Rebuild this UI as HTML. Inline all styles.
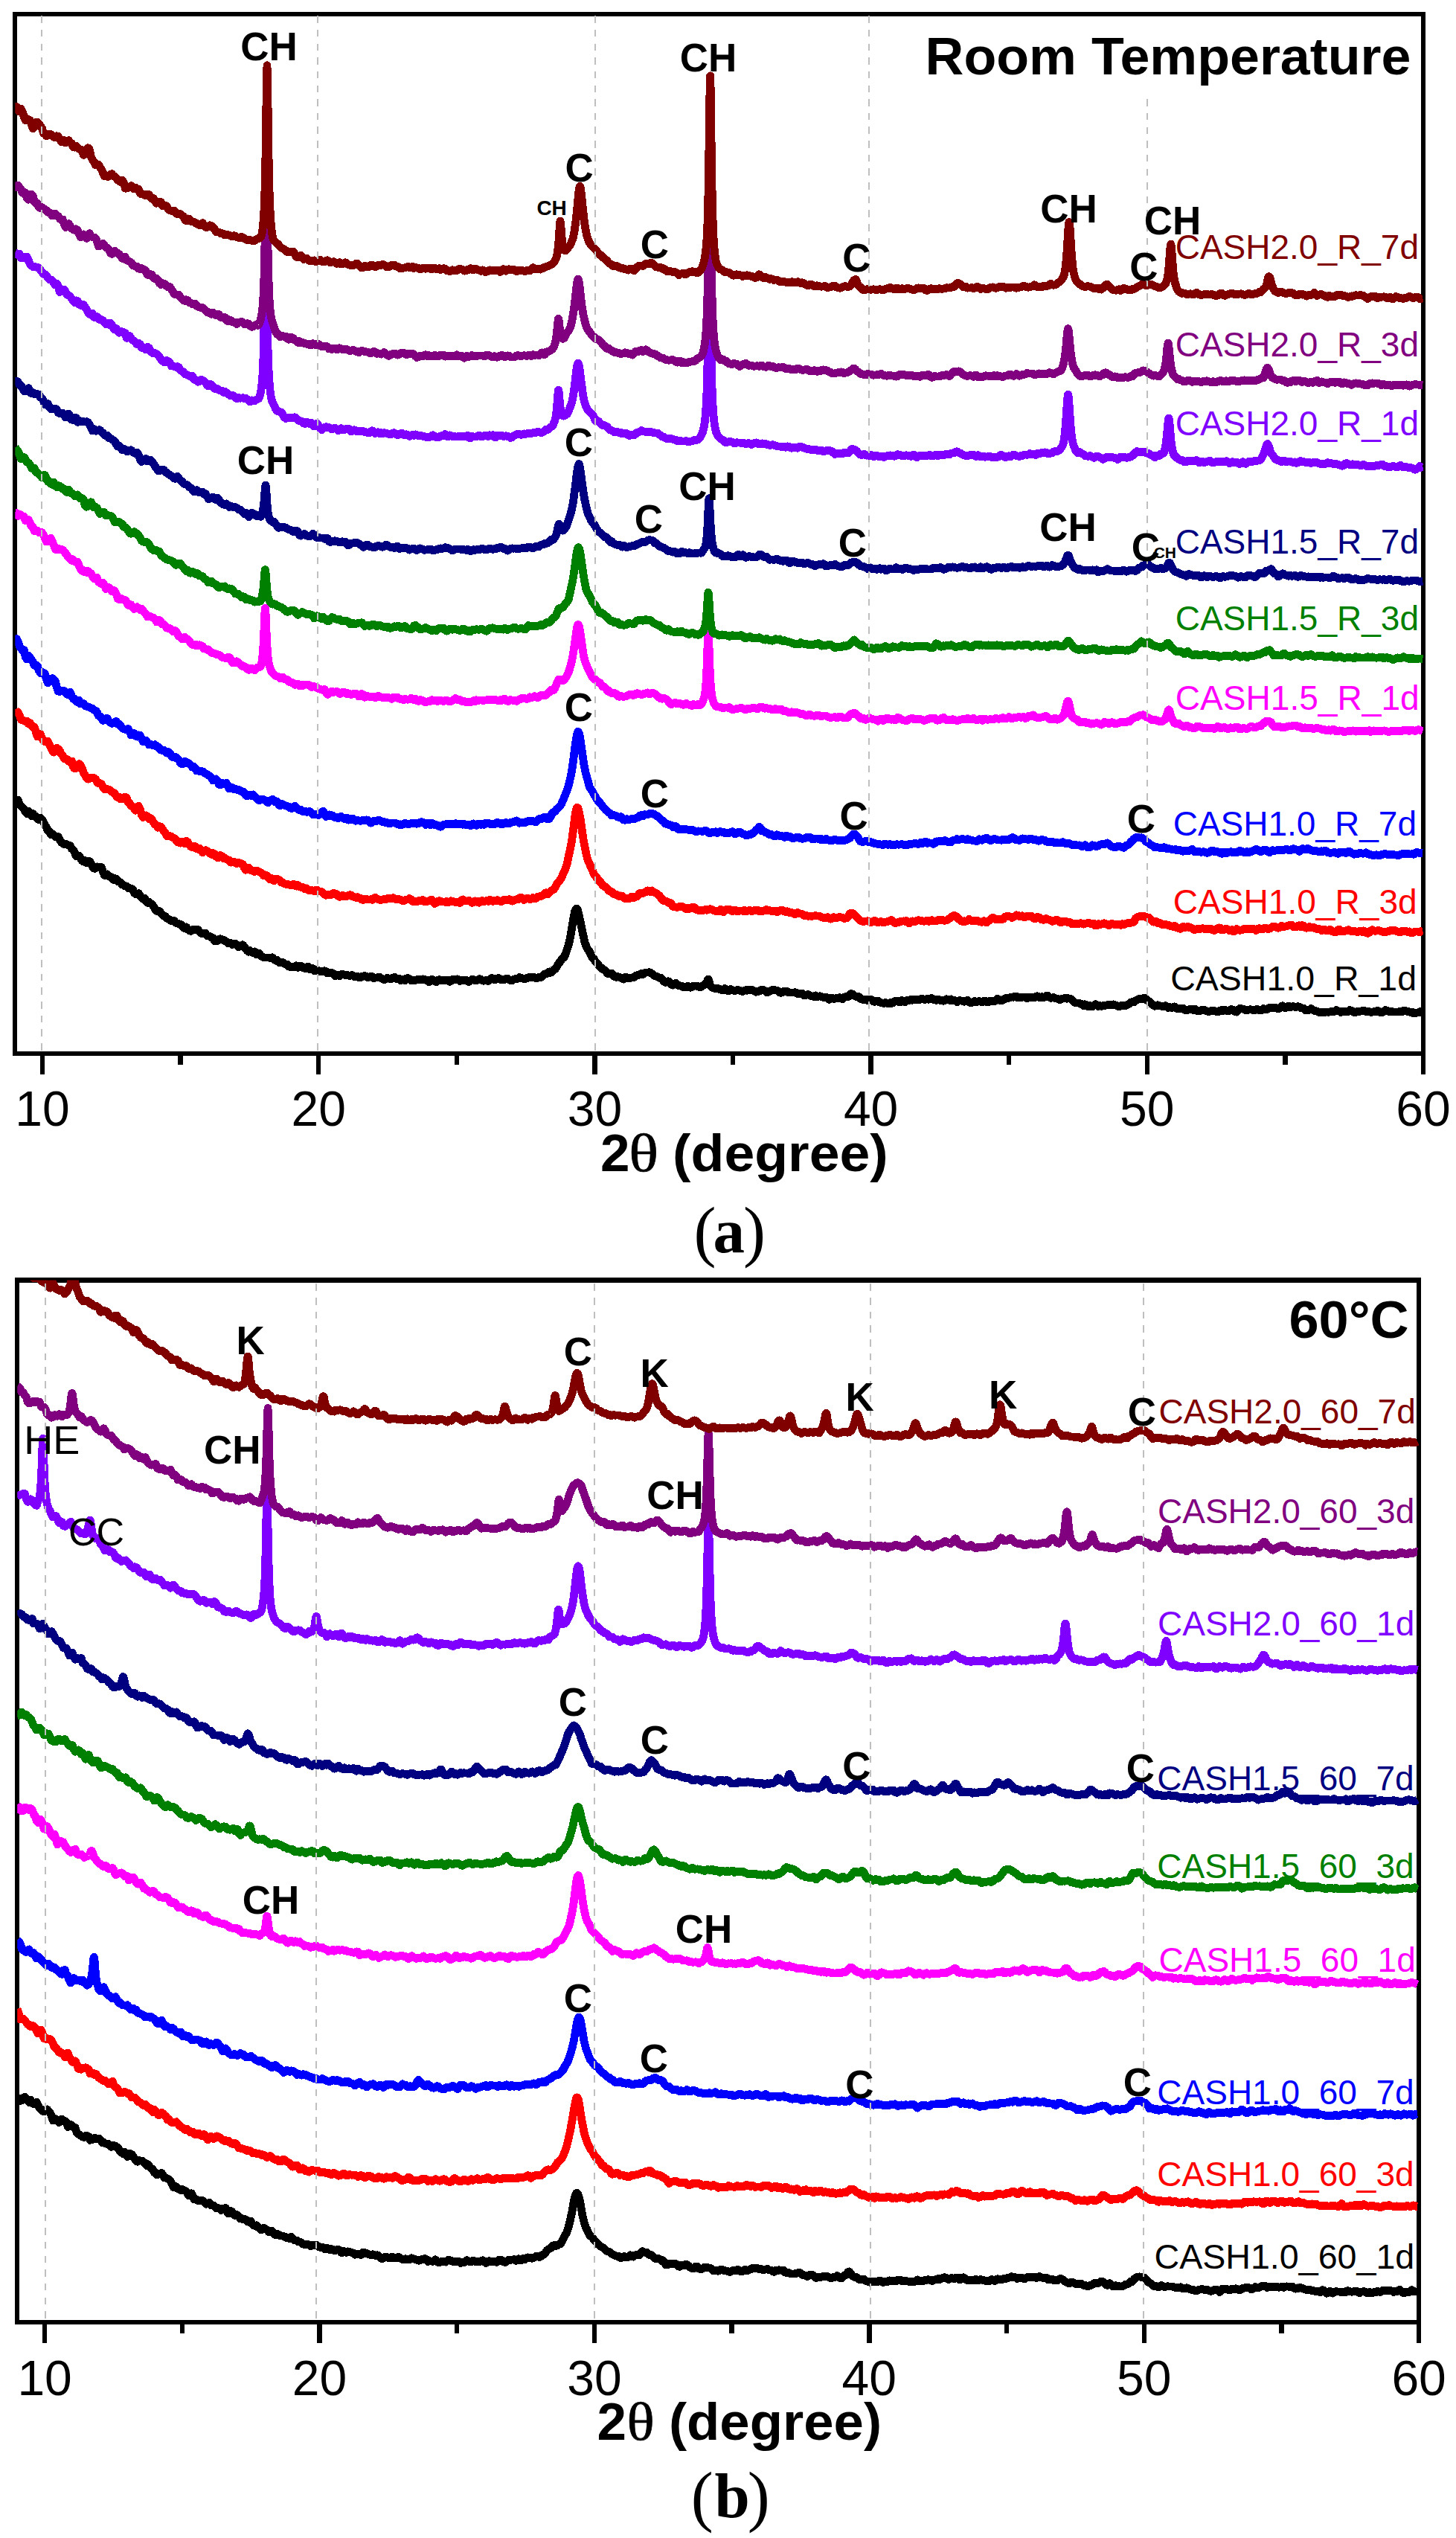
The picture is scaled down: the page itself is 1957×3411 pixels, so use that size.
<!DOCTYPE html>
<html lang="en"><head><meta charset="utf-8"><title>XRD patterns</title>
<style>
html,body{margin:0;padding:0;background:#fff;}
body{width:1957px;height:3411px;overflow:hidden;}
svg{display:block;}
text{font-family:"Liberation Sans",sans-serif;}
.b{font-weight:bold;}
.sf{font-family:"Liberation Serif",serif;}
.cv{fill:none;stroke-width:10.8;stroke-linejoin:round;stroke-linecap:butt;}
.gr{stroke:#bfbfbf;stroke-width:2;stroke-dasharray:9.5 9.16;fill:none;}
.ax{stroke:#000;stroke-width:6.4;fill:none;}
</style></head><body>
<svg width="1957" height="3411" viewBox="0 0 1957 3411" shape-rendering="crispEdges">
<rect width="1957" height="3411" fill="#fff"/>

<clipPath id="clipa"><rect x="20.3" y="19.3" width="1892.7" height="1396.7"/></clipPath>
<rect class="ax" x="20.3" y="19.3" width="1892.7" height="1396.7"/>
<g>
<text x="1579.7" y="348.0" fill="#800000" font-size="46">CASH2.0_R_7d</text>
<text x="1579.7" y="479.4" fill="#800080" font-size="46">CASH2.0_R_3d</text>
<text x="1579.7" y="584.6" fill="#8000FF" font-size="46">CASH2.0_R_1d</text>
<text x="1579.7" y="744.3" fill="#000080" font-size="46">CASH1.5_R_7d</text>
<text x="1579.7" y="847.3" fill="#008000" font-size="46">CASH1.5_R_3d</text>
<text x="1579.7" y="954.4" fill="#FF00FF" font-size="46.1">CASH1.5_R_1d</text>
<text x="1576.7" y="1122.5" fill="#0000FF" font-size="46">CASH1.0_R_7d</text>
<text x="1576.7" y="1227.5" fill="#FF0000" font-size="46.1">CASH1.0_R_3d</text>
<text x="1573.2" y="1330.5" fill="#000000" font-size="46.5">CASH1.0_R_1d</text>
</g>
<g clip-path="url(#clipa)">
<polyline class="cv" stroke="#000000" points="20.3,1075.0 22.3,1075.4 24.3,1075.3 26.3,1080.7 28.3,1083.5 30.3,1085.1 32.3,1087.7 34.3,1091.2 36.3,1093.7 38.3,1090.0 40.3,1092.2 42.3,1096.6 44.3,1093.7 46.3,1096.3 48.3,1097.4 50.3,1100.5 52.3,1101.9 54.3,1099.2 56.3,1101.3 58.3,1104.5 60.3,1108.4 62.3,1111.5 64.3,1116.5 66.3,1117.3 68.3,1121.4 70.3,1120.7 72.3,1122.3 74.3,1124.5 76.3,1125.0 78.3,1124.7 80.3,1129.0 82.3,1131.9 84.3,1133.3 86.3,1134.8 88.3,1134.0 90.3,1135.4 92.3,1136.0 94.3,1136.3 96.3,1140.9 98.3,1141.9 100.3,1145.4 102.3,1150.6 104.3,1149.7 106.3,1150.1 108.3,1153.8 110.3,1156.9 112.3,1158.0 114.3,1156.5 116.3,1159.9 118.3,1158.8 120.3,1157.5 122.3,1160.1 124.3,1165.0 126.3,1167.1 128.3,1167.2 130.3,1164.9 132.3,1165.3 134.3,1165.1 136.3,1165.7 138.3,1171.1 140.3,1176.3 142.3,1176.3 144.3,1174.9 146.3,1177.7 148.3,1177.9 150.3,1179.9 152.3,1182.2 154.3,1180.8 156.3,1181.0 158.3,1184.5 160.3,1185.0 162.3,1186.0 164.3,1189.0 166.3,1189.8 168.3,1190.9 170.3,1191.2 172.3,1193.5 174.3,1193.6 176.3,1194.3 178.3,1194.9 180.3,1200.1 182.3,1201.5 184.3,1201.6 186.3,1200.7 188.3,1203.7 190.3,1206.1 192.3,1208.5 194.3,1207.0 196.3,1210.7 198.3,1213.5 200.3,1212.2 202.3,1213.9 204.3,1215.3 206.3,1218.2 208.3,1221.5 210.3,1224.4 212.3,1224.2 214.3,1224.4 216.3,1227.2 218.3,1229.0 220.3,1231.1 222.3,1231.8 224.3,1234.4 226.3,1234.9 228.3,1236.2 230.3,1237.6 232.3,1236.9 234.3,1237.8 236.3,1240.0 238.3,1241.0 240.3,1241.8 242.3,1242.0 244.3,1243.4 246.3,1246.6 248.3,1247.9 250.3,1245.8 252.3,1249.0 254.3,1250.4 256.3,1251.4 258.3,1250.2 260.3,1249.1 262.3,1249.8 264.3,1249.4 266.3,1249.5 268.3,1252.5 270.3,1254.3 272.3,1254.5 274.3,1255.0 276.3,1254.4 278.3,1257.6 280.3,1257.8 282.3,1258.6 284.3,1259.9 286.3,1260.6 288.3,1264.7 290.3,1265.0 292.3,1264.2 294.3,1262.4 296.3,1261.8 298.3,1263.2 300.3,1263.1 302.3,1264.3 304.3,1265.7 306.3,1267.5 308.3,1267.3 310.3,1267.7 312.3,1269.5 314.3,1268.7 316.3,1268.3 318.3,1269.8 320.3,1272.6 322.3,1272.2 324.3,1271.0 326.3,1269.9 328.3,1272.0 330.3,1275.3 332.3,1277.8 334.3,1279.2 336.3,1277.8 338.3,1279.6 340.3,1280.5 342.3,1278.9 344.3,1282.7 346.3,1280.8 348.3,1281.2 350.3,1284.5 352.3,1285.6 354.3,1286.8 356.3,1287.0 358.3,1286.9 360.3,1286.9 362.3,1287.0 364.3,1288.0 366.3,1286.9 368.3,1289.0 370.3,1290.8 372.3,1290.2 374.3,1292.8 376.3,1294.1 378.3,1293.5 380.3,1293.5 382.3,1295.2 384.3,1295.8 386.3,1296.3 388.3,1299.1 390.3,1299.7 392.3,1299.4 394.3,1299.9 396.3,1299.2 398.3,1297.9 400.3,1300.4 402.3,1298.2 404.3,1298.5 406.3,1298.9 408.3,1301.0 410.3,1301.8 412.3,1300.9 414.3,1298.9 416.3,1302.6 418.3,1302.8 420.3,1301.6 422.3,1304.7 424.3,1304.6 426.3,1303.8 428.3,1305.1 430.3,1305.2 432.3,1306.0 434.3,1305.7 436.3,1304.8 438.3,1305.4 440.3,1308.0 442.3,1308.1 444.3,1307.1 446.3,1307.5 448.3,1308.7 450.3,1311.7 452.3,1311.0 454.3,1310.8 456.3,1311.8 458.3,1310.0 460.3,1309.1 462.3,1310.0 464.3,1310.8 466.3,1310.8 468.3,1310.9 470.3,1311.5 472.3,1310.8 474.3,1310.9 476.3,1312.5 478.3,1312.2 480.3,1312.3 482.3,1313.7 484.3,1313.8 486.3,1312.3 488.3,1312.1 490.3,1311.6 492.3,1312.2 494.3,1313.6 496.3,1313.2 498.3,1312.3 500.3,1312.7 502.3,1314.9 504.3,1314.0 506.3,1313.9 508.3,1313.5 510.3,1313.3 512.3,1314.5 514.3,1315.6 516.3,1316.9 518.3,1316.1 520.3,1314.4 522.3,1315.0 524.3,1315.7 526.3,1315.5 528.3,1313.9 530.3,1313.4 532.3,1315.2 534.3,1315.9 536.3,1315.3 538.3,1317.7 540.3,1317.0 542.3,1316.4 544.3,1317.5 546.3,1315.0 548.3,1314.6 550.3,1315.7 552.3,1317.6 554.3,1316.9 556.3,1317.7 558.3,1317.4 560.3,1316.6 562.3,1316.6 564.3,1316.2 566.3,1316.9 568.3,1315.9 570.3,1316.0 572.3,1317.3 574.3,1317.3 576.3,1319.5 578.3,1319.0 580.3,1316.2 582.3,1317.1 584.3,1318.1 586.3,1319.7 588.3,1317.5 590.3,1316.7 592.3,1317.2 594.3,1317.3 596.3,1316.9 598.3,1317.6 600.3,1317.1 602.3,1317.3 604.3,1319.3 606.3,1318.2 608.3,1316.4 610.3,1316.0 612.3,1316.6 614.3,1315.9 616.3,1316.4 618.3,1318.5 620.3,1317.9 622.3,1317.3 624.3,1317.7 626.3,1317.4 628.3,1318.3 630.3,1319.5 632.3,1317.9 634.3,1316.6 636.3,1316.5 638.3,1317.8 640.3,1317.7 642.3,1317.2 644.3,1315.7 646.3,1316.4 648.3,1317.6 650.3,1318.2 652.3,1317.8 654.3,1317.6 656.3,1318.5 658.3,1316.8 660.3,1314.6 662.3,1314.9 664.3,1316.5 666.3,1316.5 668.3,1314.8 670.3,1314.7 672.3,1316.2 674.3,1316.5 676.3,1316.6 678.3,1316.6 680.3,1315.6 682.3,1315.2 684.3,1316.9 686.3,1317.5 688.3,1317.7 690.3,1316.5 692.3,1315.8 694.3,1315.8 696.3,1315.0 698.3,1313.5 700.3,1314.5 702.3,1315.0 704.3,1315.5 706.3,1315.4 708.3,1314.6 710.3,1313.8 712.3,1313.2 714.3,1314.0 716.3,1313.7 718.3,1313.7 720.3,1314.8 722.3,1314.4 724.3,1313.4 726.3,1314.0 728.3,1312.8 730.3,1311.0 732.3,1309.0 734.3,1308.4 736.3,1308.2 738.3,1306.0 740.3,1307.2 742.3,1305.7 744.3,1303.3 746.3,1302.6 748.3,1299.5 750.3,1295.5 751,1294.7 752,1293.5 752.3,1293.2 753,1292.2 754,1290.6 754.3,1290.1 755,1289.4 756,1288.2 756.3,1287.8 757,1287.4 758,1286.9 758.3,1286.6 759,1284.9 760,1282.2 760.3,1281.3 761,1279.3 762,1276.3 762.3,1275.3 763,1273.4 764,1270.4 764.3,1269.5 765,1266.7 766,1262.3 766.3,1260.9 767,1257.2 768,1251.4 768.3,1249.6 769,1245.3 770,1239.0 770.3,1237.1 771,1233.1 772,1227.6 772.3,1226.1 773,1223.8 774,1221.8 774.3,1221.6 775,1221.0 776,1221.8 776.3,1222.5 777,1224.6 778,1228.9 778.3,1230.4 779,1233.6 780,1238.5 780.3,1239.9 781,1243.2 782,1247.7 782.3,1249.0 783,1252.6 784,1257.4 784.3,1258.7 785,1262.0 786,1266.3 786.3,1267.5 787,1269.3 788,1271.6 788.3,1272.2 789,1273.9 790,1276.0 790.3,1276.6 791,1277.4 792,1278.4 792.3,1278.7 793,1280.4 794,1282.6 794.3,1283.3 795,1284.8 796,1286.8 796.3,1287.4 797,1287.9 798,1288.5 798.3,1288.7 799,1290.1 800.3,1292.6 802.3,1294.2 804.3,1296.4 806.3,1299.6 808.3,1300.8 810.3,1302.8 812.3,1303.6 814.3,1305.5 816.3,1308.0 818.3,1309.0 820.3,1308.2 822.3,1308.2 824.3,1311.7 826.3,1312.4 828.3,1313.3 830.3,1312.7 832.3,1313.2 834.3,1314.3 836.3,1315.1 838.3,1316.0 840.3,1313.5 842.3,1313.7 844.3,1314.6 846.3,1314.6 848.3,1314.0 850.3,1313.7 852.3,1313.5 854.3,1311.6 856.3,1310.6 858.3,1310.3 860.3,1309.8 862.3,1308.4 864.3,1309.6 866.3,1308.0 868.3,1307.0 870.3,1307.1 872.3,1306.7 874.3,1307.1 876.3,1308.7 878.3,1310.6 880.3,1311.9 882.3,1312.1 884.3,1313.3 886.3,1314.4 888.3,1314.1 890.3,1316.2 892.3,1319.0 894.3,1320.4 896.3,1319.4 898.3,1318.8 900.3,1320.3 902.3,1323.1 904.3,1324.1 906.3,1322.4 908.3,1321.3 910.3,1323.3 912.3,1324.7 914.3,1324.9 916.3,1325.4 918.3,1326.6 920.3,1326.1 922.3,1326.8 924.3,1325.4 926.3,1326.6 928.3,1327.2 930.3,1326.4 932.3,1325.1 934.3,1325.1 936.3,1324.9 937,1325.3 937.5,1325.5 938,1325.7 938.3,1325.9 938.5,1326.0 939,1326.2 939.5,1326.4 940,1326.6 940.3,1326.7 940.5,1326.7 941,1326.6 941.5,1326.6 942,1326.6 942.3,1326.5 942.5,1326.4 943,1326.0 943.5,1325.5 944,1325.1 944.3,1324.8 944.5,1324.8 945,1324.6 945.5,1324.4 946,1324.2 946.3,1324.0 946.5,1323.9 947,1323.6 947.5,1323.2 948,1322.7 948.3,1322.3 948.5,1322.2 949,1321.8 949.5,1321.3 950,1320.4 950.3,1319.7 950.5,1319.2 951,1317.7 951.5,1316.5 952,1316.1 952.3,1316.4 952.5,1316.9 953,1318.7 953.5,1320.7 954,1322.5 954.3,1323.5 954.5,1323.9 955,1324.8 955.5,1325.5 956,1326.0 956.3,1326.2 956.5,1326.5 957,1326.9 957.5,1327.3 958,1327.6 958.3,1327.8 958.5,1327.9 959,1328.0 959.5,1328.0 960,1328.1 960.3,1328.1 960.5,1328.2 961,1328.4 961.5,1328.5 962,1328.7 962.3,1328.7 962.5,1328.8 963,1328.8 963.5,1328.8 964,1328.9 964.3,1328.9 964.5,1328.9 965,1328.9 965.5,1328.9 966,1328.8 966.3,1328.8 966.5,1329.0 967,1329.3 968.3,1330.2 970.3,1330.1 972.3,1330.8 974.3,1328.6 976.3,1329.9 978.3,1331.7 980.3,1331.4 982.3,1329.6 984.3,1330.8 986.3,1331.4 988.3,1331.4 990.3,1330.7 992.3,1330.5 994.3,1331.4 996.3,1332.1 998.3,1332.4 1000.3,1331.3 1002.3,1330.8 1004.3,1331.2 1006.3,1330.1 1008.3,1330.1 1010.3,1330.4 1012.3,1331.1 1014.3,1332.1 1016.3,1333.2 1018.3,1332.7 1020.3,1332.2 1022.3,1330.9 1024.3,1330.2 1026.3,1330.7 1028.3,1331.5 1030.3,1333.7 1032.3,1333.5 1034.3,1332.5 1036.3,1331.3 1038.3,1330.3 1040.3,1330.8 1042.3,1330.9 1044.3,1331.1 1046.3,1332.5 1048.3,1334.2 1050.3,1334.2 1052.3,1332.7 1054.3,1332.6 1056.3,1332.7 1058.3,1332.7 1060.3,1334.0 1062.3,1334.1 1064.3,1333.9 1066.3,1334.1 1068.3,1333.7 1070.3,1334.4 1072.3,1335.8 1074.3,1336.0 1076.3,1335.2 1078.3,1335.1 1080.3,1337.8 1082.3,1337.6 1084.3,1337.2 1086.3,1336.5 1088.3,1337.7 1090.3,1338.6 1092.3,1339.1 1094.3,1339.3 1096.3,1337.9 1098.3,1339.5 1100.3,1339.0 1102.3,1338.8 1104.3,1339.6 1106.3,1340.4 1108.3,1340.3 1110.3,1340.0 1112.3,1341.4 1114.3,1343.3 1116.3,1342.0 1118.3,1341.1 1120.3,1342.3 1122.3,1342.2 1124.3,1341.2 1126.3,1341.8 1128.3,1340.7 1130.3,1342.0 1132.3,1342.7 1134.3,1340.4 1136.3,1339.7 1138.3,1339.3 1140.3,1339.4 1142.3,1336.6 1144.3,1335.5 1146.3,1336.2 1148.3,1338.2 1150.3,1339.3 1152.3,1339.0 1154.3,1339.5 1156.3,1342.2 1158.3,1343.0 1160.3,1343.4 1162.3,1343.1 1164.3,1343.8 1166.3,1344.7 1168.3,1343.2 1170.3,1343.5 1172.3,1344.0 1174.3,1346.2 1176.3,1346.2 1178.3,1345.1 1180.3,1345.1 1182.3,1347.0 1184.3,1347.8 1186.3,1348.1 1188.3,1348.5 1190.3,1347.5 1192.3,1348.4 1194.3,1349.0 1196.3,1347.6 1198.3,1348.2 1200.3,1348.1 1202.3,1345.7 1204.3,1345.2 1206.3,1345.0 1208.3,1346.5 1210.3,1346.9 1212.3,1344.6 1214.3,1345.3 1216.3,1346.8 1218.3,1344.8 1220.3,1344.6 1222.3,1344.4 1224.3,1343.4 1226.3,1344.2 1228.3,1343.9 1230.3,1343.1 1232.3,1343.1 1234.3,1344.1 1236.3,1343.3 1238.3,1342.2 1240.3,1342.5 1242.3,1343.3 1244.3,1343.2 1246.3,1342.3 1248.3,1343.2 1250.3,1342.0 1252.3,1341.6 1254.3,1342.7 1256.3,1344.0 1258.3,1344.3 1260.3,1343.0 1262.3,1343.6 1264.3,1344.8 1266.3,1344.6 1268.3,1345.2 1270.3,1344.5 1272.3,1342.8 1274.3,1343.5 1276.3,1344.4 1278.3,1343.0 1280.3,1344.7 1282.3,1344.7 1284.3,1344.8 1286.3,1346.6 1288.3,1345.0 1290.3,1344.6 1292.3,1345.0 1294.3,1345.6 1296.3,1346.2 1298.3,1345.8 1300.3,1344.3 1302.3,1346.7 1304.3,1347.6 1306.3,1347.5 1308.3,1346.6 1310.3,1345.5 1312.3,1346.7 1314.3,1345.9 1316.3,1345.5 1318.3,1346.4 1320.3,1346.7 1322.3,1345.4 1324.3,1345.2 1326.3,1346.7 1328.3,1346.7 1330.3,1345.5 1332.3,1345.3 1334.3,1345.6 1336.3,1346.1 1338.3,1344.6 1340.3,1342.4 1342.3,1342.8 1344.3,1344.7 1346.3,1344.9 1348.3,1344.1 1350.3,1342.2 1352.3,1341.3 1354.3,1341.7 1356.3,1341.0 1358.3,1340.3 1360.3,1340.0 1362.3,1340.2 1364.3,1339.1 1366.3,1339.4 1368.3,1341.0 1370.3,1340.2 1372.3,1340.5 1374.3,1340.2 1376.3,1340.0 1378.3,1340.4 1380.3,1341.7 1382.3,1340.7 1384.3,1340.3 1386.3,1340.3 1388.3,1340.2 1390.3,1341.0 1392.3,1339.5 1394.3,1338.8 1396.3,1340.3 1398.3,1340.6 1400.3,1339.7 1402.3,1340.2 1404.3,1340.2 1406.3,1338.5 1408.3,1338.4 1410.3,1340.4 1412.3,1341.2 1414.3,1341.1 1416.3,1340.4 1418.3,1341.9 1420.3,1342.0 1422.3,1342.7 1424.3,1343.7 1426.3,1342.7 1428.3,1342.1 1430.3,1341.8 1432.3,1341.4 1434.3,1342.2 1436.3,1341.8 1438.3,1342.1 1440.3,1343.0 1442.3,1345.6 1444.3,1346.9 1446.3,1348.1 1448.3,1348.0 1450.3,1348.3 1452.3,1348.8 1454.3,1350.0 1456.3,1351.5 1458.3,1349.7 1460.3,1352.0 1462.3,1352.7 1464.3,1351.4 1466.3,1351.9 1468.3,1352.9 1470.3,1351.4 1472.3,1349.7 1474.3,1350.9 1476.3,1352.4 1478.3,1351.6 1480.3,1352.3 1482.3,1351.8 1484.3,1351.9 1486.3,1351.2 1488.3,1350.7 1490.3,1350.5 1492.3,1349.9 1494.3,1350.8 1496.3,1349.9 1498.3,1350.7 1500.3,1351.0 1502.3,1352.1 1504.3,1352.9 1506.3,1351.7 1508.3,1351.1 1510.3,1351.4 1512.3,1351.5 1514.3,1351.1 1516.3,1349.7 1518.3,1349.1 1520.3,1346.9 1522.3,1346.4 1524.3,1346.9 1526.3,1345.0 1528.3,1343.7 1530.3,1342.7 1532.3,1342.4 1534.3,1343.0 1536.3,1341.7 1538.3,1341.0 1540.3,1342.8 1542.3,1344.8 1544.3,1345.7 1546.3,1347.3 1548.3,1349.8 1550.3,1351.0 1552.3,1352.2 1554.3,1351.7 1556.3,1350.8 1558.3,1351.7 1560.3,1352.0 1562.3,1352.5 1564.3,1352.9 1566.3,1351.7 1568.3,1353.0 1570.3,1354.5 1572.3,1353.5 1574.3,1354.4 1576.3,1354.2 1578.3,1352.9 1580.3,1353.9 1582.3,1355.8 1584.3,1355.2 1586.3,1355.5 1588.3,1355.5 1590.3,1355.4 1592.3,1357.3 1594.3,1358.0 1596.3,1357.5 1598.3,1356.7 1600.3,1356.2 1602.3,1356.6 1604.3,1357.5 1606.3,1356.4 1608.3,1358.2 1610.3,1358.7 1612.3,1358.5 1614.3,1358.0 1616.3,1357.1 1618.3,1357.1 1620.3,1358.0 1622.3,1358.9 1624.3,1359.5 1626.3,1359.0 1628.3,1358.6 1630.3,1358.0 1632.3,1358.7 1634.3,1359.1 1636.3,1359.8 1638.3,1359.3 1640.3,1357.9 1642.3,1357.4 1644.3,1358.6 1646.3,1357.5 1648.3,1357.9 1650.3,1358.9 1652.3,1358.5 1654.3,1356.7 1656.3,1356.8 1658.3,1358.5 1660.3,1359.5 1662.3,1360.1 1664.3,1357.1 1666.3,1355.4 1668.3,1355.7 1670.3,1356.0 1672.3,1356.7 1674.3,1357.7 1676.3,1357.7 1678.3,1357.0 1680.3,1356.7 1682.3,1357.1 1684.3,1357.1 1686.3,1357.6 1688.3,1356.8 1690.3,1356.5 1692.3,1357.8 1694.3,1358.0 1696.3,1357.4 1698.3,1355.6 1700.3,1356.5 1702.3,1357.1 1704.3,1355.6 1706.3,1354.3 1708.3,1354.4 1710.3,1355.0 1712.3,1354.4 1714.3,1354.4 1716.3,1355.2 1718.3,1356.0 1720.3,1355.0 1722.3,1352.3 1724.3,1351.8 1726.3,1354.4 1728.3,1354.6 1730.3,1352.9 1732.3,1352.1 1734.3,1353.8 1736.3,1353.0 1738.3,1352.5 1740.3,1353.4 1742.3,1353.6 1744.3,1352.6 1746.3,1353.1 1748.3,1354.5 1750.3,1354.9 1752.3,1354.9 1754.3,1357.7 1756.3,1358.0 1758.3,1357.6 1760.3,1356.8 1762.3,1355.5 1764.3,1357.1 1766.3,1358.3 1768.3,1358.5 1770.3,1359.1 1772.3,1360.0 1774.3,1361.1 1776.3,1360.8 1778.3,1359.9 1780.3,1360.6 1782.3,1360.0 1784.3,1360.1 1786.3,1360.2 1788.3,1359.8 1790.3,1359.5 1792.3,1359.9 1794.3,1359.2 1796.3,1357.5 1798.3,1358.5 1800.3,1359.1 1802.3,1360.5 1804.3,1359.8 1806.3,1359.1 1808.3,1359.7 1810.3,1360.0 1812.3,1359.3 1814.3,1357.5 1816.3,1358.3 1818.3,1359.0 1820.3,1360.7 1822.3,1360.4 1824.3,1359.5 1826.3,1359.3 1828.3,1359.2 1830.3,1358.7 1832.3,1358.3 1834.3,1358.5 1836.3,1359.9 1838.3,1359.0 1840.3,1359.7 1842.3,1360.4 1844.3,1360.1 1846.3,1359.7 1848.3,1359.7 1850.3,1358.8 1852.3,1358.7 1854.3,1360.3 1856.3,1360.5 1858.3,1360.6 1860.3,1359.2 1862.3,1357.6 1864.3,1358.2 1866.3,1359.1 1868.3,1360.0 1870.3,1359.3 1872.3,1360.0 1874.3,1360.0 1876.3,1360.0 1878.3,1360.1 1880.3,1359.9 1882.3,1359.2 1884.3,1359.8 1886.3,1358.2 1888.3,1358.4 1890.3,1358.9 1892.3,1359.8 1894.3,1359.8 1896.3,1360.7 1898.3,1360.2 1900.3,1362.0 1902.3,1361.6 1904.3,1361.0 1906.3,1360.7 1908.3,1360.3 1910.3,1358.9 1912.3,1358.5"/>
<polyline class="cv" stroke="#FF0000" points="20.3,953.4 22.3,957.1 24.3,957.2 26.3,961.6 28.3,967.0 30.3,968.0 32.3,968.7 34.3,969.7 36.3,969.3 38.3,972.8 40.3,971.7 42.3,974.7 44.3,977.2 46.3,977.3 48.3,983.9 50.3,990.1 52.3,987.8 54.3,986.7 56.3,991.5 58.3,995.4 60.3,996.5 62.3,996.4 64.3,996.1 66.3,1000.9 68.3,1005.0 70.3,1008.9 72.3,1011.0 74.3,1009.5 76.3,1005.4 78.3,1006.5 80.3,1009.1 82.3,1013.3 84.3,1015.1 86.3,1019.8 88.3,1020.1 90.3,1020.8 92.3,1023.3 94.3,1022.9 96.3,1022.9 98.3,1030.4 100.3,1032.9 102.3,1032.4 104.3,1028.4 106.3,1026.6 108.3,1028.6 110.3,1032.7 112.3,1038.4 114.3,1041.6 116.3,1045.2 118.3,1047.1 120.3,1046.1 122.3,1045.6 124.3,1045.5 126.3,1045.7 128.3,1046.8 130.3,1050.9 132.3,1052.9 134.3,1052.7 136.3,1053.6 138.3,1058.0 140.3,1060.7 142.3,1060.7 144.3,1060.8 146.3,1061.0 148.3,1062.3 150.3,1064.1 152.3,1065.0 154.3,1066.3 156.3,1069.8 158.3,1071.8 160.3,1071.2 162.3,1074.1 164.3,1074.0 166.3,1073.2 168.3,1071.0 170.3,1072.6 172.3,1078.6 174.3,1079.8 176.3,1083.0 178.3,1084.4 180.3,1086.6 182.3,1089.2 184.3,1087.0 186.3,1083.2 188.3,1087.2 190.3,1095.1 192.3,1098.6 194.3,1096.8 196.3,1095.9 198.3,1097.4 200.3,1100.5 202.3,1099.6 204.3,1101.5 206.3,1105.4 208.3,1107.9 210.3,1109.5 212.3,1112.2 214.3,1110.6 216.3,1111.3 218.3,1114.5 220.3,1117.0 222.3,1119.7 224.3,1123.5 226.3,1122.9 228.3,1123.7 230.3,1124.3 232.3,1125.6 234.3,1126.6 236.3,1128.5 238.3,1131.6 240.3,1131.6 242.3,1133.0 244.3,1131.3 246.3,1132.0 248.3,1133.9 250.3,1130.3 252.3,1131.5 254.3,1135.3 256.3,1137.8 258.3,1138.5 260.3,1137.4 262.3,1137.5 264.3,1140.8 266.3,1141.3 268.3,1140.2 270.3,1142.9 272.3,1145.8 274.3,1144.4 276.3,1142.7 278.3,1143.8 280.3,1145.3 282.3,1147.3 284.3,1148.3 286.3,1146.5 288.3,1147.5 290.3,1150.8 292.3,1152.5 294.3,1152.4 296.3,1149.6 298.3,1150.6 300.3,1153.6 302.3,1153.1 304.3,1154.7 306.3,1155.6 308.3,1156.3 310.3,1159.1 312.3,1158.5 314.3,1158.2 316.3,1159.6 318.3,1160.5 320.3,1159.3 322.3,1160.2 324.3,1160.5 326.3,1161.5 328.3,1166.4 330.3,1169.2 332.3,1168.6 334.3,1166.1 336.3,1168.6 338.3,1170.1 340.3,1170.1 342.3,1171.5 344.3,1170.4 346.3,1170.5 348.3,1171.9 350.3,1172.8 352.3,1174.3 354.3,1176.8 356.3,1175.8 358.3,1176.5 360.3,1178.4 362.3,1181.7 364.3,1180.2 366.3,1182.0 368.3,1183.7 370.3,1181.3 372.3,1181.2 374.3,1182.3 376.3,1183.2 378.3,1186.1 380.3,1186.3 382.3,1187.8 384.3,1188.2 386.3,1188.2 388.3,1189.2 390.3,1189.1 392.3,1189.8 394.3,1188.2 396.3,1189.4 398.3,1191.1 400.3,1189.7 402.3,1191.8 404.3,1192.2 406.3,1192.0 408.3,1193.1 410.3,1195.0 412.3,1194.0 414.3,1196.3 416.3,1196.9 418.3,1196.3 420.3,1196.9 422.3,1197.8 424.3,1196.5 426.3,1196.1 428.3,1198.1 430.3,1198.0 432.3,1198.7 434.3,1200.0 436.3,1201.9 438.3,1203.2 440.3,1202.1 442.3,1201.9 444.3,1202.7 446.3,1202.0 448.3,1200.2 450.3,1200.9 452.3,1201.6 454.3,1203.9 456.3,1205.3 458.3,1204.1 460.3,1203.2 462.3,1204.6 464.3,1204.0 466.3,1204.4 468.3,1203.5 470.3,1202.7 472.3,1203.3 474.3,1205.1 476.3,1205.6 478.3,1206.4 480.3,1205.7 482.3,1207.0 484.3,1207.4 486.3,1209.2 488.3,1209.3 490.3,1208.3 492.3,1208.4 494.3,1209.0 496.3,1209.0 498.3,1208.8 500.3,1209.4 502.3,1207.6 504.3,1206.3 506.3,1208.0 508.3,1208.7 510.3,1209.4 512.3,1209.4 514.3,1208.9 516.3,1208.8 518.3,1208.8 520.3,1207.9 522.3,1207.2 524.3,1207.8 526.3,1208.1 528.3,1206.8 530.3,1208.0 532.3,1208.5 534.3,1209.0 536.3,1208.7 538.3,1209.2 540.3,1209.8 542.3,1210.9 544.3,1209.6 546.3,1209.1 548.3,1208.8 550.3,1207.5 552.3,1208.6 554.3,1211.4 556.3,1211.5 558.3,1211.1 560.3,1211.7 562.3,1210.8 564.3,1210.5 566.3,1210.2 568.3,1209.6 570.3,1211.6 572.3,1211.5 574.3,1211.3 576.3,1210.8 578.3,1209.9 580.3,1209.1 582.3,1211.8 584.3,1214.4 586.3,1213.4 588.3,1211.4 590.3,1210.7 592.3,1211.4 594.3,1212.0 596.3,1212.0 598.3,1212.3 600.3,1211.5 602.3,1212.6 604.3,1211.8 606.3,1210.8 608.3,1211.2 610.3,1212.0 612.3,1212.6 614.3,1212.2 616.3,1212.9 618.3,1213.4 620.3,1209.8 622.3,1208.9 624.3,1211.0 626.3,1211.0 628.3,1211.0 630.3,1210.3 632.3,1211.7 634.3,1213.3 636.3,1213.0 638.3,1210.9 640.3,1211.4 642.3,1212.9 644.3,1213.2 646.3,1210.9 648.3,1210.6 650.3,1212.0 652.3,1211.1 654.3,1210.5 656.3,1211.3 658.3,1209.4 660.3,1209.8 662.3,1211.3 664.3,1210.6 666.3,1210.6 668.3,1209.6 670.3,1210.8 672.3,1211.2 674.3,1211.5 676.3,1209.9 678.3,1209.3 680.3,1209.8 682.3,1210.1 684.3,1208.7 686.3,1209.1 688.3,1211.1 690.3,1210.4 692.3,1209.5 694.3,1208.6 696.3,1208.7 698.3,1207.0 700.3,1206.2 702.3,1207.3 704.3,1209.4 706.3,1208.5 708.3,1207.1 710.3,1207.5 712.3,1208.5 714.3,1208.3 716.3,1206.5 718.3,1207.7 720.3,1207.5 722.3,1205.5 724.3,1204.9 726.3,1205.0 728.3,1203.9 730.3,1202.8 732.3,1200.6 734.3,1199.8 736.3,1201.9 738.3,1199.8 740.3,1197.6 742.3,1196.4 744.3,1195.2 746.3,1192.4 748.3,1188.3 750.3,1185.9 752,1183.9 752.3,1183.5 753,1182.5 754,1180.9 754.3,1180.4 755,1178.8 756,1176.4 756.3,1175.6 757,1174.3 758,1172.3 758.3,1171.7 759,1170.1 760,1167.7 760.3,1167.0 761,1164.8 762,1161.4 762.3,1160.3 763,1157.0 764,1151.8 764.3,1150.1 765,1147.4 766,1143.1 766.3,1141.7 767,1138.3 768,1132.8 768.3,1131.0 769,1126.3 770,1119.2 770.3,1116.9 771,1111.4 772,1103.5 772.3,1101.2 773,1096.2 774,1090.1 774.3,1088.6 775,1086.4 776,1085.3 776.3,1085.5 777,1086.4 778,1089.7 778.3,1091.1 779,1094.4 780,1100.2 780.3,1102.1 781,1106.9 782,1113.8 782.3,1115.8 783,1120.9 784,1127.7 784.3,1129.6 785,1133.4 786,1138.3 786.3,1139.6 787,1143.2 788,1147.8 788.3,1149.1 789,1151.9 790,1155.6 790.3,1156.7 791,1158.3 792,1160.4 792.3,1161.0 793,1162.5 794,1164.5 794.3,1165.1 795,1166.7 796,1169.0 796.3,1169.6 797,1171.3 798,1173.8 798.3,1174.5 799,1175.6 800,1177.2 800.3,1177.6 802.3,1179.8 804.3,1182.6 806.3,1184.8 808.3,1186.9 810.3,1190.0 812.3,1191.5 814.3,1192.4 816.3,1194.1 818.3,1197.3 820.3,1197.9 822.3,1198.6 824.3,1200.9 826.3,1202.2 828.3,1201.9 830.3,1203.9 832.3,1204.8 834.3,1203.9 836.3,1204.2 838.3,1206.1 840.3,1207.9 842.3,1207.2 844.3,1207.7 846.3,1207.4 848.3,1205.4 850.3,1206.2 852.3,1206.4 854.3,1205.1 856.3,1204.8 858.3,1202.2 860.3,1200.3 862.3,1200.5 864.3,1200.6 866.3,1199.5 868.3,1198.9 870.3,1196.9 872.3,1197.6 874.3,1198.8 876.3,1197.0 878.3,1198.8 880.3,1199.7 882.3,1200.8 884.3,1202.3 886.3,1203.5 888.3,1206.8 890.3,1208.9 892.3,1210.8 894.3,1211.1 896.3,1211.7 898.3,1213.3 900.3,1213.0 902.3,1214.7 904.3,1218.3 906.3,1218.9 908.3,1218.9 910.3,1219.4 912.3,1218.8 914.3,1218.9 916.3,1218.3 918.3,1218.9 920.3,1220.3 922.3,1221.5 924.3,1220.6 926.3,1221.5 928.3,1220.8 930.3,1219.1 932.3,1218.9 934.3,1220.9 936.3,1222.7 938.3,1223.2 940.3,1224.1 942.3,1223.6 944.3,1223.9 946.3,1223.0 948.3,1222.3 950.3,1223.2 952.3,1222.3 954.3,1221.6 956.3,1222.4 958.3,1223.1 960.3,1223.9 962.3,1224.6 964.3,1224.9 966.3,1224.8 968.3,1222.3 970.3,1223.7 972.3,1225.8 974.3,1223.6 976.3,1222.1 978.3,1222.3 980.3,1222.4 982.3,1223.5 984.3,1224.8 986.3,1223.0 988.3,1223.2 990.3,1224.9 992.3,1224.6 994.3,1223.9 996.3,1223.9 998.3,1224.3 1000.3,1223.4 1002.3,1224.5 1004.3,1224.3 1006.3,1223.6 1008.3,1223.7 1010.3,1224.6 1012.3,1224.2 1014.3,1223.5 1016.3,1223.3 1018.3,1222.9 1020.3,1224.6 1022.3,1225.1 1024.3,1224.8 1026.3,1224.1 1028.3,1223.6 1030.3,1222.5 1032.3,1223.1 1034.3,1223.8 1036.3,1224.1 1038.3,1224.8 1040.3,1224.1 1042.3,1224.3 1044.3,1225.6 1046.3,1225.0 1048.3,1223.9 1050.3,1223.0 1052.3,1223.5 1054.3,1225.1 1056.3,1225.6 1058.3,1224.8 1060.3,1226.1 1062.3,1227.0 1064.3,1226.7 1066.3,1227.7 1068.3,1228.8 1070.3,1227.2 1072.3,1226.6 1074.3,1227.6 1076.3,1228.0 1078.3,1228.7 1080.3,1230.2 1082.3,1230.5 1084.3,1230.6 1086.3,1231.3 1088.3,1231.0 1090.3,1231.3 1092.3,1231.2 1094.3,1230.9 1096.3,1230.6 1098.3,1231.1 1100.3,1230.9 1102.3,1231.7 1104.3,1232.6 1106.3,1233.4 1108.3,1233.2 1110.3,1233.5 1112.3,1232.6 1114.3,1233.6 1116.3,1235.1 1118.3,1234.2 1120.3,1232.7 1122.3,1233.7 1124.3,1233.9 1126.3,1233.1 1128.3,1232.4 1130.3,1232.8 1132.3,1233.1 1134.3,1234.3 1136.3,1234.2 1138.3,1233.7 1140.3,1231.7 1142.3,1227.6 1144.3,1227.0 1146.3,1227.8 1148.3,1229.2 1150.3,1231.3 1152.3,1233.4 1154.3,1235.4 1156.3,1236.9 1158.3,1238.2 1160.3,1238.3 1162.3,1238.2 1164.3,1238.0 1166.3,1237.8 1168.3,1238.6 1170.3,1239.5 1172.3,1239.0 1174.3,1237.6 1176.3,1237.5 1178.3,1239.3 1180.3,1239.7 1182.3,1239.2 1184.3,1238.6 1186.3,1239.6 1188.3,1239.8 1190.3,1239.0 1192.3,1238.9 1194.3,1237.9 1196.3,1237.6 1198.3,1236.5 1200.3,1238.0 1202.3,1240.4 1204.3,1240.1 1206.3,1240.1 1208.3,1239.1 1210.3,1238.5 1212.3,1238.1 1214.3,1237.9 1216.3,1238.2 1218.3,1237.5 1220.3,1238.8 1222.3,1241.0 1224.3,1239.2 1226.3,1237.9 1228.3,1238.8 1230.3,1238.5 1232.3,1237.4 1234.3,1236.7 1236.3,1237.1 1238.3,1237.3 1240.3,1237.9 1242.3,1238.2 1244.3,1237.9 1246.3,1237.2 1248.3,1238.3 1250.3,1237.8 1252.3,1236.7 1254.3,1237.7 1256.3,1238.0 1258.3,1237.8 1259.5,1237.1 1260.3,1236.6 1260.5,1236.6 1261.5,1236.7 1262.3,1236.8 1262.5,1236.8 1263.5,1236.7 1264.3,1236.7 1264.5,1236.6 1265.5,1236.5 1266.3,1236.4 1266.5,1236.5 1267.5,1236.8 1268.3,1237.1 1268.5,1237.1 1269.5,1237.2 1270.3,1237.2 1270.5,1237.2 1271.5,1237.0 1272.3,1236.9 1272.5,1236.8 1273.5,1236.1 1274.3,1235.5 1274.5,1235.4 1275.5,1234.7 1276.3,1234.2 1276.5,1234.1 1277.5,1233.5 1278.3,1233.0 1278.5,1232.8 1279.5,1231.9 1280.3,1231.1 1280.5,1231.1 1281.5,1230.7 1282.3,1230.5 1282.5,1230.5 1283.5,1230.6 1284.3,1231.0 1284.5,1231.1 1285.5,1231.9 1286.3,1232.9 1286.5,1233.1 1287.5,1234.1 1288.3,1234.9 1288.5,1235.1 1289.5,1236.0 1290.3,1236.6 1290.5,1236.8 1291.5,1237.5 1292.3,1238.0 1292.5,1238.1 1293.5,1238.4 1294.3,1238.6 1294.5,1238.6 1295.5,1238.2 1296.3,1237.8 1296.5,1237.9 1297.5,1238.0 1298.3,1238.2 1298.5,1238.1 1299.5,1237.7 1300.3,1237.4 1300.5,1237.2 1301.5,1236.2 1302.3,1235.4 1302.5,1235.5 1303.5,1236.3 1304.3,1236.8 1304.5,1236.9 1305.5,1237.4 1306.3,1237.8 1306.5,1237.8 1307.5,1237.9 1308.3,1237.9 1308.5,1237.8 1309.5,1237.5 1310.3,1237.2 1312.3,1237.0 1314.3,1237.7 1316.3,1238.8 1318.3,1239.1 1320.3,1239.2 1322.3,1237.8 1324.3,1239.3 1326.3,1239.7 1328.3,1237.6 1330.3,1236.9 1332.3,1234.9 1334.3,1233.4 1336.3,1234.4 1338.3,1235.9 1340.3,1235.9 1342.3,1235.3 1344.3,1235.4 1346.3,1235.5 1348.3,1235.3 1350.3,1232.5 1352.3,1231.7 1354.3,1231.7 1356.3,1231.5 1358.3,1232.1 1360.3,1233.5 1362.3,1232.1 1364.3,1231.3 1366.3,1229.8 1368.3,1230.2 1370.3,1231.8 1372.3,1231.8 1374.3,1230.8 1376.3,1232.8 1378.3,1232.3 1380.3,1231.4 1382.3,1232.1 1384.3,1231.6 1386.3,1231.4 1388.3,1233.3 1390.3,1234.7 1392.3,1234.4 1394.3,1232.4 1396.3,1232.8 1398.3,1234.3 1400.3,1236.0 1402.3,1236.3 1404.3,1234.9 1406.3,1234.4 1408.3,1235.7 1410.3,1236.1 1412.3,1237.3 1414.3,1238.4 1416.3,1237.9 1418.3,1236.7 1420.3,1236.4 1422.3,1236.9 1424.3,1239.1 1426.3,1239.8 1428.3,1238.4 1430.3,1238.3 1432.3,1238.4 1434.3,1239.2 1436.3,1239.1 1438.3,1239.5 1440.3,1241.5 1442.3,1241.8 1444.3,1241.6 1446.3,1241.9 1448.3,1241.1 1450.3,1241.3 1452.3,1240.7 1454.3,1241.0 1456.3,1242.1 1458.3,1241.1 1460.3,1240.9 1462.3,1240.4 1464.3,1240.4 1466.3,1241.7 1468.3,1241.7 1470.3,1241.4 1472.3,1244.0 1474.3,1243.9 1476.3,1241.7 1478.3,1242.1 1480.3,1242.2 1482.3,1241.2 1484.3,1240.8 1486.3,1241.8 1488.3,1242.8 1490.3,1243.6 1492.3,1242.8 1494.3,1241.4 1496.3,1241.8 1498.3,1242.7 1500.3,1243.1 1502.3,1242.0 1504.3,1242.9 1506.3,1243.3 1508.3,1241.7 1510.3,1242.7 1512.3,1241.7 1514.3,1241.1 1516.3,1240.4 1518.3,1240.5 1520.3,1240.0 1522.3,1239.7 1524.3,1239.0 1526.3,1234.2 1528.3,1233.0 1530.3,1232.0 1532.3,1231.6 1534.3,1231.0 1536.3,1231.3 1538.3,1231.7 1540.3,1232.3 1542.3,1233.7 1544.3,1233.3 1546.3,1235.0 1548.3,1237.3 1550.3,1239.1 1552.3,1238.0 1554.3,1238.7 1556.3,1240.8 1558.3,1241.1 1560.3,1240.8 1562.3,1242.7 1564.3,1243.0 1566.3,1242.5 1568.3,1242.9 1570.3,1243.5 1572.3,1244.0 1574.3,1245.0 1576.3,1245.3 1578.3,1244.3 1580.3,1244.9 1582.3,1247.1 1584.3,1247.1 1586.3,1248.3 1588.3,1247.0 1590.3,1245.2 1592.3,1246.7 1594.3,1246.2 1596.3,1245.2 1598.3,1246.5 1600.3,1246.5 1602.3,1247.7 1604.3,1249.4 1606.3,1249.4 1608.3,1248.7 1610.3,1248.7 1612.3,1248.6 1614.3,1248.0 1616.3,1247.7 1618.3,1248.2 1620.3,1248.7 1622.3,1248.3 1624.3,1248.5 1626.3,1248.6 1628.3,1248.5 1630.3,1250.1 1632.3,1250.6 1634.3,1249.4 1636.3,1248.1 1638.3,1246.9 1640.3,1247.3 1642.3,1250.0 1644.3,1249.9 1646.3,1248.6 1648.3,1248.1 1650.3,1249.2 1652.3,1250.5 1654.3,1249.9 1656.3,1249.5 1658.3,1252.0 1660.3,1250.5 1662.3,1248.6 1664.3,1249.5 1666.3,1250.2 1668.3,1250.1 1670.3,1249.3 1672.3,1248.3 1674.3,1248.6 1676.3,1248.1 1678.3,1248.4 1680.3,1248.5 1682.3,1248.8 1684.3,1248.5 1686.3,1248.8 1688.3,1250.5 1690.3,1248.5 1692.3,1247.7 1694.3,1248.4 1696.3,1248.8 1698.3,1248.6 1700.3,1247.0 1702.3,1247.5 1704.3,1248.7 1706.3,1248.2 1708.3,1247.1 1710.3,1245.5 1712.3,1245.1 1714.3,1245.8 1716.3,1246.8 1718.3,1247.2 1720.3,1246.4 1722.3,1244.4 1724.3,1245.2 1726.3,1245.5 1728.3,1244.9 1730.3,1244.4 1732.3,1243.8 1734.3,1243.6 1736.3,1243.2 1738.3,1245.5 1740.3,1246.0 1742.3,1246.0 1744.3,1244.1 1746.3,1243.8 1748.3,1245.7 1750.3,1243.6 1752.3,1244.1 1754.3,1246.5 1756.3,1247.2 1758.3,1245.8 1760.3,1245.7 1762.3,1246.5 1764.3,1246.9 1766.3,1246.6 1768.3,1247.9 1770.3,1248.7 1772.3,1248.2 1774.3,1248.8 1776.3,1250.6 1778.3,1249.8 1780.3,1249.3 1782.3,1250.7 1784.3,1251.0 1786.3,1249.6 1788.3,1249.6 1790.3,1251.8 1792.3,1252.4 1794.3,1252.8 1796.3,1252.3 1798.3,1249.9 1800.3,1249.3 1802.3,1251.5 1804.3,1251.9 1806.3,1251.3 1808.3,1251.2 1810.3,1250.2 1812.3,1249.7 1814.3,1250.6 1816.3,1251.5 1818.3,1251.7 1820.3,1251.5 1822.3,1252.0 1824.3,1252.6 1826.3,1251.8 1828.3,1251.5 1830.3,1252.3 1832.3,1250.9 1834.3,1251.7 1836.3,1253.8 1838.3,1254.4 1840.3,1253.3 1842.3,1251.0 1844.3,1249.7 1846.3,1250.6 1848.3,1251.2 1850.3,1251.1 1852.3,1250.5 1854.3,1250.9 1856.3,1251.6 1858.3,1252.2 1860.3,1253.0 1862.3,1252.7 1864.3,1252.1 1866.3,1251.4 1868.3,1251.2 1870.3,1250.1 1872.3,1250.3 1874.3,1250.1 1876.3,1251.4 1878.3,1252.1 1880.3,1252.2 1882.3,1252.7 1884.3,1251.6 1886.3,1251.3 1888.3,1251.1 1890.3,1251.8 1892.3,1252.7 1894.3,1251.9 1896.3,1253.6 1898.3,1254.0 1900.3,1253.0 1902.3,1252.1 1904.3,1252.0 1906.3,1252.1 1908.3,1252.9 1910.3,1251.1 1912.3,1250.7"/>
<polyline class="cv" stroke="#0000FF" points="20.3,862.1 22.3,858.7 24.3,862.6 26.3,868.4 28.3,871.6 30.3,874.0 32.3,873.7 34.3,883.5 36.3,886.1 38.3,881.3 40.3,883.7 42.3,886.5 44.3,889.9 46.3,894.4 48.3,893.7 50.3,894.9 52.3,901.2 54.3,904.7 56.3,903.1 58.3,904.4 60.3,905.0 62.3,912.4 64.3,917.8 66.3,916.4 68.3,913.7 70.3,911.6 72.3,914.0 74.3,915.5 76.3,923.8 78.3,929.1 80.3,929.3 82.3,928.0 84.3,928.8 86.3,928.6 88.3,931.0 90.3,933.3 92.3,932.5 94.3,930.1 96.3,935.7 98.3,938.9 100.3,938.8 102.3,942.5 104.3,943.5 106.3,941.3 108.3,946.0 110.3,945.9 112.3,945.5 114.3,948.5 116.3,949.1 118.3,950.0 120.3,950.6 122.3,951.7 124.3,952.4 126.3,954.2 128.3,954.9 130.3,956.9 132.3,961.8 134.3,962.5 136.3,964.8 138.3,968.3 140.3,967.1 142.3,965.7 144.3,965.5 146.3,969.2 148.3,971.1 150.3,972.4 152.3,971.8 154.3,970.4 156.3,969.4 158.3,973.3 160.3,973.3 162.3,975.5 164.3,978.5 166.3,979.5 168.3,980.4 170.3,980.9 172.3,979.4 174.3,983.4 176.3,988.1 178.3,988.0 180.3,985.4 182.3,989.0 184.3,990.1 186.3,987.8 188.3,988.2 190.3,992.5 192.3,996.7 194.3,996.4 196.3,995.2 198.3,997.9 200.3,1000.9 202.3,1000.7 204.3,1000.9 206.3,1002.0 208.3,1000.8 210.3,1003.4 212.3,1003.5 214.3,1005.8 216.3,1008.1 218.3,1008.2 220.3,1008.3 222.3,1010.1 224.3,1012.0 226.3,1010.6 228.3,1012.1 230.3,1015.8 232.3,1017.7 234.3,1017.2 236.3,1017.7 238.3,1019.7 240.3,1020.9 242.3,1025.1 244.3,1026.8 246.3,1026.6 248.3,1023.4 250.3,1024.0 252.3,1025.5 254.3,1026.0 256.3,1028.1 258.3,1030.9 260.3,1030.0 262.3,1032.1 264.3,1036.0 266.3,1036.1 268.3,1036.7 270.3,1036.9 272.3,1036.8 274.3,1038.1 276.3,1039.9 278.3,1040.8 280.3,1042.4 282.3,1043.2 284.3,1045.3 286.3,1049.0 288.3,1048.7 290.3,1046.9 292.3,1049.5 294.3,1054.3 296.3,1055.0 298.3,1052.1 300.3,1053.7 302.3,1053.5 304.3,1052.1 306.3,1056.5 308.3,1060.0 310.3,1057.8 312.3,1058.7 314.3,1060.8 316.3,1060.4 318.3,1060.8 320.3,1062.0 322.3,1061.8 324.3,1063.7 326.3,1063.7 328.3,1065.8 330.3,1068.7 332.3,1069.9 334.3,1068.1 336.3,1069.0 338.3,1069.4 340.3,1067.9 342.3,1070.3 344.3,1072.2 346.3,1074.0 348.3,1075.9 350.3,1074.5 352.3,1074.1 354.3,1074.6 356.3,1075.6 358.3,1077.6 360.3,1078.8 362.3,1076.5 364.3,1076.0 366.3,1074.2 368.3,1075.6 370.3,1078.1 372.3,1077.4 374.3,1080.7 376.3,1082.7 378.3,1080.7 380.3,1080.9 382.3,1082.4 384.3,1083.0 386.3,1083.6 388.3,1084.2 390.3,1086.1 392.3,1086.5 394.3,1085.3 396.3,1083.3 398.3,1085.3 400.3,1087.5 402.3,1088.7 404.3,1088.2 406.3,1090.1 408.3,1090.9 410.3,1090.3 412.3,1091.4 414.3,1091.0 416.3,1090.6 418.3,1092.5 420.3,1094.5 422.3,1094.1 424.3,1094.1 426.3,1095.1 428.3,1095.5 430.3,1094.2 432.3,1091.6 434.3,1090.5 436.3,1093.0 438.3,1097.3 440.3,1096.8 442.3,1095.0 444.3,1096.4 446.3,1095.8 448.3,1097.2 450.3,1098.7 452.3,1098.5 454.3,1099.6 456.3,1099.2 458.3,1097.2 460.3,1098.9 462.3,1100.3 464.3,1099.1 466.3,1099.1 468.3,1102.1 470.3,1101.6 472.3,1100.3 474.3,1100.2 476.3,1101.9 478.3,1103.2 480.3,1102.4 482.3,1102.8 484.3,1103.3 486.3,1102.6 488.3,1102.9 490.3,1103.1 492.3,1101.9 494.3,1102.1 496.3,1104.6 498.3,1106.1 500.3,1105.1 502.3,1103.5 504.3,1103.7 506.3,1103.3 508.3,1102.3 510.3,1102.7 512.3,1103.8 514.3,1104.7 516.3,1104.4 518.3,1105.7 520.3,1105.7 522.3,1106.8 524.3,1106.9 526.3,1106.0 528.3,1105.9 530.3,1106.1 532.3,1106.5 534.3,1107.4 536.3,1108.4 538.3,1107.9 540.3,1108.4 542.3,1107.7 544.3,1106.3 546.3,1106.9 548.3,1107.6 550.3,1107.5 552.3,1106.8 554.3,1107.1 556.3,1106.1 558.3,1106.4 560.3,1107.2 562.3,1106.6 564.3,1105.3 566.3,1104.7 568.3,1105.4 570.3,1106.6 572.3,1108.5 574.3,1106.3 576.3,1106.2 578.3,1108.7 580.3,1106.5 582.3,1107.0 584.3,1108.5 586.3,1108.6 588.3,1109.1 590.3,1110.8 592.3,1111.3 594.3,1109.3 596.3,1108.4 598.3,1107.9 600.3,1107.4 602.3,1107.5 604.3,1107.7 606.3,1107.7 608.3,1108.1 610.3,1107.5 612.3,1106.7 614.3,1107.5 616.3,1107.6 618.3,1107.5 620.3,1107.7 622.3,1108.2 624.3,1107.6 626.3,1108.7 628.3,1108.0 630.3,1108.4 632.3,1109.9 634.3,1109.1 636.3,1107.0 638.3,1108.4 640.3,1109.3 642.3,1107.3 644.3,1107.5 646.3,1108.4 648.3,1107.2 650.3,1108.4 652.3,1106.5 654.3,1106.0 656.3,1106.3 658.3,1106.9 660.3,1108.0 662.3,1108.0 664.3,1107.6 666.3,1106.8 668.3,1105.2 670.3,1106.1 672.3,1107.4 674.3,1106.5 676.3,1107.6 678.3,1106.5 680.3,1105.5 682.3,1106.7 684.3,1107.0 686.3,1105.4 688.3,1104.9 690.3,1104.5 692.3,1104.0 694.3,1102.9 696.3,1104.4 698.3,1106.2 700.3,1105.5 702.3,1105.8 704.3,1106.0 706.3,1105.2 708.3,1104.1 710.3,1103.6 712.3,1103.5 714.3,1103.8 716.3,1103.6 718.3,1104.3 720.3,1104.7 722.3,1102.8 724.3,1100.7 726.3,1101.0 728.3,1100.4 730.3,1099.0 732.3,1098.1 734.3,1098.6 736.3,1101.0 738.3,1100.6 740.3,1097.1 742.3,1092.8 744.3,1091.4 746.3,1090.3 748.3,1087.3 750.3,1085.7 752.3,1083.9 753,1083.0 754,1081.5 754.3,1081.1 755,1079.6 756,1077.3 756.3,1076.6 757,1075.1 758,1072.7 758.3,1072.0 759,1070.3 760,1067.6 760.3,1066.8 761,1065.0 762,1062.2 762.3,1061.3 763,1059.4 764,1056.3 764.3,1055.3 765,1052.6 766,1048.4 766.3,1047.0 767,1043.9 768,1039.0 768.3,1037.4 769,1033.0 770,1026.2 770.3,1024.1 771,1018.8 772,1010.8 772.3,1008.4 773,1003.2 774,996.1 774.3,994.2 775,989.7 776,985.0 776.3,984.1 777,983.3 778,984.5 778.3,985.4 779,988.3 780,994.0 780.3,996.0 781,1000.6 782,1007.5 782.3,1009.5 783,1014.6 784,1021.5 784.3,1023.4 785,1027.7 786,1033.3 786.3,1034.8 787,1037.8 788,1041.6 788.3,1042.6 789,1045.2 790,1048.6 790.3,1049.6 791,1052.5 792,1056.5 792.3,1057.6 793,1058.8 794,1060.2 794.3,1060.6 795,1061.8 796,1063.3 796.3,1063.8 797,1065.1 798,1066.9 798.3,1067.5 799,1068.7 800,1070.4 800.3,1070.9 801,1072.1 802.3,1074.4 804.3,1076.9 806.3,1078.5 808.3,1081.5 810.3,1084.2 812.3,1086.0 814.3,1088.7 816.3,1090.4 818.3,1092.0 820.3,1092.9 822.3,1096.0 824.3,1095.9 826.3,1095.8 828.3,1096.7 830.3,1097.9 832.3,1098.8 834.3,1097.7 836.3,1099.3 838.3,1101.9 840.3,1102.2 842.3,1100.7 844.3,1101.3 846.3,1101.4 848.3,1100.7 850.3,1100.4 852.3,1100.7 854.3,1099.7 856.3,1099.1 858.3,1098.5 860.3,1096.1 862.3,1095.6 864.3,1096.7 866.3,1094.7 868.3,1095.0 870.3,1095.0 872.3,1093.7 874.3,1093.1 876.3,1093.5 878.3,1093.8 880.3,1095.2 882.3,1096.4 884.3,1097.3 886.3,1099.2 888.3,1101.6 890.3,1102.8 892.3,1104.5 894.3,1107.1 896.3,1107.4 898.3,1108.4 900.3,1108.5 902.3,1109.3 904.3,1111.5 906.3,1112.0 908.3,1110.5 910.3,1113.2 912.3,1114.6 914.3,1114.7 916.3,1115.1 918.3,1114.3 920.3,1114.8 922.3,1114.5 924.3,1115.1 926.3,1115.6 928.3,1115.6 930.3,1115.2 932.3,1116.3 934.3,1117.3 936.3,1117.7 938.3,1116.9 940.3,1117.1 942.3,1117.0 944.3,1117.5 946.3,1116.7 948.3,1116.2 950.3,1117.1 952.3,1119.5 954.3,1119.8 956.3,1118.6 958.3,1118.6 960.3,1118.3 962.3,1117.8 964.3,1119.6 966.3,1118.2 968.3,1117.6 970.3,1118.3 972.3,1118.4 974.3,1119.5 976.3,1119.9 978.3,1119.3 980.3,1119.3 982.3,1118.5 984.3,1117.6 986.3,1118.7 988.3,1121.0 990.3,1119.9 992.3,1118.1 994.3,1118.2 996,1119.2 996.3,1119.3 997,1119.8 998,1120.6 998.3,1120.8 999,1120.9 1000,1121.1 1000.3,1121.2 1001,1121.6 1002,1122.3 1002.3,1122.5 1003,1122.6 1004,1122.7 1004.3,1122.7 1005,1122.4 1006,1121.9 1006.3,1121.7 1007,1121.6 1008,1121.5 1008.3,1121.4 1009,1121.3 1010,1121.2 1010.3,1121.1 1011,1120.5 1012,1119.5 1012.3,1119.2 1013,1118.7 1014,1117.9 1014.3,1117.6 1015,1116.9 1016,1115.7 1016.3,1115.3 1017,1114.9 1018,1114.1 1018.3,1113.9 1019,1112.8 1020,1111.6 1020.3,1111.4 1021,1111.6 1022,1112.6 1022.3,1113.1 1023,1114.3 1024,1116.4 1024.3,1117.0 1025,1117.1 1026,1117.1 1026.3,1117.0 1027,1117.6 1028,1118.2 1028.3,1118.4 1029,1118.7 1030,1119.1 1030.3,1119.2 1031,1119.6 1032,1120.1 1032.3,1120.2 1033,1120.7 1034,1121.4 1034.3,1121.6 1035,1121.5 1036,1121.3 1036.3,1121.2 1037,1121.7 1038,1122.4 1038.3,1122.6 1039,1122.9 1040,1123.4 1040.3,1123.5 1041,1123.6 1042,1123.7 1042.3,1123.8 1043,1123.1 1044,1122.1 1044.3,1121.8 1045,1122.1 1046,1122.4 1046.3,1122.4 1048.3,1123.9 1050.3,1123.0 1052.3,1124.3 1054.3,1125.3 1056.3,1123.5 1058.3,1123.7 1060.3,1125.0 1062.3,1124.7 1064.3,1126.3 1066.3,1126.9 1068.3,1126.0 1070.3,1125.6 1072.3,1125.6 1074.3,1125.6 1076.3,1126.9 1078.3,1127.3 1080.3,1127.0 1082.3,1126.4 1084.3,1125.3 1086.3,1125.1 1088.3,1124.9 1090.3,1126.6 1092.3,1128.1 1094.3,1127.7 1096.3,1127.0 1098.3,1127.0 1100.3,1127.4 1102.3,1128.3 1104.3,1127.7 1106.3,1129.0 1108.3,1128.7 1110.3,1127.3 1112.3,1128.8 1114.3,1129.4 1116.3,1129.1 1118.3,1130.0 1120.3,1128.7 1122.3,1128.4 1124,1128.9 1124.3,1129.0 1125,1129.1 1126,1129.3 1126.3,1129.4 1127,1129.3 1128,1129.2 1128.3,1129.1 1129,1129.3 1130,1129.5 1130.3,1129.5 1131,1129.4 1132,1129.1 1132.3,1129.0 1133,1129.2 1134,1129.3 1134.3,1129.3 1135,1129.3 1136,1129.1 1136.3,1129.0 1137,1128.8 1138,1128.5 1138.3,1128.4 1139,1128.0 1140,1127.4 1140.3,1127.2 1141,1126.9 1142,1126.4 1142.3,1126.3 1143,1125.5 1144,1124.2 1144.3,1123.8 1145,1123.0 1146,1121.8 1146.3,1121.4 1147,1121.1 1148,1121.0 1148.3,1121.1 1149,1121.2 1150,1122.1 1150.3,1122.4 1151,1122.9 1152,1123.8 1152.3,1124.0 1153,1125.4 1154,1127.3 1154.3,1127.8 1155,1129.0 1156,1130.5 1156.3,1130.9 1157,1131.1 1158,1131.2 1158.3,1131.3 1159,1131.4 1160,1131.4 1160.3,1131.4 1161,1131.3 1162,1131.0 1162.3,1130.9 1163,1130.6 1164,1130.1 1164.3,1130.0 1165,1130.5 1166,1131.1 1166.3,1131.3 1167,1131.6 1168,1131.9 1168.3,1132.0 1169,1131.9 1170,1131.8 1170.3,1131.7 1171,1132.0 1172,1132.4 1172.3,1132.5 1173,1132.6 1174,1132.8 1174.3,1132.8 1176.3,1134.0 1178.3,1134.1 1180.3,1134.4 1182.3,1134.6 1184.3,1135.0 1186.3,1135.8 1188.3,1134.3 1190.3,1134.1 1192.3,1135.1 1194.3,1135.2 1196.3,1134.6 1198.3,1135.7 1200.3,1135.6 1202.3,1135.8 1204.3,1134.9 1206.3,1134.8 1208.3,1135.2 1210.3,1134.9 1212.3,1134.6 1214.3,1135.4 1216.3,1135.8 1218.3,1135.5 1220.3,1135.3 1222.3,1134.5 1224.3,1134.6 1226.3,1134.0 1228.3,1134.0 1230.3,1133.2 1232.3,1134.0 1234.3,1134.5 1236.3,1133.2 1238.3,1132.1 1240.3,1133.5 1242.3,1131.9 1244.3,1131.2 1246.3,1133.4 1248.3,1132.8 1250.3,1133.0 1252.3,1133.3 1254.3,1134.3 1256.3,1133.4 1258.3,1130.9 1260.3,1131.2 1262.3,1130.6 1264.3,1130.7 1266.3,1130.8 1268.3,1130.2 1270.3,1129.6 1272.3,1130.9 1274.3,1131.4 1276.3,1131.7 1278.3,1131.9 1280.3,1130.1 1282.3,1129.0 1284.3,1128.8 1286.3,1127.5 1288.3,1128.4 1290.3,1128.2 1292.3,1127.8 1294.3,1127.7 1296.3,1128.1 1298.3,1128.7 1300.3,1127.6 1302.3,1128.0 1304.3,1128.9 1306.3,1129.3 1308.3,1130.1 1310.3,1130.0 1312.3,1130.8 1314.3,1129.6 1316.3,1127.8 1318.3,1128.5 1320.3,1129.2 1322.3,1127.3 1324.3,1126.6 1326.3,1126.3 1328.3,1127.9 1330.3,1129.3 1332.3,1129.5 1334.3,1128.1 1336.3,1127.2 1338.3,1128.1 1340.3,1128.6 1342.3,1129.0 1344.3,1129.0 1346.3,1129.2 1348.3,1128.1 1350.3,1128.1 1352.3,1128.2 1354.3,1128.2 1356.3,1128.4 1358.3,1126.8 1360.3,1125.8 1362.3,1125.9 1364.3,1127.9 1366.3,1129.0 1368.3,1129.1 1370.3,1129.4 1372.3,1128.0 1374.3,1126.9 1376.3,1127.5 1378.3,1127.7 1380.3,1128.1 1382.3,1128.4 1384.3,1127.0 1386.3,1126.9 1388.3,1128.1 1390.3,1128.9 1392.3,1128.4 1394.3,1129.9 1396.3,1130.2 1398.3,1128.9 1400.3,1128.6 1402.3,1128.9 1404.3,1129.0 1406.3,1131.0 1408.3,1131.4 1410.3,1131.8 1412.3,1131.0 1414.3,1131.4 1416.3,1132.1 1418.3,1133.0 1420.3,1132.0 1422.3,1133.0 1424.3,1133.0 1426.3,1132.5 1428.3,1131.7 1430.3,1132.7 1432.3,1133.5 1434.3,1134.1 1436.3,1133.6 1438.3,1133.9 1440.3,1135.3 1442.3,1135.3 1444.3,1134.9 1446.3,1135.6 1448.3,1136.1 1450.3,1135.9 1452.3,1136.5 1454.3,1137.9 1456.3,1136.8 1458.3,1135.6 1460.3,1137.7 1461,1138.2 1462,1138.8 1462.3,1139.0 1463,1139.0 1464,1139.0 1464.3,1139.0 1465,1138.6 1466,1138.1 1466.3,1137.9 1467,1137.2 1468,1136.1 1468.3,1135.8 1469,1136.0 1470,1136.2 1470.3,1136.2 1471,1136.6 1472,1137.2 1472.3,1137.3 1473,1137.4 1474,1137.5 1474.3,1137.5 1475,1137.2 1476,1136.8 1476.3,1136.7 1477,1136.2 1478,1135.5 1478.3,1135.3 1479,1135.1 1480,1134.8 1480.3,1134.7 1481,1134.6 1482,1134.4 1482.3,1134.3 1483,1134.3 1484,1134.4 1484.3,1134.4 1485,1134.1 1486,1134.0 1486.3,1134.1 1487,1133.5 1488,1133.0 1488.3,1132.9 1489,1133.5 1490,1134.3 1490.3,1134.5 1491,1135.1 1492,1135.8 1492.3,1136.0 1493,1136.6 1494,1137.5 1494.3,1137.7 1495,1138.0 1496,1138.2 1496.3,1138.3 1497,1138.4 1498,1138.5 1498.3,1138.5 1499,1138.4 1500,1138.4 1500.3,1138.4 1501,1138.1 1502,1137.7 1502.3,1137.5 1503,1137.5 1504,1137.4 1504.3,1137.3 1505,1137.5 1506,1137.8 1506.3,1137.8 1507,1138.2 1508,1138.7 1508.3,1138.8 1509,1139.0 1510,1139.3 1510.3,1139.3 1511,1138.8 1512.3,1137.6 1514.3,1135.9 1516.3,1135.4 1518.3,1133.4 1520.3,1131.2 1522.3,1129.5 1524.3,1127.2 1526.3,1125.7 1528.3,1125.5 1530.3,1125.8 1532.3,1126.0 1534.3,1125.8 1536.3,1126.9 1538.3,1128.1 1540.3,1131.3 1542.3,1132.1 1544.3,1133.0 1546.3,1135.4 1548.3,1136.2 1550.3,1136.9 1552.3,1139.1 1554.3,1138.5 1556.3,1139.0 1558.3,1138.9 1560.3,1140.0 1562.3,1139.9 1564.3,1138.8 1566.3,1139.0 1568.3,1140.5 1570.3,1140.4 1572.3,1140.8 1574.3,1141.1 1576.3,1141.9 1578.3,1141.9 1580.3,1141.6 1582.3,1143.0 1584.3,1142.5 1586.3,1142.7 1588.3,1143.5 1590.3,1144.2 1592.3,1143.3 1594.3,1143.5 1596.3,1143.6 1598.3,1143.3 1600.3,1142.3 1602.3,1141.2 1604.3,1143.1 1606.3,1145.1 1608.3,1144.5 1610.3,1144.1 1612.3,1144.6 1614.3,1145.3 1616.3,1144.9 1618.3,1144.8 1620.3,1145.7 1622.3,1146.3 1624.3,1145.9 1626.3,1144.9 1628.3,1143.3 1630.3,1143.2 1632.3,1144.5 1634.3,1144.5 1636.3,1144.6 1638.3,1145.3 1640.3,1146.5 1642.3,1147.4 1644.3,1145.0 1646.3,1145.6 1648.3,1146.9 1650.3,1145.4 1652.3,1145.1 1654.3,1144.7 1656.3,1145.6 1658.3,1145.0 1660.3,1145.7 1662.3,1145.8 1664.3,1144.7 1666.3,1143.5 1668.3,1143.9 1670.3,1145.0 1672.3,1145.6 1674.3,1145.3 1676.3,1144.5 1678.3,1145.6 1680.3,1145.0 1682.3,1144.2 1684.3,1143.2 1686.3,1142.2 1688.3,1141.4 1690.3,1142.3 1692.3,1143.5 1694.3,1144.6 1696.3,1143.8 1698.3,1142.4 1700.3,1142.7 1702.3,1142.6 1704.3,1144.9 1706.3,1145.6 1708.3,1143.7 1710.3,1142.7 1712.3,1143.6 1714.3,1143.2 1716.3,1142.9 1718.3,1142.3 1720.3,1142.0 1722.3,1142.7 1724.3,1143.0 1726.3,1142.1 1728.3,1141.4 1730.3,1141.6 1732.3,1142.6 1734.3,1142.8 1736.3,1141.4 1738.3,1140.7 1740.3,1141.6 1742.3,1141.8 1744.3,1142.8 1746.3,1144.3 1748.3,1143.2 1750.3,1140.6 1752.3,1140.9 1754.3,1141.7 1756.3,1140.6 1758.3,1140.5 1760.3,1142.0 1762.3,1142.6 1764.3,1143.1 1766.3,1143.8 1768.3,1143.4 1770.3,1144.0 1772.3,1144.8 1774.3,1145.1 1776.3,1143.8 1778.3,1144.4 1780.3,1143.3 1782.3,1143.6 1784.3,1145.5 1786.3,1146.1 1788.3,1146.3 1790.3,1146.0 1792.3,1145.8 1794.3,1145.7 1796.3,1146.7 1798.3,1147.3 1800.3,1145.3 1802.3,1145.8 1804.3,1145.8 1806.3,1145.3 1808.3,1146.3 1810.3,1146.1 1812.3,1144.3 1814.3,1144.5 1816.3,1146.4 1818.3,1147.2 1820.3,1148.2 1822.3,1147.6 1824.3,1148.0 1826.3,1146.9 1828.3,1146.1 1830.3,1147.0 1832.3,1147.2 1834.3,1146.8 1836.3,1145.8 1838.3,1147.8 1840.3,1148.3 1842.3,1148.7 1844.3,1149.3 1846.3,1150.0 1848.3,1149.1 1850.3,1148.8 1852.3,1149.7 1854.3,1149.8 1856.3,1149.1 1858.3,1148.1 1860.3,1147.8 1862.3,1147.7 1864.3,1148.0 1866.3,1149.0 1868.3,1148.5 1870.3,1148.7 1872.3,1148.3 1874.3,1149.1 1876.3,1148.9 1878.3,1149.8 1880.3,1149.4 1882.3,1148.5 1884.3,1147.6 1886.3,1147.4 1888.3,1147.5 1890.3,1147.4 1892.3,1147.1 1894.3,1148.0 1896.3,1148.1 1898.3,1147.5 1900.3,1148.2 1902.3,1146.9 1904.3,1145.4 1906.3,1146.1 1908.3,1146.5 1910.3,1146.5 1912.3,1146.6"/>
<polyline class="cv" stroke="#FF00FF" points="20.3,689.2 22.3,689.5 24.3,693.4 26.3,690.9 28.3,692.4 30.3,693.7 32.3,694.0 34.3,699.8 36.3,698.1 38.3,698.4 40.3,702.8 42.3,707.2 44.3,708.4 46.3,713.9 48.3,712.9 50.3,713.0 52.3,715.5 54.3,715.9 56.3,715.6 58.3,718.4 60.3,723.3 62.3,727.9 64.3,727.6 66.3,726.7 68.3,723.3 70.3,727.7 72.3,732.5 74.3,738.0 76.3,738.9 78.3,737.4 80.3,738.5 82.3,738.5 84.3,738.8 86.3,741.6 88.3,743.7 90.3,746.8 92.3,749.7 94.3,750.5 96.3,753.3 98.3,751.9 100.3,754.6 102.3,755.8 104.3,755.0 106.3,760.6 108.3,764.9 110.3,767.3 112.3,766.6 114.3,769.0 116.3,769.3 118.3,767.6 120.3,770.0 122.3,770.4 124.3,774.8 126.3,777.8 128.3,777.2 130.3,776.0 132.3,782.1 134.3,783.4 136.3,784.5 138.3,783.4 140.3,786.2 142.3,791.5 144.3,790.0 146.3,789.6 148.3,792.0 150.3,794.8 152.3,792.9 154.3,794.8 156.3,798.3 158.3,805.0 160.3,805.7 162.3,804.4 164.3,805.2 166.3,806.0 168.3,806.5 170.3,809.2 172.3,813.3 174.3,812.2 176.3,812.8 178.3,815.8 180.3,818.5 182.3,817.4 184.3,815.8 186.3,817.8 188.3,819.5 190.3,818.4 192.3,820.5 194.3,823.6 196.3,825.4 198.3,828.9 200.3,828.9 202.3,828.4 204.3,829.6 206.3,830.3 208.3,832.1 210.3,835.8 212.3,835.4 214.3,833.5 216.3,835.5 218.3,839.2 220.3,839.0 222.3,841.2 224.3,844.2 226.3,844.1 228.3,844.6 230.3,846.3 232.3,848.7 234.3,847.7 236.3,847.9 238.3,851.7 240.3,855.2 242.3,856.2 244.3,858.7 246.3,858.5 248.3,856.3 250.3,858.1 252.3,859.6 254.3,861.1 256.3,864.3 258.3,866.2 260.3,866.7 262.3,867.3 264.3,866.4 266.3,867.7 268.3,866.8 270.3,867.5 272.3,868.6 274.3,872.0 276.3,872.2 278.3,873.4 280.3,872.9 282.3,875.2 284.3,877.4 286.3,877.6 288.3,878.3 290.3,879.2 292.3,879.7 294.3,880.0 296.3,880.9 298.3,883.5 300.3,883.8 302.3,884.4 304.3,884.8 306.3,883.5 308.3,883.6 310.3,886.0 312.3,890.4 314.3,890.3 316.3,890.5 318.3,888.9 320.3,890.9 322.3,892.6 324.3,893.6 326.3,895.9 328.3,895.6 330.3,896.5 332.3,899.2 334.3,900.4 336.3,899.0 338.3,898.1 340.3,899.2 341.5,900.1 342,900.5 342.3,900.7 342.5,900.4 343,899.8 343.5,899.2 344,898.6 344.3,898.2 344.5,898.1 345,897.8 345.5,897.4 346,897.1 346.3,896.8 346.5,896.8 347,896.8 347.5,896.7 348,896.5 348.3,896.4 348.5,896.4 349,896.4 349.5,896.2 350,895.9 350.3,895.6 350.5,895.0 351,893.4 351.5,891.4 352,888.9 352.3,887.0 352.5,885.4 353,880.7 353.5,874.7 354,866.8 354.3,861.1 354.5,857.0 355,845.2 355.5,832.4 356,821.5 356.3,818.0 356.5,817.3 357,822.2 357.5,833.5 358,847.0 358.3,854.6 358.5,859.2 359,868.9 359.5,876.5 360,882.2 360.3,885.0 360.5,886.6 361,890.0 361.5,892.5 362,894.6 362.3,895.6 362.5,896.3 363,897.9 363.5,899.3 364,900.5 364.3,901.1 364.5,901.5 365,902.5 365.5,903.4 366,904.2 366.3,904.6 366.5,904.8 367,905.3 367.5,905.7 368,906.1 368.3,906.3 368.5,906.6 369,907.1 369.5,907.5 370,908.0 370.3,908.3 370.5,908.3 371,908.5 371.5,908.6 372.3,908.8 374.3,909.6 376.3,911.5 378.3,912.0 380.3,910.5 382.3,912.7 384.3,913.2 386.3,913.5 388.3,916.2 390.3,917.1 392.3,917.5 394.3,917.8 396.3,920.4 398.3,919.8 400.3,919.4 402.3,921.4 404.3,920.3 406.3,921.7 408.3,920.8 410.3,920.0 412.3,920.1 414.3,920.4 416.3,921.4 418.3,923.3 420.3,923.1 422.3,922.5 424.3,923.9 426.3,924.1 428.3,925.9 430.3,926.2 432.3,927.0 434.3,927.8 436.3,926.5 438.3,931.0 440.3,933.4 442.3,931.5 444.3,929.8 446.3,929.1 448.3,930.5 450.3,929.9 452.3,929.5 454.3,929.9 456.3,932.3 458.3,932.1 460.3,930.1 462.3,930.4 464.3,931.0 466.3,932.7 468.3,931.8 470.3,932.6 472.3,933.5 474.3,932.8 476.3,932.0 478.3,932.5 480.3,933.0 482.3,935.9 484.3,935.3 486.3,932.6 488.3,933.7 490.3,937.2 492.3,936.5 494.3,935.5 496.3,936.4 498.3,936.4 500.3,936.4 502.3,936.0 504.3,937.7 506.3,936.6 508.3,935.3 510.3,936.2 512.3,937.0 514.3,937.7 516.3,937.9 518.3,937.5 520.3,937.0 522.3,937.8 524.3,938.2 526.3,939.4 528.3,937.3 530.3,937.4 532.3,937.2 534.3,937.3 536.3,939.0 538.3,939.5 540.3,940.0 542.3,940.8 544.3,939.4 546.3,940.0 548.3,940.2 550.3,939.8 552.3,938.5 554.3,938.8 556.3,940.4 558.3,939.5 560.3,941.7 562.3,942.4 564.3,940.7 566.3,940.9 568.3,941.7 570.3,943.3 572.3,943.9 574.3,942.9 576.3,942.6 578.3,942.6 580.3,940.7 582.3,941.1 584.3,942.1 586.3,941.7 588.3,942.5 590.3,941.0 592.3,941.2 594.3,942.2 596.3,942.3 598.3,941.2 600.3,941.4 602.3,942.4 604.3,942.5 606.3,942.6 608.3,941.3 610.3,939.9 612.3,938.5 614.3,939.7 616.3,940.9 618.3,940.5 620.3,941.9 622.3,943.0 624.3,942.6 626.3,943.5 628.3,943.9 630.3,943.2 632.3,943.5 634.3,943.2 636.3,941.8 638.3,942.8 640.3,940.8 642.3,941.5 644.3,941.2 646.3,941.0 648.3,941.3 650.3,941.1 652.3,941.1 654.3,940.8 656.3,940.4 658.3,940.6 660.3,940.1 662.3,940.7 664.3,940.0 666.3,940.8 668.3,941.1 670.3,941.9 672.3,940.8 674.3,941.4 676.3,939.9 678.3,939.2 680.3,941.7 682.3,942.4 684.3,942.1 686.3,940.5 688.3,941.1 690.3,941.6 692.3,941.3 694.3,942.4 696.3,940.7 698.3,940.2 700.3,938.7 702.3,938.1 704.3,938.3 706.3,939.0 708.3,939.4 710.3,938.7 712.3,936.8 714.3,937.6 716.3,937.0 718.3,935.7 720.3,936.5 722.3,937.9 724.3,937.1 726.3,934.6 728.3,934.4 730.3,934.6 731,934.8 732,935.1 732.3,935.1 733,934.5 734,933.6 734.3,933.3 735,932.7 736,931.9 736.3,931.6 737,931.1 738,930.4 738.3,930.2 739,929.3 740,928.0 740.3,927.5 741,927.7 742,927.9 742.3,928.0 743,927.9 744,927.7 744.3,927.6 745,926.4 746,924.5 746.3,923.9 747,922.2 748,919.2 748.3,918.2 749,916.9 750,914.9 750.3,914.4 751,912.9 752,913.0 752.3,913.4 753,914.1 754,914.8 754.3,914.8 755,915.1 756,915.0 756.3,914.8 757,914.7 758,914.1 758.3,913.9 759,912.9 760,911.3 760.3,910.8 761,909.7 762,907.9 762.3,907.3 763,906.0 764,903.9 764.3,903.2 765,901.1 766,897.8 766.3,896.7 767,894.5 768,890.8 768.3,889.6 769,886.1 770,880.6 770.3,878.7 771,874.6 772,868.0 772.3,865.8 773,860.7 774,853.4 774.3,851.3 775,846.5 776,841.5 776.3,840.5 777,839.4 778,840.7 778.3,841.8 779,844.8 780,850.8 780.3,852.8 781,857.9 782,865.0 782.3,867.1 783,872.0 784,878.4 784.3,880.2 785,883.3 786,887.2 786.3,888.2 787,890.4 788,893.1 788.3,893.8 789,895.6 790,897.9 790.3,898.5 791,900.0 792,902.1 792.3,902.6 793,904.2 794,906.4 794.3,907.0 795,908.2 796,909.8 796.3,910.2 797,911.1 798,912.3 798.3,912.6 799,912.8 800,913.0 800.3,913.0 801,913.8 802.3,915.4 804.3,917.0 806.3,917.4 808.3,920.5 810.3,923.1 812.3,923.4 814.3,925.1 816.3,928.6 818.3,928.3 820.3,930.8 822.3,931.5 824.3,931.7 826.3,931.5 828.3,932.6 830.3,935.4 832.3,936.3 834.3,935.1 836.3,936.1 838.3,936.1 840.3,936.1 842.3,935.4 844.3,934.5 846.3,933.4 848.3,933.1 850.3,934.4 852.3,934.2 854.3,932.6 856.3,931.6 858.3,932.1 860.3,933.1 862.3,933.5 864.3,933.0 866.3,932.2 868.3,931.8 870.3,930.9 872.3,932.6 874.3,932.3 876.3,931.5 878.3,931.7 880.3,932.6 882.3,934.5 884.3,936.6 886.3,937.1 888.3,939.0 890.3,939.2 892.3,938.4 894.3,939.2 896.3,940.5 898.3,942.6 900.3,945.6 902.3,946.7 904.3,945.2 906.3,944.7 908.3,944.7 910.3,945.9 912.3,945.2 914.3,945.5 916.3,946.5 918.3,947.4 920.3,946.5 922.3,945.2 924.3,946.8 926.3,947.2 928.3,948.1 930.3,948.5 932.3,946.6 934.3,947.6 936.3,948.0 937,947.5 937.5,947.2 938,946.8 938.3,946.6 938.5,946.7 939,947.0 939.5,947.3 940,947.5 940.3,947.6 940.5,947.6 941,947.3 941.5,947.1 942,946.7 942.3,946.5 942.5,946.3 943,945.6 943.5,944.8 944,943.9 944.3,943.4 944.5,942.9 945,941.8 945.5,940.4 946,938.7 946.3,937.6 946.5,936.9 947,934.8 947.5,932.0 948,928.4 948.3,925.7 948.5,923.6 949,917.1 949.5,908.6 950,897.6 950.3,889.8 950.5,884.0 951,868.8 951.5,856.0 952,850.7 952.3,852.4 952.5,855.6 953,868.1 953.5,882.9 954,896.5 954.3,903.4 954.5,907.6 955,916.3 955.5,922.9 956,928.0 956.3,930.5 956.5,932.1 957,935.4 957.5,938.1 958,940.3 958.3,941.5 958.5,942.1 959,943.6 959.5,944.8 960,945.8 960.3,946.4 960.5,946.7 961,947.5 961.5,948.1 962,948.7 962.3,949.0 962.5,949.1 963,949.4 963.5,949.6 964,949.7 964.3,949.8 964.5,949.8 965,949.9 965.5,950.0 966,950.0 966.3,950.0 966.5,950.1 967,950.2 968.3,950.5 970.3,950.8 972.3,951.9 974.3,951.0 976.3,951.0 978.3,951.2 980.3,950.5 982.3,952.3 984.3,953.5 986.3,953.3 988.3,953.0 990.3,952.6 992.3,952.2 994.3,951.7 996.3,951.1 998.3,952.2 1000.3,953.3 1002.3,953.8 1004.3,952.4 1006.3,952.4 1008.3,952.5 1010.3,951.8 1012.3,951.5 1014.3,951.6 1016.3,952.3 1018.3,952.9 1020.3,950.6 1022.3,950.0 1024.3,950.3 1026.3,951.8 1028.3,952.2 1030.3,951.6 1032.3,952.3 1034.3,952.1 1036.3,953.4 1038.3,953.4 1040.3,953.4 1042.3,952.5 1044.3,953.8 1046.3,953.9 1048.3,953.0 1050.3,953.1 1052.3,955.2 1054.3,955.6 1056.3,955.5 1058.3,956.7 1060.3,957.5 1062.3,957.5 1064.3,956.8 1066.3,957.8 1068.3,957.9 1070.3,957.4 1072.3,958.0 1074.3,958.5 1076.3,959.8 1078.3,959.5 1080.3,960.0 1082.3,961.1 1084.3,962.0 1086.3,961.0 1088.3,960.0 1090.3,961.8 1092.3,961.9 1094.3,962.3 1096.3,961.6 1098.3,961.1 1100.3,960.9 1102.3,962.2 1104.3,962.8 1106.3,962.1 1108.3,962.0 1110.3,962.3 1112.3,963.2 1114.3,964.0 1116.3,964.6 1118.3,964.0 1120.3,963.9 1122,963.7 1122.3,963.7 1123,964.1 1124,964.7 1124.3,964.9 1125,964.7 1126,964.4 1126.3,964.3 1127,963.9 1128,963.2 1128.3,963.0 1129,963.1 1130,963.1 1130.3,963.1 1131,963.5 1132,964.0 1132.3,964.2 1133,964.5 1134,964.9 1134.3,965.1 1135,965.0 1136,964.9 1136.3,964.9 1137,965.0 1138,965.1 1138.3,965.1 1139,964.5 1140,963.6 1140.3,963.3 1141,962.5 1142,961.1 1142.3,960.6 1143,960.2 1144,959.6 1144.3,959.4 1145,959.2 1146,959.2 1146.3,959.3 1147,958.7 1148,958.4 1148.3,958.4 1149,958.7 1150,959.3 1150.3,959.5 1151,960.2 1152,961.0 1152.3,961.2 1153,961.7 1154,962.4 1154.3,962.6 1155,963.5 1156,964.8 1156.3,965.1 1157,965.4 1158,965.7 1158.3,965.7 1159,965.6 1160,965.3 1160.3,965.2 1161,965.9 1162,966.9 1162.3,967.2 1163,967.2 1164,967.2 1164.3,967.2 1165,966.7 1166,966.0 1166.3,965.7 1167,965.4 1168,964.9 1168.3,964.7 1169,965.0 1170,965.4 1170.3,965.6 1171,965.8 1172,966.1 1172.3,966.2 1174.3,967.0 1176.3,966.9 1178.3,968.3 1180.3,969.2 1182.3,966.8 1184.3,966.4 1186.3,968.4 1188.3,968.3 1190.3,965.6 1192.3,965.5 1194.3,965.7 1196.3,967.0 1198.3,967.2 1200.3,966.6 1202.3,967.5 1204.3,967.5 1206.3,964.5 1208.3,964.8 1210.3,966.3 1212.3,967.3 1214.3,967.8 1216.3,968.3 1218.3,969.0 1220.3,967.7 1222.3,966.4 1224.3,965.9 1226.3,965.2 1228.3,966.6 1230.3,967.1 1232.3,966.4 1234.3,967.0 1236.3,966.2 1238.3,967.1 1240.3,967.5 1242.3,968.5 1244.3,967.7 1246.3,967.0 1248.3,966.2 1250.3,965.6 1252.3,965.6 1254.3,965.3 1256.3,965.4 1258.3,967.6 1260.3,968.2 1262.3,967.7 1264.3,967.1 1266.3,965.1 1268.3,964.2 1270.3,966.6 1272.3,967.6 1274.3,967.7 1276.3,967.9 1278.3,967.5 1280.3,966.7 1282.3,967.5 1284.3,968.0 1286.3,968.6 1288.3,968.1 1290.3,967.4 1292.3,967.0 1294.3,966.4 1296.3,966.8 1298.3,967.1 1300.3,965.3 1302.3,965.8 1304.3,967.0 1306.3,965.9 1308.3,965.4 1310.3,967.0 1312.3,967.7 1314.3,967.3 1316.3,966.6 1318.3,966.4 1320.3,968.4 1322.3,966.6 1324.3,966.0 1326.3,967.2 1328.3,967.2 1330.3,966.8 1332.3,966.8 1334.3,967.1 1336.3,966.5 1338.3,965.4 1340.3,965.8 1342.3,966.2 1344.3,966.1 1346.3,965.1 1348.3,964.6 1350.3,965.5 1352.3,965.8 1354.3,965.0 1356.3,963.6 1358.3,964.8 1360.3,965.9 1362.3,965.0 1364.3,964.0 1366.3,964.3 1368.3,963.8 1370.3,963.7 1372.3,964.3 1374.3,963.8 1376.3,963.6 1378.3,965.4 1380.3,964.7 1382.3,962.4 1384.3,963.0 1386.3,962.8 1388.3,960.9 1390.3,961.9 1392.3,964.1 1394.3,964.2 1396.3,964.3 1398.3,964.3 1400.3,964.0 1402.3,963.5 1404.3,962.7 1406.3,962.6 1408.3,964.0 1410.3,966.0 1412.3,966.9 1414.3,966.9 1415.6,966.1 1416.3,965.7 1416.6,965.7 1417.6,965.5 1418.3,965.4 1418.6,965.7 1419.6,966.5 1420.3,967.1 1420.6,967.1 1421.6,967.1 1422.3,967.1 1422.6,966.9 1423.6,966.4 1424.3,966.0 1424.6,965.9 1425.6,965.3 1426.3,964.8 1426.6,964.6 1427.6,963.7 1428.3,962.9 1428.6,962.6 1429.6,961.3 1430.3,960.0 1430.6,959.1 1431.6,955.4 1432.3,952.2 1432.6,951.1 1433.6,946.9 1434.3,944.1 1434.6,943.2 1435.6,942.0 1436.3,943.4 1436.6,944.3 1437.6,948.9 1438.3,952.4 1438.6,953.9 1439.6,958.4 1440.3,961.0 1440.6,961.7 1441.6,963.6 1442.3,964.6 1442.6,964.8 1443.6,965.5 1444.3,965.8 1444.6,965.9 1445.6,966.3 1446.3,966.5 1446.6,966.7 1447.6,967.0 1448.3,967.2 1448.6,967.7 1449.6,969.3 1450.3,970.3 1450.6,970.4 1451.6,970.8 1452.3,971.0 1452.6,971.0 1453.6,971.0 1454.3,971.0 1454.6,970.9 1455.6,970.4 1456.3,970.0 1458.3,970.3 1460.3,971.5 1462.3,971.4 1464.3,971.9 1466.3,973.2 1468.3,972.7 1470.3,972.3 1472.3,971.9 1474.3,971.6 1476.3,972.2 1478.3,972.8 1480.3,974.1 1482.3,972.6 1484.3,970.5 1486.3,970.8 1488.3,971.4 1490.3,972.8 1492.3,971.9 1494.3,970.6 1496.3,971.4 1498.3,972.8 1500.3,972.7 1502.3,972.0 1504.3,971.5 1506.3,970.3 1508.3,970.7 1510.3,970.8 1512.3,970.2 1514.3,970.3 1516.3,969.5 1518.3,969.7 1520.3,968.0 1522.3,966.1 1524.3,964.6 1526.3,964.1 1528.3,963.7 1530.3,962.4 1532.3,961.2 1534.3,961.0 1536.3,960.7 1538.3,961.9 1540.3,963.6 1542.3,964.4 1544.3,964.9 1546.3,966.1 1548.3,967.8 1550.3,968.0 1552.3,967.2 1553.5,967.6 1554,967.8 1554.3,967.8 1554.5,968.0 1555,968.2 1555.5,968.5 1556,968.8 1556.3,968.9 1556.5,969.0 1557,969.1 1557.5,969.2 1558,969.4 1558.3,969.4 1558.5,969.4 1559,969.5 1559.5,969.5 1560,969.5 1560.3,969.5 1560.5,969.6 1561,969.6 1561.5,969.6 1562,969.6 1562.3,969.6 1562.5,969.5 1563,969.0 1563.5,968.5 1564,968.0 1564.3,967.6 1564.5,967.6 1565,967.3 1565.5,967.1 1566,966.6 1566.3,966.3 1566.5,965.9 1567,964.8 1567.5,963.6 1568,962.1 1568.3,961.1 1568.5,960.4 1569,958.7 1569.5,957.0 1570,955.5 1570.3,954.7 1570.5,954.4 1571,954.0 1571.5,954.5 1572,955.7 1572.3,956.6 1572.5,957.3 1573,959.2 1573.5,961.1 1574,962.8 1574.3,963.8 1574.5,964.3 1575,965.5 1575.5,966.6 1576,967.5 1576.3,967.9 1576.5,968.4 1577,969.4 1577.5,970.4 1578,971.3 1578.3,971.8 1578.5,972.0 1579,972.2 1579.5,972.4 1580,972.5 1580.3,972.6 1580.5,972.6 1581,972.6 1581.5,972.6 1582,972.6 1582.3,972.6 1582.5,972.6 1583,972.5 1583.5,972.5 1584,972.4 1584.3,972.3 1584.5,972.5 1585,972.9 1585.5,973.3 1586,973.8 1586.3,974.0 1586.5,974.1 1587,974.4 1587.5,974.6 1588,974.9 1588.3,975.0 1588.5,975.2 1590.3,976.4 1592.3,976.6 1594.3,975.5 1596.3,975.6 1598.3,977.4 1600.3,977.2 1602.3,978.1 1604.3,978.8 1606.3,978.5 1608.3,976.4 1610.3,976.0 1612.3,976.6 1614.3,977.2 1616.3,978.3 1618.3,978.6 1620.3,978.9 1622.3,978.7 1624.3,978.8 1626.3,978.9 1628.3,978.5 1630.3,978.5 1632.3,979.5 1634.3,978.3 1636.3,976.6 1638.3,976.8 1640.3,978.5 1642.3,978.4 1644.3,977.8 1646.3,977.6 1648.3,978.9 1650.3,979.7 1652.3,978.9 1654.3,977.8 1656.3,978.3 1658.3,978.4 1660.3,977.6 1662.3,977.1 1664.3,977.8 1666.3,980.0 1668.3,980.1 1670.3,978.7 1672.3,978.7 1674.3,979.4 1676.3,979.4 1677.5,978.8 1678.3,978.4 1678.5,978.2 1679.5,977.4 1680.3,976.8 1680.5,976.7 1681.5,976.5 1682.3,976.3 1682.5,976.4 1683.5,976.8 1684.3,977.1 1684.5,977.2 1685.5,977.6 1686.3,977.9 1686.5,977.9 1687.5,977.6 1688.3,977.5 1688.5,977.4 1689.5,976.8 1690.3,976.3 1690.5,976.3 1691.5,976.0 1692.3,975.7 1692.5,975.8 1693.5,976.0 1694.3,976.1 1694.5,975.9 1695.5,974.8 1696.3,973.8 1696.5,973.7 1697.5,973.0 1698.3,972.2 1698.5,972.1 1699.5,971.1 1700.3,970.3 1700.5,970.1 1701.5,969.5 1702.3,969.3 1702.5,969.2 1703.5,969.4 1704.3,970.0 1704.5,969.9 1705.5,969.7 1706.3,969.5 1706.5,969.6 1707.5,970.2 1708.3,970.5 1708.5,971.0 1709.5,973.0 1710.3,974.4 1710.5,974.7 1711.5,975.7 1712.3,976.5 1712.5,976.6 1713.5,976.8 1714.3,977.0 1714.5,977.0 1715.5,976.9 1716.3,976.9 1716.5,976.8 1717.5,976.5 1718.3,976.2 1718.5,976.2 1719.5,976.5 1720.3,976.7 1720.5,976.8 1721.5,977.4 1722.3,977.9 1722.5,977.8 1723.5,977.4 1724.3,977.1 1724.5,977.2 1725.5,977.4 1726.3,977.5 1726.5,977.5 1727.5,977.3 1728.3,977.1 1730.3,976.4 1732.3,975.9 1734.3,976.1 1736.3,975.7 1738.3,975.1 1740.3,975.0 1742.3,975.4 1744.3,976.8 1746.3,976.2 1748.3,976.9 1750.3,978.9 1752.3,978.3 1754.3,977.8 1756.3,978.5 1758.3,978.7 1760.3,978.6 1762.3,978.1 1764.3,979.3 1766.3,979.3 1768.3,978.7 1770.3,978.5 1772.3,979.0 1774.3,979.2 1776.3,980.2 1778.3,980.5 1780.3,980.4 1782.3,981.9 1784.3,981.7 1786.3,980.8 1788.3,982.1 1790.3,980.9 1792.3,980.2 1794.3,981.5 1796.3,983.0 1798.3,983.1 1800.3,981.9 1802.3,982.1 1804.3,982.7 1806.3,983.6 1808.3,983.4 1810.3,983.0 1812.3,982.6 1814.3,982.5 1816.3,982.4 1818.3,981.9 1820.3,982.0 1822.3,983.2 1824.3,982.8 1826.3,982.4 1828.3,982.3 1830.3,982.5 1832.3,982.4 1834.3,982.7 1836.3,982.9 1838.3,982.9 1840.3,981.7 1842.3,983.4 1844.3,982.9 1846.3,981.9 1848.3,982.6 1850.3,982.4 1852.3,982.3 1854.3,982.3 1856.3,982.4 1858.3,982.2 1860.3,981.9 1862.3,982.0 1864.3,983.0 1866.3,983.4 1868.3,983.2 1870.3,982.4 1872.3,982.6 1874.3,982.8 1876.3,982.6 1878.3,982.8 1880.3,982.8 1882.3,982.2 1884.3,982.3 1886.3,981.4 1888.3,981.5 1890.3,981.5 1892.3,981.9 1894.3,982.4 1896.3,981.1 1898.3,981.4 1900.3,982.1 1902.3,982.4 1904.3,981.3 1906.3,980.7 1908.3,981.2 1910.3,982.0 1912.3,982.8"/>
<polyline class="cv" stroke="#008000" points="20.3,601.5 22.3,604.1 24.3,606.8 26.3,611.3 28.3,616.9 30.3,614.4 32.3,614.4 34.3,617.3 36.3,621.5 38.3,621.8 40.3,624.4 42.3,629.0 44.3,629.9 46.3,629.0 48.3,634.6 50.3,635.6 52.3,637.1 54.3,639.0 56.3,641.8 58.3,638.7 60.3,638.7 62.3,643.2 64.3,646.9 66.3,647.0 68.3,650.2 70.3,651.3 72.3,648.1 74.3,653.0 76.3,654.6 78.3,652.6 80.3,653.1 82.3,654.8 84.3,657.1 86.3,656.8 88.3,660.2 90.3,661.6 92.3,658.3 94.3,661.7 96.3,662.9 98.3,663.9 100.3,666.7 102.3,666.3 104.3,665.0 106.3,667.4 108.3,670.1 110.3,669.6 112.3,671.7 114.3,679.7 116.3,681.2 118.3,680.6 120.3,677.9 122.3,674.8 124.3,678.5 126.3,682.0 128.3,681.3 130.3,682.8 132.3,686.6 134.3,690.5 136.3,689.5 138.3,688.2 140.3,688.7 142.3,692.9 144.3,693.1 146.3,692.9 148.3,693.1 150.3,694.0 152.3,697.9 154.3,701.9 156.3,701.0 158.3,701.4 160.3,701.6 162.3,703.4 164.3,704.0 166.3,708.2 168.3,708.8 170.3,710.5 172.3,713.0 174.3,716.6 176.3,717.2 178.3,716.8 180.3,714.7 182.3,715.9 184.3,717.9 186.3,719.8 188.3,722.6 190.3,726.9 192.3,727.9 194.3,728.4 196.3,728.4 198.3,729.1 200.3,731.3 202.3,736.0 204.3,737.8 206.3,739.5 208.3,739.8 210.3,739.7 212.3,741.2 214.3,741.1 216.3,745.8 218.3,747.7 220.3,748.9 222.3,750.7 224.3,752.1 226.3,752.3 228.3,753.1 230.3,753.5 232.3,754.8 234.3,757.5 236.3,759.3 238.3,758.3 240.3,757.0 242.3,757.3 244.3,760.4 246.3,762.1 248.3,765.5 250.3,767.5 252.3,766.6 254.3,769.5 256.3,770.2 258.3,768.0 260.3,768.9 262.3,771.2 264.3,770.1 266.3,771.1 268.3,774.1 270.3,773.9 272.3,774.7 274.3,777.5 276.3,778.5 278.3,780.1 280.3,783.0 282.3,782.9 284.3,781.0 286.3,784.0 288.3,784.8 290.3,785.8 292.3,787.8 294.3,789.8 296.3,789.1 298.3,788.3 300.3,788.5 302.3,787.9 304.3,790.8 306.3,791.8 308.3,790.9 310.3,791.2 312.3,792.2 314.3,795.0 316.3,797.9 318.3,798.2 320.3,798.3 322.3,800.2 324.3,802.4 326.3,801.5 328.3,802.1 330.3,805.5 332.3,804.5 334.3,805.4 336.3,806.8 338.3,806.7 340.3,807.2 341.5,808.3 342,808.8 342.3,809.1 342.5,809.0 343,809.0 343.5,808.9 344,808.9 344.3,808.8 344.5,808.8 345,808.8 345.5,808.7 346,808.7 346.3,808.6 346.5,808.6 347,808.6 347.5,808.5 348,808.4 348.3,808.3 348.5,808.3 349,808.2 349.5,808.1 350,807.8 350.3,807.6 350.5,807.1 351,805.7 351.5,804.0 352,802.1 352.3,800.7 352.5,799.9 353,797.5 353.5,794.4 354,790.3 354.3,787.4 354.5,785.3 355,779.5 355.5,773.1 356,767.7 356.3,765.9 356.5,765.7 357,768.4 357.5,774.5 358,781.6 358.3,785.6 358.5,788.0 359,793.2 359.5,797.3 360,800.4 360.3,802.0 360.5,802.9 361,804.7 361.5,806.1 362,807.3 362.3,807.9 362.5,808.2 363,808.9 363.5,809.6 364,810.1 364.3,810.4 364.5,810.6 365,811.1 365.5,811.6 366,812.0 366.3,812.2 366.5,812.2 367,812.1 367.5,811.9 368,811.7 368.3,811.6 368.5,811.7 369,811.9 369.5,812.0 370,812.2 370.3,812.3 370.5,812.5 371,813.0 371.5,813.5 372.3,814.3 374.3,814.7 376.3,815.5 378.3,816.3 380.3,817.5 382.3,819.7 384.3,821.5 386.3,822.4 388.3,821.7 390.3,820.7 392.3,820.2 394.3,820.5 396.3,821.0 398.3,824.4 400.3,826.2 402.3,824.9 404.3,823.9 406.3,822.5 408.3,824.1 410.3,824.7 412.3,825.5 414.3,825.4 416.3,825.6 418.3,826.0 420.3,827.7 422.3,830.9 424.3,830.0 426.3,827.8 428.3,828.6 430.3,830.2 432.3,831.7 434.3,829.1 436.3,830.9 438.3,833.0 440.3,834.8 442.3,834.3 444.3,831.6 446.3,829.5 448.3,830.2 450.3,831.6 452.3,832.4 454.3,832.2 456.3,832.3 458.3,834.4 460.3,834.7 462.3,834.3 464.3,834.3 466.3,834.5 468.3,835.8 470.3,838.8 472.3,837.3 474.3,837.0 476.3,839.0 478.3,838.2 480.3,837.8 482.3,837.0 484.3,837.0 486.3,836.7 488.3,839.5 490.3,841.5 492.3,840.3 494.3,840.2 496.3,841.4 498.3,841.0 500.3,839.1 502.3,839.2 504.3,840.5 506.3,841.9 508.3,840.1 510.3,840.4 512.3,841.4 514.3,842.1 516.3,842.2 518.3,842.4 520.3,843.2 522.3,842.6 524.3,844.3 526.3,843.6 528.3,843.1 530.3,841.8 532.3,842.3 534.3,841.4 536.3,841.5 538.3,843.7 540.3,843.5 542.3,841.9 544.3,841.5 546.3,844.2 548.3,844.6 550.3,845.2 552.3,846.0 554.3,844.8 556.3,841.0 558.3,840.4 560.3,843.5 562.3,843.3 564.3,845.5 566.3,845.7 568.3,845.1 570.3,844.6 572.3,843.5 574.3,844.7 576.3,845.6 578.3,846.7 580.3,847.7 582.3,846.2 584.3,847.1 586.3,847.7 588.3,845.4 590.3,844.4 592.3,844.5 594.3,844.1 596.3,844.3 598.3,846.8 600.3,848.1 602.3,847.1 604.3,845.6 606.3,845.5 608.3,846.2 610.3,845.6 612.3,845.7 614.3,846.1 616.3,847.2 618.3,847.3 620.3,846.4 622.3,845.0 624.3,845.7 626.3,847.7 628.3,848.4 630.3,847.5 632.3,849.1 634.3,846.9 636.3,846.1 638.3,846.3 640.3,845.6 642.3,846.1 644.3,846.2 646.3,845.5 648.3,845.6 650.3,846.6 652.3,847.8 654.3,848.2 656.3,846.0 658.3,844.1 660.3,844.2 662.3,843.8 664.3,844.8 666.3,845.0 668.3,845.8 670.3,845.6 672.3,845.3 674.3,845.6 676.3,846.1 678.3,844.3 680.3,845.7 682.3,846.5 684.3,845.5 686.3,844.9 688.3,844.4 690.3,843.5 692.3,843.2 694.3,844.7 696.3,845.4 698.3,845.0 700.3,844.5 702.3,845.0 704.3,845.5 706.3,845.6 708.3,843.3 710.3,840.5 712.3,841.2 714.3,842.1 716.3,841.1 718.3,841.8 720.3,841.2 722.3,841.3 724.3,840.8 726.3,839.7 728.3,840.2 730.3,840.3 731,839.5 732,838.5 732.3,838.2 733,837.8 734,837.2 734.3,837.0 735,836.7 736,836.3 736.3,836.1 737,836.2 738,836.4 738.3,836.4 739,836.0 740,835.3 740.3,835.1 741,834.0 742,832.4 742.3,831.9 743,831.3 744,830.4 744.3,830.1 745,829.7 746,828.9 746.3,828.7 747,827.6 748,825.7 748.3,825.0 749,823.3 750,820.8 750.3,820.1 751,818.3 752,817.5 752.3,817.5 753,817.6 753.4,817.6 754,817.5 754.3,817.4 754.4,817.4 755,817.1 755.4,816.9 756,816.4 756.3,816.1 756.4,816.0 757,815.5 757.4,815.0 758,814.3 758.3,813.9 758.4,813.7 759,812.9 759.4,812.2 760,811.3 760.3,810.7 760.4,810.7 761,810.3 761.4,809.9 762,809.4 762.3,809.1 762.4,808.9 763,807.8 763.4,807.1 764,805.8 764.3,805.1 764.4,804.7 765,802.2 765.4,800.4 766,797.6 766.3,796.1 766.4,795.7 767,793.2 767.4,791.4 768,788.6 768.3,787.0 768.4,786.6 769,783.8 769.4,781.8 770,778.6 770.3,776.9 770.4,776.3 771,772.6 771.4,770.0 772.3,763.8 772.4,763.0 773.4,755.2 774.3,748.3 774.4,747.6 775.4,741.6 776.3,737.8 776.4,737.5 777.4,735.7 778.3,736.9 778.4,737.1 779.4,740.6 780.3,745.5 780.4,746.2 781.4,753.3 782.3,759.8 782.4,760.6 783.4,767.5 784.3,773.2 784.4,773.8 785.4,780.0 786.3,785.0 786.4,785.5 787.4,789.9 788.3,793.4 788.4,793.6 789.4,795.6 790.3,797.0 790.4,797.2 791.4,799.3 792.3,800.9 792.4,801.1 793.4,803.1 794.3,804.8 794.4,805.0 795.4,807.2 796.3,809.1 796.4,809.3 797.4,810.7 798.3,811.9 798.4,812.0 799.4,813.0 800.3,813.8 800.4,814.0 801.4,815.6 802.3,817.1 804.3,821.8 806.3,823.8 808.3,823.0 810.3,824.8 812.3,826.6 814.3,828.4 816.3,829.4 818.3,832.1 820.3,834.4 822.3,835.0 824.3,834.7 826.3,837.0 828.3,836.2 830.3,836.3 832.3,839.0 834.3,840.0 836.3,839.5 838.3,840.2 840.3,840.1 842.3,839.2 844.3,837.7 846.3,837.6 848.3,838.1 850.3,838.7 852.3,838.4 854.3,835.7 856.3,834.0 858.3,833.5 860.3,833.8 862.3,833.0 864.3,834.2 866.3,833.2 868.3,832.6 870.3,833.5 872.3,833.3 874.3,833.7 876.3,835.5 878.3,837.1 880.3,837.9 882.3,839.3 884.3,840.4 886.3,840.4 888.3,842.3 890.3,843.9 892.3,844.5 894.3,846.6 896.3,847.2 898.3,845.8 900.3,847.2 902.3,848.9 904.3,849.0 906.3,849.8 908.3,849.9 910.3,848.7 912.3,849.6 914.3,848.7 916.3,848.1 918.3,850.0 920.3,850.1 922.3,850.8 924.3,852.1 926.3,852.3 928.3,851.2 930.3,850.4 932.3,851.2 934.3,852.5 936.3,852.3 937,852.7 937.5,853.0 938,853.3 938.3,853.4 938.5,853.4 939,853.2 939.5,853.0 940,852.9 940.3,852.7 940.5,852.5 941,852.0 941.5,851.4 942,850.9 942.3,850.5 942.5,850.5 943,850.4 943.5,850.3 944,850.2 944.3,850.0 944.5,849.7 945,848.8 945.5,847.8 946,846.7 946.3,845.9 946.5,845.4 947,844.0 947.5,842.3 948,840.1 948.3,838.5 948.5,837.3 949,833.6 949.5,828.8 950,822.5 950.3,818.1 950.5,814.8 951,806.3 951.5,799.2 952,796.2 952.3,797.1 952.5,799.0 953,806.3 953.5,814.8 954,822.7 954.3,826.7 954.5,829.2 955,834.4 955.5,838.4 956,841.6 956.3,843.2 956.5,844.1 957,846.2 957.5,847.9 958,849.4 958.3,850.2 958.5,850.4 959,851.0 959.5,851.4 960,851.7 960.3,851.8 960.5,851.8 961,851.8 961.5,851.7 962,851.6 962.3,851.5 962.5,851.6 963,852.0 963.5,852.3 964,852.6 964.3,852.8 964.5,853.0 965,853.3 965.5,853.6 966,853.9 966.3,854.1 966.5,854.1 967,853.9 968.3,853.3 970.3,852.9 972.3,853.4 974.3,853.3 976.3,854.0 978.3,854.5 980.3,855.4 982.3,854.5 984.3,853.7 986.3,855.0 988.3,854.9 990.3,854.4 992.3,855.0 994.3,854.3 996.3,853.5 998.3,854.5 1000.3,857.2 1002.3,857.8 1004.3,856.6 1006.3,856.3 1008.3,855.5 1010.3,857.2 1012.3,857.6 1014.3,857.9 1016.3,857.6 1018.3,857.3 1020.3,856.7 1022.3,858.1 1024.3,858.6 1026.3,859.5 1028.3,860.1 1030.3,858.2 1032.3,860.0 1034.3,860.8 1036.3,860.9 1038.3,861.2 1040.3,859.9 1042.3,858.7 1044.3,859.5 1046.3,859.7 1048.3,858.9 1050.3,861.1 1052.3,861.7 1054.3,860.7 1056.3,861.7 1058.3,862.2 1060.3,862.7 1062.3,863.2 1064.3,864.2 1066.3,864.6 1068.3,865.6 1070.3,864.9 1072.3,865.7 1074.3,865.6 1076.3,863.5 1078.3,864.6 1080.3,865.3 1082.3,865.4 1084.3,865.7 1086.3,866.7 1088.3,866.4 1090.3,866.0 1092.3,866.6 1094.3,865.9 1096.3,866.1 1098.3,865.1 1100.3,864.5 1102.3,865.5 1104.3,868.2 1106.3,867.9 1108.3,867.1 1110.3,867.5 1112.3,866.8 1114.3,866.4 1116.3,866.2 1118.3,867.7 1120.3,869.6 1122.3,870.9 1123,870.3 1124,869.4 1124.3,869.1 1125,869.1 1126,869.0 1126.3,869.0 1127,869.2 1128,869.5 1128.3,869.5 1129,869.6 1130,869.7 1130.3,869.7 1131,869.2 1132,868.5 1132.3,868.3 1133,868.1 1134,867.9 1134.3,867.8 1135,868.1 1136,868.6 1136.3,868.7 1137,868.2 1138,867.5 1138.3,867.3 1139,867.4 1140,867.4 1140.3,867.4 1141,866.9 1142,866.0 1142.3,865.8 1143,865.2 1144,864.2 1144.3,863.9 1145,863.1 1146,861.8 1146.3,861.5 1147,860.7 1148,860.0 1148.3,859.9 1149,860.9 1150,862.7 1150.3,863.4 1151,863.6 1152,864.0 1152.3,864.1 1153,864.7 1154,865.5 1154.3,865.6 1155,866.3 1156,867.1 1156.3,867.3 1157,866.9 1158,866.3 1158.3,866.1 1159,866.8 1160,867.7 1160.3,868.0 1161,868.7 1162,869.7 1162.3,869.9 1163,870.0 1164,870.1 1164.3,870.2 1165,870.3 1166,870.4 1166.3,870.5 1167,870.4 1168,870.4 1168.3,870.3 1169,870.4 1170,870.4 1170.3,870.4 1171,870.6 1172,870.8 1172.3,870.9 1173,871.5 1174.3,872.7 1176.3,871.8 1178.3,870.1 1180.3,870.6 1182.3,872.1 1184.3,871.9 1186.3,869.9 1188.3,869.4 1190.3,868.4 1192.3,869.8 1194.3,871.9 1196.3,871.2 1198.3,869.7 1200.3,868.8 1202.3,869.5 1204.3,870.0 1206.3,870.0 1208.3,870.4 1210.3,869.2 1212.3,867.6 1214.3,868.1 1216.3,868.4 1218.3,868.4 1220.3,869.7 1222.3,868.7 1224.3,869.2 1226.3,869.5 1228.3,869.1 1230.3,868.5 1232.3,867.9 1234.3,868.6 1236.3,869.0 1238.3,868.1 1240.3,869.0 1242.3,868.0 1244.3,868.6 1246.3,868.5 1248.3,869.9 1250.3,870.4 1252.3,870.8 1254.3,870.5 1256.3,867.7 1258.3,864.8 1260.3,865.6 1262.3,867.1 1264.3,869.1 1266.3,869.1 1268.3,867.8 1270.3,868.2 1272.3,867.5 1274.3,867.3 1276.3,867.3 1278.3,866.7 1280.3,868.0 1282.3,868.8 1284.3,869.5 1286.3,869.1 1288.3,868.7 1290.3,869.0 1292.3,868.2 1294.3,867.6 1296.3,866.5 1298.3,866.8 1300.3,867.9 1302.3,869.2 1304.3,870.1 1306.3,869.7 1308.3,867.8 1310.3,867.1 1312.3,866.0 1314.3,865.9 1316.3,867.3 1318.3,866.6 1320.3,867.4 1322.3,867.0 1324.3,867.2 1326.3,867.8 1328.3,866.9 1330.3,867.4 1332.3,867.0 1334.3,867.4 1336.3,867.7 1338.3,867.6 1340.3,866.8 1342.3,867.3 1344.3,867.9 1346.3,867.5 1348.3,868.5 1350.3,868.5 1352.3,867.8 1354.3,867.3 1356.3,867.3 1358.3,867.0 1360.3,867.7 1362.3,868.1 1364.3,868.5 1366.3,867.3 1368.3,866.3 1370.3,867.0 1372.3,867.3 1374.3,868.0 1376.3,866.5 1378.3,866.1 1380.3,866.5 1382.3,866.7 1384.3,867.6 1386.3,869.2 1388.3,867.9 1390.3,867.9 1392.3,866.7 1394.3,866.4 1396.3,867.5 1398.3,868.9 1400.3,868.4 1402.3,868.0 1404.3,867.5 1406.3,868.4 1408.3,870.0 1410.3,867.6 1412.3,866.4 1413.1,866.9 1414.1,867.5 1414.3,867.6 1415.1,867.5 1416.1,867.3 1416.3,867.3 1417.1,867.0 1418.1,866.6 1418.3,866.5 1419.1,866.5 1420.1,866.5 1420.3,866.4 1421.1,867.2 1422.1,868.1 1422.3,868.3 1423.1,868.5 1424.1,868.6 1424.3,868.7 1425.1,868.5 1426.1,868.3 1426.3,868.3 1427.1,868.5 1428.1,868.8 1428.3,868.8 1429.1,868.4 1430.1,867.8 1430.3,867.7 1431.1,866.8 1432.1,865.5 1432.3,865.2 1433.1,864.2 1434.1,862.8 1434.3,862.6 1435.1,861.5 1435.6,861.1 1436.1,861.0 1436.3,861.0 1437.1,862.0 1438.1,863.6 1438.3,864.0 1439.1,865.0 1440.1,866.1 1440.3,866.3 1441.1,867.5 1442.1,868.7 1442.3,869.0 1443.1,869.9 1444.1,871.0 1444.3,871.2 1445.1,871.5 1446.1,871.7 1446.3,871.7 1447.1,872.3 1448.1,873.0 1448.3,873.1 1449.1,873.2 1450.1,873.4 1450.3,873.4 1451.1,873.1 1452.1,872.7 1452.3,872.6 1453.1,872.2 1454.1,871.6 1454.3,871.4 1455.1,871.8 1456.1,872.3 1456.3,872.4 1457.1,872.8 1458.1,873.4 1458.3,873.5 1460.3,873.7 1462.3,872.6 1464.3,871.9 1466.3,872.8 1468.3,871.7 1470.3,871.5 1472.3,871.2 1474.3,872.9 1476.3,874.4 1478.3,874.2 1480.3,872.9 1482.3,873.6 1484.3,873.8 1486.3,874.3 1488.3,874.7 1490.3,875.0 1492.3,875.0 1494.3,873.4 1496.3,873.8 1498.3,873.7 1500.3,872.6 1502.3,873.6 1504.3,873.4 1506.3,872.9 1508.3,873.8 1510.3,873.9 1512.3,874.3 1514.3,873.6 1516.3,874.3 1518.3,873.5 1520.3,872.7 1522.3,872.5 1524.3,871.9 1526.3,869.1 1528.3,867.0 1530.3,865.3 1532.3,863.5 1534.3,861.9 1536.3,863.6 1538.3,864.5 1540.3,864.3 1542.3,863.4 1544.3,862.9 1546.3,864.6 1548.3,866.9 1550.3,867.7 1550.5,867.7 1551.5,867.8 1552.3,867.9 1552.5,868.0 1553.5,868.5 1554.3,868.9 1554.5,868.9 1555.5,868.9 1556.3,868.9 1556.5,869.0 1557.5,869.3 1558.3,869.5 1558.5,869.6 1559.5,870.1 1560.3,870.5 1560.5,870.4 1561.5,870.0 1562.3,869.6 1562.5,869.5 1563.5,869.0 1564.3,868.4 1564.5,868.3 1565.5,867.8 1566.3,867.2 1566.5,867.1 1567.5,866.2 1568.3,865.2 1568.5,865.0 1569.5,864.3 1570.3,864.3 1570.5,864.4 1571.5,865.5 1572.3,867.1 1572.5,867.4 1573.5,869.0 1574.3,870.2 1574.5,870.3 1575.5,871.0 1576.3,871.3 1576.5,871.5 1577.5,872.3 1578.3,872.9 1578.5,873.2 1579.5,874.5 1580.3,875.5 1580.5,875.5 1581.5,875.4 1582.3,875.3 1582.5,875.3 1583.5,875.1 1584.3,875.0 1584.5,875.1 1585.5,875.5 1586.3,875.9 1586.5,875.9 1587.5,875.8 1588.3,875.8 1588.5,876.0 1589.5,877.1 1590.3,877.9 1590.5,878.0 1592.3,879.0 1594.3,877.5 1596.3,875.3 1598.3,877.7 1600.3,879.3 1602.3,879.9 1604.3,881.0 1606.3,879.1 1608.3,879.1 1610.3,880.5 1612.3,880.5 1614.3,880.8 1616.3,880.1 1618.3,879.2 1620.3,878.9 1622.3,879.9 1624.3,880.6 1626.3,881.8 1628.3,881.3 1630.3,880.2 1632.3,881.8 1634.3,881.2 1636.3,881.2 1638.3,883.3 1640.3,882.5 1642.3,882.1 1644.3,882.0 1646.3,881.0 1648.3,881.7 1650.3,881.9 1652.3,881.2 1654.3,881.9 1656.3,882.5 1658.3,881.4 1660.3,879.7 1662.3,880.8 1664.3,882.3 1666.3,883.3 1668.3,882.8 1670.3,881.9 1672.3,881.0 1674.3,882.6 1676.3,883.9 1678.3,882.2 1680.3,881.2 1682.3,881.5 1684.3,881.7 1686.3,880.9 1688.3,880.4 1690.3,879.5 1692.3,879.5 1694.3,879.1 1696.3,877.7 1698.3,876.7 1700.3,876.8 1702.3,874.8 1704.3,874.1 1706.3,873.7 1708.3,875.9 1710.3,878.2 1712.3,881.0 1714.3,881.0 1716.3,880.4 1718.3,881.0 1720.3,881.1 1722.3,880.8 1724.3,878.8 1726.3,878.4 1728.3,880.3 1730.3,881.0 1732.3,881.5 1734.3,882.3 1736.3,881.4 1738.3,880.9 1740.3,880.1 1742.3,879.2 1744.3,879.5 1746.3,880.4 1748.3,881.5 1750.3,882.8 1752.3,882.0 1754.3,880.8 1756.3,880.0 1758.3,881.5 1760.3,880.8 1762.3,879.5 1764.3,881.2 1766.3,882.0 1768.3,882.4 1770.3,882.0 1772.3,881.2 1774.3,881.5 1776.3,881.2 1778.3,881.7 1780.3,882.5 1782.3,882.2 1784.3,881.9 1786.3,883.0 1788.3,881.7 1790.3,880.7 1792.3,883.1 1794.3,883.8 1796.3,883.8 1798.3,882.7 1800.3,882.2 1802.3,882.4 1804.3,883.6 1806.3,884.3 1808.3,884.1 1810.3,883.7 1812.3,882.9 1814.3,883.6 1816.3,884.0 1818.3,884.2 1820.3,884.6 1822.3,882.5 1824.3,883.4 1826.3,883.8 1828.3,883.9 1830.3,884.0 1832.3,883.9 1834.3,883.9 1836.3,883.5 1838.3,882.6 1840.3,883.8 1842.3,883.9 1844.3,882.9 1846.3,883.8 1848.3,884.0 1850.3,884.2 1852.3,883.9 1854.3,883.5 1856.3,883.7 1858.3,883.3 1860.3,885.0 1862.3,883.9 1864.3,883.7 1866.3,884.7 1868.3,884.7 1870.3,885.7 1872.3,886.6 1874.3,885.9 1876.3,884.6 1878.3,883.9 1880.3,884.3 1882.3,884.1 1884.3,884.2 1886.3,882.7 1888.3,883.7 1890.3,884.3 1892.3,884.4 1894.3,885.5 1896.3,885.3 1898.3,884.1 1900.3,885.6 1902.3,885.3 1904.3,885.3 1906.3,885.3 1908.3,885.0 1910.3,885.3 1912.3,885.6"/>
<polyline class="cv" stroke="#000080" points="20.3,514.9 22.3,512.0 24.3,513.2 26.3,517.6 28.3,518.1 30.3,521.5 32.3,525.5 34.3,525.5 36.3,525.2 38.3,521.7 40.3,527.7 42.3,528.6 44.3,527.7 46.3,529.5 48.3,529.2 50.3,529.5 52.3,530.1 54.3,534.1 56.3,535.1 58.3,538.4 60.3,543.7 62.3,543.4 64.3,542.5 66.3,547.1 68.3,549.8 70.3,549.4 72.3,549.7 74.3,549.4 76.3,550.2 78.3,554.9 80.3,555.8 82.3,555.0 84.3,555.3 86.3,557.5 88.3,561.0 90.3,558.2 92.3,556.0 94.3,560.4 96.3,564.1 98.3,564.2 100.3,561.4 102.3,561.6 104.3,567.4 106.3,565.1 108.3,565.9 110.3,566.4 112.3,566.7 114.3,567.0 116.3,566.7 118.3,567.8 120.3,570.6 122.3,574.5 124.3,579.0 126.3,576.6 128.3,579.1 130.3,579.1 132.3,577.9 134.3,577.8 136.3,580.5 138.3,581.5 140.3,584.4 142.3,585.6 144.3,585.1 146.3,588.9 148.3,589.1 150.3,590.1 152.3,591.8 154.3,592.9 156.3,597.2 158.3,599.9 160.3,599.3 162.3,601.9 164.3,604.8 166.3,603.9 168.3,603.8 170.3,606.6 172.3,606.4 174.3,605.7 176.3,604.8 178.3,607.4 180.3,608.6 182.3,609.7 184.3,608.0 186.3,611.1 188.3,617.8 190.3,620.4 192.3,619.4 194.3,617.9 196.3,616.4 198.3,620.1 200.3,619.8 202.3,618.4 204.3,620.6 206.3,623.0 208.3,626.7 210.3,628.9 212.3,632.7 214.3,632.9 216.3,631.3 218.3,631.7 220.3,631.6 222.3,634.7 224.3,635.2 226.3,636.9 228.3,638.6 230.3,639.6 232.3,640.6 234.3,643.1 236.3,643.3 238.3,640.1 240.3,642.8 242.3,645.5 244.3,646.6 246.3,649.0 248.3,650.9 250.3,651.0 252.3,652.0 254.3,654.9 256.3,655.7 258.3,657.4 260.3,660.7 262.3,660.0 264.3,658.7 266.3,661.4 268.3,661.1 270.3,661.5 272.3,661.3 274.3,664.2 276.3,663.5 278.3,667.1 280.3,670.9 282.3,669.8 284.3,668.8 286.3,668.4 288.3,670.2 290.3,671.8 292.3,669.2 294.3,671.5 296.3,675.7 298.3,676.0 300.3,678.1 302.3,678.4 304.3,677.0 306.3,678.9 308.3,681.5 310.3,680.5 312.3,680.9 314.3,682.1 316.3,681.7 318.3,682.7 320.3,684.5 322.3,684.8 324.3,686.0 326.3,688.4 328.3,690.5 330.3,689.1 332.3,690.0 334.3,694.6 336.3,693.0 338.3,689.3 340.3,690.3 342,691.0 342.3,691.2 342.5,691.4 343,691.9 343.5,692.5 344,693.0 344.3,693.3 344.5,693.3 345,693.0 345.5,692.8 346,692.5 346.3,692.4 346.5,692.5 347,692.8 347.5,693.0 348,693.3 348.3,693.4 348.5,693.5 349,693.9 349.5,694.1 350,694.3 350.3,694.4 350.5,694.0 351,693.0 351.5,691.8 352,690.3 352.3,689.3 352.5,688.8 353,687.1 353.5,684.9 354,681.9 354.3,679.6 354.5,677.9 355,672.9 355.5,666.6 356,659.7 356.3,656.0 356.5,654.0 357,651.9 357.5,655.0 358,661.8 358.3,666.6 358.5,669.6 359,676.7 359.5,682.5 360,687.1 360.3,689.3 360.5,690.6 361,693.2 361.5,695.3 362,697.0 362.3,697.8 362.5,698.1 363,698.8 363.5,699.3 364,699.6 364.3,699.8 364.5,700.0 365,700.5 365.5,700.9 366,701.3 366.3,701.5 366.5,701.5 367,701.5 367.5,701.5 368,701.4 368.3,701.3 368.5,701.6 369,702.3 369.5,703.0 370,703.7 370.3,704.0 370.5,704.3 371,705.0 371.5,705.6 372,706.2 372.3,706.6 374.3,709.4 376.3,708.9 378.3,708.1 380.3,708.5 382.3,708.5 384.3,709.4 386.3,710.5 388.3,711.7 390.3,712.0 392.3,713.5 394.3,714.7 396.3,713.0 398.3,713.0 400.3,714.5 402.3,718.9 404.3,720.1 406.3,718.7 408.3,717.8 410.3,717.9 412.3,720.1 414.3,720.4 416.3,721.0 418.3,720.0 420.3,717.3 422.3,718.6 424.3,721.3 426.3,722.7 428.3,722.1 430.3,723.1 432.3,723.0 434.3,722.9 436.3,724.3 438.3,723.1 440.3,723.7 442.3,727.8 444.3,728.5 446.3,727.8 448.3,728.1 450.3,726.8 452.3,727.2 454.3,728.4 456.3,729.1 458.3,728.9 460.3,727.8 462.3,729.1 464.3,728.1 466.3,729.9 468.3,733.1 470.3,731.9 472.3,730.0 474.3,730.1 476.3,729.5 478.3,729.4 480.3,729.7 482.3,730.7 484.3,731.9 486.3,733.5 488.3,735.3 490.3,733.9 492.3,732.6 494.3,732.3 496.3,734.2 498.3,734.7 500.3,735.4 502.3,735.0 504.3,735.5 506.3,734.0 508.3,733.4 510.3,734.0 512.3,734.6 514.3,735.2 516.3,734.6 518.3,732.5 520.3,732.7 522.3,734.0 524.3,735.3 526.3,735.1 528.3,736.1 530.3,736.3 532.3,735.1 534.3,734.1 536.3,737.4 538.3,737.1 540.3,736.1 542.3,736.6 544.3,736.6 546.3,736.7 548.3,737.0 550.3,739.1 552.3,737.9 554.3,737.4 556.3,737.1 558.3,738.7 560.3,739.5 562.3,737.9 564.3,736.9 566.3,737.8 568.3,738.3 570.3,739.2 572.3,739.1 574.3,738.8 576.3,738.4 578.3,738.1 580.3,738.8 582.3,740.0 584.3,739.2 586.3,739.1 588.3,738.1 590.3,737.5 592.3,736.9 594.3,737.5 596.3,736.9 598.3,735.7 600.3,736.5 602.3,736.7 604.3,737.8 606.3,738.6 608.3,740.0 610.3,739.1 612.3,737.9 614.3,737.9 616.3,737.9 618.3,737.9 620.3,738.5 622.3,738.1 624.3,739.0 626.3,739.3 628.3,738.3 630.3,739.0 632.3,740.7 634.3,739.8 636.3,738.6 638.3,739.3 640.3,738.6 642.3,738.1 644.3,738.8 646.3,737.6 648.3,737.4 650.3,738.3 652.3,739.1 654.3,738.7 656.3,737.6 658.3,737.5 660.3,737.6 662.3,738.4 664.3,737.7 666.3,736.9 668.3,737.2 670.3,735.8 672.3,735.7 674.3,735.5 676.3,737.3 678.3,737.3 680.3,738.4 682.3,740.0 684.3,738.4 686.3,737.4 688.3,736.9 690.3,737.2 692.3,737.0 694.3,737.6 696.3,737.8 698.3,737.4 700.3,736.9 702.3,736.5 704.3,736.4 706.3,736.3 708.3,736.3 710.3,735.1 712.3,735.3 714.3,736.3 716.3,737.0 718.3,735.5 720.3,734.2 722.3,734.2 724.3,734.8 726.3,733.0 728.3,732.0 730.3,731.7 732.3,730.5 733.5,730.4 734,730.3 734.3,730.3 734.5,730.3 735,730.2 735.5,730.2 736,730.1 736.3,730.0 736.5,729.8 737,729.4 737.5,728.9 738,728.4 738.3,728.1 738.5,727.8 739,727.2 739.5,726.6 740,726.0 740.3,725.6 740.5,725.7 741,725.8 741.5,725.9 742,726.0 742.3,726.1 742.5,725.9 743,725.6 743.5,725.3 744,724.9 744.3,724.6 744.5,724.3 745,723.5 745.5,722.7 746,721.7 746.3,721.1 746.5,720.8 747,719.9 747.5,718.9 748,717.6 748.3,716.6 748.5,715.8 749,713.4 749.5,710.7 750,708.0 750.3,706.6 750.5,705.8 751,704.5 751.5,704.4 752,705.2 752.3,706.0 752.5,706.5 753,707.8 753.5,708.9 754,709.6 754.3,709.9 754.5,710.3 755,711.4 755.5,712.2 756,712.8 756.3,713.1 756.5,713.1 757,712.9 757.5,712.7 758,712.3 758.3,712.1 758.5,711.8 759,711.0 759.5,710.2 760,709.4 760.3,708.8 760.5,708.5 761,707.5 761.5,706.5 762,705.4 762.3,704.7 762.5,704.1 763,702.6 763.5,701.0 764,699.3 764.3,698.3 764.5,697.7 765,696.3 765.5,694.8 766,693.2 766.3,692.2 766.5,691.6 767,690.2 767.5,688.6 768,686.8 768.3,685.7 768.5,684.8 769,682.4 770,677.0 770.3,675.2 771,670.5 772,663.1 772.3,660.7 773,655.4 774,647.4 774.3,644.9 775,639.0 776,631.5 776.3,629.6 777,625.9 778,623.5 778.3,623.5 779,625.5 780,631.3 780.3,633.5 781,638.5 782,646.4 782.3,648.7 783,654.0 784,660.9 784.3,662.8 785,667.1 786,672.5 786.3,673.9 787,677.3 788,681.5 788.3,682.6 789,685.4 790,689.1 790.3,690.2 791,691.7 792,693.7 792.3,694.2 793,696.0 794,698.4 794.3,699.1 795,700.3 796,701.9 796.3,702.4 797,703.0 798,703.9 798.3,704.2 799,705.5 800,707.3 800.3,707.8 801,709.0 802,710.6 802.3,711.1 804.3,714.4 806.3,715.7 808.3,717.1 810.3,719.6 812.3,721.6 814.3,721.6 816.3,723.2 818.3,726.6 820.3,728.4 822.3,727.7 824.3,730.2 826.3,731.2 828.3,732.1 830.3,732.6 832.3,732.1 834.3,733.1 836.3,735.0 838.3,733.4 840.3,734.2 842.3,735.6 844.3,734.9 846.3,735.0 848.3,734.1 850.3,733.2 852.3,733.7 854.3,732.6 856.3,731.5 858.3,731.1 860.3,729.9 862.3,728.8 864.3,728.1 866.3,728.6 868.3,727.8 870.3,726.5 872.3,725.6 874.3,725.9 876.3,726.3 878.3,727.4 880.3,729.9 882.3,730.3 884.3,732.5 886.3,734.2 888.3,734.6 890.3,735.6 892.3,736.3 894.3,737.8 896.3,739.1 898.3,740.8 900.3,740.5 902.3,741.2 904.3,742.1 906.3,741.0 908.3,742.2 910.3,744.0 912.3,743.7 914.3,743.3 916.3,741.2 918.3,742.4 920.3,743.1 922.3,742.8 924.3,743.8 926.3,742.7 928.3,743.1 930.3,744.0 932.3,744.0 934.3,743.5 936.3,743.0 938,743.2 938.3,743.2 938.5,743.2 939,743.1 939.5,743.0 940,742.9 940.3,742.9 940.5,742.9 941,743.1 941.5,743.2 942,743.3 942.3,743.3 942.5,743.1 943,742.6 943.5,742.0 944,741.4 944.3,740.9 944.5,740.7 945,740.0 945.5,739.3 946,738.4 946.3,737.8 946.5,737.6 947,736.9 947.5,735.9 948,734.6 948.3,733.6 948.5,732.7 949,730.0 949.5,726.4 950,721.6 950.3,718.0 950.5,715.1 951,706.3 951.5,695.6 952,684.0 952.3,677.6 952.5,674.1 953,669.8 953.5,673.3 954,682.5 954.3,689.1 954.5,693.5 955,703.7 955.5,712.0 956,718.4 956.3,721.4 956.5,723.4 957,727.5 957.5,730.8 958,733.4 958.3,734.7 958.5,735.6 959,737.5 959.5,739.1 960,740.5 960.3,741.3 960.5,741.5 961,742.1 961.5,742.5 962,742.9 962.3,743.1 962.5,743.1 963,743.0 963.5,742.9 964,742.8 964.3,742.7 964.5,742.9 965,743.3 965.5,743.6 966,744.0 966.3,744.2 966.5,744.2 967,744.3 967.5,744.3 968,744.3 968.3,744.4 970.3,746.8 972.3,748.0 974.3,747.2 976.3,747.6 978.3,746.8 980.3,747.0 982.3,748.2 984.3,748.6 986.3,747.9 988.3,748.7 990.3,747.0 992.3,745.3 994.3,747.6 996.3,747.9 997,747.2 998,746.1 998.3,745.7 999,746.3 1000,747.2 1000.3,747.5 1001,748.1 1002,749.0 1002.3,749.3 1003,749.1 1004,748.8 1004.3,748.7 1005,748.4 1006,747.9 1006.3,747.7 1007,747.8 1008,747.8 1008.3,747.8 1009,748.1 1010,748.5 1010.3,748.6 1011,748.6 1012,748.7 1012.3,748.7 1013,748.9 1014,749.1 1014.3,749.1 1015,749.0 1016,748.8 1016.3,748.7 1017,748.5 1018,748.1 1018.3,747.9 1019,747.1 1020,745.9 1020.3,745.6 1021,745.3 1022,745.2 1022.3,745.2 1023,745.5 1024,746.2 1024.3,746.5 1025,747.1 1026,747.9 1026.3,748.1 1027,748.5 1028,748.9 1028.3,749.0 1029,748.8 1030,748.4 1030.3,748.3 1031,748.9 1032,749.7 1032.3,749.9 1033,750.7 1034,751.9 1034.3,752.3 1035,752.2 1036,752.1 1036.3,752.1 1037,752.0 1038,751.9 1038.3,751.9 1039,752.1 1040,752.3 1040.3,752.4 1041,752.2 1042,751.8 1042.3,751.7 1043,751.5 1044,751.3 1044.3,751.2 1045,751.6 1046,752.2 1046.3,752.4 1047,752.7 1048.3,753.3 1050.3,753.3 1052.3,754.4 1054.3,754.0 1056.3,753.2 1058.3,753.6 1060.3,756.2 1062.3,756.5 1064.3,754.2 1066.3,754.2 1068.3,754.8 1070.3,756.1 1072.3,756.2 1074.3,756.7 1076.3,756.1 1078.3,756.0 1080.3,757.9 1082.3,757.5 1084.3,756.7 1086.3,756.4 1088.3,757.6 1090.3,758.6 1092.3,758.5 1094.3,760.3 1096.3,760.3 1098.3,759.1 1100.3,758.8 1102.3,758.4 1104.3,758.6 1106.3,757.6 1108.3,758.5 1110.3,761.0 1112.3,760.5 1114.3,760.1 1116.3,759.3 1118.3,759.9 1120.3,759.4 1122.3,758.2 1124.3,759.7 1126.3,760.8 1128.3,761.0 1130.3,762.1 1132.3,761.4 1134.3,759.6 1136.3,759.5 1138.3,759.8 1140.3,759.5 1142.3,758.1 1144.3,755.9 1146.3,755.8 1148.3,755.8 1150.3,755.5 1152.3,756.7 1154.3,758.8 1156.3,760.6 1158.3,761.1 1160.3,761.5 1162.3,762.0 1164.3,763.2 1166.3,764.5 1168.3,764.1 1170.3,762.9 1172.3,764.7 1174.3,765.1 1176.3,764.2 1178.3,765.3 1180.3,764.4 1182.3,763.6 1184.3,765.2 1186.3,764.4 1188.3,764.4 1190.3,766.5 1192.3,766.4 1194.3,764.8 1196.3,764.3 1198.3,764.8 1200.3,765.1 1202.3,764.8 1204.3,762.8 1206.3,764.4 1208.3,765.0 1210.3,764.7 1212.3,765.2 1214.3,765.2 1216.3,763.3 1218.3,763.2 1220.3,764.4 1222.3,764.7 1224.3,764.9 1226.3,765.7 1228.3,766.6 1230.3,765.1 1232.3,765.1 1234.3,765.5 1236.3,764.8 1238.3,764.3 1240.3,764.9 1242.3,764.9 1244.3,764.3 1246.3,765.0 1248.3,765.0 1250.3,764.9 1252.3,764.7 1254.3,763.4 1256.3,764.0 1258.3,763.8 1260.3,763.6 1262.3,763.0 1264.3,762.6 1266.3,764.0 1268.3,765.3 1270.3,764.5 1272.3,764.1 1274.3,762.5 1276.3,762.0 1278.3,762.4 1280.3,761.9 1282.3,762.0 1284.3,762.9 1286.3,763.2 1288.3,763.1 1290.3,762.3 1292.3,761.6 1294.3,761.6 1296.3,762.6 1298.3,762.2 1300.3,762.9 1302.3,763.4 1304.3,763.7 1306.3,762.4 1308.3,762.7 1310.3,761.9 1312.3,763.3 1314.3,763.9 1316.3,763.4 1318.3,761.9 1320.3,763.6 1322.3,763.3 1324.3,762.5 1326.3,761.6 1328.3,762.5 1330.3,764.5 1332.3,765.3 1334.3,764.1 1336.3,763.0 1338.3,763.3 1340.3,762.2 1342.3,762.5 1344.3,762.9 1346.3,763.6 1348.3,762.1 1350.3,762.7 1352.3,763.8 1354.3,763.5 1356.3,762.0 1358.3,761.8 1360.3,761.4 1362.3,763.0 1364.3,762.7 1366.3,762.1 1368.3,762.4 1370.3,763.4 1372.3,762.2 1374.3,761.7 1376.3,762.7 1378.3,762.3 1380.3,761.3 1382.3,760.4 1384.3,761.0 1386.3,761.6 1388.3,761.0 1390.3,761.1 1392.3,761.4 1394.3,760.6 1396.3,761.1 1398.3,760.4 1400.3,760.0 1402.3,761.5 1404.3,761.5 1406.3,760.2 1408.3,760.5 1410.3,762.1 1412.3,761.3 1413.1,760.6 1414.1,759.8 1414.3,759.6 1415.1,759.9 1416.1,760.2 1416.3,760.2 1417.1,760.6 1418.1,761.2 1418.3,761.3 1419.1,761.2 1420.1,761.2 1420.3,761.1 1421.1,761.4 1422.1,761.6 1422.3,761.6 1423.1,761.4 1424.1,761.1 1424.3,761.0 1425.1,760.9 1426.1,760.7 1426.3,760.7 1427.1,760.2 1428.1,759.5 1428.3,759.3 1429.1,758.6 1430.1,757.4 1430.3,757.1 1431.1,755.7 1432.1,753.5 1432.3,753.0 1433.1,750.8 1434.1,748.0 1434.3,747.6 1435.1,746.3 1435.6,746.1 1436.1,746.3 1436.3,746.6 1437.1,748.7 1438.1,752.1 1438.3,752.8 1439.1,754.7 1440.1,756.7 1440.3,757.0 1441.1,758.4 1442.1,759.8 1442.3,760.0 1443.1,761.4 1444.1,763.0 1444.3,763.3 1445.1,763.7 1446.1,764.2 1446.3,764.2 1447.1,764.7 1448.1,765.2 1448.3,765.3 1449.1,764.8 1450.1,764.2 1450.3,764.1 1451.1,764.7 1452.1,765.5 1452.3,765.7 1453.1,765.9 1454.1,766.2 1454.3,766.2 1455.1,766.2 1456.1,766.1 1456.3,766.1 1457.1,766.5 1458.1,766.9 1458.3,767.0 1460.3,766.0 1462.3,766.0 1464.3,766.3 1466.3,766.7 1468.3,765.9 1470.3,766.4 1472.3,766.1 1474.3,765.8 1476.3,768.8 1478.3,767.9 1480.3,767.5 1482.3,767.8 1484.3,766.8 1486.3,765.9 1488.3,764.7 1490.3,765.8 1492.3,766.6 1494.3,767.0 1496.3,767.1 1498.3,767.1 1500.3,767.1 1502.3,767.4 1504.3,767.5 1506.3,767.5 1508.3,767.5 1510.3,766.0 1512.3,766.9 1514.3,768.2 1516.3,767.5 1518.3,766.5 1520.3,766.6 1522.3,766.4 1524.3,766.6 1526.3,767.5 1528.3,766.2 1530.3,763.4 1532.3,762.6 1534.3,762.3 1536.3,760.0 1538.3,759.4 1540.3,758.4 1542.3,758.1 1544.3,759.4 1546.3,761.0 1548.3,762.7 1550.3,763.0 1552,764.5 1552.3,764.8 1553,764.8 1554,764.8 1554.3,764.8 1555,764.8 1556,764.7 1556.3,764.7 1557,764.5 1558,764.1 1558.3,764.0 1559,763.8 1560,763.5 1560.3,763.4 1561,763.8 1562,764.4 1562.3,764.6 1563,764.5 1564,764.3 1564.3,764.3 1565,764.2 1566,764.0 1566.3,763.9 1567,763.2 1568,761.9 1568.3,761.4 1569,760.0 1570,757.8 1570.3,757.1 1571,756.5 1572,756.4 1572.3,756.7 1573,757.7 1574,760.0 1574.3,760.7 1575,762.3 1576,764.3 1576.3,764.8 1577,765.8 1578,767.0 1578.3,767.3 1579,767.8 1580,768.4 1580.3,768.6 1581,768.8 1582,769.1 1582.3,769.2 1583,769.6 1584,770.2 1584.3,770.4 1585,770.6 1586,771.0 1586.3,771.1 1587,771.4 1588,771.8 1588.3,771.9 1589,772.1 1590,772.4 1590.3,772.5 1591,772.8 1592,773.2 1592.3,773.3 1594.3,774.3 1596.3,772.1 1598.3,771.5 1600.3,773.0 1602.3,772.9 1604.3,773.4 1606.3,773.4 1608.3,773.6 1610.3,773.3 1612.3,773.9 1614.3,776.0 1616.3,775.5 1618.3,773.7 1620.3,774.3 1622.3,775.7 1624.3,774.8 1626.3,774.0 1628.3,775.1 1630.3,775.6 1632.3,774.9 1634.3,774.8 1636.3,774.8 1638.3,776.3 1640.3,776.8 1642.3,775.3 1644.3,774.5 1646.3,775.2 1648.3,775.1 1650.3,774.4 1652.3,773.7 1654.3,773.6 1656.3,773.5 1658.3,773.8 1660.3,774.3 1662.3,774.9 1664.3,776.2 1666.3,775.1 1668.3,774.5 1670.3,775.2 1672.3,776.0 1674.3,775.6 1676.3,773.9 1678.3,773.3 1680.3,773.3 1682.3,773.8 1684.3,774.6 1686.3,775.8 1688.3,775.1 1690.3,772.5 1692.3,770.5 1694.3,770.5 1696.3,770.8 1698.3,770.9 1700.3,769.8 1702.3,767.1 1704.3,766.9 1706.3,766.0 1708.3,764.7 1710.3,767.0 1712.3,770.6 1714.3,770.9 1716.3,772.3 1718.3,775.1 1720.3,773.4 1722.3,772.0 1724.3,770.8 1726.3,772.2 1728.3,773.1 1730.3,773.1 1732.3,774.2 1734.3,773.4 1736.3,774.3 1738.3,774.0 1740.3,773.3 1742.3,774.4 1744.3,775.4 1746.3,774.6 1748.3,773.2 1750.3,774.1 1752.3,774.1 1754.3,774.9 1756.3,775.3 1758.3,774.9 1760.3,775.4 1762.3,774.9 1764.3,775.6 1766.3,775.0 1768.3,775.5 1770.3,775.4 1772.3,775.5 1774.3,776.4 1776.3,775.4 1778.3,776.3 1780.3,776.0 1782.3,776.0 1784.3,776.1 1786.3,776.1 1788.3,776.4 1790.3,775.2 1792.3,774.0 1794.3,775.5 1796.3,775.8 1798.3,777.4 1800.3,777.3 1802.3,776.9 1804.3,776.6 1806.3,777.6 1808.3,776.8 1810.3,776.0 1812.3,776.1 1814.3,777.0 1816.3,778.8 1818.3,778.7 1820.3,777.9 1822.3,777.6 1824.3,778.3 1826.3,779.6 1828.3,779.3 1830.3,779.3 1832.3,780.0 1834.3,779.1 1836.3,778.5 1838.3,777.4 1840.3,777.9 1842.3,778.3 1844.3,778.8 1846.3,779.0 1848.3,778.5 1850.3,779.3 1852.3,779.5 1854.3,778.8 1856.3,779.0 1858.3,779.2 1860.3,778.4 1862.3,779.8 1864.3,779.3 1866.3,778.8 1868.3,778.3 1870.3,779.7 1872.3,780.3 1874.3,779.6 1876.3,779.1 1878.3,779.5 1880.3,779.0 1882.3,780.5 1884.3,781.2 1886.3,781.4 1888.3,781.5 1890.3,780.6 1892.3,780.9 1894.3,781.2 1896.3,780.9 1898.3,780.0 1900.3,779.9 1902.3,779.9 1904.3,780.3 1906.3,780.8 1908.3,781.5 1910.3,781.6 1912.3,781.3"/>
<polyline class="cv" stroke="#8000FF" points="20.3,339.8 22.3,340.6 24.3,342.7 26.3,341.2 28.3,346.7 30.3,346.7 32.3,346.2 34.3,345.4 36.3,345.3 38.3,350.0 40.3,355.0 42.3,357.0 44.3,358.5 46.3,358.0 48.3,359.0 50.3,359.7 52.3,359.8 54.3,362.7 56.3,365.4 58.3,368.4 60.3,368.6 62.3,370.4 64.3,373.3 66.3,375.7 68.3,375.8 70.3,377.2 72.3,380.2 74.3,382.9 76.3,381.1 78.3,384.5 80.3,392.6 82.3,391.0 84.3,390.4 86.3,389.1 88.3,392.8 90.3,396.1 92.3,397.1 94.3,398.5 96.3,401.3 98.3,404.4 100.3,406.5 102.3,403.9 104.3,404.7 106.3,409.1 108.3,410.4 110.3,409.0 112.3,409.5 114.3,412.4 116.3,416.0 118.3,419.6 120.3,422.3 122.3,422.0 124.3,421.2 126.3,426.4 128.3,426.8 130.3,425.7 132.3,427.2 134.3,429.9 136.3,429.6 138.3,430.7 140.3,433.4 142.3,435.7 144.3,434.1 146.3,436.4 148.3,434.3 150.3,436.6 152.3,441.0 154.3,443.0 156.3,441.6 158.3,445.3 160.3,447.1 162.3,445.4 164.3,446.2 166.3,446.5 168.3,447.5 170.3,454.4 172.3,453.8 174.3,451.6 176.3,454.9 178.3,457.1 180.3,457.9 182.3,460.6 184.3,462.7 186.3,461.3 188.3,462.6 190.3,467.5 192.3,467.7 194.3,467.8 196.3,470.0 198.3,466.1 200.3,467.8 202.3,472.1 204.3,473.8 206.3,475.1 208.3,474.7 210.3,475.5 212.3,477.0 214.3,479.4 216.3,482.9 218.3,485.1 220.3,486.5 222.3,486.9 224.3,484.5 226.3,485.7 228.3,487.8 230.3,491.9 232.3,491.5 234.3,492.9 236.3,493.3 238.3,492.7 240.3,493.7 242.3,497.3 244.3,498.7 246.3,499.4 248.3,502.6 250.3,502.9 252.3,504.3 254.3,505.3 256.3,505.9 258.3,505.1 260.3,509.1 262.3,510.7 264.3,511.6 266.3,513.2 268.3,512.3 270.3,510.1 272.3,511.0 274.3,511.9 276.3,514.2 278.3,517.7 280.3,519.1 282.3,516.4 284.3,517.0 286.3,519.8 288.3,522.2 290.3,522.5 292.3,522.5 294.3,524.2 296.3,525.1 298.3,525.3 300.3,527.3 302.3,526.1 304.3,527.7 306.3,529.3 308.3,530.8 310.3,532.1 312.3,531.4 314.3,532.3 316.3,534.6 318.3,535.7 320.3,534.2 322.3,535.2 324.3,535.1 326.3,534.7 328.3,535.8 330.3,535.3 332.3,536.5 334.3,538.4 336.3,540.1 338.3,537.9 340.3,538.6 342.3,538.7 343.2,538.2 343.7,537.9 344.2,537.6 344.3,537.6 344.7,537.4 345.2,537.2 345.7,536.9 346.2,536.6 346.3,536.5 346.7,536.4 347.2,536.1 347.7,535.7 348.2,535.2 348.3,535.0 348.7,533.9 349.2,532.2 349.7,530.2 350.2,527.9 350.3,527.3 350.7,525.4 351.2,522.4 351.7,518.6 352.2,513.8 352.3,512.7 352.7,507.4 353.2,499.1 353.7,488.0 354.2,473.3 354.3,469.8 354.7,453.6 355.2,427.6 355.7,394.3 356.2,356.4 356.3,349.0 356.7,323.0 357.2,309.2 357.7,323.3 358.2,357.1 358.3,364.8 358.7,395.0 359.2,428.2 359.7,454.2 360.2,473.7 360.3,476.9 360.7,488.6 361.2,500.0 361.7,508.7 362.2,515.4 362.3,516.6 362.7,521.1 363.2,525.7 363.7,529.6 364.2,532.8 364.3,533.4 364.7,535.3 365.2,537.4 365.7,539.2 366.2,540.7 366.3,541.0 366.7,541.8 367.2,542.8 367.7,543.5 368.2,544.2 368.3,544.3 368.7,545.4 369.2,546.6 369.7,547.8 370.2,549.0 370.3,549.2 370.7,549.9 371.2,550.7 372.3,552.3 374.3,553.0 376.3,553.6 378.3,554.0 380.3,557.9 382.3,561.1 384.3,562.5 386.3,561.1 388.3,561.9 390.3,561.0 392.3,561.7 394.3,561.9 396.3,560.8 398.3,562.5 400.3,564.6 402.3,565.6 404.3,565.8 406.3,567.2 408.3,569.2 410.3,569.4 412.3,566.9 414.3,568.4 416.3,569.6 418.3,568.3 420.3,571.5 422.3,573.1 424.3,570.0 426.3,569.0 428.3,572.0 430.3,575.7 432.3,577.6 434.3,575.5 436.3,574.1 438.3,573.7 440.3,575.1 442.3,574.6 444.3,575.8 446.3,576.9 448.3,576.0 450.3,575.1 452.3,576.7 454.3,578.6 456.3,578.0 458.3,575.8 460.3,577.1 462.3,577.8 464.3,576.9 466.3,576.1 468.3,576.2 470.3,577.2 472.3,580.0 474.3,579.0 476.3,577.8 478.3,579.0 480.3,580.1 482.3,579.5 484.3,580.0 486.3,579.8 488.3,579.4 490.3,580.9 492.3,580.8 494.3,581.6 496.3,581.8 498.3,579.8 500.3,578.8 502.3,580.1 504.3,582.6 506.3,581.1 508.3,580.8 510.3,582.5 512.3,581.7 514.3,582.8 516.3,581.6 518.3,582.0 520.3,582.6 522.3,583.1 524.3,584.0 526.3,583.6 528.3,581.8 530.3,581.9 532.3,583.5 534.3,584.6 536.3,583.9 538.3,582.9 540.3,582.1 542.3,584.5 544.3,584.7 546.3,583.8 548.3,584.6 550.3,586.3 552.3,584.9 554.3,584.6 556.3,585.4 558.3,583.9 560.3,585.0 562.3,585.4 564.3,585.2 566.3,585.7 568.3,586.3 570.3,586.7 572.3,587.0 574.3,587.9 576.3,587.9 578.3,587.0 580.3,585.5 582.3,584.8 584.3,587.1 586.3,587.3 588.3,587.2 590.3,587.4 592.3,585.9 594.3,585.8 596.3,585.7 598.3,583.5 600.3,586.5 602.3,586.7 604.3,584.9 606.3,585.5 608.3,586.8 610.3,586.1 612.3,587.0 614.3,587.0 616.3,586.6 618.3,586.3 620.3,586.2 622.3,586.1 624.3,587.0 626.3,586.7 628.3,585.2 630.3,588.1 632.3,588.8 634.3,586.0 636.3,587.0 638.3,587.1 640.3,586.8 642.3,585.9 644.3,585.3 646.3,586.6 648.3,586.6 650.3,586.1 652.3,585.1 654.3,585.9 656.3,586.5 658.3,584.8 660.3,585.3 662.3,584.6 664.3,587.0 666.3,587.9 668.3,585.3 670.3,585.7 672.3,586.0 674.3,585.3 676.3,586.4 678.3,586.2 680.3,585.8 682.3,586.8 684.3,586.8 686.3,588.4 688.3,587.6 690.3,585.9 692.3,585.1 694.3,583.7 696.3,583.4 698.3,583.5 700.3,584.4 702.3,584.0 704.3,582.9 706.3,583.3 708.3,582.8 710.3,582.4 712.3,583.0 714.3,582.3 716.3,581.7 718.3,581.6 720.3,581.6 722.3,580.2 724.3,580.5 726.3,581.3 728.3,581.3 730.3,580.3 732.3,578.7 734.3,577.0 735.6,577.3 736.1,577.4 736.3,577.4 736.6,577.1 737.1,576.6 737.6,576.1 738.1,575.6 738.3,575.4 738.6,575.2 739.1,574.9 739.6,574.5 740.1,574.0 740.3,573.9 740.6,573.8 741.1,573.6 741.6,573.4 742.1,573.2 742.3,573.0 742.6,572.5 743.1,571.5 743.6,570.5 744.1,569.4 744.3,568.9 744.6,568.2 745.1,566.9 745.6,565.4 746.1,563.6 746.3,562.8 746.6,561.7 747.1,559.3 747.6,556.2 748.1,552.1 748.3,550.2 748.6,546.8 749.1,540.2 749.6,533.0 750.1,526.9 750.3,525.3 750.6,524.1 751.1,525.9 751.6,531.2 752.1,537.5 752.3,540.0 752.6,543.2 753,546.8 753.1,547.6 753.6,550.8 754,552.7 754.1,553.1 754.3,553.8 754.6,555.0 755,556.2 755.1,556.5 755.6,557.7 756,558.3 756.1,558.5 756.3,558.7 756.6,558.9 757,559.0 757.1,559.1 757.6,559.1 758,559.0 758.1,559.0 758.3,558.9 758.6,558.8 759,558.5 759.1,558.5 759.6,558.1 760,557.8 760.1,557.7 760.3,557.5 760.6,557.4 761,557.2 761.1,557.1 761.6,556.8 762,556.5 762.1,556.5 762.3,556.3 762.6,555.8 763,555.1 763.1,555.0 763.6,554.0 764,553.2 764.1,553.0 764.3,552.6 764.6,551.9 765,550.8 765.1,550.5 765.6,549.1 766,547.9 766.3,547.0 767,545.4 768,542.8 768.3,541.9 769,538.9 770,534.0 770.3,532.3 771,528.0 772,520.8 772.3,518.4 773,512.7 774,503.9 774.3,501.3 775,496.0 776,490.3 776.3,489.3 777,488.1 778,490.4 778.3,491.9 779,495.9 780,503.1 780.3,505.4 781,511.1 782,518.6 782.3,520.6 783,526.1 784,533.1 784.3,535.0 785,538.0 786,541.6 786.3,542.6 787,544.6 788,546.9 788.3,547.6 789,549.1 790,551.0 790.3,551.5 791,552.1 792,552.8 792.3,553.0 793,553.7 794,554.7 794.3,555.0 795,555.7 796,556.6 796.3,556.9 797,558.3 798,560.2 798.3,560.8 799,562.5 800,564.8 800.3,565.4 801,565.7 802.3,566.1 804.3,565.8 806.3,568.5 808.3,570.4 810.3,571.6 812.3,571.7 814.3,572.8 816.3,573.8 818.3,576.0 820.3,578.1 822.3,578.5 824.3,579.7 826.3,580.9 828.3,580.4 830.3,580.4 832.3,581.7 834.3,581.3 836.3,583.1 838.3,582.5 840.3,582.1 842.3,582.4 844.3,584.8 846.3,585.5 848.3,584.6 850.3,584.7 852.3,584.9 854.3,583.3 856.3,581.3 858.3,580.7 860.3,580.1 862.3,578.5 864.3,579.6 866.3,580.1 868.3,580.6 870.3,580.6 872.3,581.1 874.3,580.3 876.3,580.8 878.3,581.7 880.3,581.9 882.3,582.1 884.3,582.0 886.3,584.0 888.3,585.3 890.3,587.0 892.3,587.3 894.3,588.6 896.3,589.9 898.3,589.2 900.3,589.8 902.3,589.7 904.3,590.4 906.3,590.9 908.3,591.3 910.3,592.5 912.3,592.1 914.3,592.3 916.3,593.0 918.3,593.0 920.3,592.9 922.3,592.6 924.3,593.7 926.3,593.6 928.3,593.2 930.3,592.7 932.3,591.8 934.3,591.4 936.3,591.3 938.3,590.7 938.6,590.5 939.1,590.0 939.6,589.5 940.1,589.0 940.3,588.8 940.6,588.3 941.1,587.6 941.6,586.7 942.1,585.8 942.3,585.4 942.6,584.9 943.1,584.0 943.6,582.9 944.1,581.7 944.3,581.1 944.6,580.2 945.1,578.5 945.6,576.5 946.1,574.1 946.3,573.0 946.6,571.4 947.1,568.3 947.6,564.5 948.1,559.7 948.3,557.5 948.6,553.6 949.1,545.8 949.6,535.8 950.1,522.8 950.3,516.5 950.6,505.6 951.1,483.1 951.6,454.1 952.1,418.5 952.3,403.0 952.6,379.6 953.1,346.7 953.6,333.4 954.1,346.5 954.3,358.0 954.6,379.2 955.1,417.8 955.6,453.2 956.1,482.0 956.3,491.6 956.6,504.4 957.1,521.7 957.6,534.9 958.1,545.1 958.3,548.5 958.6,553.0 959.1,559.3 959.6,564.3 960.1,568.4 960.3,569.8 960.6,571.8 961.1,574.6 961.6,577.0 962.1,579.0 962.3,579.8 962.6,580.7 963.1,582.2 963.6,583.4 964.1,584.5 964.3,584.9 964.6,585.3 965.1,585.9 965.6,586.4 966.1,586.8 966.3,587.0 966.6,587.3 967.1,587.8 967.6,588.3 968.1,588.8 968.3,588.9 968.6,589.3 970.3,590.8 972.3,591.5 974.3,594.4 976.3,595.1 978.3,593.9 980.3,593.7 982.3,593.7 984.3,594.0 986.3,595.6 988.3,595.6 990.3,594.8 992.3,595.0 994.3,595.1 996.3,595.2 998.3,595.7 1000.3,595.5 1002.3,596.5 1004.3,596.1 1006.3,595.5 1008.3,596.5 1010.3,597.6 1012.3,596.5 1014.3,595.5 1016.3,594.9 1018.3,595.7 1020.3,597.0 1022.3,596.8 1024.3,595.9 1026.3,596.8 1028.3,596.4 1030.3,597.1 1032.3,597.8 1034.3,598.3 1036.3,598.1 1038.3,597.7 1040.3,598.0 1042.3,599.0 1044.3,599.5 1046.3,600.1 1048.3,600.0 1050.3,600.5 1052.3,600.1 1054.3,600.2 1056.3,601.2 1058.3,599.9 1060.3,600.0 1062.3,601.5 1064.3,602.2 1066.3,601.6 1068.3,601.2 1070.3,601.7 1072.3,602.2 1074.3,600.3 1076.3,600.2 1078.3,601.2 1080.3,601.6 1082.3,602.7 1084.3,603.2 1086.3,603.4 1088.3,604.1 1090.3,604.3 1092.3,604.3 1094.3,604.5 1096.3,604.6 1098.3,604.8 1100.3,606.1 1102.3,605.6 1104.3,605.0 1106.3,606.7 1108.3,606.5 1110.3,605.6 1112.3,605.7 1114.3,605.4 1116.3,605.9 1118.3,606.8 1120.3,608.8 1122.3,610.4 1123,610.1 1124,609.8 1124.3,609.7 1125,609.6 1126,609.3 1126.3,609.2 1127,609.3 1128,609.3 1128.3,609.3 1129,609.6 1130,610.0 1130.3,610.1 1131,610.0 1132,609.9 1132.3,609.9 1133,609.3 1134,608.6 1134.3,608.3 1135,608.2 1136,608.0 1136.3,607.9 1137,608.2 1138,608.4 1138.3,608.5 1139,608.7 1140,609.0 1140.3,609.0 1141,608.3 1142,607.2 1142.3,606.8 1143,605.8 1144,604.2 1144.3,603.7 1145,603.7 1146,603.7 1146.3,603.7 1147,603.7 1148,604.3 1148.3,604.6 1149,604.6 1150,605.0 1150.3,605.2 1151,605.8 1152,606.6 1152.3,606.9 1153,607.8 1154,609.1 1154.3,609.4 1155,610.1 1156,610.9 1156.3,611.1 1157,611.2 1158,611.3 1158.3,611.4 1159,611.1 1160,610.8 1160.3,610.7 1161,610.6 1162,610.5 1162.3,610.5 1163,611.1 1164,612.0 1164.3,612.2 1165,612.1 1166,612.0 1166.3,612.0 1167,612.2 1168,612.4 1168.3,612.4 1169,612.1 1170,611.7 1170.3,611.5 1171,611.6 1172,611.8 1172.3,611.9 1173,612.5 1174.3,613.8 1176.3,612.0 1178.3,612.4 1180.3,612.8 1182.3,613.9 1184.3,613.2 1186.3,613.5 1188.3,614.5 1190.3,613.0 1192.3,612.7 1194.3,612.8 1196.3,611.9 1198.3,612.3 1200.3,612.3 1202.3,613.2 1204.3,612.3 1206.3,610.7 1208.3,611.0 1210.3,611.6 1212.3,612.7 1214.3,612.1 1216.3,612.4 1218.3,611.8 1220.3,612.1 1222.3,612.8 1224.3,613.4 1226.3,611.7 1228.3,611.3 1230.3,612.0 1232.3,614.8 1234.3,613.1 1236.3,612.5 1238.3,612.1 1240.3,612.6 1242.3,612.5 1244.3,612.0 1246.3,612.4 1248.3,611.6 1250.3,611.4 1252.3,613.0 1254.3,613.0 1256.3,611.8 1258.3,611.0 1260.3,612.8 1262.3,611.9 1264.3,611.2 1266.3,611.5 1268.3,611.8 1270.3,610.6 1272.3,610.1 1274.3,611.0 1276.3,610.8 1278.3,609.4 1280.3,609.0 1282.3,608.8 1284.3,607.4 1286.3,606.8 1288.3,608.2 1290.3,608.8 1292.3,610.1 1294.3,611.3 1296.3,612.1 1298.3,612.5 1300.3,612.1 1302.3,612.2 1304.3,611.2 1306.3,611.9 1308.3,611.0 1310.3,612.5 1312.3,613.5 1314.3,611.7 1316.3,612.8 1318.3,614.0 1320.3,613.4 1322.3,613.3 1324.3,614.2 1326.3,613.9 1328.3,613.7 1330.3,613.4 1332.3,614.3 1334.3,614.5 1336.3,614.1 1338.3,614.5 1340.3,614.4 1342.3,614.0 1344.3,611.6 1346.3,611.4 1348.3,612.6 1350.3,614.3 1352.3,614.3 1354.3,613.1 1356.3,612.8 1358.3,613.7 1360.3,612.3 1362.3,611.0 1364.3,611.7 1366.3,612.7 1368.3,613.1 1370.3,613.4 1372.3,612.5 1374.3,612.6 1376.3,611.2 1378.3,611.0 1380.3,611.2 1382.3,611.1 1384.3,609.5 1386.3,610.3 1388.3,610.2 1390.3,610.9 1392.3,611.4 1394.3,609.3 1396.3,610.0 1398.3,609.2 1400.3,608.2 1402.3,608.6 1404.3,607.9 1406.3,608.3 1408.3,609.9 1410.3,609.7 1412.3,609.2 1414.3,608.8 1416.3,606.9 1418.1,606.7 1418.3,606.7 1418.6,606.6 1419.1,606.5 1419.6,606.4 1420.1,606.2 1420.3,606.2 1420.6,606.2 1421.1,606.2 1421.6,606.2 1422.1,606.1 1422.3,606.1 1422.6,605.9 1423.1,605.6 1423.6,605.2 1424.1,604.8 1424.3,604.6 1424.6,604.2 1425.1,603.5 1425.6,602.7 1426.1,601.8 1426.3,601.4 1426.6,601.1 1427.1,600.5 1427.6,599.8 1428.1,598.9 1428.3,598.5 1428.6,597.6 1429.1,595.9 1429.6,593.9 1430.1,591.4 1430.3,590.3 1430.6,588.1 1431.1,583.9 1431.6,579.0 1432.1,573.2 1432.3,570.6 1432.6,566.8 1433.1,559.7 1433.6,551.9 1434.1,544.1 1434.3,541.2 1434.6,537.1 1435.1,532.0 1435.6,530.1 1436.1,531.9 1436.3,533.6 1436.6,536.8 1437.1,543.7 1437.6,551.5 1438.1,559.2 1438.3,562.1 1438.6,566.4 1439.1,572.9 1439.6,578.4 1440.1,583.1 1440.3,584.8 1440.6,587.0 1441.1,590.2 1441.6,592.9 1442.1,595.2 1442.3,596.0 1442.6,597.0 1443.1,598.6 1443.6,599.9 1444.1,601.0 1444.3,601.4 1444.6,602.3 1445.1,603.5 1445.6,604.7 1446.1,605.7 1446.3,606.1 1446.6,606.5 1447.1,607.2 1447.6,607.7 1448.1,608.2 1448.3,608.4 1448.6,608.3 1449.1,608.1 1449.6,607.8 1450.1,607.6 1450.3,607.4 1450.6,607.6 1451.1,607.7 1451.6,607.9 1452.1,608.1 1452.3,608.1 1452.6,608.4 1453.1,608.8 1454.3,609.8 1456.3,610.6 1458.3,612.5 1460.3,612.8 1462.3,613.4 1464.3,612.7 1466.3,612.9 1468.3,614.1 1470.3,615.3 1472.3,614.6 1474.3,613.0 1476.3,613.7 1478.3,614.5 1480.3,615.5 1482.3,617.3 1484.3,616.4 1486.3,614.8 1488.3,614.6 1490.3,614.9 1492.3,614.4 1494.3,614.6 1496.3,614.9 1498.3,615.7 1500.3,615.7 1502.3,617.5 1504.3,615.7 1506.3,614.0 1508.3,614.9 1510.3,614.7 1512.3,614.5 1514.3,615.4 1516.3,614.8 1518.3,614.4 1520.3,613.6 1522.3,612.2 1524.3,610.2 1526.3,608.2 1528.3,606.5 1530.3,607.9 1532.3,608.0 1534.3,607.1 1536.3,607.1 1538.3,607.3 1540.3,608.8 1542.3,609.4 1544.3,609.7 1546.3,610.9 1548.3,612.1 1550.3,613.5 1552.3,614.5 1554.3,612.0 1556,612.7 1556.3,612.8 1556.5,612.8 1557,612.7 1557.5,612.6 1558,612.4 1558.3,612.3 1558.5,612.1 1559,611.5 1559.5,610.9 1560,610.2 1560.3,609.8 1560.5,609.8 1561,609.8 1561.5,609.8 1562,609.7 1562.3,609.6 1562.5,609.6 1563,609.5 1563.5,609.3 1564,608.9 1564.3,608.6 1564.5,608.0 1565,606.4 1565.5,604.5 1566,602.2 1566.3,600.7 1566.5,599.7 1567,596.8 1567.5,593.3 1568,589.1 1568.3,586.2 1568.5,584.2 1569,578.7 1569.5,572.8 1570,567.1 1570.3,564.4 1570.5,563.1 1571,561.9 1571.5,563.9 1572,568.6 1572.3,572.2 1572.5,574.7 1573,581.0 1573.5,586.9 1574,592.0 1574.3,594.7 1574.5,596.3 1575,600.0 1575.5,603.0 1576,605.5 1576.3,606.8 1576.5,607.5 1577,609.1 1577.5,610.5 1578,611.6 1578.3,612.2 1578.5,612.5 1579,613.0 1579.5,613.4 1580,613.7 1580.3,613.8 1580.5,614.1 1581,614.6 1581.5,615.1 1582,615.5 1582.3,615.8 1582.5,615.9 1583,616.3 1583.5,616.6 1584,616.9 1584.3,617.0 1584.5,617.2 1585,617.5 1585.5,617.8 1586,618.1 1586.3,618.2 1588.3,618.0 1590.3,619.6 1592.3,621.1 1594.3,620.7 1596.3,619.3 1598.3,619.2 1600.3,619.6 1602.3,619.5 1604.3,619.6 1606.3,619.1 1608.3,618.5 1610.3,620.8 1612.3,621.9 1614.3,620.6 1616.3,620.3 1618.3,621.5 1620.3,621.2 1622.3,620.3 1624.3,619.7 1626.3,619.2 1628.3,621.4 1630.3,622.1 1632.3,621.3 1634.3,620.9 1636.3,620.1 1638.3,620.7 1640.3,621.0 1642.3,620.5 1644.3,620.7 1646.3,620.7 1648.3,619.6 1650.3,620.5 1652.3,622.6 1654.3,621.9 1656.3,620.7 1658.3,622.1 1660.3,621.4 1662.3,621.3 1664.3,622.4 1666.3,623.5 1668.3,622.7 1670.3,620.8 1672.3,622.2 1674.3,623.3 1676.3,622.0 1678.3,620.4 1680.3,620.8 1681.1,620.9 1682.1,620.9 1682.3,620.9 1683.1,620.6 1684.1,620.2 1684.3,620.1 1685.1,619.9 1686.1,619.5 1686.3,619.5 1687.1,619.6 1688.1,619.7 1688.3,619.7 1689.1,619.5 1690.1,619.2 1690.3,619.1 1691.1,619.1 1692.1,619.0 1692.3,618.9 1693.1,618.6 1694.1,618.0 1694.3,617.9 1695.1,616.7 1696.1,615.0 1696.3,614.7 1697.1,613.3 1698.1,611.2 1698.3,610.8 1699.1,608.6 1700.1,605.3 1700.3,604.6 1701.1,602.0 1702.1,599.0 1702.3,598.4 1703.1,596.8 1703.6,596.5 1704.1,597.0 1704.3,597.3 1705.1,599.0 1706.1,602.2 1706.3,602.9 1707.1,605.5 1708.1,608.2 1708.3,608.7 1709.1,609.9 1710.1,611.0 1710.3,611.1 1711.1,612.6 1712.1,614.2 1712.3,614.4 1713.1,615.6 1714.1,616.8 1714.3,617.1 1715.1,617.6 1716.1,618.0 1716.3,618.1 1717.1,618.4 1718.1,618.6 1718.3,618.7 1719.1,618.9 1720.1,619.2 1720.3,619.2 1721.1,619.8 1722.1,620.6 1722.3,620.7 1723.1,620.3 1724.1,619.8 1724.3,619.7 1725.1,619.5 1726.1,619.2 1726.3,619.2 1728.3,620.6 1730.3,620.4 1732.3,620.0 1734.3,620.0 1736.3,620.9 1738.3,621.4 1740.3,620.9 1742.3,622.3 1744.3,621.9 1746.3,620.6 1748.3,619.5 1750.3,620.1 1752.3,620.8 1754.3,621.3 1756.3,621.4 1758.3,621.5 1760.3,621.6 1762.3,622.6 1764.3,621.6 1766.3,621.3 1768.3,621.2 1770.3,621.5 1772.3,622.8 1774.3,623.0 1776.3,624.0 1778.3,623.1 1780.3,623.3 1782.3,623.1 1784.3,621.7 1786.3,623.1 1788.3,622.7 1790.3,622.9 1792.3,623.7 1794.3,623.2 1796.3,623.7 1798.3,624.4 1800.3,624.9 1802.3,625.6 1804.3,626.2 1806.3,625.3 1808.3,623.0 1810.3,622.5 1812.3,623.6 1814.3,624.6 1816.3,624.4 1818.3,623.8 1820.3,624.9 1822.3,624.5 1824.3,624.2 1826.3,625.2 1828.3,625.3 1830.3,625.6 1832.3,624.4 1834.3,625.0 1836.3,626.4 1838.3,627.0 1840.3,626.5 1842.3,627.0 1844.3,626.7 1846.3,626.9 1848.3,626.1 1850.3,625.2 1852.3,625.5 1854.3,625.1 1856.3,624.4 1858.3,624.2 1860.3,626.2 1862.3,626.6 1864.3,626.9 1866.3,627.9 1868.3,627.4 1870.3,627.2 1872.3,626.4 1874.3,627.1 1876.3,627.4 1878.3,627.8 1880.3,626.4 1882.3,625.4 1884.3,627.2 1886.3,627.6 1888.3,627.8 1890.3,627.6 1892.3,628.4 1894.3,628.3 1896.3,628.7 1898.3,629.1 1900.3,630.5 1902.3,631.2 1904.3,630.1 1906.3,628.8 1908.3,626.7 1910.3,628.2 1912.3,627.5"/>
<polyline class="cv" stroke="#800080" points="20.3,246.1 22.3,251.7 24.3,248.9 26.3,252.4 28.3,254.7 30.3,259.4 32.3,258.0 34.3,259.7 36.3,266.7 38.3,268.3 40.3,264.4 42.3,261.0 44.3,263.7 46.3,271.2 48.3,273.6 50.3,273.0 52.3,278.6 54.3,279.7 56.3,278.5 58.3,280.1 60.3,281.6 62.3,282.5 64.3,285.5 66.3,285.6 68.3,286.7 70.3,290.0 72.3,289.6 74.3,287.1 76.3,289.4 78.3,290.6 80.3,293.9 82.3,295.3 84.3,295.0 86.3,301.2 88.3,305.5 90.3,302.7 92.3,300.6 94.3,303.7 96.3,307.0 98.3,308.5 100.3,309.4 102.3,307.9 104.3,309.5 106.3,314.5 108.3,318.8 110.3,316.0 112.3,315.0 114.3,318.1 116.3,320.5 118.3,317.5 120.3,313.6 122.3,317.1 124.3,318.7 126.3,319.0 128.3,319.8 130.3,324.0 132.3,331.1 134.3,330.4 136.3,328.6 138.3,327.3 140.3,329.7 142.3,332.7 144.3,333.2 146.3,335.5 148.3,340.0 150.3,341.4 152.3,339.6 154.3,337.2 156.3,339.9 158.3,340.2 160.3,341.6 162.3,344.3 164.3,347.4 166.3,348.1 168.3,345.3 170.3,349.5 172.3,350.6 174.3,351.8 176.3,352.8 178.3,356.6 180.3,357.2 182.3,358.3 184.3,358.1 186.3,361.2 188.3,361.3 190.3,360.7 192.3,362.2 194.3,362.7 196.3,364.7 198.3,369.5 200.3,369.9 202.3,368.5 204.3,369.2 206.3,373.5 208.3,374.6 210.3,374.3 212.3,375.9 214.3,380.8 216.3,382.4 218.3,380.8 220.3,381.0 222.3,382.7 224.3,384.7 226.3,385.9 228.3,385.6 230.3,388.4 232.3,392.0 234.3,395.3 236.3,396.1 238.3,396.0 240.3,396.2 242.3,399.1 244.3,401.6 246.3,403.4 248.3,404.3 250.3,402.8 252.3,403.6 254.3,406.7 256.3,406.9 258.3,408.5 260.3,408.7 262.3,408.2 264.3,411.0 266.3,412.3 268.3,412.9 270.3,413.4 272.3,413.6 274.3,415.2 276.3,417.2 278.3,419.6 280.3,419.6 282.3,421.1 284.3,422.2 286.3,419.9 288.3,422.9 290.3,423.4 292.3,422.1 294.3,422.7 296.3,426.4 298.3,427.1 300.3,426.3 302.3,426.6 304.3,430.4 306.3,431.8 308.3,429.8 310.3,430.8 312.3,432.6 314.3,433.3 316.3,433.3 318.3,435.6 320.3,433.9 322.3,432.9 324.3,432.4 326.3,433.0 328.3,435.7 330.3,435.7 332.3,434.7 334.3,435.2 336.3,438.3 338.3,439.4 340.3,438.8 342.3,437.5 344,436.8 344.3,436.6 344.5,436.7 345,437.0 345.5,437.2 346,437.3 346.3,437.4 346.5,437.3 347,436.9 347.5,436.5 348,436.0 348.3,435.6 348.5,435.1 349,433.8 349.5,432.3 350,430.5 350.3,429.4 350.5,428.6 351,426.5 351.5,423.9 352,420.7 352.3,418.4 352.5,416.8 353,412.2 353.5,406.1 354,398.1 354.3,392.0 354.5,387.0 355,371.8 355.5,351.6 356,324.8 356.3,305.2 356.5,291.2 357,253.5 357.5,220.5 358,207.1 358.3,212.7 358.5,221.7 359,256.0 359.5,295.0 360,329.3 360.3,346.5 360.5,356.1 361,375.8 361.5,390.4 362,401.3 362.3,406.5 362.5,409.4 363,415.6 363.5,420.4 364,424.1 364.3,425.9 364.5,427.0 365,429.2 365.5,431.0 366,432.4 366.3,433.1 366.5,433.8 367,435.6 367.5,437.2 368,438.6 368.3,439.4 368.5,440.0 369,441.5 369.5,442.9 370,444.3 370.3,445.0 370.5,445.5 371,446.5 371.5,447.4 372,448.4 372.3,448.9 374.3,449.0 376.3,452.7 378.3,452.1 380.3,451.7 382.3,452.5 384.3,452.1 386.3,455.1 388.3,456.2 390.3,453.2 392.3,453.6 394.3,454.8 396.3,457.0 398.3,458.6 400.3,460.3 402.3,458.8 404.3,460.5 406.3,460.4 408.3,461.2 410.3,461.6 412.3,462.2 414.3,461.9 416.3,463.9 418.3,463.9 420.3,461.7 422.3,462.9 424.3,463.7 426.3,462.5 428.3,462.7 430.3,464.0 432.3,465.8 434.3,466.1 436.3,465.3 438.3,466.1 440.3,465.8 442.3,468.9 444.3,468.7 446.3,469.6 448.3,468.1 450.3,468.3 452.3,469.7 454.3,469.4 456.3,467.8 458.3,468.7 460.3,469.7 462.3,469.8 464.3,469.8 466.3,469.7 468.3,470.7 470.3,471.5 472.3,471.0 474.3,470.5 476.3,471.0 478.3,472.4 480.3,472.4 482.3,473.7 484.3,472.5 486.3,471.5 488.3,471.9 490.3,472.4 492.3,472.8 494.3,473.3 496.3,473.9 498.3,475.0 500.3,473.3 502.3,472.4 504.3,473.2 506.3,475.4 508.3,474.8 510.3,475.2 512.3,476.1 514.3,474.8 516.3,473.5 518.3,475.1 520.3,477.0 522.3,478.3 524.3,477.5 526.3,475.9 528.3,475.5 530.3,475.4 532.3,475.7 534.3,477.1 536.3,476.1 538.3,475.1 540.3,474.1 542.3,473.9 544.3,475.8 546.3,476.7 548.3,475.7 550.3,475.5 552.3,475.1 554.3,475.2 556.3,476.1 558.3,478.7 560.3,480.6 562.3,479.6 564.3,478.2 566.3,477.9 568.3,478.9 570.3,477.1 572.3,476.8 574.3,478.5 576.3,477.6 578.3,479.0 580.3,478.9 582.3,478.8 584.3,477.2 586.3,478.4 588.3,479.1 590.3,478.6 592.3,476.9 594.3,476.9 596.3,477.0 598.3,479.2 600.3,478.7 602.3,478.5 604.3,479.1 606.3,478.4 608.3,478.3 610.3,478.5 612.3,478.4 614.3,476.9 616.3,479.0 618.3,478.7 620.3,478.0 622.3,480.3 624.3,481.2 626.3,478.7 628.3,478.7 630.3,479.2 632.3,479.1 634.3,477.5 636.3,478.3 638.3,478.6 640.3,478.9 642.3,478.0 644.3,477.9 646.3,477.9 648.3,478.0 650.3,478.7 652.3,478.4 654.3,477.1 656.3,477.3 658.3,478.2 660.3,479.4 662.3,480.0 664.3,478.7 666.3,479.2 668.3,480.2 670.3,479.5 672.3,478.0 674.3,477.6 676.3,477.8 678.3,479.8 680.3,479.1 682.3,477.9 684.3,478.3 686.3,479.8 688.3,480.0 690.3,479.9 692.3,479.4 694.3,477.9 696.3,477.7 698.3,478.3 700.3,478.1 702.3,478.2 704.3,477.8 706.3,478.0 708.3,478.5 710.3,477.1 712.3,477.3 714.3,478.5 716.3,476.7 718.3,477.2 720.3,477.2 722.3,477.0 724.3,477.8 726.3,475.4 728.3,473.9 730.3,476.2 732.3,476.5 734.3,473.0 735.6,472.7 736.1,472.6 736.3,472.6 736.6,472.5 737.1,472.3 737.6,472.2 738.1,472.0 738.3,472.0 738.6,471.8 739.1,471.4 739.6,471.1 740.1,470.7 740.3,470.6 740.6,470.4 741.1,470.1 741.6,469.8 742.1,469.4 742.3,469.3 742.6,468.9 743.1,468.2 743.6,467.5 744.1,466.7 744.3,466.3 744.6,465.7 745.1,464.5 745.6,463.1 746.1,461.5 746.3,460.8 746.6,459.5 747.1,456.9 747.6,453.8 748.1,449.9 748.3,448.1 748.6,445.5 749.1,440.4 749.6,434.9 750.1,430.2 750.3,428.9 750.6,428.3 751.1,430.1 751.6,434.5 752.1,439.7 752.3,441.7 752.6,444.2 753,447.0 753.1,447.6 753.6,450.2 754,451.7 754.1,452.1 754.3,452.6 754.6,453.4 755,454.1 755.1,454.3 755.6,454.9 756,455.2 756.1,455.2 756.3,455.3 756.6,455.2 757,455.1 757.1,455.1 757.6,454.8 758,454.4 758.1,454.4 758.3,454.2 758.6,453.6 759,452.8 759.1,452.6 759.6,451.6 760,450.7 760.1,450.5 760.3,450.0 760.6,449.5 761,448.9 761.1,448.8 761.6,447.9 762,447.2 762.1,447.0 762.3,446.6 762.6,446.3 763,445.9 763.1,445.8 763.6,445.2 764,444.7 764.1,444.6 764.3,444.3 764.6,443.8 765,443.2 765.1,443.0 765.6,442.2 766,441.4 766.3,440.7 767,438.5 768,434.7 768.3,433.5 769,430.0 770,424.3 770.3,422.4 771,418.1 772,410.9 772.3,408.5 773,402.6 774,393.5 774.3,390.7 775,384.5 776,377.6 776.3,376.2 777,375.1 778,377.7 778.3,379.4 779,384.6 780,393.6 780.3,396.5 781,402.3 782,410.1 782.3,412.1 783,416.8 784,422.5 784.3,424.0 785,427.3 786,431.4 786.3,432.4 787,435.2 788,438.8 788.3,439.8 789,441.2 790,443.0 790.3,443.5 791,444.3 792,445.5 792.3,445.8 793,446.8 794,448.2 794.3,448.6 795,449.6 796,450.9 796.3,451.2 797,451.8 798,452.5 798.3,452.7 799,453.6 800,454.9 800.3,455.2 801,455.4 802.3,455.6 804.3,456.6 806.3,458.6 808.3,460.1 810.3,463.1 812.3,464.8 814.3,466.9 816.3,468.7 818.3,468.4 820.3,470.1 822.3,470.9 824.3,472.7 826.3,473.7 828.3,473.5 830.3,474.2 832.3,474.6 834.3,475.8 836.3,475.0 838.3,474.9 840.3,473.8 842.3,474.2 844.3,475.3 846.3,475.6 848.3,475.9 850.3,477.0 852.3,474.9 854.3,472.2 856.3,472.3 858.3,472.4 860.3,470.9 862.3,470.6 864.3,472.4 866.3,471.5 868.3,469.9 870.3,471.6 872.3,473.2 874.3,474.2 876.3,474.9 878.3,475.6 880.3,475.8 882.3,477.0 884.3,478.7 886.3,479.7 888.3,481.1 890.3,480.9 892.3,482.0 894.3,483.2 896.3,483.7 898.3,484.1 900.3,484.1 902.3,483.8 904.3,483.6 906.3,484.7 908.3,486.4 910.3,487.1 912.3,485.1 914.3,485.2 916.3,487.7 918.3,486.5 920.3,487.7 922.3,488.1 924.3,487.5 926.3,486.2 928.3,486.2 930.3,485.7 932.3,485.1 934.3,485.3 936.3,482.6 938.3,481.8 939,481.4 939.5,481.0 940,480.6 940.3,480.3 940.5,480.2 941,479.9 941.5,479.5 942,479.1 942.3,478.8 942.5,478.5 943,477.9 943.5,477.1 944,476.1 944.3,475.5 944.5,474.9 945,473.3 945.5,471.5 946,469.4 946.3,467.9 946.5,466.9 947,464.2 947.5,460.9 948,456.8 948.3,453.9 948.5,451.6 949,445.1 949.5,436.8 950,426.2 950.3,418.4 950.5,412.7 951,395.3 951.5,372.4 952,342.7 952.3,321.5 952.5,306.0 953,265.5 953.5,231.4 954,217.5 954.3,222.6 954.5,231.3 955,265.4 955.5,305.8 956,342.8 956.3,361.8 956.5,372.9 957,396.1 957.5,413.8 958,427.2 958.3,433.7 958.5,437.6 959,445.7 959.5,452.1 960,457.3 960.3,459.9 960.5,461.4 961,464.9 961.5,467.8 962,470.2 962.3,471.5 962.5,472.2 963,473.9 963.5,475.3 964,476.6 964.3,477.2 964.5,477.7 965,478.9 965.5,479.9 966,480.8 966.3,481.3 966.5,481.6 967,482.2 967.5,482.8 968,483.3 968.3,483.6 968.5,483.5 969,483.3 970.3,482.5 972.3,483.1 974.3,485.3 976.3,485.4 978.3,487.9 980.3,488.9 982.3,489.3 984.3,489.5 986.3,488.5 988.3,488.8 990.3,489.1 992.3,490.9 994.3,492.4 996.3,490.7 998.3,489.6 1000.3,489.5 1002.3,488.2 1004.3,489.7 1006.3,491.3 1008.3,491.0 1010.3,491.2 1012.3,492.1 1014.3,492.2 1016.3,491.9 1018.3,491.8 1020.3,492.3 1022.3,491.2 1024.3,491.3 1026.3,492.5 1028.3,493.1 1030.3,493.2 1032.3,491.5 1034.3,491.7 1036.3,492.5 1038.3,492.1 1040.3,493.6 1042.3,494.4 1044.3,494.4 1046.3,493.6 1048.3,494.0 1050.3,493.7 1052.3,493.1 1054.3,494.2 1056.3,495.7 1058.3,495.4 1060.3,495.2 1062.3,496.0 1064.3,497.1 1066.3,496.4 1068.3,496.5 1070.3,496.4 1072.3,495.0 1074.3,495.5 1076.3,496.6 1078.3,497.4 1080.3,497.1 1082.3,496.8 1084.3,496.1 1086.3,496.9 1088.3,498.7 1090.3,499.0 1092.3,499.0 1094.3,497.7 1096.3,498.4 1098.3,499.3 1100.3,498.8 1102.3,498.7 1104.3,497.5 1106.3,496.9 1108.3,497.5 1110.3,497.5 1112.3,498.2 1114.3,499.7 1116.3,500.4 1118.3,501.6 1120.3,502.1 1122.3,501.7 1124.3,501.1 1126.3,500.8 1128.3,501.1 1130.3,499.9 1132.3,500.3 1134.3,501.6 1136.3,501.0 1138.3,500.8 1140.3,499.9 1142.3,498.7 1144.3,497.4 1146.3,495.5 1148.3,495.0 1150.3,496.9 1152.3,499.1 1154.3,499.9 1156.3,502.2 1158.3,502.6 1160.3,503.1 1162.3,503.8 1164.3,503.8 1166.3,502.5 1168.3,502.9 1170.3,502.9 1172.3,503.6 1174.3,504.2 1176.3,504.0 1178.3,503.7 1180.3,503.4 1182.3,503.1 1184.3,502.3 1186.3,503.7 1188.3,504.5 1190.3,505.0 1192.3,505.2 1194.3,504.6 1196.3,504.8 1198.3,504.9 1200.3,505.1 1202.3,505.2 1204.3,506.2 1206.3,505.7 1208.3,503.9 1210.3,503.3 1212.3,503.3 1214.3,503.7 1216.3,503.8 1218.3,504.5 1220.3,504.8 1222.3,504.4 1224.3,504.0 1226.3,504.5 1228.3,505.6 1230.3,505.2 1232.3,505.3 1234.3,505.5 1236.3,506.4 1238.3,504.9 1240.3,504.2 1242.3,504.4 1244.3,504.7 1246.3,503.8 1248.3,503.6 1250.3,506.1 1252.3,507.4 1254.3,506.8 1256.3,505.2 1258.3,505.9 1260.3,506.0 1262.3,506.1 1264.3,505.1 1266.3,504.5 1268.3,504.7 1270.3,504.0 1272.3,503.5 1274.3,504.8 1276.3,505.5 1278.3,503.0 1280.3,501.2 1282.3,499.3 1284.3,500.1 1286.3,499.6 1288.3,498.9 1290.3,499.9 1292.3,500.9 1294.3,503.2 1296.3,504.0 1298.3,505.1 1300.3,505.2 1302.3,505.1 1304.3,504.5 1306.3,505.2 1308.3,506.3 1310.3,504.4 1312.3,504.2 1314.3,506.5 1316.3,506.4 1318.3,506.5 1320.3,506.7 1322.3,506.2 1324.3,504.8 1326.3,505.0 1328.3,505.3 1330.3,505.5 1332.3,505.8 1334.3,505.3 1336.3,504.5 1338.3,505.7 1340.3,504.7 1342.3,505.7 1344.3,505.7 1346.3,506.3 1348.3,506.6 1350.3,505.1 1352.3,505.1 1354.3,504.8 1356.3,503.3 1358.3,503.3 1360.3,504.8 1362.3,505.3 1364.3,504.0 1366.3,502.5 1368.3,504.2 1370.3,505.2 1372.3,504.0 1374.3,503.4 1376.3,503.3 1378.3,502.8 1380.3,501.5 1382.3,501.9 1384.3,501.9 1386.3,501.9 1388.3,502.4 1390.3,503.7 1392.3,503.4 1394.3,502.8 1396.3,501.9 1398.3,502.7 1400.3,502.6 1402.3,502.3 1404.3,502.6 1406.3,502.5 1408.3,502.2 1410.3,500.7 1412.3,501.1 1414.3,502.4 1416.3,502.8 1418.1,501.5 1418.3,501.3 1418.6,501.2 1419.1,500.9 1419.6,500.6 1420.1,500.3 1420.3,500.2 1420.6,500.1 1421.1,499.9 1421.6,499.6 1422.1,499.4 1422.3,499.3 1422.6,499.2 1423.1,499.2 1423.6,499.0 1424.1,498.9 1424.3,498.8 1424.6,498.7 1425.1,498.5 1425.6,498.2 1426.1,497.8 1426.3,497.7 1426.6,497.1 1427.1,496.0 1427.6,494.8 1428.1,493.4 1428.3,492.8 1428.6,491.8 1429.1,490.0 1429.6,488.0 1430.1,485.6 1430.3,484.6 1430.6,483.1 1431.1,480.2 1431.6,476.8 1432.1,472.7 1432.3,470.9 1432.6,468.1 1433.1,462.9 1433.6,457.2 1434.1,451.4 1434.3,449.2 1434.6,446.3 1435.1,442.7 1435.6,441.6 1436.1,443.2 1436.3,444.6 1436.6,447.0 1437.1,452.1 1437.6,457.8 1438.1,463.5 1438.3,465.7 1438.6,468.8 1439.1,473.5 1439.6,477.5 1440.1,480.9 1440.3,482.0 1440.6,483.9 1441.1,486.7 1441.6,489.0 1442.1,491.1 1442.3,491.8 1442.6,492.6 1443.1,493.8 1443.6,494.8 1444.1,495.6 1444.3,495.9 1444.6,496.4 1445.1,497.2 1445.6,497.9 1446.1,498.5 1446.3,498.7 1446.6,499.3 1447.1,500.2 1447.6,501.0 1448.1,501.9 1448.3,502.2 1448.6,502.5 1449.1,502.9 1449.6,503.4 1450.1,503.8 1450.3,503.9 1450.6,504.2 1451.1,504.7 1451.6,505.1 1452.1,505.6 1452.3,505.8 1452.6,505.8 1453.1,505.8 1454.3,505.9 1456.3,505.0 1458.3,504.4 1460,504.7 1460.3,504.7 1461,504.6 1462,504.4 1462.3,504.3 1463,504.8 1464,505.4 1464.3,505.5 1465,505.6 1466,505.7 1466.3,505.7 1467,505.4 1468,505.0 1468.3,504.8 1469,504.6 1470,504.4 1470.3,504.3 1471,504.1 1472,503.9 1472.3,503.8 1473,504.0 1474,504.4 1474.3,504.5 1475,504.7 1476,504.9 1476.3,505.0 1477,505.3 1478,505.7 1478.3,505.8 1479,505.2 1480,504.4 1480.3,504.1 1481,504.1 1482,503.9 1482.3,503.8 1483,502.8 1484,501.5 1484.3,501.2 1485,500.9 1486,500.8 1486.3,500.8 1487,501.3 1488,502.2 1488.3,502.4 1489,502.9 1490,503.4 1490.3,503.6 1491,503.7 1492,503.9 1492.3,504.0 1493,504.8 1494,505.9 1494.3,506.2 1495,506.4 1496,506.8 1496.3,506.9 1497,506.6 1498,506.1 1498.3,505.9 1499,506.1 1500,506.3 1500.3,506.4 1501,506.7 1502,507.3 1502.3,507.5 1503,507.4 1504,507.3 1504.3,507.3 1505,507.4 1506,507.5 1506.3,507.6 1507,507.5 1508,507.3 1508.3,507.2 1509,507.3 1510,507.3 1510.3,507.3 1512.3,506.6 1514.3,507.0 1516.3,507.6 1518.3,506.6 1520.3,505.1 1522.3,505.6 1524.3,503.3 1526.3,501.1 1528.3,500.9 1530.3,500.5 1532.3,500.5 1534.3,499.2 1536.3,497.9 1538.3,498.0 1540.3,499.2 1542.3,500.5 1544.3,501.8 1546.3,503.1 1548.3,504.2 1550.3,505.2 1552.3,504.8 1554.3,504.9 1555,505.2 1555.5,505.4 1556,505.6 1556.3,505.7 1556.5,505.7 1557,505.7 1557.5,505.7 1558,505.7 1558.3,505.7 1558.5,505.5 1559,505.0 1559.5,504.6 1560,504.0 1560.3,503.7 1560.5,503.5 1561,503.1 1561.5,502.6 1562,502.0 1562.3,501.6 1562.5,501.3 1563,500.7 1563.5,499.9 1564,498.9 1564.3,498.3 1564.5,497.8 1565,496.5 1565.5,494.7 1566,492.6 1566.3,491.0 1566.5,489.8 1567,486.4 1567.5,482.2 1568,477.3 1568.3,474.2 1568.5,472.0 1569,466.7 1569.5,462.7 1570,461.2 1570.3,461.6 1570.5,462.4 1571,465.8 1571.5,470.6 1572,475.7 1572.3,478.5 1572.5,480.6 1573,485.3 1573.5,489.2 1574,492.5 1574.3,494.2 1574.5,495.3 1575,497.7 1575.5,499.7 1576,501.4 1576.3,502.3 1576.5,502.8 1577,503.7 1577.5,504.5 1578,505.2 1578.3,505.5 1578.5,505.8 1579,506.3 1579.5,506.8 1580,507.2 1580.3,507.4 1580.5,507.7 1581,508.2 1581.5,508.8 1582,509.3 1582.3,509.6 1582.5,509.5 1583,509.5 1583.5,509.5 1584,509.4 1584.3,509.4 1584.5,509.5 1585,509.9 1586.3,510.8 1588.3,511.2 1590.3,512.5 1592.3,512.6 1594.3,512.5 1596.3,511.2 1598.3,511.1 1600.3,512.3 1602.3,513.4 1604.3,512.6 1606.3,512.6 1608.3,512.4 1610.3,512.2 1612.3,513.1 1614.3,513.7 1616.3,512.6 1618.3,513.0 1620.3,512.3 1622.3,511.8 1624.3,512.7 1626.3,513.4 1628.3,513.5 1630.3,512.7 1632.3,513.7 1634.3,513.8 1636.3,513.0 1638.3,512.2 1640.3,511.2 1642.3,512.3 1644.3,512.8 1646.3,512.4 1648.3,511.8 1650.3,512.7 1652.3,512.4 1654.3,511.5 1656.3,511.1 1658.3,511.5 1660.3,511.9 1662.3,512.7 1664.3,512.8 1666.3,512.5 1668.3,511.7 1670.3,512.1 1672.3,510.9 1674.3,511.4 1676.3,511.9 1678.3,512.1 1680.3,511.1 1681.1,511.1 1682.1,510.9 1682.3,510.9 1683.1,511.1 1684.1,511.4 1684.3,511.5 1685.1,511.4 1686.1,511.3 1686.3,511.3 1687.1,511.4 1688.1,511.4 1688.3,511.4 1689.1,511.0 1690.1,510.6 1690.3,510.5 1691.1,510.4 1692.1,510.2 1692.3,510.1 1693.1,509.6 1694.1,508.9 1694.3,508.8 1695.1,508.6 1696.1,508.1 1696.3,508.0 1697.1,508.1 1698.1,507.8 1698.3,507.7 1699.1,505.7 1700.1,502.8 1700.3,502.1 1701.1,499.5 1702.1,496.3 1702.3,495.7 1703.1,494.5 1703.6,494.3 1704.1,494.6 1704.3,494.9 1705.1,496.2 1706.1,498.8 1706.3,499.3 1707.1,501.7 1708.1,504.3 1708.3,504.8 1709.1,506.2 1710.1,507.5 1710.3,507.7 1711.1,508.1 1712.1,508.2 1712.3,508.2 1713.1,508.8 1714.1,509.4 1714.3,509.5 1715.1,509.8 1716.1,510.2 1716.3,510.2 1717.1,510.2 1718.1,510.0 1718.3,510.0 1719.1,510.0 1720.1,510.0 1720.3,510.0 1721.1,510.2 1722.1,510.4 1722.3,510.5 1723.1,511.0 1724.1,511.7 1724.3,511.8 1725.1,511.7 1726.1,511.5 1726.3,511.5 1728.3,513.5 1730.3,514.4 1732.3,513.7 1734.3,513.7 1736.3,512.0 1738.3,511.3 1740.3,512.4 1742.3,512.6 1744.3,511.0 1746.3,511.4 1748.3,512.1 1750.3,513.6 1752.3,512.4 1754.3,512.7 1756.3,513.8 1758.3,514.6 1760.3,513.7 1762.3,513.4 1764.3,514.4 1766.3,513.5 1768.3,512.1 1770.3,511.4 1772.3,514.3 1774.3,514.1 1776.3,512.9 1778.3,513.7 1780.3,514.1 1782.3,514.3 1784.3,515.7 1786.3,514.3 1788.3,513.3 1790.3,513.3 1792.3,514.0 1794.3,514.3 1796.3,512.9 1798.3,512.9 1800.3,513.2 1802.3,515.4 1804.3,515.7 1806.3,513.9 1808.3,514.0 1810.3,515.3 1812.3,515.2 1814.3,516.1 1816.3,517.4 1818.3,516.2 1820.3,515.4 1822.3,514.9 1824.3,515.3 1826.3,515.3 1828.3,516.0 1830.3,515.9 1832.3,517.0 1834.3,517.4 1836.3,517.6 1838.3,517.8 1840.3,515.8 1842.3,515.6 1844.3,514.9 1846.3,515.3 1848.3,515.0 1850.3,515.1 1852.3,515.1 1854.3,515.9 1856.3,517.6 1858.3,516.8 1860.3,516.6 1862.3,517.6 1864.3,517.8 1866.3,517.2 1868.3,517.6 1870.3,518.6 1872.3,517.9 1874.3,517.2 1876.3,517.3 1878.3,517.3 1880.3,517.8 1882.3,517.2 1884.3,517.5 1886.3,518.2 1888.3,517.1 1890.3,516.9 1892.3,517.4 1894.3,519.1 1896.3,518.3 1898.3,517.3 1900.3,516.9 1902.3,516.5 1904.3,516.8 1906.3,517.1 1908.3,517.6 1910.3,517.3 1912.3,517.5"/>
<polyline class="cv" stroke="#800000" points="20.3,146.8 22.3,143.5 24.3,147.8 26.3,150.0 28.3,146.1 30.3,150.5 32.3,157.1 34.3,161.8 36.3,159.5 38.3,160.9 40.3,161.5 42.3,167.1 44.3,172.8 46.3,170.4 48.3,164.4 50.3,164.2 52.3,166.3 54.3,169.2 56.3,171.9 58.3,179.1 60.3,179.7 62.3,182.9 64.3,180.5 66.3,180.1 68.3,180.8 70.3,182.7 72.3,184.3 74.3,184.5 76.3,182.8 78.3,183.2 80.3,187.2 82.3,190.6 84.3,190.1 86.3,188.6 88.3,192.1 90.3,190.4 92.3,188.6 94.3,191.6 96.3,192.4 98.3,197.5 100,198.0 100.3,198.1 101,197.5 102,196.6 102.3,196.3 103,196.9 104,197.8 104.3,198.1 105,198.8 106,199.9 106.3,200.2 107,200.4 108,200.7 108.3,200.8 109,201.6 110,202.9 110.3,203.3 111,205.1 112,207.7 112.3,208.4 113,207.6 114,206.2 114.3,205.7 115,204.9 116,203.3 116.3,202.7 117,201.6 118,199.5 118.3,198.8 119,198.9 120,200.4 120.3,201.4 121,204.0 122,208.6 122.3,210.0 123,212.0 124,214.3 124.3,214.9 125,215.8 126,216.8 126.3,217.0 127,218.8 128,221.2 128.3,221.8 129,221.4 130,220.8 130.3,220.6 131,220.8 132,221.1 132.3,221.1 133,222.4 134,224.2 134.3,224.8 135,225.7 136,227.0 136.3,227.4 137,229.1 138,231.5 138.3,232.2 139,233.7 140,236.0 140.3,236.7 142.3,235.7 144.3,237.3 146.3,237.3 148.3,234.6 150.3,233.7 152.3,236.6 154.3,237.0 156.3,239.0 158.3,242.0 160.3,243.2 162.3,244.6 164.3,242.2 166.3,245.4 168.3,253.1 170.3,253.1 172.3,252.1 174.3,252.1 176.3,249.7 178.3,250.8 180.3,254.0 182.3,252.3 184.3,254.4 186.3,254.3 188.3,259.8 190.3,261.1 192.3,260.8 194.3,262.2 196.3,262.8 198.3,261.4 200.3,261.4 202.3,264.7 204.3,267.2 206.3,266.6 208.3,269.5 210.3,273.2 212.3,272.0 214.3,271.2 216.3,271.6 218.3,276.4 220.3,276.5 222.3,276.2 224.3,277.2 226.3,281.6 228.3,282.7 230.3,283.3 232.3,283.2 234.3,283.1 236.3,286.3 238.3,287.8 240.3,287.1 242.3,287.6 244.3,289.4 246.3,290.8 248.3,295.0 250.3,296.9 252.3,293.9 254.3,294.0 256.3,297.0 258.3,297.9 260.3,298.0 262.3,298.9 264.3,300.7 266.3,301.4 268.3,302.5 270.3,302.1 272.3,299.6 274.3,303.2 276.3,305.4 278.3,305.3 280.3,304.1 282.3,302.8 284.3,303.5 286.3,306.1 288.3,307.4 290.3,311.7 292.3,312.1 294.3,311.9 296.3,313.5 298.3,313.5 300.3,314.1 302.3,316.1 304.3,315.8 306.3,315.7 308.3,316.4 310.3,317.2 312.3,317.4 314.3,316.6 316.3,317.1 318.3,318.8 320.3,319.3 322.3,319.7 324.3,318.2 326.3,319.4 328.3,320.2 330.3,321.8 332.3,322.6 334.3,322.1 336.3,322.7 338.3,323.4 340.3,323.9 342.3,323.3 344.3,322.0 345,321.6 345.5,321.3 346,320.9 346.3,320.7 346.5,320.7 347,320.6 347.5,320.5 348,320.3 348.3,320.1 348.5,320.1 349,320.0 349.5,319.7 350,319.3 350.3,319.0 350.5,318.6 351,317.3 351.5,315.8 352,313.9 352.3,312.5 352.5,311.2 353,307.5 353.5,302.9 354,297.3 354.3,293.3 354.5,290.3 355,281.4 355.5,269.7 356,254.3 356.3,242.7 356.5,234.1 357,207.6 357.5,173.9 358,135.5 358.3,113.8 358.5,101.7 359,87.7 359.5,102.0 360,136.2 360.3,159.8 360.5,174.9 361,208.5 361.5,234.8 362,254.5 362.3,263.7 362.5,269.5 363,281.4 363.5,290.6 364,297.7 364.3,301.3 364.5,303.6 365,308.6 365.5,312.7 366,316.3 366.3,318.1 366.5,318.8 367,320.4 367.5,321.6 368,322.6 368.3,323.1 368.5,323.4 369,324.0 369.5,324.5 370,324.9 370.3,325.1 370.5,325.4 371,326.0 371.5,326.6 372,327.1 372.3,327.3 372.5,327.5 373,327.8 374.3,328.4 376.3,331.5 378.3,333.3 380.3,334.3 382.3,335.3 384.3,336.8 386.3,338.8 388.3,338.9 390.3,338.7 392.3,338.9 394.3,338.2 396.3,341.2 398.3,345.3 400.3,345.8 402.3,344.6 404.3,343.4 406.3,345.5 408.3,348.6 410.3,347.3 412.3,347.2 414.3,349.4 416.3,350.8 418.3,350.9 420.3,351.0 422.3,349.9 424.3,351.6 426.3,351.2 428.3,350.8 430.3,349.3 432.3,351.2 434.3,351.5 436.3,351.7 438.3,350.2 440.3,349.8 442.3,351.7 444.3,352.9 446.3,352.2 448.3,351.7 450.3,352.6 452.3,354.3 454.3,353.3 456.3,352.6 458.3,355.1 460.3,354.7 462.3,354.1 464.3,352.8 466.3,354.2 468.3,355.7 470.3,356.4 472.3,356.7 474.3,357.0 476.3,355.9 478.3,354.5 480.3,354.3 482.3,356.9 484.3,358.0 486.3,360.0 488.3,359.4 490.3,357.1 492.3,358.0 494.3,358.8 496.3,358.3 498.3,356.3 500.3,356.3 502.3,357.2 504.3,358.8 506.3,357.8 508.3,356.2 510.3,356.1 512.3,356.5 514.3,355.5 516.3,356.0 518.3,357.5 520.3,359.0 522.3,358.7 524.3,357.7 526.3,356.5 528.3,356.0 530.3,355.9 532.3,358.1 534.3,358.6 536.3,358.9 538.3,361.0 540.3,360.0 542.3,360.2 544.3,359.7 546.3,359.2 548.3,358.3 550.3,359.8 552.3,360.0 554.3,358.3 556.3,360.5 558.3,359.9 560.3,359.8 562.3,360.4 564.3,361.9 566.3,361.6 568.3,360.3 570.3,360.3 572.3,361.2 574.3,360.7 576.3,360.2 578.3,361.0 580.3,362.0 582.3,359.9 584.3,359.9 586.3,361.7 588.3,361.0 590.3,360.7 592.3,362.4 594.3,361.4 596.3,360.6 598.3,361.2 600.3,363.6 602.3,363.6 604.3,364.6 606.3,363.7 608.3,362.8 610.3,364.1 612.3,363.7 614.3,363.5 616.3,361.6 618.3,361.2 620.3,361.9 622.3,362.6 624.3,364.2 626.3,363.9 628.3,362.5 630.3,362.4 632.3,360.8 634.3,362.3 636.3,363.0 638.3,361.5 640.3,361.5 642.3,362.5 644.3,363.1 646.3,364.3 648.3,362.9 650.3,363.8 652.3,365.4 654.3,365.2 656.3,363.9 658.3,362.9 660.3,363.2 662.3,364.1 664.3,363.8 666.3,363.6 668.3,363.1 670.3,363.4 672.3,365.4 674.3,364.3 676.3,361.6 678.3,363.3 680.3,364.2 682.3,362.3 684.3,361.8 686.3,362.4 688.3,362.5 690.3,362.7 692.3,362.9 694.3,364.7 696.3,363.1 698.3,363.7 700.3,364.1 702.3,363.6 704.3,364.2 706.3,364.5 708.3,363.2 710.3,363.9 712.3,363.9 714.3,361.4 716.3,359.6 718.3,361.6 720.3,362.1 722.3,361.1 724.3,361.2 726.3,362.1 728.3,360.9 730.3,360.3 732.3,359.1 734.3,358.4 736.3,357.8 738,357.2 738.3,357.1 738.5,357.0 739,356.7 739.5,356.4 740,356.1 740.3,355.9 740.5,355.8 741,355.5 741.5,355.2 742,354.8 742.3,354.6 742.5,354.4 743,354.0 743.5,353.5 744,353.0 744.3,352.6 744.5,352.4 745,351.8 745.5,351.1 746,350.3 746.3,349.8 746.5,349.4 747,348.3 747.5,347.0 748,345.4 748.3,344.3 748.5,343.5 749,341.0 749.5,338.0 750,334.1 750.3,331.3 750.5,329.2 751,323.0 751.5,315.6 752,307.5 752.3,303.0 752.5,300.5 753,297.2 753.5,299.1 754,304.6 754.3,308.6 754.5,311.4 755,317.7 755.5,322.8 756,326.6 756.3,328.4 756.5,329.5 757,332.0 757.5,333.8 758,335.2 758.3,335.9 758.5,336.1 759,336.5 759.5,336.6 760,336.7 760.3,336.6 760.5,336.5 761,336.1 761.5,335.6 762,335.0 762.3,334.7 762.5,334.4 763,333.8 763.5,333.2 764,332.5 764.3,332.0 764.5,331.8 765,331.1 765.5,330.5 766,329.7 766.3,329.2 766.5,328.8 767,327.9 767.5,326.8 768,325.6 768.3,324.9 768.5,324.4 769.5,321.8 770.3,319.3 770.5,318.4 771.5,313.6 772.3,309.1 772.5,307.8 773.5,300.7 774.3,293.9 774.5,292.1 775.5,282.3 776.3,273.5 776.5,271.4 777.5,260.9 778.3,254.1 778.5,252.9 779.5,250.2 780.3,252.9 780.5,253.9 781.5,261.3 782.3,269.1 782.5,271.2 783.5,281.1 784.3,288.2 784.5,290.0 785.5,298.4 786.3,304.0 786.5,305.2 787.5,310.9 788.3,314.8 788.5,315.6 789.5,319.1 790.3,321.6 790.5,322.1 791.5,324.5 792.3,326.2 792.5,326.5 793.5,328.2 794.3,329.4 794.5,329.7 795.5,330.8 796.3,331.6 796.5,331.8 797.5,332.8 798.3,333.4 798.5,333.6 799.5,334.5 800.3,335.1 800.5,335.4 801.5,336.8 802.3,337.9 802.5,338.1 803.5,339.4 804.3,340.4 806.3,342.8 808.3,343.3 810.3,346.3 812.3,347.2 814.3,349.0 816.3,350.5 818.3,353.5 820.3,354.8 822.3,355.6 824.3,357.7 826.3,357.6 828.3,357.5 830.3,357.9 832.3,359.7 834.3,360.3 836.3,360.0 838.3,360.9 840.3,361.9 842.3,362.1 844.3,363.1 846.3,361.5 848.3,361.2 850.3,362.4 852.3,363.6 854.3,361.6 856.3,359.1 858.3,357.4 860.3,357.0 862.3,357.0 864.3,357.4 866.3,355.7 868.3,354.5 870.3,355.1 872.3,354.9 874.3,353.1 876.3,353.7 878.3,355.5 880.3,357.5 882.3,359.0 884.3,359.3 886.3,359.2 888.3,359.7 890.3,361.3 892.3,360.9 894.3,362.8 896.3,364.5 898.3,364.2 900.3,364.2 902.3,365.2 904.3,365.2 906.3,365.3 908.3,366.1 910.3,367.4 912.3,369.7 914.3,368.1 916.3,368.1 918.3,367.1 920.3,368.6 922.3,368.4 924.3,366.9 926.3,365.7 928.3,365.4 930.3,364.6 932.3,365.6 934.3,365.2 936.3,366.9 938.3,366.5 939.6,365.3 940.1,364.8 940.3,364.6 940.6,364.3 941.1,363.7 941.6,363.0 942.1,362.3 942.3,362.0 942.6,361.5 943.1,360.5 943.6,359.5 944.1,358.3 944.3,357.8 944.6,356.9 945.1,355.3 945.6,353.5 946.1,351.4 946.3,350.6 946.6,349.5 947.1,347.4 947.6,344.8 948.1,341.7 948.3,340.3 948.6,337.9 949.1,333.0 949.6,326.9 950.1,319.1 950.3,315.4 950.6,309.0 951.1,295.6 951.6,278.1 952.1,255.0 952.3,244.0 952.6,225.4 953.1,188.9 953.6,149.1 954.1,115.6 954.3,107.1 954.6,101.9 955.1,115.5 955.6,149.2 956.1,189.2 956.3,204.5 956.6,225.7 957.1,255.4 957.6,278.3 958.1,295.8 958.3,301.6 958.6,309.3 959.1,319.7 959.6,327.9 960.1,334.4 960.3,336.6 960.6,339.6 961.1,343.8 961.6,347.2 962.1,350.1 962.3,351.1 962.6,352.3 963.1,353.9 963.6,355.3 964.1,356.5 964.3,356.9 964.6,357.5 965.1,358.4 965.6,359.2 966.1,359.9 966.3,360.1 966.6,360.5 967.1,360.9 967.6,361.4 968.1,361.7 968.3,361.9 968.6,362.0 969.1,362.3 969.6,362.5 970.3,362.8 972.3,364.3 974.3,365.6 976.3,365.5 978.3,366.1 980.3,366.5 982.3,367.9 984.3,369.5 986.3,370.2 988.3,369.9 990.3,368.8 992.3,369.2 994.3,369.6 996.3,370.0 997,370.5 998,371.2 998.3,371.5 999,371.1 1000,370.6 1000.3,370.4 1001,370.5 1002,370.6 1002.3,370.6 1003,370.3 1004,369.9 1004.3,369.8 1005,369.9 1006,370.0 1006.3,370.0 1007,370.4 1008,370.9 1008.3,371.1 1009,371.2 1010,371.4 1010.3,371.5 1011,371.6 1012,371.7 1012.3,371.7 1013,372.4 1014,373.2 1014.3,373.4 1015,373.4 1016,373.2 1016.3,373.1 1017,372.8 1018,372.2 1018.3,372.0 1019,370.9 1020,369.2 1020.3,368.8 1021,369.1 1022,369.9 1022.3,370.2 1023,371.0 1024,372.5 1024.3,372.9 1025,373.2 1026,373.5 1026.3,373.6 1027,373.3 1028,372.8 1028.3,372.6 1029,372.7 1030,372.8 1030.3,372.9 1031,373.3 1032,373.8 1032.3,374.0 1033,374.5 1034,375.1 1034.3,375.3 1035,375.1 1036,374.7 1036.3,374.6 1037,374.8 1038,375.2 1038.3,375.3 1039,375.7 1040,376.3 1040.3,376.5 1041,376.3 1042,376.0 1042.3,376.0 1043,376.1 1044,376.2 1044.3,376.2 1045,376.5 1046,376.8 1046.3,376.9 1047,377.5 1048.3,378.7 1050.3,378.2 1052.3,378.5 1054.3,378.6 1056.3,379.3 1058.3,379.7 1060.3,379.5 1062.3,379.4 1064.3,378.7 1066.3,379.5 1068.3,380.0 1070.3,379.7 1072.3,378.7 1074.3,380.1 1076.3,380.4 1078.3,379.8 1080.3,380.6 1082.3,382.2 1084.3,383.3 1086.3,383.8 1088.3,382.2 1090.3,381.9 1092.3,383.1 1094.3,384.7 1096.3,384.5 1098.3,383.8 1100.3,384.6 1102.3,384.9 1104.3,385.2 1106.3,385.0 1108.3,384.4 1110.3,385.2 1112.3,386.7 1114.3,386.0 1116.3,385.8 1118.3,384.6 1120.3,384.0 1122.3,384.4 1124,385.8 1124.3,386.0 1125,386.3 1126,386.6 1126.3,386.7 1127,386.9 1128,387.1 1128.3,387.1 1129,387.1 1130,387.1 1130.3,387.1 1131,386.6 1132,385.9 1132.3,385.7 1133,385.4 1134,385.0 1134.3,384.9 1135,384.8 1136,384.7 1136.3,384.6 1137,384.8 1138,385.1 1138.3,385.2 1139,385.3 1140,385.3 1140.3,385.3 1141,385.2 1142,384.8 1142.3,384.7 1143,384.1 1144,383.0 1144.3,382.6 1145,381.4 1146,379.5 1146.3,379.0 1147,377.8 1148,376.5 1148.3,376.2 1149,375.7 1150,375.6 1150.3,375.7 1151,377.1 1152,379.5 1152.3,380.2 1153,381.7 1154,383.7 1154.3,384.3 1155,384.8 1156,385.5 1156.3,385.7 1157,386.5 1158,387.5 1158.3,387.8 1159,388.6 1160,389.6 1160.3,389.9 1161,390.0 1162,390.1 1162.3,390.1 1163,389.7 1164,389.1 1164.3,388.9 1165,388.7 1166,388.6 1166.3,388.5 1167,388.7 1168,389.0 1168.3,389.0 1169,389.1 1170,389.2 1170.3,389.3 1171,389.2 1172,389.0 1172.3,388.9 1173,388.9 1174,388.9 1174.3,388.8 1176.3,389.2 1178.3,389.5 1180.3,389.1 1182.3,388.7 1184.3,389.3 1186.3,389.7 1188.3,389.3 1190.3,388.3 1192.3,387.8 1194.3,387.7 1196.3,386.2 1198.3,387.1 1200.3,388.1 1202.3,388.9 1204.3,387.5 1206.3,387.3 1208.3,389.0 1210.3,388.8 1212.3,387.7 1214.3,388.3 1216.3,388.3 1218.3,387.6 1220.3,387.3 1222.3,387.8 1224.3,388.8 1226.3,389.3 1228.3,389.8 1230.3,389.0 1232.3,387.5 1234.3,386.9 1236.3,387.4 1238.3,388.1 1240.3,387.7 1242.3,387.6 1244.3,390.1 1246.3,390.4 1248.3,389.1 1250.3,387.8 1252.3,387.8 1254.3,388.9 1256.3,388.7 1258.3,389.0 1260.3,388.6 1262.3,387.6 1264.3,388.1 1266.3,388.3 1268.3,387.9 1270.3,387.6 1272.3,386.8 1274.3,387.0 1276.3,386.9 1278.3,386.3 1280.3,385.2 1282.3,385.4 1284.3,383.4 1286.3,380.6 1288.3,380.5 1290.3,381.5 1292.3,383.5 1294.3,385.6 1296.3,385.3 1298.3,385.4 1300.3,387.2 1302.3,386.9 1304.3,386.9 1306.3,386.6 1308.3,387.7 1310.3,386.7 1312.3,385.6 1314.3,385.4 1316.3,387.0 1318.3,388.5 1320.3,387.2 1322.3,387.5 1324.3,388.1 1326.3,389.1 1328.3,388.4 1330.3,386.8 1332.3,386.0 1334.3,385.9 1336.3,386.5 1338.3,387.4 1340.3,387.0 1342.3,385.6 1344.3,385.5 1346.3,385.7 1348.3,385.0 1350.3,386.4 1352.3,387.2 1354.3,386.1 1356.3,386.7 1358.3,386.4 1360.3,385.9 1362.3,385.9 1364.3,386.4 1366.3,387.2 1368.3,386.1 1370.3,386.2 1372.3,385.8 1374.3,384.9 1376.3,384.3 1378.3,385.3 1380.3,385.6 1382.3,386.2 1384.3,385.7 1386.3,385.2 1388.3,384.2 1390.3,382.7 1392.3,385.0 1394.3,385.7 1396.3,385.0 1398.3,385.5 1400.3,385.9 1402.3,384.2 1404.3,384.5 1406.3,384.3 1408.3,384.1 1410.3,383.2 1412.3,381.3 1414.3,382.6 1416.3,383.2 1418.3,382.7 1419.5,382.2 1420,382.0 1420.3,381.8 1420.5,381.7 1421,381.3 1421.5,380.8 1422,380.4 1422.3,380.1 1422.5,380.0 1423,379.6 1423.5,379.2 1424,378.8 1424.3,378.5 1424.5,378.3 1425,377.9 1425.5,377.4 1426,376.9 1426.3,376.5 1426.5,376.3 1427,375.7 1427.5,375.0 1428,374.2 1428.3,373.7 1428.5,373.4 1429,372.6 1429.5,371.6 1430,370.3 1430.3,369.4 1430.5,368.5 1431,366.0 1431.5,363.1 1432,359.5 1432.3,357.1 1432.5,355.4 1433,350.5 1433.5,344.6 1434,337.8 1434.3,333.3 1434.5,330.1 1435,321.9 1435.5,313.5 1436,306.1 1436.3,302.6 1436.5,300.6 1437,298.3 1437.5,299.8 1438,304.7 1438.3,308.8 1438.5,312.0 1439,320.4 1439.5,328.7 1440,336.4 1440.3,340.5 1440.5,343.2 1441,349.4 1441.5,354.7 1442,359.2 1442.3,361.6 1442.5,362.9 1443,365.7 1443.5,368.1 1444,370.1 1444.3,371.1 1444.5,371.8 1445,373.4 1445.5,374.8 1446,376.0 1446.3,376.6 1446.5,377.0 1447,377.8 1447.5,378.6 1448,379.2 1448.3,379.6 1448.5,379.7 1449,380.1 1449.5,380.4 1450,380.7 1450.3,380.9 1450.5,381.1 1451,381.6 1451.5,382.0 1452,382.4 1452.3,382.7 1452.5,382.8 1453,383.3 1453.5,383.7 1454,384.0 1454.3,384.3 1454.5,384.4 1456.3,385.1 1458.3,385.3 1460.3,385.1 1462.3,384.6 1463,384.8 1464,385.0 1464.3,385.1 1465,385.3 1466,385.6 1466.3,385.7 1467,386.0 1468,386.5 1468.3,386.6 1469,387.0 1470,387.7 1470.3,387.9 1471,387.8 1472,387.7 1472.3,387.6 1473,387.5 1474,387.4 1474.3,387.4 1475,387.7 1476,388.2 1476.3,388.4 1477,388.0 1478,387.5 1478.3,387.3 1479,388.0 1480,388.8 1480.3,389.0 1481,388.4 1482,387.6 1482.3,387.3 1483,386.5 1484,385.2 1484.3,384.8 1485,384.2 1486,383.3 1486.3,383.1 1487,382.6 1488,382.2 1488.3,382.2 1489,383.1 1490,384.7 1490.3,385.2 1491,385.7 1492,386.3 1492.3,386.5 1493,387.2 1494,388.0 1494.3,388.2 1495,388.8 1496,389.6 1496.3,389.8 1497,389.9 1498,390.0 1498.3,390.0 1499,390.1 1500,390.2 1500.3,390.2 1501,389.9 1502,389.6 1502.3,389.4 1503,389.2 1504,388.9 1504.3,388.8 1505,389.5 1506,390.4 1506.3,390.6 1507,390.1 1508,389.4 1508.3,389.1 1509,388.4 1510,387.5 1510.3,387.2 1511,387.6 1512,388.1 1512.3,388.3 1513,388.4 1514.3,388.6 1516.3,389.6 1518.3,389.0 1520.3,389.7 1522.3,388.5 1524.3,388.5 1526.3,387.5 1528.3,386.1 1530.3,384.9 1532.3,384.1 1534.3,382.5 1536.3,381.8 1538.3,383.1 1540.3,383.4 1542.3,383.5 1544.3,382.6 1546.3,382.4 1548.3,382.5 1550.3,383.7 1552.3,384.6 1554.3,385.1 1556.3,386.3 1558.3,386.4 1558.8,386.4 1559.3,386.4 1559.8,386.4 1560.3,386.3 1560.8,386.1 1561.3,386.0 1561.8,385.8 1562.3,385.5 1562.8,385.1 1563.3,384.6 1563.8,384.1 1564.3,383.6 1564.8,383.3 1565.3,382.9 1565.8,382.5 1566.3,381.9 1566.8,381.0 1567.3,380.0 1567.8,378.7 1568.3,377.1 1568.8,375.0 1569.3,372.4 1569.8,369.2 1570.3,365.3 1570.8,360.5 1571.3,354.7 1571.8,348.1 1572.3,340.9 1572.8,334.4 1573.3,329.6 1573.8,327.9 1574.3,330.0 1574.8,335.4 1575.3,342.5 1575.8,349.9 1576.3,356.8 1576.8,362.7 1577.3,367.6 1577.8,371.7 1578.3,375.0 1578.8,377.6 1579.3,379.7 1579.8,381.4 1580.3,382.9 1580.8,384.6 1581.3,386.2 1581.8,387.5 1582.3,388.8 1582.8,389.6 1583.3,390.4 1583.8,391.0 1584.3,391.7 1584.8,392.1 1585.3,392.5 1585.8,392.8 1586.3,393.1 1586.8,393.4 1587.3,393.7 1587.8,394.0 1588.3,394.3 1588.8,394.2 1590.3,393.8 1592.3,394.4 1594.3,395.2 1596.3,395.4 1598.3,395.1 1600.3,394.8 1602.3,395.7 1604.3,396.0 1606.3,394.6 1608.3,393.2 1610.3,394.8 1612.3,395.9 1614.3,396.7 1616.3,396.2 1618.3,395.7 1620.3,396.0 1622.3,395.2 1624.3,396.0 1626.3,396.1 1628.3,395.4 1630.3,396.4 1632.3,396.7 1634.3,397.5 1636.3,397.3 1638.3,395.6 1640.3,394.3 1642.3,394.0 1644.3,396.5 1646.3,397.3 1648.3,396.5 1650.3,395.6 1652.3,395.2 1654.3,394.6 1656.3,394.0 1658.3,395.1 1660.3,396.1 1662.3,396.0 1664.3,395.2 1666.3,395.0 1668.3,394.8 1670.3,395.6 1672.3,396.3 1674.3,396.2 1676.3,395.3 1678.3,394.3 1680.3,394.8 1682.3,396.0 1683.5,395.5 1684.3,395.2 1684.5,395.1 1685.5,394.9 1686.3,394.6 1686.5,394.6 1687.5,394.7 1688.3,394.7 1688.5,394.6 1689.5,394.2 1690.3,393.8 1690.5,393.7 1691.5,393.1 1692.3,392.5 1692.5,392.6 1693.5,392.9 1694.3,393.0 1694.5,392.8 1695.5,391.6 1696.3,390.6 1696.5,390.4 1697.5,389.3 1698.3,388.2 1698.5,388.1 1699.5,387.7 1700.3,387.0 1700.5,386.7 1701.5,384.9 1702.3,383.0 1702.5,382.1 1703.5,377.4 1704.3,373.6 1704.5,373.1 1705.5,371.6 1706,371.7 1706.3,372.0 1706.5,372.4 1707.5,375.5 1708.3,378.9 1708.5,379.5 1709.5,382.8 1710.3,385.0 1710.5,385.5 1711.5,387.8 1712.3,389.2 1712.5,389.5 1713.5,390.9 1714.3,391.7 1714.5,391.8 1715.5,392.4 1716.3,392.7 1716.5,392.8 1717.5,393.2 1718.3,393.5 1718.5,393.4 1719.5,392.7 1720.3,392.1 1720.5,392.1 1721.5,392.1 1722.3,392.1 1722.5,392.2 1723.5,392.7 1724.3,393.1 1724.5,393.2 1725.5,393.7 1726.3,394.1 1726.5,394.2 1727.5,394.4 1728.3,394.6 1728.5,394.5 1730.3,394.0 1732.3,393.3 1734.3,393.0 1736.3,393.8 1738.3,394.0 1740.3,396.2 1742.3,396.9 1744.3,397.1 1746.3,395.4 1748.3,395.1 1750.3,396.2 1752.3,395.8 1754.3,396.6 1756.3,398.1 1758.3,396.8 1760.3,396.3 1762.3,396.5 1764.3,395.5 1766.3,393.4 1768.3,395.4 1770.3,397.4 1772.3,396.4 1774.3,395.6 1776.3,395.6 1778.3,396.5 1780.3,397.2 1782.3,398.6 1784.3,399.3 1786.3,397.6 1788.3,397.9 1790.3,398.9 1792.3,398.1 1794.3,398.5 1796.3,397.0 1798.3,396.0 1800.3,396.7 1802.3,396.4 1804.3,397.3 1806.3,397.2 1808.3,397.9 1810.3,398.8 1812.3,399.5 1814.3,398.6 1816.3,397.9 1818.3,398.2 1820.3,397.5 1822.3,396.8 1824.3,397.0 1826.3,396.9 1828.3,396.8 1830.3,396.8 1832.3,397.1 1834.3,398.9 1836.3,399.9 1838.3,401.4 1840.3,400.1 1842.3,398.7 1844.3,398.6 1846.3,398.2 1848.3,398.0 1850.3,400.3 1852.3,400.6 1854.3,399.3 1856.3,399.4 1858.3,399.0 1860.3,398.8 1862.3,399.3 1864.3,400.9 1866.3,401.1 1868.3,399.4 1870.3,400.7 1872.3,401.9 1874.3,400.3 1876.3,398.6 1878.3,399.2 1880.3,400.3 1882.3,400.4 1884.3,401.0 1886.3,401.6 1888.3,400.4 1890.3,400.4 1892.3,399.3 1894.3,398.5 1896.3,399.0 1898.3,400.4 1900.3,400.4 1902.3,399.2 1904.3,399.5 1906.3,399.7 1908.3,401.5 1910.3,401.5 1912.3,400.9"/>
<line class="gr" x1="56.0" y1="21.2" x2="56.0" y2="1416"/>
<line class="gr" x1="426.9" y1="21.2" x2="426.9" y2="1416"/>
<line class="gr" x1="800.0" y1="21.2" x2="800.0" y2="1416"/>
<line class="gr" x1="1168.0" y1="21.2" x2="1168.0" y2="1416"/>
<line class="gr" x1="1541.8" y1="133.2" x2="1541.8" y2="1416"/>
</g>
<text x="323.2" y="80.5" font-size="53" class="b">CH</text>
<text x="913.8" y="95.5" font-size="53" class="b">CH</text>
<text x="759.4" y="244.0" font-size="53" class="b">C</text>
<text x="721.4" y="288.5" font-size="28" class="b">CH</text>
<text x="860.8" y="347.0" font-size="53" class="b">C</text>
<text x="1132.2" y="364.5" font-size="53" class="b">C</text>
<text x="1398.3" y="298.5" font-size="53" class="b">CH</text>
<text x="1537.8" y="315.0" font-size="53" class="b">CH</text>
<text x="1518.2" y="376.5" font-size="53" class="b">C</text>
<text x="318.8" y="637.0" font-size="53" class="b">CH</text>
<text x="758.8" y="612.5" font-size="53" class="b">C</text>
<text x="912.2" y="672.4" font-size="53" class="b">CH</text>
<text x="852.8" y="715.5" font-size="53" class="b">C</text>
<text x="1126.8" y="748.0" font-size="53" class="b">C</text>
<text x="1397.3" y="727.4" font-size="53" class="b">CH</text>
<text x="1520.8" y="754.0" font-size="53" class="b">C</text>
<text x="1550.7" y="749.5" font-size="21" class="b">CH</text>
<text x="758.8" y="968.5" font-size="53" class="b">C</text>
<text x="860.8" y="1084.5" font-size="53" class="b">C</text>
<text x="1128.5" y="1115.0" font-size="53" class="b">C</text>
<text x="1514.8" y="1118.5" font-size="53" class="b">C</text>
<text class="b" x="1243.6" y="99.6" font-size="70" textLength="652.8" lengthAdjust="spacingAndGlyphs">Room Temperature</text>
<line class="ax" x1="57.0" y1="1416" x2="57.0" y2="1443.5"/>
<line class="ax" x1="242.6" y1="1416" x2="242.6" y2="1430.8"/>
<line class="ax" x1="428.2" y1="1416" x2="428.2" y2="1443.5"/>
<line class="ax" x1="613.8" y1="1416" x2="613.8" y2="1430.8"/>
<line class="ax" x1="799.4" y1="1416" x2="799.4" y2="1443.5"/>
<line class="ax" x1="985.0" y1="1416" x2="985.0" y2="1430.8"/>
<line class="ax" x1="1170.6" y1="1416" x2="1170.6" y2="1443.5"/>
<line class="ax" x1="1356.2" y1="1416" x2="1356.2" y2="1430.8"/>
<line class="ax" x1="1541.8" y1="1416" x2="1541.8" y2="1443.5"/>
<line class="ax" x1="1727.4" y1="1416" x2="1727.4" y2="1430.8"/>
<line class="ax" x1="1913.0" y1="1416" x2="1913.0" y2="1443.5"/>
<g font-size="66" text-anchor="middle">
<text x="57.0" y="1513.2">10</text>
<text x="428.2" y="1513.2">20</text>
<text x="799.4" y="1513.2">30</text>
<text x="1170.6" y="1513.2">40</text>
<text x="1541.8" y="1513.2">50</text>
<text x="1913.0" y="1513.2">60</text>
</g>
<text class="b" y="1573.5" font-size="71"><tspan x="807.1">2</tspan><tspan class="sf" font-weight="normal" stroke="#000" stroke-width="0.7" x="845.2" font-size="72" textLength="39.8" lengthAdjust="spacingAndGlyphs">θ</tspan> <tspan x="904.1" textLength="289.7" lengthAdjust="spacingAndGlyphs">(degree)</tspan></text>
<text class="sf" font-size="90"><tspan x="932.5" y="1684.5">(</tspan><tspan font-weight="bold" font-size="85" x="958.4" y="1682.5">a</tspan><tspan x="999.0" y="1684.5">)</tspan></text>
<clipPath id="clipb"><rect x="23.2" y="1720.5" width="1883.8" height="1400.5"/></clipPath>
<rect class="ax" x="23.2" y="1720.5" width="1883.8" height="1400.5"/>
<g>
<text x="1557.5" y="1913.0" fill="#800000" font-size="46">CASH2.0_60_7d</text>
<text x="1556.0" y="2047.0" fill="#800080" font-size="46">CASH2.0_60_3d</text>
<text x="1556.0" y="2198.0" fill="#8000FF" font-size="46">CASH2.0_60_1d</text>
<text x="1555.3" y="2405.8" fill="#000080" font-size="46">CASH1.5_60_7d</text>
<text x="1555.3" y="2524.0" fill="#008000" font-size="46">CASH1.5_60_3d</text>
<text x="1557.5" y="2649.6" fill="#FF00FF" font-size="46">CASH1.5_60_1d</text>
<text x="1555.3" y="2827.7" fill="#0000FF" font-size="46">CASH1.0_60_7d</text>
<text x="1555.3" y="2938.0" fill="#FF0000" font-size="46">CASH1.0_60_3d</text>
<text x="1551.5" y="3049.0" fill="#000000" font-size="46.6">CASH1.0_60_1d</text>
</g>
<g clip-path="url(#clipb)">
<polyline class="cv" stroke="#000000" points="23.2,2817.0 25.2,2820.5 27.2,2823.4 29.2,2822.9 31.2,2820.6 33.2,2818.3 35.2,2819.9 37.2,2822.9 39.2,2825.6 41.2,2822.3 43.2,2826.4 45.2,2827.6 47.2,2828.0 49.2,2825.2 51.2,2829.4 53.2,2833.5 55.2,2834.7 57.2,2837.1 59.2,2837.7 61.2,2836.7 63.2,2834.8 65.2,2836.9 67.2,2839.1 69.2,2843.9 71.2,2850.0 73.2,2847.0 75.2,2848.3 77.2,2850.4 79.2,2852.4 81.2,2851.6 83.2,2848.0 85.2,2851.1 87.2,2850.4 89.2,2852.2 91.2,2858.3 93.2,2858.0 95.2,2855.7 97.2,2856.8 99.2,2859.6 101.2,2859.7 103.2,2866.2 105.2,2868.0 107.2,2869.1 109.2,2870.8 111.2,2872.0 113.2,2872.5 115.2,2870.3 117.2,2870.7 119.2,2871.6 121.2,2876.2 123.2,2875.6 125.2,2874.9 127.2,2873.2 129.2,2874.2 131.2,2874.9 133.2,2874.2 135.2,2875.8 137.2,2879.7 139.2,2879.2 141.2,2880.8 143.2,2881.3 145.2,2881.0 147.2,2882.7 149.2,2885.4 151.2,2884.8 153.2,2883.5 155.2,2884.3 157.2,2885.7 159.2,2887.5 161.2,2891.5 163.2,2892.7 165.2,2894.5 167.2,2892.3 169.2,2894.1 171.2,2898.5 173.2,2894.8 175.2,2894.6 177.2,2895.6 179.2,2898.5 181.2,2901.7 183.2,2904.5 185.2,2905.2 187.2,2903.7 189.2,2904.1 191.2,2903.9 193.2,2906.5 195.2,2907.2 197.2,2910.6 199.2,2908.9 201.2,2912.6 203.2,2914.0 205.2,2915.1 207.2,2919.7 209.2,2919.8 211.2,2923.1 213.2,2922.1 215.2,2921.8 217.2,2920.5 219.2,2923.6 221.2,2927.0 223.2,2927.2 225.2,2927.9 227.2,2929.1 229.2,2931.7 231.2,2934.8 233.2,2939.9 235.2,2938.0 237.2,2939.2 239.2,2941.7 241.2,2942.3 243.2,2943.6 245.2,2942.5 247.2,2943.6 249.2,2944.4 251.2,2946.1 253.2,2950.4 255.2,2950.0 257.2,2947.7 259.2,2951.9 261.2,2955.9 263.2,2955.5 265.2,2957.1 267.2,2958.0 269.2,2958.0 271.2,2957.1 273.2,2957.9 275.2,2959.9 277.2,2962.2 279.2,2961.2 281.2,2960.3 283.2,2963.7 285.2,2963.7 287.2,2964.3 289.2,2965.9 291.2,2968.1 293.2,2967.5 295.2,2968.2 297.2,2970.5 299.2,2969.8 301.2,2968.0 303.2,2967.6 305.2,2972.5 307.2,2975.1 309.2,2971.8 311.2,2971.7 313.2,2974.2 315.2,2977.2 317.2,2977.6 319.2,2976.8 321.2,2979.2 323.2,2981.9 325.2,2981.5 327.2,2983.1 329.2,2982.4 331.2,2983.6 333.2,2986.2 335.2,2986.0 337.2,2985.4 339.2,2989.1 341.2,2991.0 343.2,2991.7 345.2,2990.8 347.2,2993.6 349.2,2994.8 351.2,2997.0 353.2,2994.6 355.2,2994.7 357.2,2996.1 359.2,2996.9 361.2,2999.7 363.2,3000.1 365.2,2998.1 367.2,3000.3 369.2,3003.3 371.2,3003.2 373.2,3002.5 375.2,3004.1 377.2,3004.8 379.2,3005.0 381.2,3005.7 383.2,3006.1 385.2,3007.6 387.2,3007.9 389.2,3008.7 391.2,3006.3 393.2,3008.3 395.2,3010.4 397.2,3011.1 399.2,3011.0 401.2,3013.0 403.2,3013.1 405.2,3013.9 407.2,3016.0 409.2,3016.6 411.2,3016.3 413.2,3016.0 415.2,3016.9 417.2,3018.4 419.2,3018.1 421.2,3017.2 423.2,3017.9 425.2,3017.2 427.2,3018.7 429.2,3019.9 431.2,3020.4 433.2,3020.2 435.2,3020.9 437.2,3023.0 439.2,3021.2 441.2,3022.1 443.2,3023.5 445.2,3022.7 447.2,3023.2 449.2,3024.8 451.2,3024.5 453.2,3023.4 455.2,3023.4 457.2,3025.2 459.2,3027.8 461.2,3025.7 463.2,3025.9 465.2,3027.3 467.2,3025.9 469.2,3026.1 471.2,3026.9 473.2,3027.7 475.2,3028.0 477.2,3030.2 479.2,3029.6 481.2,3029.3 483.2,3029.6 485.2,3030.4 487.2,3027.6 489.2,3027.0 491.2,3028.4 493.2,3028.6 495.2,3029.6 497.2,3030.2 499.2,3030.4 501.2,3029.8 503.2,3030.6 505.2,3031.5 507.2,3030.8 509.2,3032.0 511.2,3033.9 513.2,3035.6 515.2,3034.9 517.2,3033.4 519.2,3032.9 521.2,3034.2 523.2,3035.1 525.2,3035.0 527.2,3033.1 529.2,3034.8 531.2,3035.1 533.2,3034.2 535.2,3033.4 537.2,3034.1 539.2,3035.5 541.2,3036.8 543.2,3036.8 545.2,3035.8 547.2,3037.0 549.2,3036.7 551.2,3036.5 553.2,3034.8 555.2,3035.8 557.2,3036.1 559.2,3036.9 561.2,3037.7 563.2,3038.2 565.2,3037.5 567.2,3036.3 569.2,3036.4 571.2,3035.4 573.2,3036.4 575.2,3039.6 577.2,3038.8 579.2,3039.0 581.2,3039.3 583.2,3038.7 585.2,3036.7 587.2,3039.0 589.2,3040.9 591.2,3040.6 593.2,3039.5 595.2,3039.5 597.2,3039.0 599.2,3040.1 601.2,3038.3 603.2,3037.0 605.2,3038.2 607.2,3038.4 609.2,3039.7 611.2,3039.6 613.2,3039.4 615.2,3039.6 617.2,3039.5 619.2,3041.4 621.2,3040.6 623.2,3040.9 625.2,3039.6 627.2,3037.8 629.2,3039.0 631.2,3039.7 633.2,3039.8 635.2,3038.5 637.2,3038.7 639.2,3039.5 641.2,3039.6 643.2,3039.2 645.2,3039.4 647.2,3038.6 649.2,3037.8 651.2,3039.9 653.2,3041.4 655.2,3040.1 657.2,3038.7 659.2,3039.1 661.2,3040.1 663.2,3039.8 665.2,3039.6 667.2,3040.3 669.2,3039.6 671.2,3037.1 673.2,3037.0 675.2,3038.2 677.2,3040.1 679.2,3040.4 681.2,3039.2 683.2,3037.5 685.2,3037.7 687.2,3037.1 689.2,3037.0 691.2,3036.6 693.2,3038.3 695.2,3037.0 697.2,3035.8 699.2,3037.7 701.2,3037.5 703.2,3035.6 705.2,3036.9 707.2,3035.2 709.2,3033.9 711.2,3034.7 713.2,3034.2 715.2,3035.2 717.2,3034.4 719.2,3033.5 721.2,3032.1 723.2,3032.1 725.2,3033.4 727.2,3032.6 729.2,3030.3 731.2,3029.9 733.2,3027.6 735.2,3024.4 737.2,3022.8 739.2,3022.1 741.2,3020.4 743.2,3018.0 745.2,3017.7 747.2,3018.4 749.2,3017.7 751.2,3016.5 751.3,3016.5 752.3,3016.2 753.2,3015.8 753.3,3015.6 754.3,3014.3 755.2,3012.9 755.3,3012.7 756.3,3010.5 757.2,3008.4 757.3,3008.2 758.3,3006.3 759.2,3004.3 759.3,3004.2 760.3,3002.9 761.2,3001.6 761.3,3001.3 762.3,2998.9 763.2,2996.4 763.3,2996.0 764.3,2992.2 765.2,2988.4 765.3,2988.1 766.3,2984.1 767.2,2980.1 767.3,2979.7 768.3,2975.3 769.2,2971.0 769.3,2970.5 770.3,2964.5 771.2,2959.2 771.3,2958.7 772.3,2954.2 773.2,2950.8 773.3,2950.5 774.3,2948.1 775.2,2947.3 775.3,2947.3 776.3,2947.9 777.2,2950.0 777.3,2950.2 778.3,2953.4 779.2,2957.0 779.3,2957.5 780.3,2963.0 781.2,2967.9 781.3,2968.4 782.3,2974.0 783.2,2978.8 783.3,2979.2 784.3,2983.4 785.2,2986.8 785.3,2987.2 786.3,2990.4 787.2,2993.0 787.3,2993.2 788.3,2995.2 789.2,2996.8 789.3,2997.1 790.3,2999.4 791.2,3001.3 791.3,3001.5 792.3,3003.4 793.2,3005.0 793.3,3005.1 794.3,3005.7 795.2,3006.2 795.3,3006.3 796.3,3007.5 797.2,3008.6 797.3,3008.8 798.3,3010.2 799.2,3011.4 799.3,3011.5 801.2,3013.3 803.2,3015.9 805.2,3017.4 807.2,3019.3 809.2,3020.1 811.2,3021.3 813.2,3023.2 815.2,3025.3 817.2,3026.1 819.2,3026.4 821.2,3028.6 823.2,3029.6 825.2,3030.6 827.2,3031.8 829.2,3032.2 831.2,3032.0 833.2,3034.4 835.2,3034.3 837.2,3033.1 839.2,3032.6 841.2,3033.9 843.2,3034.1 845.2,3032.5 847.2,3030.8 849.2,3031.1 851.2,3033.0 853.2,3031.3 855.2,3030.5 857.2,3030.5 859.2,3031.0 861.2,3028.5 863.2,3025.7 865.2,3026.5 867.2,3027.3 869.2,3026.9 871.2,3029.1 873.2,3030.9 875.2,3030.5 877.2,3032.3 879.2,3034.3 881.2,3035.6 883.2,3035.3 885.2,3035.5 887.2,3036.5 889.2,3038.5 891.2,3037.8 893.2,3040.2 895.2,3044.0 897.2,3043.7 899.2,3042.7 901.2,3043.1 903.2,3042.4 905.2,3042.8 907.2,3042.2 909.2,3043.3 911.2,3045.5 913.2,3046.4 915.2,3044.6 917.2,3044.8 919.2,3044.8 921.2,3043.6 923.2,3043.7 925.2,3044.8 927.2,3046.9 929.2,3048.1 931.2,3049.0 933.2,3048.3 935.2,3046.1 937.2,3046.3 939.2,3049.1 941.2,3049.6 943.2,3049.3 945.2,3048.6 947.2,3047.1 949.2,3047.7 951.2,3047.6 953.2,3048.0 955.2,3048.6 957.2,3050.3 959.2,3051.9 961.2,3051.1 963.2,3051.3 965.2,3052.2 967.2,3051.0 969.2,3050.2 971.2,3050.4 973.2,3051.5 975.2,3052.0 977.2,3052.2 979.2,3053.0 981.2,3053.4 983.2,3052.5 985.2,3051.4 987.2,3052.0 989.2,3051.5 991.2,3050.6 993.2,3050.8 995.2,3052.8 997.2,3053.0 999.2,3051.9 1001.2,3050.2 1003.2,3052.0 1005.2,3051.5 1007.2,3050.6 1009.2,3049.8 1011.2,3048.5 1013.2,3048.9 1015.2,3048.9 1017.2,3048.1 1019.2,3049.2 1021.2,3050.0 1023.2,3049.5 1025.2,3050.7 1027.2,3050.2 1029.2,3050.1 1031.2,3049.3 1033.2,3050.6 1035.2,3051.1 1037.2,3051.6 1039.2,3053.1 1041.2,3053.3 1043.2,3051.0 1045.2,3051.7 1047.2,3050.8 1049.2,3051.1 1051.2,3051.3 1053.2,3051.0 1055.2,3054.1 1057.2,3054.2 1059.2,3054.1 1061.2,3055.0 1063.2,3056.0 1065.2,3056.1 1067.2,3055.9 1069.2,3055.7 1071.2,3055.1 1073.2,3054.4 1075.2,3054.5 1077.2,3056.4 1079.2,3057.4 1081.2,3058.0 1083.2,3058.4 1085.2,3059.5 1087.2,3058.2 1089.2,3057.1 1091.2,3057.3 1093.2,3058.1 1095.2,3060.3 1097.2,3061.5 1099.2,3060.2 1101.2,3060.2 1103.2,3060.4 1105.2,3059.8 1107.2,3059.6 1109.2,3059.5 1111.2,3058.9 1113.2,3060.0 1115.2,3061.4 1117,3061.9 1117.2,3062.0 1118,3061.6 1119,3061.1 1119.2,3061.0 1120,3060.7 1121,3060.4 1121.2,3060.3 1122,3060.3 1123,3060.3 1123.2,3060.3 1124,3059.6 1125,3058.7 1125.2,3058.5 1126,3059.1 1127,3059.7 1127.2,3059.8 1128,3060.6 1129,3061.6 1129.2,3061.8 1130,3061.9 1131,3062.1 1131.2,3062.1 1132,3061.3 1133,3060.2 1133.2,3059.9 1134,3059.3 1135,3058.3 1135.2,3058.1 1136,3057.9 1137,3057.5 1137.2,3057.3 1138,3056.2 1139,3054.7 1139.2,3054.4 1140,3053.6 1141,3053.0 1141.2,3052.9 1142,3053.6 1143,3055.1 1143.2,3055.5 1144,3056.4 1145,3057.8 1145.2,3058.0 1146,3058.7 1147,3059.4 1147.2,3059.5 1148,3060.1 1149,3060.6 1149.2,3060.7 1150,3060.6 1151,3060.4 1151.2,3060.4 1152,3061.1 1153,3061.8 1153.2,3062.0 1154,3062.7 1155,3063.5 1155.2,3063.7 1156,3063.5 1157,3063.2 1157.2,3063.1 1158,3063.3 1159,3063.4 1159.2,3063.5 1160,3063.3 1161,3063.2 1161.2,3063.1 1162,3063.9 1163,3064.8 1163.2,3065.0 1164,3065.4 1165,3065.8 1165.2,3065.9 1166,3066.1 1167,3066.4 1167.2,3066.5 1169.2,3067.2 1171.2,3066.6 1173.2,3066.6 1175.2,3066.0 1177.2,3066.7 1179.2,3066.8 1181.2,3065.5 1183.2,3065.0 1185.2,3065.9 1187.2,3067.6 1189.2,3066.7 1191.2,3066.6 1193.2,3066.4 1195.2,3064.9 1197.2,3065.5 1199.2,3065.4 1201.2,3065.9 1203.2,3065.8 1205.2,3065.6 1207.2,3064.1 1209.2,3064.0 1211.2,3064.6 1213.2,3065.9 1215.2,3065.6 1217.2,3065.5 1219.2,3066.0 1221.2,3066.2 1223.2,3066.9 1225.2,3066.0 1227.2,3066.4 1229.2,3066.5 1231.2,3065.2 1233.2,3064.0 1235.2,3066.0 1237.2,3065.7 1239.2,3065.0 1241.2,3065.5 1243.2,3064.3 1245.2,3064.3 1247.2,3063.7 1249.2,3064.3 1251.2,3064.3 1253.2,3065.6 1255.2,3064.2 1257.2,3063.7 1259.2,3064.0 1261.2,3062.4 1263.2,3063.3 1265.2,3062.3 1267.2,3061.6 1269.2,3060.7 1271.2,3061.2 1273.2,3062.8 1275.2,3063.6 1277.2,3062.2 1279.2,3061.5 1281.2,3062.4 1283.2,3062.6 1285.2,3061.0 1287.2,3061.1 1289.2,3063.5 1291.2,3063.6 1293.2,3061.1 1295.2,3060.7 1297.2,3062.7 1299.2,3064.4 1301.2,3064.9 1303.2,3064.7 1305.2,3064.1 1307.2,3064.1 1309.2,3064.2 1311.2,3063.3 1313.2,3065.1 1315.2,3065.0 1317.2,3063.7 1319.2,3063.9 1321.2,3064.6 1323.2,3064.8 1325.2,3065.6 1327.2,3065.9 1329.2,3065.6 1331.2,3065.1 1333.2,3063.4 1335.2,3064.7 1337.2,3065.4 1339.2,3063.4 1341.2,3062.8 1343.2,3063.2 1345.2,3063.7 1347.2,3063.3 1349.2,3062.2 1351.2,3062.7 1353.2,3061.8 1355.2,3061.3 1357.2,3061.1 1359.2,3059.7 1361.2,3060.9 1363.2,3060.5 1365.2,3061.0 1367.2,3062.5 1369.2,3061.4 1371.2,3061.9 1373.2,3061.0 1375.2,3062.1 1377.2,3063.0 1379.2,3061.2 1381.2,3060.2 1383.2,3060.4 1385.2,3060.1 1387.2,3060.6 1389.2,3059.9 1391.2,3060.8 1393.2,3061.4 1395.2,3060.0 1397.2,3059.7 1399.2,3060.6 1401.2,3061.3 1403.2,3062.1 1405.2,3061.3 1407.2,3061.5 1409.2,3064.0 1411.2,3064.0 1413.2,3063.3 1415.2,3063.4 1417.2,3065.0 1419.2,3065.1 1421.2,3064.9 1423.2,3063.5 1425.2,3062.5 1427.2,3063.0 1429.2,3064.1 1431.2,3066.2 1433.2,3066.8 1435.2,3068.2 1437.2,3069.0 1439.2,3067.4 1441.2,3067.4 1443.2,3068.2 1445.2,3069.3 1447.2,3069.5 1449.2,3069.9 1451.2,3069.2 1453.2,3069.2 1455.2,3070.8 1457.2,3071.7 1459.2,3071.6 1461.2,3072.6 1463.2,3072.3 1465.2,3071.2 1467.2,3071.2 1469.2,3069.6 1471.2,3068.5 1473.2,3068.7 1475.2,3068.7 1477.2,3067.9 1479.2,3066.6 1481.2,3066.1 1483.2,3067.4 1485.2,3068.9 1487.2,3071.2 1489.2,3071.2 1491.2,3068.7 1493.2,3070.7 1495.2,3072.5 1497.2,3072.7 1499.2,3071.7 1501.2,3073.1 1503.2,3072.7 1505.2,3072.9 1507.2,3072.9 1509.2,3072.6 1511.2,3071.5 1513.2,3070.1 1515.2,3070.0 1517.2,3068.7 1519.2,3066.6 1521.2,3067.0 1523.2,3064.7 1525.2,3062.3 1527.2,3061.0 1529.2,3060.2 1531.2,3059.9 1533.2,3060.3 1535.2,3060.7 1537.2,3060.8 1539.2,3062.0 1541.2,3064.2 1543.2,3066.9 1545.2,3067.9 1547.2,3069.0 1549.2,3071.0 1551.2,3072.7 1553.2,3072.3 1555.2,3073.1 1557.2,3074.0 1559.2,3072.4 1561.2,3071.6 1563.2,3073.0 1565.2,3073.6 1567.2,3073.0 1569.2,3072.8 1571.2,3073.0 1573.2,3072.9 1575.2,3072.9 1577.2,3073.6 1579.2,3074.0 1581.2,3074.9 1583.2,3074.5 1585.2,3074.1 1587.2,3073.8 1589.2,3075.6 1591.2,3075.3 1593.2,3075.5 1595.2,3074.8 1597.2,3075.4 1599.2,3076.6 1601.2,3077.4 1603.2,3077.3 1605.2,3078.2 1607.2,3078.8 1609.2,3078.4 1611.2,3077.4 1613.2,3076.9 1615.2,3076.4 1617.2,3076.8 1619.2,3077.4 1621.2,3077.7 1623.2,3077.4 1625.2,3078.6 1627.2,3079.3 1629.2,3079.1 1631.2,3078.0 1633.2,3077.2 1635.2,3077.3 1637.2,3078.7 1639.2,3080.3 1641.2,3078.6 1643.2,3076.0 1645.2,3076.5 1647.2,3076.5 1649.2,3076.6 1651.2,3077.8 1653.2,3077.9 1655.2,3076.4 1657.2,3076.7 1659.2,3076.9 1661.2,3075.8 1663.2,3077.0 1665.2,3077.5 1667.2,3077.6 1669.2,3076.1 1671.2,3075.2 1673.2,3074.8 1675.2,3074.8 1677.2,3074.8 1679.2,3074.8 1681.2,3076.5 1683.2,3076.3 1685.2,3075.3 1687.2,3073.6 1689.2,3074.5 1691.2,3074.4 1693.2,3074.2 1695.2,3072.7 1697.2,3072.2 1699.2,3072.7 1701.2,3072.6 1703.2,3074.5 1705.2,3073.3 1707.2,3072.9 1709.2,3073.6 1711.2,3073.7 1713.2,3073.8 1715.2,3073.7 1717.2,3073.5 1719.2,3074.2 1721.2,3073.8 1723.2,3073.5 1725.2,3074.3 1727.2,3073.4 1729.2,3072.9 1731.2,3073.1 1733.2,3073.6 1735.2,3073.3 1737.2,3073.1 1739.2,3074.9 1741.2,3076.1 1743.2,3074.9 1745.2,3075.3 1747.2,3074.2 1749.2,3075.3 1751.2,3075.7 1753.2,3076.6 1755.2,3077.2 1757.2,3077.5 1759.2,3076.9 1761.2,3077.6 1763.2,3078.7 1765.2,3078.7 1767.2,3079.0 1769.2,3080.0 1771.2,3079.5 1773.2,3080.4 1775.2,3080.4 1777.2,3077.7 1779.2,3078.1 1781.2,3079.8 1783.2,3082.2 1785.2,3081.3 1787.2,3079.5 1789.2,3080.0 1791.2,3082.1 1793.2,3081.1 1795.2,3079.7 1797.2,3079.9 1799.2,3080.0 1801.2,3079.9 1803.2,3081.0 1805.2,3080.6 1807.2,3079.9 1809.2,3080.4 1811.2,3078.8 1813.2,3079.0 1815.2,3080.0 1817.2,3080.2 1819.2,3079.7 1821.2,3079.6 1823.2,3079.2 1825.2,3080.1 1827.2,3081.7 1829.2,3080.0 1831.2,3080.1 1833.2,3079.5 1835.2,3080.1 1837.2,3081.5 1839.2,3081.9 1841.2,3080.6 1843.2,3081.6 1845.2,3081.6 1847.2,3080.5 1849.2,3080.8 1851.2,3079.5 1853.2,3079.9 1855.2,3080.5 1857.2,3079.2 1859.2,3078.0 1861.2,3078.8 1863.2,3078.6 1865.2,3078.7 1867.2,3079.0 1869.2,3078.7 1871.2,3079.0 1873.2,3080.5 1875.2,3079.7 1877.2,3079.9 1879.2,3078.2 1881.2,3077.3 1883.2,3079.1 1885.2,3080.9 1887.2,3081.9 1889.2,3080.4 1891.2,3080.1 1893.2,3080.5 1895.2,3080.3 1897.2,3077.7 1899.2,3078.5 1901.2,3080.1 1903.2,3079.8 1905.2,3078.4"/>
<polyline class="cv" stroke="#FF0000" points="23.2,2699.8 25.2,2706.0 27.2,2713.9 29.2,2713.6 31.2,2713.1 33.2,2714.9 35.2,2717.8 37.2,2720.7 39.2,2721.1 41.2,2723.8 43.2,2722.1 45.2,2723.2 47.2,2724.8 49.2,2729.2 51.2,2733.1 53.2,2728.0 55.2,2727.9 57.2,2733.4 59.2,2739.6 61.2,2740.2 63.2,2739.4 65.2,2740.9 67.2,2740.5 69.2,2742.3 71.2,2746.6 73.2,2751.3 75.2,2752.4 77.2,2754.8 79.2,2758.3 81.2,2757.7 83.2,2760.4 85.2,2760.6 87.2,2764.8 89.2,2760.0 91.2,2759.2 93.2,2764.6 95.2,2767.4 97.2,2771.1 99.2,2771.7 101.2,2769.8 103.2,2774.3 105.2,2780.2 107.2,2778.6 109.2,2781.1 111.2,2780.0 113.2,2779.2 115.2,2778.8 117.2,2779.8 119.2,2781.3 121.2,2787.1 123.2,2786.6 125.2,2786.2 127.2,2788.7 129.2,2787.6 131.2,2790.3 133.2,2792.7 135.2,2794.2 137.2,2794.9 139.2,2796.8 141.2,2796.2 143.2,2798.4 145.2,2800.6 147.2,2800.7 149.2,2800.5 151.2,2797.3 153.2,2802.6 155.2,2805.1 157.2,2805.9 159.2,2809.6 161.2,2812.8 163.2,2812.0 165.2,2812.3 167.2,2811.4 169.2,2811.9 171.2,2813.5 173.2,2813.5 175.2,2816.5 177.2,2818.9 179.2,2818.9 181.2,2819.0 183.2,2820.8 185.2,2824.6 187.2,2825.1 189.2,2826.0 191.2,2828.4 193.2,2829.6 195.2,2828.1 197.2,2830.2 199.2,2833.2 201.2,2832.7 203.2,2835.5 205.2,2838.5 207.2,2835.2 209.2,2837.0 211.2,2840.3 213.2,2842.8 215.2,2841.1 217.2,2839.3 219.2,2840.7 221.2,2842.9 223.2,2844.0 225.2,2849.0 227.2,2848.3 229.2,2851.5 231.2,2852.6 233.2,2852.6 235.2,2852.9 237.2,2851.8 239.2,2854.3 241.2,2857.1 243.2,2858.3 245.2,2859.5 247.2,2861.3 249.2,2862.5 251.2,2861.4 253.2,2863.5 255.2,2865.6 257.2,2864.8 259.2,2865.3 261.2,2868.2 263.2,2868.8 265.2,2867.1 267.2,2867.1 269.2,2869.6 271.2,2870.8 273.2,2868.7 275.2,2868.9 277.2,2872.7 279.2,2875.8 281.2,2872.7 283.2,2871.4 285.2,2871.8 287.2,2874.5 289.2,2873.3 291.2,2870.9 293.2,2871.4 295.2,2872.6 297.2,2874.5 299.2,2876.1 301.2,2877.3 303.2,2876.7 305.2,2877.8 307.2,2877.3 309.2,2879.8 311.2,2881.1 313.2,2881.3 315.2,2880.0 317.2,2881.1 319.2,2884.1 321.2,2886.9 323.2,2886.9 325.2,2887.8 327.2,2888.2 329.2,2889.3 331.2,2889.3 333.2,2890.9 335.2,2890.6 337.2,2890.9 339.2,2893.5 341.2,2894.1 343.2,2893.7 345.2,2894.7 347.2,2894.2 349.2,2895.2 351.2,2895.0 353.2,2897.1 355.2,2896.7 357.2,2898.3 359.2,2899.5 361.2,2898.8 363.2,2897.6 365.2,2899.1 367.2,2900.9 369.2,2902.2 371.2,2901.9 373.2,2902.7 375.2,2905.0 377.2,2905.1 379.2,2904.6 381.2,2902.0 383.2,2903.1 385.2,2905.2 387.2,2906.1 389.2,2907.2 391.2,2910.2 393.2,2912.1 395.2,2911.2 397.2,2910.1 399.2,2909.9 401.2,2912.5 403.2,2916.0 405.2,2914.6 407.2,2913.8 409.2,2915.8 411.2,2918.0 413.2,2917.7 415.2,2919.1 417.2,2917.7 419.2,2916.6 421.2,2916.9 423.2,2917.2 425.2,2916.9 427.2,2916.9 429.2,2919.0 431.2,2920.1 433.2,2919.5 435.2,2918.9 437.2,2920.3 439.2,2920.3 441.2,2920.2 443.2,2922.0 445.2,2922.7 447.2,2920.6 449.2,2920.4 451.2,2922.4 453.2,2922.7 455.2,2924.2 457.2,2923.7 459.2,2922.5 461.2,2921.3 463.2,2921.4 465.2,2923.7 467.2,2923.8 469.2,2922.8 471.2,2922.8 473.2,2923.2 475.2,2922.9 477.2,2923.5 479.2,2924.0 481.2,2925.5 483.2,2924.9 485.2,2923.6 487.2,2924.1 489.2,2926.3 491.2,2926.6 493.2,2925.5 495.2,2924.1 497.2,2924.6 499.2,2925.2 501.2,2926.5 503.2,2927.6 505.2,2928.0 507.2,2927.5 509.2,2925.4 511.2,2926.7 513.2,2926.5 515.2,2928.2 517.2,2928.1 519.2,2925.7 521.2,2926.1 523.2,2926.5 525.2,2926.8 527.2,2927.3 529.2,2926.4 531.2,2924.4 533.2,2925.8 535.2,2927.0 537.2,2928.5 539.2,2930.2 541.2,2930.4 543.2,2929.4 545.2,2929.1 547.2,2928.4 549.2,2925.9 551.2,2927.3 553.2,2930.0 555.2,2930.6 557.2,2930.6 559.2,2930.4 561.2,2930.6 563.2,2930.3 565.2,2929.8 567.2,2928.2 569.2,2928.0 571.2,2928.5 573.2,2929.0 575.2,2931.4 577.2,2930.7 579.2,2930.1 581.2,2931.4 583.2,2930.5 585.2,2928.7 587.2,2929.8 589.2,2930.8 591.2,2931.2 593.2,2930.6 595.2,2928.8 597.2,2928.8 599.2,2929.9 601.2,2931.8 603.2,2932.3 605.2,2932.4 607.2,2931.9 609.2,2928.7 611.2,2927.6 613.2,2929.4 615.2,2930.2 617.2,2931.6 619.2,2932.1 621.2,2930.6 623.2,2929.4 625.2,2929.7 627.2,2931.1 629.2,2931.5 631.2,2930.3 633.2,2928.8 635.2,2930.3 637.2,2929.3 639.2,2928.8 641.2,2927.7 643.2,2929.5 645.2,2930.1 647.2,2929.0 649.2,2928.6 651.2,2928.8 653.2,2928.3 655.2,2926.2 657.2,2926.8 659.2,2929.0 661.2,2929.7 663.2,2929.6 665.2,2928.9 667.2,2927.7 669.2,2927.9 671.2,2928.3 673.2,2928.8 675.2,2927.7 677.2,2927.7 679.2,2927.9 681.2,2927.0 683.2,2927.2 685.2,2927.6 687.2,2927.6 689.2,2927.5 691.2,2928.1 693.2,2927.8 695.2,2927.9 697.2,2926.1 699.2,2926.2 701.2,2926.6 703.2,2926.6 705.2,2925.7 707.2,2924.9 709.2,2923.7 711.2,2924.3 713.2,2927.4 715.2,2926.2 717.2,2924.5 719.2,2923.7 721.2,2924.0 723.2,2923.1 725.2,2923.1 727.2,2923.9 729.2,2922.4 731.2,2919.8 733.2,2918.0 735.2,2916.4 737.2,2915.8 739.2,2916.9 741.2,2915.9 743.2,2914.9 745.2,2912.9 747.2,2910.2 749.2,2906.3 751.2,2904.8 751.3,2904.7 752.3,2903.9 753.2,2903.1 753.3,2903.0 754.3,2901.7 755.2,2900.5 755.3,2900.3 756.3,2898.3 757.2,2896.5 757.3,2896.2 758.3,2894.0 759.2,2891.8 759.3,2891.5 760.3,2888.8 761.2,2886.2 761.3,2885.8 762.3,2882.0 763.2,2878.2 763.3,2877.8 764.3,2873.6 765.2,2869.4 765.3,2869.0 766.3,2864.4 767.2,2859.8 767.3,2859.3 768.3,2853.9 769.2,2848.6 769.3,2848.0 770.3,2842.1 771.2,2836.8 771.3,2836.1 772.3,2830.2 773.2,2825.8 773.3,2825.2 774.3,2821.0 775.2,2819.0 775.3,2818.9 776.3,2819.2 777.2,2821.2 777.3,2821.7 778.3,2826.6 779.2,2831.9 779.3,2832.6 780.3,2839.2 781.2,2845.1 781.3,2845.7 782.3,2851.3 783.2,2856.0 783.3,2856.6 784.3,2862.0 785.2,2866.4 785.3,2866.8 786.3,2870.4 787.2,2873.3 787.3,2873.6 788.3,2876.7 789.2,2879.2 789.3,2879.5 790.3,2881.6 791.2,2883.3 791.3,2883.5 792.3,2885.8 793.2,2887.7 793.3,2887.8 794.3,2888.7 795.2,2889.4 795.3,2889.6 796.3,2891.8 797.2,2893.7 797.3,2893.9 798.3,2895.8 799.2,2897.5 799.3,2897.6 801.2,2899.7 803.2,2901.8 805.2,2903.9 807.2,2906.7 809.2,2909.9 811.2,2910.3 813.2,2913.4 815.2,2915.1 817.2,2914.7 819.2,2916.8 821.2,2920.8 823.2,2922.2 825.2,2921.8 827.2,2920.7 829.2,2920.2 831.2,2921.4 833.2,2923.5 835.2,2923.0 837.2,2923.1 839.2,2924.4 841.2,2924.1 843.2,2925.5 845.2,2925.6 847.2,2924.9 849.2,2923.2 851.2,2923.3 853.2,2923.2 855.2,2922.8 857.2,2922.5 859.2,2921.7 861.2,2920.8 863.2,2921.1 865.2,2920.2 867.2,2918.7 869.2,2918.5 871.2,2919.3 873.2,2917.0 875.2,2918.0 877.2,2920.9 879.2,2921.4 881.2,2922.3 883.2,2922.7 885.2,2923.9 887.2,2923.6 889.2,2924.6 891.2,2926.7 893.2,2927.3 895.2,2928.6 897.2,2931.3 899.2,2934.6 901.2,2932.9 903.2,2932.1 905.2,2931.8 907.2,2931.2 909.2,2931.5 911.2,2932.6 913.2,2933.5 915.2,2933.9 917.2,2934.1 919.2,2933.0 921.2,2933.3 923.2,2935.4 925.2,2936.8 927.2,2936.6 929.2,2935.7 931.2,2934.4 933.2,2934.5 935.2,2934.3 937.2,2934.2 939.2,2934.7 941.2,2935.1 943.2,2937.0 945.2,2937.6 947.2,2936.9 949.2,2935.9 951.2,2936.8 953.2,2937.5 955.2,2938.3 957.2,2937.0 959.2,2936.4 961.2,2938.0 963.2,2938.2 965.2,2940.3 967.2,2939.5 969.2,2939.5 971.2,2939.7 973.2,2940.1 975.2,2939.3 977.2,2939.6 979.2,2937.5 981.2,2938.3 983.2,2938.9 985.2,2939.0 987.2,2939.5 989.2,2938.4 991.2,2937.4 993.2,2938.5 995.2,2938.5 997.2,2938.3 999.2,2939.1 1001.2,2937.7 1003.2,2936.3 1005.2,2936.8 1007.2,2938.0 1009.2,2938.5 1011.2,2937.4 1013.2,2938.1 1015.2,2939.4 1017.2,2939.0 1019.2,2939.1 1021.2,2939.0 1023.2,2939.4 1025.2,2937.6 1027.2,2937.3 1029.2,2937.1 1031.2,2938.0 1033.2,2937.6 1035.2,2939.0 1037.2,2940.5 1039.2,2939.8 1041.2,2938.3 1043.2,2938.2 1045.2,2940.6 1047.2,2940.8 1049.2,2939.6 1051.2,2941.3 1053.2,2941.2 1055.2,2939.3 1057.2,2939.6 1059.2,2941.5 1061.2,2942.4 1063.2,2941.9 1065.2,2942.4 1067.2,2943.4 1069.2,2942.0 1071.2,2941.7 1073.2,2943.0 1075.2,2945.6 1077.2,2944.4 1079.2,2943.8 1081.2,2944.4 1083.2,2942.8 1085.2,2944.4 1087.2,2944.1 1089.2,2943.9 1091.2,2945.8 1093.2,2946.6 1095.2,2944.4 1097.2,2945.1 1099.2,2946.0 1101.2,2944.3 1103.2,2944.0 1105.2,2945.8 1107.2,2946.6 1109.2,2945.7 1111.2,2946.3 1113.2,2946.2 1115.2,2947.4 1117.2,2947.9 1119.2,2946.6 1121.2,2947.1 1123.2,2948.2 1125.2,2948.1 1127.2,2947.3 1129.2,2946.8 1131.2,2947.4 1133.2,2946.9 1135.2,2946.2 1137.2,2946.7 1139.2,2945.1 1141.2,2944.0 1143.2,2942.0 1145.2,2942.2 1147.2,2942.5 1149.2,2944.1 1151.2,2945.9 1153.2,2946.9 1155.2,2947.8 1157.2,2950.0 1159.2,2950.4 1161.2,2949.6 1163.2,2951.0 1165.2,2952.1 1167.2,2953.3 1169.2,2952.7 1171.2,2952.3 1173.2,2953.4 1175.2,2954.4 1177.2,2951.9 1179.2,2952.3 1181.2,2953.3 1183.2,2954.1 1185.2,2953.9 1187.2,2953.3 1189.2,2953.2 1191.2,2953.5 1193.2,2952.1 1195.2,2952.2 1197.2,2953.4 1199.2,2954.7 1201.2,2953.9 1203.2,2953.7 1205.2,2954.4 1207.2,2954.0 1209.2,2953.6 1211.2,2952.5 1213.2,2953.2 1215.2,2953.6 1217.2,2954.3 1219.2,2954.2 1221.2,2955.6 1223.2,2954.5 1225.2,2952.9 1227.2,2953.2 1229.2,2954.2 1231.2,2952.0 1233.2,2951.7 1235.2,2953.5 1237.2,2954.5 1239.2,2953.7 1241.2,2952.3 1243.2,2951.3 1245.2,2950.8 1247.2,2950.7 1249.2,2950.4 1251.2,2950.4 1253.2,2950.1 1255.2,2949.9 1257.2,2950.1 1259.2,2951.6 1261.2,2950.6 1263.2,2949.7 1265.2,2949.9 1267.2,2950.2 1269.2,2948.9 1271.2,2949.1 1273.2,2949.0 1275.2,2949.6 1277.2,2947.4 1279.2,2945.5 1281.2,2946.9 1283.2,2946.0 1285.2,2944.6 1287.2,2944.9 1289.2,2945.8 1291.2,2947.8 1293.2,2947.4 1295.2,2947.1 1297.2,2947.6 1299.2,2948.2 1301.2,2947.8 1303.2,2949.0 1305.2,2950.7 1307.2,2951.2 1309.2,2951.6 1311.2,2951.5 1313.2,2951.5 1315.2,2953.6 1317.2,2952.7 1319.2,2951.4 1321.2,2950.6 1323.2,2952.2 1325.2,2952.0 1327.2,2951.5 1329.2,2951.6 1331.2,2951.7 1333.2,2951.6 1335.2,2951.1 1337.2,2950.7 1339.2,2949.1 1341.2,2948.0 1343.2,2948.4 1345.2,2948.9 1347.2,2949.1 1349.2,2949.2 1351.2,2948.7 1353.2,2947.4 1355.2,2948.0 1357.2,2947.5 1359.2,2945.6 1361.2,2945.2 1363.2,2945.7 1365.2,2947.1 1367.2,2948.8 1369.2,2948.4 1371.2,2946.0 1373.2,2944.4 1375.2,2944.9 1377.2,2946.7 1379.2,2947.6 1381.2,2948.0 1383.2,2946.0 1385.2,2945.7 1387.2,2947.9 1389.2,2947.3 1391.2,2947.5 1393.2,2947.6 1395.2,2948.0 1397.2,2947.8 1399.2,2946.1 1401.2,2946.0 1403.2,2946.6 1405.2,2948.6 1407.2,2950.6 1409.2,2949.6 1411.2,2949.2 1413.2,2948.9 1415.2,2948.2 1417.2,2949.6 1419.2,2950.2 1421.2,2950.8 1423.2,2952.0 1425.2,2950.7 1427.2,2950.3 1429.2,2951.1 1431.2,2951.1 1433.2,2951.5 1435.2,2951.7 1437.2,2952.7 1439.2,2954.3 1441.2,2954.3 1443.2,2955.5 1445.2,2957.6 1447.2,2957.0 1449.2,2956.6 1451.2,2956.8 1453.2,2957.7 1455.2,2957.4 1457.2,2956.7 1459.2,2957.4 1461.2,2958.4 1463.2,2956.9 1465.2,2956.8 1467.2,2956.7 1469.2,2956.0 1471.2,2958.1 1473.2,2957.5 1475.2,2956.5 1477.2,2956.0 1479.2,2953.9 1481.2,2950.4 1483.2,2949.9 1485.2,2951.3 1487.2,2952.6 1489.2,2954.2 1491.2,2955.3 1493.2,2956.8 1495.2,2956.2 1497.2,2955.1 1499.2,2955.3 1501.2,2956.0 1503.2,2955.1 1505.2,2954.1 1507.2,2954.8 1509.2,2955.4 1511.2,2953.6 1513.2,2952.0 1515.2,2950.7 1517.2,2950.4 1519.2,2949.8 1521.2,2947.9 1523.2,2946.3 1525.2,2944.2 1527.2,2943.7 1529.2,2944.5 1531.2,2946.1 1533.2,2948.7 1535.2,2950.4 1537.2,2950.6 1539.2,2952.6 1541.2,2953.4 1543.2,2954.7 1545.2,2956.3 1547.2,2956.6 1549.2,2957.0 1551.2,2956.7 1553.2,2957.1 1555.2,2958.4 1557.2,2959.3 1559.2,2957.1 1561.2,2958.0 1563.2,2958.5 1565.2,2958.7 1567.2,2959.1 1569.2,2958.5 1571.2,2957.7 1573.2,2957.8 1575.2,2959.6 1577.2,2959.2 1579.2,2958.5 1581.2,2958.9 1583.2,2960.3 1585.2,2960.9 1587.2,2960.3 1589.2,2959.6 1591.2,2960.4 1593.2,2959.7 1595.2,2960.0 1597.2,2958.8 1599.2,2960.2 1601.2,2961.7 1603.2,2961.4 1605.2,2960.5 1607.2,2959.3 1609.2,2960.2 1611.2,2962.1 1613.2,2962.5 1615.2,2961.1 1617.2,2961.3 1619.2,2961.6 1621.2,2962.2 1623.2,2962.3 1625.2,2961.2 1627.2,2963.0 1629.2,2963.6 1631.2,2962.1 1633.2,2962.4 1635.2,2961.8 1637.2,2961.2 1639.2,2962.5 1641.2,2961.9 1643.2,2960.9 1645.2,2961.5 1647.2,2961.3 1649.2,2962.3 1651.2,2962.8 1653.2,2963.0 1655.2,2962.3 1657.2,2960.9 1659.2,2961.0 1661.2,2961.4 1663.2,2961.4 1665.2,2961.7 1667.2,2961.5 1669.2,2962.2 1671.2,2960.6 1673.2,2959.1 1675.2,2959.5 1677.2,2960.2 1679.2,2959.5 1681.2,2959.6 1683.2,2959.8 1685.2,2958.8 1687.2,2959.1 1689.2,2959.4 1691.2,2959.0 1693.2,2958.8 1695.2,2959.1 1697.2,2961.8 1699.2,2961.4 1701.2,2958.4 1703.2,2957.9 1705.2,2959.1 1707.2,2960.4 1709.2,2958.5 1711.2,2958.7 1713.2,2958.3 1715.2,2959.8 1717.2,2960.8 1719.2,2959.5 1721.2,2958.6 1723.2,2958.3 1725.2,2960.2 1727.2,2960.2 1729.2,2959.4 1731.2,2959.3 1733.2,2958.3 1735.2,2958.2 1737.2,2960.4 1739.2,2960.4 1741.2,2960.8 1743.2,2959.2 1745.2,2958.7 1747.2,2960.5 1749.2,2960.3 1751.2,2960.1 1753.2,2961.1 1755.2,2962.0 1757.2,2962.7 1759.2,2962.5 1761.2,2962.6 1763.2,2961.9 1765.2,2962.3 1767.2,2963.0 1769.2,2962.2 1771.2,2963.6 1773.2,2964.4 1775.2,2964.5 1777.2,2964.3 1779.2,2964.0 1781.2,2964.7 1783.2,2964.6 1785.2,2965.1 1787.2,2964.9 1789.2,2964.4 1791.2,2964.0 1793.2,2964.6 1795.2,2964.9 1797.2,2965.3 1799.2,2965.6 1801.2,2963.4 1803.2,2961.6 1805.2,2964.9 1807.2,2966.0 1809.2,2965.7 1811.2,2965.2 1813.2,2965.2 1815.2,2964.6 1817.2,2964.9 1819.2,2964.6 1821.2,2963.3 1823.2,2964.6 1825.2,2964.5 1827.2,2963.1 1829.2,2964.5 1831.2,2964.2 1833.2,2962.6 1835.2,2963.7 1837.2,2964.6 1839.2,2965.2 1841.2,2964.7 1843.2,2964.4 1845.2,2964.3 1847.2,2965.1 1849.2,2965.4 1851.2,2965.4 1853.2,2966.2 1855.2,2966.4 1857.2,2966.2 1859.2,2965.1 1861.2,2964.1 1863.2,2964.7 1865.2,2964.4 1867.2,2963.4 1869.2,2965.0 1871.2,2965.0 1873.2,2965.6 1875.2,2965.8 1877.2,2964.9 1879.2,2965.2 1881.2,2965.5 1883.2,2965.7 1885.2,2965.9 1887.2,2965.3 1889.2,2965.3 1891.2,2964.5 1893.2,2965.0 1895.2,2965.7 1897.2,2964.9 1899.2,2963.9 1901.2,2964.2 1903.2,2965.4 1905.2,2965.4"/>
<polyline class="cv" stroke="#0000FF" points="23.2,2606.8 25.2,2609.4 27.2,2612.1 29.2,2618.9 31.2,2621.1 33.2,2622.0 35.2,2623.6 37.2,2620.7 39.2,2620.0 41.2,2623.9 43.2,2625.6 45.2,2624.6 47.2,2628.8 49.2,2632.1 51.2,2629.7 53.2,2631.0 55.2,2633.6 57.2,2635.9 59.2,2638.5 61.2,2640.3 63.2,2641.8 65.2,2639.1 67.2,2640.8 69.2,2644.2 71.2,2643.6 73.2,2644.3 75.2,2646.9 77.2,2648.4 79.2,2649.0 81.2,2652.3 83.2,2653.4 85.2,2648.0 87.2,2647.6 89.2,2654.1 91.2,2655.6 93.2,2661.6 95.2,2665.1 97.2,2660.3 99.2,2658.7 101.2,2660.5 103.2,2661.9 105.2,2661.9 107.2,2661.6 109.2,2663.0 111.2,2661.0 111.4,2661.3 111.9,2662.2 112.4,2663.0 112.9,2663.8 113.2,2664.3 113.4,2664.6 113.9,2665.1 114.4,2665.7 114.9,2666.2 115.2,2666.5 115.4,2666.7 115.9,2667.1 116.4,2667.5 116.9,2667.9 117.2,2668.1 117.4,2667.9 117.9,2667.5 118.4,2667.1 118.9,2666.6 119.2,2666.2 119.4,2666.0 119.9,2665.4 120.4,2664.6 120.9,2663.7 121.2,2663.0 121.4,2662.5 121.9,2661.0 122.4,2659.1 122.9,2656.7 123.2,2655.0 123.4,2654.0 123.9,2651.0 124.4,2647.0 124.9,2641.8 125.2,2638.4 125.4,2636.2 125.9,2631.7 126.4,2630.3 126.9,2633.1 127.2,2636.5 127.4,2639.0 127.9,2645.5 128.4,2651.6 128.9,2656.5 129.2,2659.0 129.4,2660.4 129.9,2663.3 130.4,2665.5 130.9,2667.3 131.2,2668.2 131.4,2668.9 131.9,2670.7 132.4,2672.3 132.9,2673.7 133.2,2674.5 133.4,2674.7 133.9,2675.1 134.4,2675.5 134.9,2675.8 135.2,2675.9 135.4,2675.7 135.9,2675.0 136.4,2674.2 136.9,2673.5 137.2,2673.0 137.4,2672.8 137.9,2672.2 138.4,2671.6 138.9,2671.0 139.2,2670.6 139.4,2671.0 139.9,2671.9 140.4,2672.9 140.9,2673.8 141.2,2674.4 141.4,2674.9 143.2,2679.1 145.2,2681.5 147.2,2682.1 149.2,2683.5 151.2,2686.1 153.2,2684.7 155.2,2683.7 157.2,2687.9 159.2,2691.6 161.2,2691.1 163.2,2693.8 165.2,2695.0 167.2,2695.1 169.2,2695.6 171.2,2694.7 173.2,2697.6 175.2,2700.6 177.2,2699.0 179.2,2698.9 181.2,2702.2 183.2,2701.4 185.2,2705.2 187.2,2705.6 189.2,2706.7 191.2,2707.5 193.2,2708.7 195.2,2711.0 197.2,2710.5 199.2,2710.2 201.2,2711.4 203.2,2710.7 205.2,2712.4 207.2,2712.8 209.2,2716.2 211.2,2719.3 213.2,2719.9 215.2,2717.9 217.2,2715.2 219.2,2719.1 221.2,2723.3 223.2,2722.7 225.2,2724.3 227.2,2725.2 229.2,2727.7 231.2,2725.1 233.2,2726.7 235.2,2729.4 237.2,2731.3 239.2,2732.2 241.2,2731.7 243.2,2731.4 245.2,2736.4 247.2,2736.4 249.2,2735.6 251.2,2737.8 253.2,2736.6 255.2,2738.8 257.2,2741.6 259.2,2741.9 261.2,2741.4 263.2,2740.9 265.2,2740.9 267.2,2742.2 269.2,2742.4 271,2745.5 271.2,2745.9 272,2746.3 273,2746.8 273.2,2746.9 274,2746.3 275,2745.4 275.2,2745.3 276,2744.7 277,2744.0 277.2,2743.8 278,2745.4 279,2747.2 279.2,2747.6 280,2748.0 281,2748.5 281.2,2748.6 282,2747.8 283,2746.9 283.2,2746.7 284,2747.0 285,2747.4 285.2,2747.4 286,2747.9 287,2748.4 287.2,2748.4 288,2748.3 289,2747.8 289.2,2747.6 290,2746.2 291,2744.9 291.2,2744.9 292,2745.3 293,2746.5 293.2,2746.7 294,2747.9 295,2749.2 295.2,2749.4 296,2750.5 297,2751.6 297.2,2751.8 298,2753.8 299,2756.2 299.2,2756.7 300,2756.8 301,2757.0 301.2,2757.0 302,2755.4 303,2753.4 303.2,2752.9 304,2753.7 305,2754.7 305.2,2754.9 306,2756.7 307,2758.8 307.2,2759.3 308,2759.9 309,2760.7 309.2,2760.8 310,2761.3 311,2761.8 311.2,2761.9 313.2,2761.6 315.2,2760.6 317.2,2761.1 319.2,2762.6 321.2,2761.4 323.2,2759.6 325.2,2761.1 327.2,2761.0 329.2,2763.8 331.2,2765.0 333.2,2764.7 335.2,2764.8 337.2,2763.3 339.2,2764.8 341.2,2766.5 343.2,2768.1 345.2,2768.8 347.2,2770.2 349.2,2770.4 351.2,2769.0 353.2,2770.4 355.2,2773.4 357.2,2773.0 359.2,2774.1 361.2,2775.9 363.2,2776.5 365.2,2778.8 367.2,2776.6 369.2,2775.8 371.2,2775.8 373.2,2779.1 375.2,2779.7 377.2,2781.1 379.2,2783.0 381.2,2785.3 383.2,2783.9 385.2,2782.5 387.2,2783.0 389.2,2784.3 391.2,2782.9 393.2,2783.5 395.2,2784.0 397.2,2785.7 399.2,2788.3 401.2,2787.1 403.2,2787.9 405.2,2789.1 407.2,2787.7 409.2,2788.6 411.2,2788.6 413.2,2790.0 415.2,2790.4 417.2,2791.8 419.2,2791.8 421.2,2793.0 423.2,2794.1 425.2,2793.4 427.2,2794.9 429.2,2795.0 431.2,2794.8 433.2,2793.6 435.2,2794.6 437.2,2795.6 439.2,2796.6 441.2,2797.3 443.2,2797.5 445.2,2796.9 447.2,2795.5 449.2,2795.9 451.2,2796.7 453.2,2795.5 455.2,2796.1 457.2,2797.2 459.2,2798.5 461.2,2798.6 463.2,2797.7 465.2,2798.5 467.2,2797.0 469.2,2798.1 471.2,2800.1 473.2,2799.9 475.2,2801.4 477.2,2803.1 479.2,2800.8 481.2,2799.4 483.2,2798.3 485.2,2800.7 487.2,2802.5 489.2,2801.7 491.2,2802.4 493.2,2804.9 495.2,2802.7 497.2,2801.7 499.2,2801.3 501.2,2800.7 503.2,2802.5 505.2,2804.0 507.2,2804.4 509.2,2803.6 511.2,2802.0 513.2,2802.9 515.2,2805.5 517.2,2802.4 519.2,2801.3 521.2,2802.5 523.2,2801.6 525.2,2801.3 527.2,2801.2 529.2,2801.8 531.2,2803.5 533.2,2804.7 535.2,2804.6 537.2,2804.8 539.2,2803.0 541.2,2800.9 542.4,2801.5 543.2,2801.9 543.4,2801.9 544.4,2802.0 545.2,2802.1 545.4,2802.3 546.4,2803.3 547.2,2804.0 547.4,2804.1 548.4,2804.5 549.2,2804.9 549.4,2804.8 550.4,2804.2 551.2,2803.8 551.4,2803.8 552.4,2803.9 553.2,2804.0 553.4,2804.1 554.4,2804.6 555.2,2805.0 555.4,2804.9 556.4,2804.5 557.2,2804.0 557.4,2803.8 558.4,2802.2 559.2,2800.6 559.4,2800.3 560.4,2798.7 561.2,2797.1 561.4,2796.6 562.4,2795.3 563.2,2795.9 563.4,2796.2 564.4,2798.4 565.2,2800.0 565.4,2800.0 566.4,2800.1 567.2,2799.9 567.4,2800.2 568.4,2801.4 569.2,2802.2 569.4,2802.4 570.4,2803.2 571.2,2803.7 571.4,2803.6 572.4,2802.8 573.2,2802.2 573.4,2802.1 574.4,2801.5 575.2,2801.1 575.4,2801.2 576.4,2802.1 577.2,2802.7 577.4,2802.9 578.4,2804.0 579.2,2804.8 579.4,2804.9 580.4,2805.5 581.2,2806.0 581.4,2806.0 582.4,2806.1 583.2,2806.2 585.2,2805.2 587.2,2803.7 589.2,2804.3 591.2,2806.5 593.2,2807.3 595.2,2807.0 597.2,2807.8 599.2,2805.8 601.2,2805.5 603.2,2806.0 605.2,2805.0 607.2,2803.7 609.2,2803.7 611.2,2805.1 613.2,2806.3 615.2,2807.4 617.2,2805.0 619.2,2802.0 621.2,2802.4 623.2,2802.7 625.2,2804.1 627.2,2805.6 629.2,2805.9 631.2,2805.3 633.2,2803.7 635.2,2804.2 637.2,2805.5 639.2,2807.3 641.2,2806.5 643.2,2805.0 645.2,2805.2 647.2,2804.6 649.2,2803.8 651.2,2803.0 653.2,2802.6 655.2,2804.9 657.2,2804.0 659.2,2802.5 661.2,2802.8 663.2,2802.9 665.2,2803.0 667.2,2803.5 669.2,2804.5 671.2,2802.6 673.2,2803.8 675.2,2803.6 677.2,2803.8 679.2,2802.2 681.2,2801.8 683.2,2803.3 685.2,2804.4 687.2,2802.2 689.2,2803.1 691.2,2804.2 693.2,2803.3 695.2,2803.0 697.2,2804.3 699.2,2803.4 701.2,2803.0 703.2,2802.7 705.2,2802.2 707.2,2800.9 709.2,2800.9 711.2,2802.1 713.2,2801.6 715.2,2801.0 717.2,2799.9 719.2,2801.3 721.2,2801.6 723.2,2799.6 725.2,2798.1 727.2,2798.9 729.2,2797.6 731.2,2798.7 733.2,2798.5 735.2,2795.9 737.2,2794.8 739.2,2793.6 741.2,2792.8 743.2,2791.2 745.2,2789.2 747.2,2788.4 749.2,2789.0 751.2,2787.7 753.2,2785.9 754,2785.0 755,2783.7 755.2,2783.4 756,2782.6 757,2781.5 757.2,2781.3 758,2779.6 759,2777.4 759.2,2776.9 760,2775.8 761,2774.3 761.2,2774.0 762,2772.6 763,2770.7 763.2,2770.3 764,2768.3 765,2765.6 765.2,2765.0 766,2762.7 767,2759.6 767.2,2758.9 768,2756.2 769,2752.4 769.2,2751.6 770,2748.4 771,2743.9 771.2,2743.0 772,2738.6 773,2732.6 773.2,2731.4 774,2726.8 775,2721.2 775.2,2720.2 776,2716.2 777,2712.7 777.2,2712.3 778,2711.1 779,2711.7 779.2,2712.1 780,2714.6 781,2719.1 781.2,2720.1 782,2724.9 783,2731.0 783.2,2732.2 784,2737.0 785,2742.6 785.2,2743.6 786,2747.1 787,2751.0 787.2,2751.8 788,2754.2 789,2756.9 789.2,2757.3 790,2759.7 791,2762.4 791.2,2762.9 792,2765.1 793,2767.7 793.2,2768.2 794,2769.0 795,2770.0 795.2,2770.1 796,2771.2 797,2772.5 797.2,2772.7 798,2774.0 799,2775.5 799.2,2775.8 800,2776.3 801,2777.0 801.2,2777.1 802,2777.4 803.2,2777.9 805.2,2780.5 807.2,2783.1 809.2,2785.5 811.2,2786.6 813.2,2787.8 815.2,2790.2 817.2,2791.7 819.2,2792.3 821.2,2794.8 823.2,2794.7 825.2,2797.1 827.2,2798.5 829.2,2798.8 831.2,2798.7 833.2,2797.3 835.2,2798.1 837.2,2799.5 839.2,2799.5 841.2,2800.4 843.2,2799.7 845.2,2799.6 847.2,2801.0 849.2,2801.4 851.2,2801.8 853.2,2800.7 855.2,2800.0 857.2,2800.8 859.2,2799.7 861.2,2800.1 863.2,2801.0 865.2,2800.2 867.2,2797.3 869.2,2796.1 871.2,2795.7 873.2,2796.1 875.2,2795.5 877.2,2793.6 879.2,2792.8 881.2,2792.7 883.2,2794.0 885.2,2795.7 887.2,2795.2 889.2,2795.8 891.2,2797.5 893.2,2801.0 895.2,2803.6 897.2,2803.9 899.2,2804.2 901.2,2806.0 903.2,2807.8 905.2,2808.9 907.2,2808.7 909.2,2808.3 911.2,2809.7 913.2,2810.8 915.2,2809.7 917.2,2810.2 919.2,2810.7 921.2,2809.9 923.2,2808.6 925.2,2810.6 927.2,2810.5 929.2,2810.3 931.2,2809.4 933.2,2809.7 935.2,2810.0 937.2,2811.6 939.2,2812.7 941.2,2812.7 943.2,2812.9 945.2,2813.5 947.2,2813.9 949.2,2813.7 951.2,2813.4 953.2,2812.7 955.2,2813.6 957.2,2813.2 959.2,2812.9 961.2,2811.7 963.2,2813.2 965.2,2814.6 967.2,2814.2 969.2,2813.7 971.2,2814.9 973.2,2814.0 975.2,2814.5 977.2,2814.8 979.2,2815.3 981.2,2815.9 983.2,2815.3 985.2,2816.7 987.2,2816.8 989.2,2816.2 991.2,2815.5 993.2,2814.4 995.2,2814.3 997.2,2815.6 999.2,2815.9 1001.2,2816.2 1003.2,2815.5 1005.2,2815.4 1007.2,2814.7 1009.2,2815.8 1011.2,2816.5 1013.2,2816.3 1015.2,2814.8 1017.2,2814.2 1019.2,2815.1 1021.2,2816.1 1023.2,2817.0 1025.2,2817.0 1027.2,2815.5 1029.2,2814.4 1031.2,2817.7 1033.2,2818.4 1035.2,2817.6 1037.2,2817.4 1039.2,2817.1 1041.2,2817.0 1043.2,2816.9 1045.2,2817.5 1047.2,2818.9 1049.2,2817.5 1051.2,2817.5 1053.2,2816.7 1055.2,2818.5 1057.2,2819.1 1059.2,2818.5 1061.2,2820.3 1063.2,2820.6 1065.2,2821.2 1067.2,2820.7 1069.2,2819.2 1071.2,2819.7 1073.2,2821.1 1075.2,2820.2 1077.2,2822.5 1079.2,2822.8 1081.2,2821.4 1083.2,2821.3 1085.2,2822.0 1087.2,2820.5 1089.2,2821.1 1091.2,2820.4 1093.2,2822.3 1095.2,2822.8 1097.2,2821.8 1099.2,2821.5 1101.2,2822.1 1103.2,2823.2 1105.2,2823.2 1107.2,2822.9 1109.2,2823.6 1111.2,2824.4 1113.2,2824.8 1115.2,2823.7 1117.2,2823.7 1119.2,2823.0 1121.2,2824.1 1123.2,2823.2 1125.2,2823.8 1127.2,2824.6 1129.2,2823.9 1131.2,2822.9 1133.2,2823.2 1135.2,2824.8 1137.2,2824.6 1139.2,2823.6 1141.2,2824.1 1143.2,2821.9 1145.2,2820.4 1147.2,2819.6 1149.2,2819.3 1151.2,2820.0 1153.2,2821.3 1155.2,2823.4 1157.2,2823.8 1159.2,2824.5 1161.2,2825.3 1163.2,2826.3 1165.2,2827.5 1167.2,2827.9 1169.2,2827.8 1171.2,2828.9 1173.2,2829.1 1175.2,2829.1 1177.2,2828.2 1179.2,2827.2 1181.2,2829.0 1183.2,2828.7 1185.2,2828.9 1187.2,2829.6 1189.2,2830.0 1191.2,2829.7 1193.2,2829.9 1195.2,2829.4 1197.2,2828.6 1199.2,2828.5 1201.2,2828.2 1203.2,2827.8 1205.2,2829.4 1207.2,2830.5 1209.2,2829.8 1211.2,2828.9 1213.2,2829.7 1215.2,2830.1 1217.2,2828.8 1219.2,2829.0 1221.2,2829.1 1223.2,2828.8 1225.2,2828.9 1227.2,2828.1 1229.2,2828.9 1231.2,2831.5 1233.2,2833.0 1235.2,2831.0 1237.2,2830.4 1239.2,2829.3 1241.2,2829.7 1243.2,2829.9 1245.2,2829.8 1247.2,2830.4 1249.2,2830.3 1251.2,2829.1 1253.2,2828.0 1255.2,2828.0 1257.2,2828.1 1259.2,2827.6 1261.2,2827.7 1263.2,2827.6 1265.2,2827.4 1267.2,2827.0 1269.2,2827.8 1271.2,2828.0 1273.2,2826.4 1275.2,2826.4 1277.2,2825.6 1279.2,2825.1 1281.2,2824.1 1283.2,2825.0 1285.2,2824.1 1287.2,2824.0 1289.2,2825.9 1291.2,2827.5 1293.2,2826.1 1295.2,2825.8 1297.2,2827.5 1299.2,2827.7 1301.2,2826.9 1303.2,2828.6 1305.2,2827.8 1307.2,2826.9 1309.2,2828.8 1311.2,2829.8 1313.2,2829.6 1315.2,2830.4 1317.2,2831.6 1319.2,2830.6 1321.2,2830.6 1323.2,2830.8 1325.2,2829.7 1327.2,2829.0 1329.2,2828.9 1331.2,2828.8 1333.2,2828.5 1335.2,2828.3 1337.2,2827.6 1339.2,2828.8 1341.2,2828.4 1343.2,2826.7 1345.2,2826.8 1347.2,2826.7 1349.2,2826.9 1351.2,2826.2 1353.2,2825.7 1355.2,2825.9 1357.2,2824.7 1359.2,2824.8 1361.2,2825.2 1363.2,2823.3 1365.2,2822.9 1367.2,2824.1 1369.2,2826.1 1371.2,2825.4 1373.2,2825.0 1375.2,2824.1 1377.2,2823.6 1379.2,2824.7 1381.2,2825.0 1383.2,2824.2 1385.2,2824.9 1387.2,2825.6 1389.2,2825.0 1391.2,2824.3 1393.2,2823.7 1395.2,2825.2 1397.2,2825.6 1399.2,2825.0 1401.2,2824.8 1403.2,2824.4 1405.2,2826.1 1407.2,2826.3 1409.2,2825.9 1411.2,2827.1 1413.2,2827.0 1415.2,2827.2 1417.2,2829.1 1419.2,2829.3 1421.2,2828.0 1423.2,2826.1 1425.2,2826.5 1427.2,2827.0 1429.2,2827.5 1431.2,2828.8 1433.2,2830.0 1435.2,2830.9 1437.2,2831.0 1439.2,2830.4 1441.2,2831.5 1443.2,2832.1 1445.2,2833.6 1447.2,2835.5 1449.2,2835.7 1451.2,2834.5 1453.2,2834.9 1455.2,2836.3 1457.2,2836.8 1459.2,2836.0 1461.2,2835.9 1463.2,2835.4 1465.2,2835.0 1467.2,2834.4 1469.2,2834.5 1471.2,2833.8 1473.2,2832.4 1475.2,2831.4 1477.2,2831.2 1479.2,2830.8 1481.2,2829.9 1483.2,2830.1 1485.2,2830.0 1487.2,2831.2 1489.2,2832.5 1491.2,2835.4 1493.2,2837.2 1495.2,2836.5 1497.2,2835.3 1499.2,2834.7 1501.2,2834.7 1503.2,2834.9 1505.2,2835.4 1507.2,2834.7 1509.2,2834.7 1511.2,2834.4 1513.2,2834.5 1515.2,2832.9 1517.2,2832.1 1519.2,2830.4 1521.2,2826.8 1523.2,2824.6 1525.2,2824.1 1527.2,2823.7 1529.2,2823.0 1531.2,2823.8 1533.2,2823.2 1535.2,2824.5 1537.2,2825.9 1539.2,2826.3 1541.2,2828.0 1543.2,2830.5 1545.2,2834.0 1547.2,2834.1 1549.2,2833.5 1551.2,2835.0 1553.2,2835.6 1555.2,2834.6 1557.2,2836.3 1559.2,2835.6 1561.2,2835.4 1563.2,2834.8 1565.2,2834.8 1567.2,2834.3 1569.2,2833.8 1571.2,2835.2 1573.2,2836.4 1575.2,2836.8 1577.2,2838.0 1579.2,2837.3 1581.2,2837.4 1583.2,2838.3 1585.2,2837.8 1587.2,2836.7 1589.2,2836.9 1591.2,2836.8 1593.2,2837.8 1595.2,2837.3 1597.2,2837.4 1599.2,2838.6 1601.2,2838.5 1603.2,2839.2 1605.2,2839.1 1607.2,2839.7 1609.2,2839.1 1611.2,2837.7 1613.2,2838.2 1615.2,2839.5 1617.2,2839.7 1619.2,2841.0 1621.2,2841.7 1623.2,2839.9 1625.2,2838.5 1627.2,2839.9 1629.2,2840.9 1631.2,2840.7 1633.2,2840.3 1635.2,2839.9 1637.2,2839.1 1639.2,2839.4 1641.2,2839.2 1643.2,2839.2 1645.2,2839.1 1647.2,2839.1 1649.2,2838.4 1651.2,2840.0 1653.2,2840.7 1655.2,2837.8 1657.2,2838.0 1659.2,2839.1 1661.2,2838.4 1663.2,2838.5 1665.2,2838.5 1667.2,2837.5 1669.2,2835.0 1671.2,2836.0 1673.2,2838.0 1675.2,2839.8 1677.2,2839.4 1679.2,2838.4 1681.2,2836.2 1683.2,2836.5 1685.2,2837.6 1687.2,2838.9 1689.2,2838.1 1691.2,2837.5 1693.2,2837.2 1695.2,2836.9 1697.2,2835.7 1699.2,2836.3 1701.2,2836.2 1703.2,2836.9 1705.2,2837.3 1707.2,2835.8 1709.2,2835.1 1711.2,2836.0 1713.2,2834.8 1715.2,2834.5 1717.2,2837.2 1719.2,2837.8 1721.2,2835.8 1723.2,2836.6 1725.2,2838.0 1727.2,2835.5 1729.2,2835.2 1731.2,2835.4 1733.2,2833.5 1735.2,2835.0 1737.2,2837.4 1739.2,2837.6 1741.2,2836.6 1743.2,2837.0 1745.2,2838.1 1747.2,2838.8 1749.2,2839.8 1751.2,2840.4 1753.2,2840.0 1755.2,2841.4 1757.2,2841.1 1759.2,2840.1 1761.2,2840.5 1763.2,2840.3 1765.2,2841.5 1767.2,2841.8 1769.2,2842.0 1771.2,2842.7 1773.2,2841.5 1775.2,2842.0 1777.2,2841.9 1779.2,2842.5 1781.2,2843.3 1783.2,2843.9 1785.2,2843.2 1787.2,2843.6 1789.2,2843.8 1791.2,2843.8 1793.2,2843.0 1795.2,2842.2 1797.2,2843.6 1799.2,2843.5 1801.2,2843.1 1803.2,2841.9 1805.2,2841.7 1807.2,2841.9 1809.2,2841.5 1811.2,2842.0 1813.2,2842.6 1815.2,2842.6 1817.2,2842.3 1819.2,2840.5 1821.2,2840.3 1823.2,2841.6 1825.2,2842.6 1827.2,2843.0 1829.2,2843.0 1831.2,2843.5 1833.2,2841.9 1835.2,2842.2 1837.2,2841.5 1839.2,2840.4 1841.2,2841.1 1843.2,2840.8 1845.2,2840.2 1847.2,2841.2 1849.2,2842.0 1851.2,2842.2 1853.2,2842.8 1855.2,2841.8 1857.2,2842.7 1859.2,2842.0 1861.2,2840.6 1863.2,2841.2 1865.2,2842.1 1867.2,2842.1 1869.2,2840.8 1871.2,2841.7 1873.2,2842.6 1875.2,2843.2 1877.2,2842.3 1879.2,2841.5 1881.2,2842.7 1883.2,2843.2 1885.2,2841.9 1887.2,2840.8 1889.2,2841.9 1891.2,2842.2 1893.2,2842.0 1895.2,2841.1 1897.2,2841.6 1899.2,2843.2 1901.2,2842.4 1903.2,2840.9 1905.2,2840.9"/>
<polyline class="cv" stroke="#FF00FF" points="23.2,2430.0 25.2,2431.5 27.2,2428.8 29.2,2434.1 31.2,2433.3 33.2,2429.4 35.2,2429.5 37.2,2432.1 39.2,2432.2 40,2431.4 40.5,2431.0 41,2430.5 41.2,2430.4 41.5,2430.6 42,2431.0 42.5,2431.4 43,2431.8 43.2,2432.0 43.5,2433.0 44,2434.6 44.5,2436.3 45,2438.0 45.2,2438.6 45.5,2438.9 46,2439.3 46.5,2439.8 47,2440.2 47.2,2440.4 47.5,2441.5 48,2443.2 48.5,2444.9 49,2446.6 49.2,2447.2 49.5,2447.6 50,2448.2 50.5,2448.8 51,2449.3 51.2,2449.5 51.5,2449.0 52,2448.0 52.5,2447.0 53,2445.8 53.2,2445.3 53.5,2445.3 54,2445.2 54.5,2445.3 55,2445.9 55.2,2446.3 55.5,2446.8 56,2448.0 56.5,2449.3 57,2450.5 57.2,2451.0 57.5,2452.2 58,2454.1 58.5,2455.8 59,2457.5 59.2,2458.1 59.5,2458.2 60,2458.3 60.5,2458.3 61,2458.3 61.2,2458.3 61.5,2457.7 62,2456.8 62.5,2455.8 63,2454.8 63.2,2454.5 63.5,2454.9 64,2455.7 64.5,2456.5 65,2457.3 65.2,2457.6 65.5,2458.3 66,2459.3 66.5,2460.4 67,2461.4 67.2,2461.8 67.5,2462.5 68,2463.6 68.5,2464.8 69,2465.9 69.2,2466.4 69.5,2466.7 70,2467.3 71.2,2468.6 73.2,2465.3 75.2,2471.4 77.2,2478.9 79.2,2475.5 81.2,2474.3 83.2,2476.3 85.2,2475.9 87.2,2480.6 89.2,2482.8 91.2,2485.3 93.2,2487.9 95.2,2489.4 97.2,2486.7 99.2,2486.1 101.2,2485.3 103.2,2490.9 105.2,2492.8 105.5,2492.8 106,2492.8 106.5,2492.8 107,2492.9 107.2,2492.9 107.5,2492.8 108,2492.7 108.5,2492.6 109,2492.5 109.2,2492.4 109.5,2492.7 110,2493.1 110.5,2493.5 111,2494.0 111.2,2494.1 111.5,2494.5 112,2495.1 112.5,2495.8 113,2496.4 113.2,2496.6 113.5,2496.5 114,2496.2 114.5,2495.8 115,2495.5 115.2,2495.3 115.5,2495.3 116,2495.3 116.5,2495.2 117,2495.0 117.2,2494.9 117.5,2494.9 118,2494.7 118.5,2494.3 119,2493.9 119.2,2493.7 119.5,2493.5 120,2493.0 120.5,2492.2 121,2491.1 121.2,2490.6 121.5,2489.8 122,2488.5 122.5,2487.5 123,2487.4 123.2,2487.6 123.5,2487.9 124,2489.0 124.5,2490.5 125,2491.9 125.2,2492.5 125.5,2493.4 126,2494.7 126.5,2495.7 127,2496.6 127.2,2496.9 127.5,2497.4 128,2498.1 128.5,2498.8 129,2499.3 129.2,2499.5 129.5,2500.0 130,2500.8 130.5,2501.5 131,2502.2 131.2,2502.5 131.5,2502.8 132,2503.3 132.5,2503.8 133,2504.3 133.2,2504.5 133.5,2504.6 134,2504.8 134.5,2505.0 135,2505.2 135.2,2505.3 135.5,2505.5 136,2505.9 136.5,2506.3 137,2506.7 137.2,2506.9 137.5,2507.2 138,2507.7 138.5,2508.1 139,2508.6 139.2,2508.8 139.5,2508.6 140,2508.2 140.5,2507.8 141.2,2507.3 143.2,2508.4 145.2,2511.5 147.2,2511.6 149.2,2511.9 151.2,2510.5 153.2,2513.8 155.2,2519.4 157.2,2519.1 159.2,2517.9 161.2,2518.1 163.2,2516.9 165.2,2518.0 167.2,2521.3 169.2,2522.4 171.2,2521.3 173.2,2527.1 175.2,2525.3 177.2,2524.0 179.2,2522.9 181.2,2525.9 183.2,2530.3 185.2,2532.0 187.2,2530.1 189.2,2530.2 191.2,2533.4 193.2,2537.8 195.2,2537.8 197.2,2540.0 199.2,2541.3 201.2,2543.4 203.2,2543.0 205.2,2541.3 207.2,2542.2 209.2,2545.8 211.2,2546.5 213.2,2547.9 215.2,2550.0 217.2,2550.0 219.2,2550.7 221.2,2549.7 223.2,2549.5 225.2,2550.6 227.2,2553.2 229.2,2557.1 231.2,2557.3 233.2,2556.8 235.2,2557.0 237.2,2559.9 239.2,2563.5 241.2,2564.1 243.2,2562.9 245.2,2563.1 247.2,2565.4 249.2,2566.2 251.2,2568.4 253.2,2569.7 255.2,2569.7 257.2,2567.8 259.2,2568.6 261.2,2572.0 263.2,2570.4 265.2,2570.6 267.2,2572.9 269.2,2575.0 271.2,2575.4 273.2,2576.5 275.2,2574.4 277.2,2574.2 279.2,2576.7 281.2,2579.6 283.2,2580.6 285.2,2580.9 287.2,2582.7 289.2,2582.7 291.2,2582.5 293.2,2583.2 295.2,2584.8 297.2,2585.1 299.2,2585.6 301.2,2585.4 303.2,2586.3 305.2,2587.6 307.2,2588.6 309.2,2590.6 311.2,2591.1 313.2,2591.6 315.2,2592.1 317.2,2591.2 319.2,2593.2 321.2,2592.6 323.2,2595.6 325.2,2597.5 327.2,2597.8 329.2,2597.1 331.2,2597.8 333.2,2598.2 335.2,2598.1 337.2,2598.8 339.2,2599.9 341.2,2599.3 343.2,2599.2 343.9,2599.4 344.4,2599.6 344.9,2599.7 345.2,2599.8 345.4,2599.9 345.9,2600.1 346.4,2600.4 346.9,2600.6 347.2,2600.7 347.4,2600.8 347.9,2601.0 348.4,2601.1 348.9,2601.3 349.2,2601.4 349.4,2601.2 349.9,2600.5 350.4,2599.9 350.9,2599.3 351.2,2598.8 351.4,2598.8 351.9,2598.6 352.4,2598.3 352.9,2598.0 353.2,2597.7 353.4,2597.7 353.9,2597.5 354.4,2597.2 354.9,2596.7 355.2,2596.2 355.4,2595.5 355.9,2593.6 356.4,2591.1 356.9,2588.0 357.2,2585.8 357.4,2584.2 357.9,2580.1 358.4,2576.7 358.9,2575.2 359.2,2575.6 359.4,2576.7 359.9,2580.5 360.4,2584.9 360.9,2589.0 361.2,2591.1 361.4,2592.4 361.9,2595.1 362.4,2597.3 362.9,2599.0 363.2,2599.9 363.4,2600.3 363.9,2601.1 364.4,2601.8 364.9,2602.3 365.2,2602.6 365.4,2602.5 365.9,2602.3 366.4,2602.0 366.9,2601.7 367.2,2601.5 367.4,2601.6 367.9,2601.9 368.4,2602.2 368.9,2602.4 369.2,2602.6 369.4,2602.8 369.9,2603.2 370.4,2603.6 370.9,2604.1 371.2,2604.3 371.4,2604.5 371.9,2604.8 372.4,2605.1 372.9,2605.4 373.2,2605.6 373.4,2605.7 373.9,2605.9 375.2,2606.2 377.2,2606.4 379.2,2605.8 381.2,2605.1 383.2,2607.2 385.2,2610.5 387.2,2611.2 389.2,2609.9 391.2,2608.1 393.2,2609.1 395.2,2610.6 397.2,2608.8 399.2,2609.5 401.2,2611.0 403.2,2609.8 405.2,2612.1 407.2,2613.4 409.2,2615.5 411.2,2614.8 413.2,2615.2 415.2,2616.2 417.2,2617.3 419.2,2616.4 421.2,2616.5 423.2,2615.6 425.2,2614.9 427.2,2616.7 429.2,2617.6 431.2,2617.0 433.2,2617.2 435.2,2618.9 437.2,2619.4 439.2,2620.3 441.2,2622.6 443.2,2621.5 445.2,2621.2 447.2,2620.3 449.2,2622.2 451.2,2621.0 453.2,2620.3 455.2,2620.7 457.2,2621.2 459.2,2620.8 461.2,2620.8 463.2,2621.5 465.2,2621.7 467.2,2622.7 469.2,2623.0 471.2,2623.1 473.2,2624.0 475.2,2624.3 477.2,2624.1 479.2,2622.9 481.2,2623.2 483.2,2627.7 485.2,2627.0 487.2,2625.9 489.2,2626.7 491.2,2626.9 493.2,2626.2 495.2,2624.9 497.2,2625.5 499.2,2628.2 501.2,2629.6 503.2,2629.0 505.2,2627.2 507.2,2629.3 509.2,2631.4 511.2,2630.0 513.2,2629.3 515.2,2628.4 517.2,2627.0 519.2,2629.0 521.2,2629.7 523.2,2628.3 525.2,2627.7 527.2,2628.1 529.2,2629.3 531.2,2630.3 533.2,2629.5 535.2,2629.4 537.2,2628.9 539.2,2628.2 541.2,2628.4 543.2,2629.6 545.2,2629.7 547.2,2630.7 549.2,2632.6 551.2,2630.9 553.2,2628.8 555.2,2630.0 557.2,2630.9 559.2,2632.3 561.2,2631.6 563.2,2631.8 565.2,2631.5 567.2,2630.4 569.2,2628.9 571.2,2631.7 573.2,2632.8 575.2,2631.5 577.2,2632.0 579.2,2630.0 581.2,2630.7 583.2,2631.6 585.2,2632.3 587.2,2632.1 589.2,2631.5 591.2,2632.4 593.2,2630.2 595.2,2629.7 597.2,2629.6 599.2,2628.5 601.2,2629.4 603.2,2631.6 605.2,2633.7 607.2,2633.1 609.2,2631.5 611.2,2630.3 613.2,2628.0 615.2,2630.3 617.2,2631.7 619.2,2630.3 621.2,2630.7 623.2,2629.4 625.2,2629.9 627.2,2630.4 629.2,2630.9 631.2,2631.2 633.2,2632.2 635.2,2631.4 637.2,2630.0 639.2,2629.2 641.2,2628.7 643.2,2628.4 645.2,2627.2 647.2,2627.8 649.2,2630.2 651.2,2631.3 653.2,2630.9 655.2,2629.8 657.2,2629.8 659.2,2628.5 661.2,2630.3 663.2,2631.2 665.2,2631.5 667.2,2630.5 669.2,2629.3 671.2,2628.3 673.2,2630.1 675.2,2629.6 677.2,2629.0 679.2,2630.1 681.2,2631.9 683.2,2632.6 685.2,2630.0 687.2,2628.2 689.2,2629.0 691.2,2629.6 693.2,2629.9 695.2,2630.4 697.2,2629.8 699.2,2629.9 701.2,2630.1 703.2,2628.3 705.2,2629.2 707.2,2629.7 709.2,2628.4 711.2,2628.5 713.2,2629.5 715.2,2629.3 717.2,2626.6 719.2,2627.2 721.2,2625.9 723.2,2623.3 725.2,2624.5 727.2,2624.9 729.2,2627.0 731.2,2625.9 733.2,2622.8 735.2,2622.3 737.2,2620.4 739.2,2619.8 741.2,2619.5 743.2,2617.9 745.2,2615.3 747.2,2611.3 749.2,2609.3 751.2,2608.4 753,2608.1 753.2,2608.0 754,2607.5 755,2606.7 755.2,2606.5 756,2605.3 757,2603.8 757.2,2603.4 758,2602.0 759,2600.2 759.2,2599.8 760,2598.2 761,2596.0 761.2,2595.6 762,2594.3 763,2592.5 763.2,2592.1 764,2590.1 765,2587.3 765.2,2586.7 766,2583.5 767,2579.0 767.2,2578.1 768,2574.6 769,2569.7 769.2,2568.7 770,2564.2 771,2558.0 771.2,2556.7 772,2550.0 773,2541.3 773.2,2539.6 774,2533.3 775,2526.5 775.2,2525.3 776,2522.0 777,2520.6 777.2,2520.7 778,2521.9 779,2525.9 779.2,2527.0 780,2531.8 781,2538.7 781.2,2540.1 782,2546.2 783,2553.4 783.2,2554.8 784,2559.8 785,2565.5 785.2,2566.5 786,2570.5 787,2575.0 787.2,2575.9 788,2578.7 789,2581.8 789.2,2582.4 790,2583.5 791,2584.7 791.2,2584.9 792,2586.6 793,2588.7 793.2,2589.0 794,2591.2 795,2593.7 795.2,2594.2 796,2595.1 797,2596.1 797.2,2596.3 798,2596.9 799,2597.7 799.2,2597.8 800,2598.7 801,2599.9 801.2,2600.1 803.2,2602.9 805.2,2604.6 807.2,2607.1 809.2,2608.6 811.2,2609.8 813.2,2611.5 815.2,2614.9 817.2,2616.7 819.2,2616.8 821.2,2619.5 823.2,2622.5 825.2,2620.6 827.2,2620.9 829.2,2622.4 831.2,2622.6 833.2,2624.5 835.2,2626.2 837.2,2626.5 839.2,2626.0 841.2,2626.3 843.2,2626.6 845.2,2626.9 847.2,2626.7 849.2,2627.2 851.2,2628.5 853.2,2626.9 855.2,2624.7 857.2,2625.7 859.2,2626.5 861.2,2626.2 863.2,2624.0 865.2,2622.7 867.2,2622.7 869.2,2622.8 871.2,2621.4 873.2,2619.9 875.2,2619.8 877.2,2618.8 879.2,2617.8 881.2,2619.2 883.2,2621.2 885.2,2622.2 887.2,2624.0 889.2,2624.7 891.2,2626.2 893.2,2627.3 895.2,2629.7 897.2,2630.9 899.2,2632.5 901.2,2632.7 903.2,2632.5 905.2,2633.2 907.2,2632.7 909.2,2632.9 911.2,2632.7 913.2,2632.2 915.2,2632.9 917.2,2634.5 919.2,2634.8 921.2,2635.1 923.2,2634.8 925.2,2636.0 927.2,2636.8 929.2,2636.6 931.2,2637.2 933.2,2637.1 935.2,2636.8 936,2636.9 936.5,2637.0 937,2637.1 937.2,2637.1 937.5,2637.4 938,2637.8 938.5,2638.2 939,2638.6 939.2,2638.8 939.5,2638.6 940,2638.2 940.5,2637.9 941,2637.5 941.2,2637.4 941.5,2637.3 942,2637.2 942.5,2637.0 943,2636.8 943.2,2636.7 943.5,2636.5 944,2636.1 944.5,2635.6 945,2635.1 945.2,2634.9 945.5,2634.5 946,2633.9 946.5,2633.1 947,2632.1 947.2,2631.6 947.5,2631.1 948,2630.0 948.5,2628.5 949,2626.4 949.2,2625.4 949.5,2623.7 950,2620.8 950.5,2618.3 951,2617.5 951.2,2617.9 951.5,2618.6 952,2621.1 952.5,2624.1 953,2626.9 953.2,2627.8 953.5,2629.3 954,2631.4 954.5,2633.1 955,2634.4 955.2,2634.8 955.5,2635.2 956,2635.8 956.5,2636.1 957,2636.4 957.2,2636.5 957.5,2636.6 958,2636.7 958.5,2636.7 959,2636.7 959.2,2636.7 959.5,2636.8 960,2637.1 960.5,2637.3 961,2637.5 961.2,2637.6 961.5,2637.6 962,2637.6 962.5,2637.6 963,2637.6 963.2,2637.6 963.5,2637.6 964,2637.7 964.5,2637.8 965,2637.8 965.2,2637.9 965.5,2637.9 966,2638.1 967.2,2638.4 969.2,2638.2 971.2,2637.8 973.2,2639.0 975.2,2639.4 977.2,2639.4 979.2,2638.8 981.2,2639.1 983.2,2638.6 985.2,2639.2 987.2,2638.9 989.2,2639.4 991.2,2638.9 993.2,2637.9 995.2,2638.5 997.2,2637.4 999.2,2637.7 1001.2,2639.1 1003.2,2639.8 1005.2,2640.1 1007.2,2638.8 1009.2,2639.0 1011.2,2638.2 1013.2,2635.9 1015.2,2635.4 1017.2,2634.9 1019.2,2634.6 1021.2,2635.5 1023.2,2637.9 1025.2,2638.8 1027.2,2639.5 1029.2,2639.4 1031.2,2637.9 1033.2,2638.4 1035.2,2641.2 1037.2,2640.4 1039.2,2640.5 1041.2,2641.3 1043.2,2641.8 1045.2,2640.3 1047.2,2639.5 1049.2,2640.0 1051.2,2641.3 1053.2,2641.8 1055.2,2641.9 1057.2,2643.5 1059.2,2643.1 1061.2,2641.8 1063.2,2643.4 1065.2,2643.9 1067.2,2643.8 1069.2,2644.5 1071.2,2645.6 1073.2,2645.3 1075.2,2645.6 1077.2,2645.5 1079.2,2645.1 1081.2,2646.1 1083.2,2646.4 1085.2,2647.0 1087.2,2647.6 1089.2,2647.0 1091.2,2647.7 1093.2,2648.8 1095.2,2648.2 1097.2,2648.6 1099.2,2649.5 1101.2,2649.4 1103.2,2650.4 1105.2,2649.0 1107.2,2649.0 1109.2,2650.9 1111.2,2651.2 1113.2,2650.3 1115.2,2650.8 1117.2,2651.8 1119.2,2651.7 1121.2,2652.0 1123.2,2652.0 1125.2,2651.4 1127.2,2651.8 1129.2,2651.4 1131.2,2651.4 1133.2,2650.5 1135.2,2650.3 1137.2,2650.2 1139.2,2647.7 1141.2,2645.7 1143.2,2644.1 1145.2,2644.5 1147.2,2646.2 1149.2,2647.6 1151.2,2649.6 1153.2,2650.8 1155.2,2650.5 1157.2,2650.9 1159.2,2652.9 1161.2,2654.2 1163.2,2653.0 1165.2,2651.6 1167.2,2651.4 1169.2,2653.3 1171.2,2652.4 1173.2,2652.4 1175.2,2652.3 1177.2,2653.7 1179.2,2655.8 1181.2,2654.5 1183.2,2651.6 1185.2,2650.8 1187.2,2651.9 1189.2,2652.2 1191.2,2653.4 1193.2,2653.7 1195.2,2653.5 1197.2,2654.0 1199.2,2653.7 1201.2,2653.0 1203.2,2652.7 1205.2,2652.1 1207.2,2654.0 1209.2,2653.7 1211.2,2651.8 1213.2,2651.4 1215.2,2651.9 1217.2,2651.8 1219.2,2650.0 1221.2,2648.8 1223.2,2649.3 1225.2,2650.1 1227.2,2651.0 1229.2,2653.6 1231.2,2654.0 1233.2,2652.8 1235.2,2651.3 1237.2,2651.8 1239.2,2653.3 1241.2,2654.3 1243.2,2652.2 1245.2,2651.7 1247.2,2652.4 1249.2,2653.3 1251.2,2652.8 1253.2,2652.0 1255.2,2652.7 1257.2,2652.7 1259.2,2652.5 1261.2,2652.6 1263.2,2652.0 1265.2,2651.4 1267.2,2651.6 1269.2,2651.4 1271.2,2651.8 1273.2,2650.6 1275.2,2649.8 1277.2,2648.7 1279.2,2647.7 1281.2,2647.0 1283.2,2645.2 1285.2,2646.3 1287.2,2650.3 1289.2,2651.4 1291.2,2650.7 1293.2,2650.8 1295.2,2651.5 1297.2,2651.5 1299.2,2652.4 1301.2,2652.3 1303.2,2652.6 1305.2,2652.8 1307.2,2653.4 1309.2,2652.3 1311.2,2651.3 1313.2,2651.3 1315.2,2651.5 1317.2,2652.5 1319.2,2653.0 1321.2,2652.8 1323.2,2652.6 1325.2,2653.6 1327.2,2652.9 1329.2,2652.7 1331.2,2652.3 1333.2,2652.1 1335.2,2652.8 1337.2,2651.0 1339.2,2650.1 1341.2,2650.6 1343.2,2650.8 1345.2,2649.9 1347.2,2649.4 1349.2,2651.5 1351.2,2651.9 1353.2,2650.1 1355.2,2650.3 1357.2,2651.4 1359.2,2650.8 1361.2,2648.8 1363.2,2647.9 1365.2,2648.3 1367.2,2648.6 1369.2,2649.4 1371.2,2649.3 1373.2,2647.4 1375.2,2645.4 1377.2,2646.6 1379.2,2649.4 1381.2,2650.5 1383.2,2649.2 1385.2,2648.2 1387.2,2647.7 1389.2,2647.9 1391.2,2647.2 1393.2,2647.4 1395.2,2649.4 1397.2,2650.9 1399.2,2648.4 1401.2,2647.6 1403.2,2648.3 1405.2,2648.3 1407.2,2649.4 1409.2,2650.3 1410.5,2650.6 1411.2,2650.7 1411.5,2650.8 1412.5,2650.9 1413.2,2651.0 1413.5,2651.0 1414.5,2651.1 1415.2,2651.1 1415.5,2651.1 1416.5,2651.1 1417.2,2651.1 1417.5,2651.2 1418.5,2651.5 1419.2,2651.7 1419.5,2651.7 1420.5,2652.0 1421.2,2652.2 1421.5,2652.0 1422.5,2651.6 1423.2,2651.2 1423.5,2651.3 1424.5,2651.3 1425.2,2651.2 1425.5,2651.1 1426.5,2650.6 1427.2,2650.2 1427.5,2650.2 1428.5,2650.0 1429.2,2649.7 1429.5,2649.3 1430.5,2647.6 1431.2,2646.4 1431.5,2646.0 1432.5,2645.1 1433,2645.0 1433.2,2645.0 1433.5,2645.1 1434.5,2646.0 1435.2,2646.9 1435.5,2647.4 1436.5,2649.0 1437.2,2650.0 1437.5,2650.3 1438.5,2651.2 1439.2,2651.7 1439.5,2652.0 1440.5,2652.9 1441.2,2653.4 1441.5,2653.7 1442.5,2654.8 1443.2,2655.5 1443.5,2655.5 1444.5,2655.3 1445.2,2655.2 1445.5,2655.4 1446.5,2656.0 1447.2,2656.4 1447.5,2656.5 1448.5,2657.0 1449.2,2657.3 1449.5,2657.3 1450.5,2657.3 1451.2,2657.3 1451.5,2657.2 1452.5,2656.9 1453.2,2656.7 1453.5,2656.8 1454.5,2657.0 1455.2,2657.2 1455.5,2656.9 1457.2,2655.1 1459.2,2655.6 1461.2,2655.6 1463.2,2655.8 1465.2,2657.5 1467.2,2656.7 1469.2,2654.3 1471.2,2654.8 1473.2,2655.5 1475.2,2654.3 1477.2,2652.2 1479.2,2650.5 1481.2,2650.9 1483.2,2649.2 1485.2,2650.5 1487.2,2653.3 1489.2,2653.9 1491.2,2654.1 1493.2,2655.5 1495.2,2655.4 1497.2,2656.2 1499.2,2656.6 1501.2,2655.0 1503.2,2653.3 1505.2,2653.6 1507.2,2654.6 1509.2,2655.4 1511.2,2654.8 1513.2,2653.3 1515.2,2652.6 1517.2,2651.7 1519.2,2650.2 1521.2,2649.6 1523.2,2647.7 1525.2,2645.1 1527.2,2643.4 1529.2,2642.5 1531.2,2642.7 1533.2,2643.1 1535.2,2646.0 1537.2,2647.2 1539.2,2648.1 1541.2,2649.7 1543.2,2651.8 1545.2,2653.2 1547.2,2654.7 1549.2,2657.4 1551.2,2656.2 1553.2,2654.8 1555.2,2655.1 1557.2,2655.6 1559.2,2656.6 1561.2,2656.6 1563.2,2657.2 1565.2,2657.4 1567.2,2657.0 1569.2,2657.0 1571.2,2657.3 1573.2,2657.0 1575.2,2657.5 1577.2,2659.2 1579.2,2658.6 1581.2,2658.8 1583.2,2659.3 1585.2,2658.7 1587.2,2658.5 1589.2,2659.1 1591.2,2659.6 1593.2,2660.1 1595.2,2659.8 1597.2,2659.6 1599.2,2659.7 1601.2,2659.5 1603.2,2660.0 1605.2,2661.2 1607.2,2662.8 1609.2,2662.7 1611.2,2661.8 1613.2,2661.6 1615.2,2663.0 1617.2,2662.7 1619.2,2660.7 1621.2,2661.5 1623.2,2661.1 1625.2,2662.2 1627.2,2662.4 1629.2,2662.3 1631.2,2662.4 1633.2,2660.8 1635.2,2660.8 1637.2,2662.1 1639.2,2662.8 1641.2,2663.2 1643.2,2662.4 1645.2,2660.7 1647.2,2660.7 1649.2,2662.3 1651.2,2662.6 1653.2,2661.3 1655.2,2659.6 1657.2,2659.9 1659.2,2661.1 1661.2,2661.1 1663.2,2661.1 1665.2,2660.3 1667.2,2660.3 1669.2,2660.0 1671.2,2659.1 1673.2,2658.2 1675.2,2659.6 1677.2,2659.5 1679.2,2659.3 1681.2,2659.7 1683.2,2661.3 1685.2,2659.4 1687.2,2659.3 1689.2,2657.8 1691.2,2658.1 1693.2,2659.1 1695.2,2658.9 1697.2,2658.7 1699.2,2658.9 1701.2,2658.7 1703.2,2656.8 1705.2,2656.4 1707.2,2657.7 1709.2,2658.4 1711.2,2658.9 1713.2,2659.3 1715.2,2659.7 1717.2,2660.7 1719.2,2659.6 1721.2,2659.5 1723.2,2658.0 1725.2,2658.4 1727.2,2658.1 1729.2,2659.3 1731.2,2662.2 1733.2,2663.0 1735.2,2661.6 1737.2,2662.3 1739.2,2663.3 1741.2,2662.0 1743.2,2661.7 1745.2,2663.2 1747.2,2662.7 1749.2,2662.6 1751.2,2662.5 1753.2,2663.6 1755.2,2663.3 1757.2,2664.0 1759.2,2664.3 1761.2,2663.2 1763.2,2662.7 1765.2,2665.0 1767.2,2666.9 1769.2,2665.7 1771.2,2664.2 1773.2,2664.1 1775.2,2663.5 1777.2,2663.6 1779.2,2663.2 1781.2,2663.6 1783.2,2664.7 1785.2,2664.4 1787.2,2663.4 1789.2,2662.0 1791.2,2662.9 1793.2,2663.8 1795.2,2664.0 1797.2,2665.0 1799.2,2665.0 1801.2,2664.9 1803.2,2663.5 1805.2,2663.1 1807.2,2664.2 1809.2,2664.3 1811.2,2664.8 1813.2,2665.4 1815.2,2665.6 1817.2,2665.4 1819.2,2665.0 1821.2,2664.2 1823.2,2665.1 1825.2,2666.3 1827.2,2666.0 1829.2,2665.0 1831.2,2664.8 1833.2,2664.7 1835.2,2665.7 1837.2,2664.6 1839.2,2665.1 1841.2,2665.5 1843.2,2666.1 1845.2,2664.6 1847.2,2664.1 1849.2,2664.5 1851.2,2665.1 1853.2,2664.1 1855.2,2663.2 1857.2,2664.5 1859.2,2665.5 1861.2,2666.7 1863.2,2665.5 1865.2,2664.6 1867.2,2666.8 1869.2,2666.8 1871.2,2666.5 1873.2,2665.7 1875.2,2664.4 1877.2,2665.9 1879.2,2666.9 1881.2,2665.4 1883.2,2666.1 1885.2,2667.1 1887.2,2666.7 1889.2,2666.4 1891.2,2666.0 1893.2,2665.8 1895.2,2664.9 1897.2,2664.5 1899.2,2665.0 1901.2,2665.3 1903.2,2666.3 1905.2,2667.2"/>
<polyline class="cv" stroke="#008000" points="23.2,2305.7 25.2,2305.4 27.2,2302.7 29.2,2301.1 31.2,2303.1 33.2,2305.8 35.2,2304.4 37.2,2307.7 39.2,2307.9 41.2,2309.8 43.2,2314.2 45.2,2319.5 47.2,2321.4 49.2,2324.9 51.2,2324.0 53.2,2322.1 55.2,2324.2 57.2,2326.8 59.2,2331.8 61.2,2329.3 63.2,2330.5 65.2,2330.4 67.2,2334.7 69.2,2339.1 71.2,2339.8 73.2,2340.9 75.2,2341.0 77.2,2337.7 79.2,2337.1 81.2,2338.5 83.2,2339.9 85.2,2338.3 87.2,2337.5 89.2,2341.3 91.2,2343.5 93.2,2346.2 95.2,2345.5 97.2,2345.5 99.2,2351.3 101.2,2354.1 103.2,2353.0 105.2,2351.9 107.2,2353.1 109.2,2357.9 111.2,2356.1 113.2,2360.2 115.2,2364.2 117.2,2360.8 119.2,2358.5 121.2,2363.7 123.2,2367.4 125.2,2368.9 127.2,2366.3 129.2,2367.7 131.2,2366.5 133.2,2370.9 135.2,2375.4 137.2,2375.4 139.2,2373.6 141.2,2373.4 143.2,2375.0 145.2,2375.5 147.2,2377.2 149.2,2378.2 151.2,2377.5 153.2,2380.1 155.2,2382.5 157.2,2382.5 159.2,2386.7 161.2,2389.0 163.2,2387.9 165.2,2389.9 167.2,2389.8 169.2,2388.8 171.2,2394.3 173.2,2395.6 175.2,2394.3 177.2,2395.7 179.2,2397.8 181.2,2401.3 183.2,2401.8 185.2,2403.8 187.2,2403.7 189.2,2402.8 191.2,2406.8 193.2,2408.5 195.2,2411.6 197.2,2414.9 199.2,2413.8 201.2,2413.2 203.2,2414.4 205.2,2416.2 207.2,2419.8 209.2,2419.7 211.2,2415.4 213.2,2417.5 215.2,2421.1 217.2,2424.5 219.2,2425.4 221.2,2428.2 223.2,2428.5 225.2,2425.6 227.2,2427.0 229.2,2428.6 231.2,2428.0 233.2,2428.5 235.2,2429.4 237.2,2432.1 239.2,2433.5 241.2,2436.3 243.2,2438.3 245.2,2438.9 247.2,2439.3 249.2,2439.8 251.2,2443.1 253.2,2443.3 255.2,2441.9 257.2,2441.4 259.2,2442.8 261.2,2443.9 263.2,2446.5 265.2,2445.2 267.2,2443.5 269.2,2443.7 271.2,2444.5 273.2,2447.5 275.2,2450.3 277.2,2451.0 279.2,2451.0 281.2,2453.2 283.2,2455.5 285.2,2455.1 287.2,2453.3 289.2,2451.8 291.2,2453.5 293.2,2456.1 295.2,2458.0 297.2,2455.9 299.2,2455.7 301.2,2454.8 303.2,2455.1 305.2,2458.2 307.2,2457.8 309.2,2459.2 311.2,2458.3 313.2,2457.4 315.2,2460.5 315.9,2460.2 316.9,2459.8 317.2,2459.7 317.9,2459.3 318.9,2458.8 319.2,2458.6 319.9,2460.5 320.9,2463.2 321.2,2464.0 321.9,2464.9 322.9,2466.2 323.2,2466.6 323.9,2465.6 324.9,2464.1 325.2,2463.6 325.9,2463.5 326.9,2463.1 327.2,2463.0 327.9,2462.9 328.9,2462.7 329.2,2462.7 329.9,2462.4 330.9,2461.9 331.2,2461.7 331.9,2461.4 332.9,2460.4 333.2,2460.0 333.9,2457.9 334.9,2454.7 335.2,2453.9 335.9,2454.0 336.9,2456.5 337.2,2457.6 337.9,2461.0 338.9,2465.5 339.2,2466.7 339.9,2467.9 340.9,2469.2 341.2,2469.5 341.9,2470.0 342.9,2470.6 343.2,2470.7 343.9,2471.2 344.9,2471.9 345.2,2472.0 345.9,2472.2 346.9,2472.3 347.2,2472.3 347.9,2472.2 348.9,2471.9 349.2,2471.8 349.9,2472.0 350.9,2472.2 351.2,2472.3 351.9,2472.0 352.9,2471.6 353.2,2471.5 353.9,2471.5 354.9,2471.7 355.2,2471.7 355.9,2472.7 357.2,2474.5 359.2,2475.2 361.2,2477.3 363.2,2478.9 365.2,2478.4 367.2,2477.7 369.2,2477.2 371.2,2477.2 373.2,2478.0 375.2,2478.8 377.2,2480.1 379.2,2480.4 381.2,2482.5 383.2,2482.4 385.2,2483.7 387.2,2485.0 389.2,2484.9 391.2,2485.6 393.2,2485.5 395.2,2488.1 397.2,2489.1 399.2,2488.7 401.2,2488.3 403.2,2489.5 405.2,2487.7 407.2,2488.4 409.2,2489.8 411,2490.4 411.2,2490.5 412,2489.9 413,2489.1 413.2,2489.0 414,2488.9 415,2488.8 415.2,2488.8 416,2488.8 417,2488.7 417.2,2488.7 418,2488.2 419,2487.6 419.2,2487.5 420,2487.8 421,2488.2 421.2,2488.3 422,2489.3 423,2490.6 423.2,2490.9 424,2491.0 425,2491.2 425.2,2491.2 426,2491.0 427,2490.7 427.2,2490.6 428,2490.9 429,2491.1 429.2,2491.1 430,2490.7 431,2490.0 431.2,2489.9 432,2488.9 433,2487.6 433.2,2487.3 434,2486.9 435,2486.5 435.2,2486.4 436,2486.6 437,2487.3 437.2,2487.4 438,2487.6 439,2487.9 439.2,2488.0 440,2489.2 441,2490.7 441.2,2491.0 442,2492.0 443,2493.1 443.2,2493.3 444,2494.3 445,2495.5 445.2,2495.8 446,2495.9 447,2496.0 447.2,2496.1 448,2495.3 449,2494.4 449.2,2494.2 450,2494.6 451,2495.0 451.2,2495.1 452,2495.9 453,2496.8 453.2,2496.9 454,2496.3 455,2495.5 455.2,2495.3 456,2494.5 457,2493.4 457.2,2493.2 458,2493.4 459,2493.6 459.2,2493.6 460,2494.2 461,2494.9 461.2,2495.0 463.2,2494.6 465.2,2495.0 467.2,2496.0 469.2,2496.4 471.2,2497.9 473.2,2499.1 475.2,2497.8 477.2,2497.5 479.2,2497.1 481.2,2497.9 483.2,2497.0 485.2,2498.9 487.2,2500.2 489.2,2499.3 491.2,2498.9 493.2,2499.4 495.2,2499.1 497.2,2498.1 499.2,2499.8 501.2,2502.3 503.2,2502.2 505.2,2501.0 507.2,2500.5 509.2,2500.7 511.2,2500.4 513.2,2503.3 515.2,2503.3 517.2,2501.8 519.2,2501.7 521.2,2500.6 523.2,2500.0 525.2,2501.4 527.2,2503.2 529.2,2503.5 531.2,2503.0 533.2,2503.0 535.2,2505.2 537.2,2506.8 539.2,2504.6 541.2,2503.9 543.2,2504.0 545.2,2503.7 547.2,2502.8 549.2,2504.3 551.2,2503.1 553.2,2502.7 555.2,2504.8 557.2,2506.2 559.2,2504.7 561.2,2502.9 563.2,2504.9 565.2,2505.9 567.2,2505.3 569.2,2506.3 571.2,2506.1 573.2,2506.7 575.2,2506.7 577.2,2505.3 579.2,2505.1 581.2,2505.8 583.2,2505.7 585.2,2504.5 587.2,2504.6 589.2,2506.1 591.2,2505.9 593.2,2503.8 595.2,2505.2 597.2,2507.5 599.2,2507.6 601.2,2504.6 603.2,2503.8 605.2,2504.5 607.2,2505.4 609.2,2505.3 611.2,2504.6 613.2,2504.0 615.2,2504.0 617.2,2504.8 619.2,2506.3 621.2,2507.4 623.2,2506.4 625.2,2505.3 627.2,2504.6 629.2,2504.2 631.2,2503.0 633.2,2504.7 635.2,2505.8 637.2,2504.7 639.2,2504.4 641.2,2504.6 643.2,2505.0 645.2,2505.2 647.2,2505.6 649.2,2505.1 651.2,2504.7 653.2,2504.3 655.2,2503.3 657.2,2503.7 659.2,2505.1 661.2,2504.9 663.2,2503.6 665.2,2503.5 667.2,2501.8 669.2,2502.8 671.2,2502.2 673.2,2501.4 675.2,2500.9 677.2,2498.9 679.2,2495.2 681.2,2494.3 683.2,2496.4 685.2,2499.7 687.2,2502.2 689.2,2503.0 691.2,2502.7 693.2,2503.8 695.2,2503.9 697.2,2503.0 699.2,2503.3 701.2,2504.5 703.2,2504.0 705.2,2504.1 707.2,2503.1 709.2,2503.1 711.2,2503.4 713.2,2503.9 715.2,2504.1 717.2,2504.8 719.2,2503.8 721.2,2502.6 723.2,2501.8 725.2,2502.4 727.2,2502.2 729.2,2502.3 731.2,2500.7 733.2,2498.8 735.2,2498.0 737.2,2496.3 739.2,2498.2 741.2,2498.1 743.2,2496.9 745.2,2495.0 747.2,2496.2 749.2,2496.1 751.2,2492.3 753,2488.3 753.2,2487.9 754,2487.7 755,2487.4 755.2,2487.3 756,2486.7 757,2485.9 757.2,2485.8 758,2484.5 759,2482.9 759.2,2482.6 760,2481.3 761,2479.5 761.2,2479.1 762,2478.1 763,2476.6 763.2,2476.3 764,2474.4 765,2472.0 765.2,2471.4 766,2468.5 767,2464.6 767.2,2463.8 768,2461.3 769,2457.9 769.2,2457.1 770,2453.9 771,2449.4 771.2,2448.5 772,2444.6 773,2439.6 773.2,2438.6 774,2435.2 775,2431.6 775.2,2431.0 776,2429.1 777,2428.5 777.2,2428.6 778,2429.4 779,2432.1 779.2,2432.8 780,2436.0 781,2440.7 781.2,2441.6 782,2444.9 783,2448.9 783.2,2449.6 784,2452.5 785,2455.6 785.2,2456.1 786,2459.7 787,2463.8 787.2,2464.6 788,2467.0 789,2469.8 789.2,2470.3 790,2471.9 791,2473.6 791.2,2474.0 792,2474.4 793,2474.9 793.2,2474.9 794,2476.0 795,2477.2 795.2,2477.5 796,2478.8 797,2480.3 797.2,2480.6 798,2481.6 799,2482.7 799.2,2482.9 800,2483.4 801,2483.9 801.2,2484.0 803.2,2484.9 805.2,2485.5 807.2,2488.0 809.2,2491.0 811.2,2492.6 813.2,2492.7 815.2,2493.3 817.2,2494.4 819.2,2495.4 821.2,2497.3 823.2,2498.2 825.2,2498.0 827.2,2497.4 829.2,2498.4 831.2,2500.2 833.2,2499.8 835.2,2500.6 837.2,2502.5 839.2,2500.1 841.2,2499.1 843.2,2500.6 845.2,2501.5 847.2,2502.4 849.2,2501.5 851.2,2502.1 853.2,2502.3 855.2,2501.3 857.2,2500.1 859.2,2500.8 861.2,2501.2 863.2,2501.0 865.2,2499.5 867.2,2497.3 869.2,2498.7 871.2,2497.8 873.2,2495.2 875.2,2490.3 877.2,2487.0 879.2,2485.9 881.2,2488.0 883.2,2492.4 885.2,2495.7 887.2,2499.7 889.2,2502.1 891.2,2502.4 893.2,2502.0 895.2,2500.9 897.2,2502.1 899.2,2503.4 901.2,2503.7 903.2,2503.7 905.2,2503.5 907.2,2504.6 909.2,2505.8 911.2,2506.3 913.2,2507.4 915.2,2508.4 917.2,2507.4 919.2,2507.7 921.2,2509.7 923.2,2510.7 925.2,2511.0 927.2,2512.2 929.2,2510.7 931.2,2510.7 933.2,2512.1 935.2,2512.1 937.2,2511.9 939.2,2512.1 941.2,2512.7 943.2,2513.1 945.2,2514.1 947.2,2514.3 949.2,2513.0 951.2,2512.6 953.2,2513.3 955.2,2513.2 957.2,2512.1 959.2,2514.3 961.2,2514.9 963.2,2513.6 965.2,2514.2 967.2,2516.4 969.2,2514.6 971.2,2514.0 973.2,2515.0 975.2,2515.5 977.2,2514.3 979.2,2515.6 981.2,2515.2 983.2,2514.2 985.2,2514.3 987.2,2516.5 989.2,2515.5 991.2,2515.4 993.2,2516.0 995.2,2514.9 997.2,2515.5 999.2,2515.6 1001.2,2517.0 1003.2,2517.5 1005.2,2518.6 1007.2,2518.1 1009.2,2518.3 1011.2,2518.2 1013.2,2518.6 1015.2,2518.5 1017.2,2518.8 1019.2,2519.9 1021.2,2519.6 1023.2,2519.9 1025.2,2520.2 1027.2,2519.6 1029.2,2520.3 1031.2,2519.9 1033.2,2518.8 1035.2,2519.5 1037.2,2520.8 1039.2,2520.7 1041.2,2520.2 1043.2,2519.4 1045.2,2517.9 1047.2,2518.6 1049.2,2517.1 1051.2,2515.6 1053.2,2513.8 1055.2,2511.0 1057.2,2509.6 1059.2,2510.3 1061.2,2511.0 1063.2,2512.0 1065.2,2511.8 1067.2,2512.7 1069.2,2514.3 1071.2,2515.4 1073.2,2517.7 1075.2,2518.9 1077.2,2520.5 1079.2,2520.5 1081.2,2521.8 1083.2,2523.0 1085.2,2523.1 1086,2523.2 1087,2523.3 1087.2,2523.4 1088,2523.4 1089,2523.5 1089.2,2523.5 1090,2523.3 1091,2523.1 1091.2,2523.1 1092,2522.8 1093,2522.5 1093.2,2522.4 1094,2523.2 1095,2524.1 1095.2,2524.3 1096,2524.9 1097,2525.8 1097.2,2525.9 1098,2524.9 1099,2523.5 1099.2,2523.3 1100,2522.9 1101,2522.3 1101.2,2522.2 1102,2522.0 1103,2521.7 1103.2,2521.7 1104,2520.6 1105,2519.1 1105.2,2518.8 1106,2518.1 1107,2517.2 1107.2,2517.0 1108,2517.2 1109,2517.3 1109.2,2517.4 1110,2517.1 1111,2517.2 1111.2,2517.3 1112,2517.6 1113,2518.4 1113.2,2518.6 1114,2519.3 1115,2520.1 1115.2,2520.2 1116,2520.2 1117,2520.0 1117.2,2520.0 1118,2520.4 1119,2520.9 1119.2,2520.9 1120,2521.5 1121,2522.1 1121.2,2522.3 1122,2522.6 1123,2522.9 1123.2,2523.0 1124,2523.6 1125,2524.3 1125.2,2524.5 1126,2524.9 1127,2525.5 1127.2,2525.6 1128,2525.4 1129,2525.0 1129.2,2524.9 1130,2524.2 1131,2523.2 1131.2,2523.0 1132,2522.7 1133,2522.4 1133.2,2522.3 1134,2523.0 1135,2523.8 1135.2,2524.0 1136,2524.4 1137,2524.8 1137.2,2524.9 1138,2524.5 1139,2524.1 1139.2,2523.9 1140,2523.5 1141,2522.8 1141.2,2522.7 1142,2522.5 1143,2522.2 1143.2,2522.1 1144,2520.9 1145,2519.1 1145.2,2518.7 1146,2517.8 1147,2516.6 1147.2,2516.4 1148,2515.7 1149,2515.3 1149.2,2515.3 1150,2515.2 1151,2515.4 1151.2,2515.4 1152,2516.1 1153,2516.8 1153.2,2516.8 1154,2517.0 1155,2516.9 1155.2,2516.8 1156,2516.2 1157,2515.3 1157.2,2515.1 1158,2514.6 1159,2514.5 1159.2,2514.5 1160,2515.0 1161,2516.1 1161.2,2516.4 1162,2518.3 1163,2520.7 1163.2,2521.1 1164,2522.7 1165,2524.4 1165.2,2524.7 1166,2524.6 1167,2524.3 1167.2,2524.3 1168,2524.4 1169,2524.4 1169.2,2524.5 1170,2525.2 1171,2526.0 1171.2,2526.2 1172,2526.6 1173,2527.2 1173.2,2527.3 1174,2527.0 1175,2526.7 1175.2,2526.6 1176,2526.1 1177,2525.5 1177.2,2525.4 1178,2525.8 1179,2526.4 1179.2,2526.5 1180,2526.4 1181,2526.3 1181.2,2526.3 1182,2527.2 1183,2528.4 1183.2,2528.6 1184,2528.6 1185.2,2528.7 1187.2,2529.1 1189.2,2527.7 1191.2,2527.6 1193.2,2527.3 1195.2,2526.2 1197.2,2526.0 1199.2,2526.0 1201.2,2524.8 1203.2,2526.3 1205.2,2528.1 1206,2527.8 1207,2527.4 1207.2,2527.3 1208,2526.6 1209,2525.8 1209.2,2525.6 1210,2525.7 1211,2525.7 1211.2,2525.7 1212,2525.7 1213,2525.8 1213.2,2525.8 1214,2525.7 1215,2525.5 1215.2,2525.5 1216,2526.0 1217,2526.6 1217.2,2526.7 1218,2526.4 1219,2526.1 1219.2,2526.1 1220,2525.7 1221,2525.1 1221.2,2525.0 1222,2524.4 1223,2523.6 1223.2,2523.5 1224,2523.6 1225,2523.6 1225.2,2523.6 1226,2523.8 1227,2524.0 1227.2,2524.0 1228,2523.4 1229,2522.6 1229.2,2522.5 1230,2521.3 1231,2520.2 1231.2,2520.0 1232,2520.5 1233,2521.4 1233.2,2521.6 1234,2522.6 1235,2523.8 1235.2,2524.0 1236,2524.5 1237,2524.9 1237.2,2525.0 1238,2525.2 1239,2525.3 1239.2,2525.3 1240,2525.5 1241,2525.8 1241.2,2525.8 1242,2526.3 1243,2526.8 1243.2,2526.9 1244,2526.8 1245,2526.6 1245.2,2526.6 1246,2526.2 1247,2525.8 1247.2,2525.7 1248,2526.1 1249,2526.6 1249.2,2526.7 1250,2526.6 1251,2526.5 1251.2,2526.5 1252,2526.4 1253,2526.3 1253.2,2526.3 1254,2525.9 1255,2525.4 1255.2,2525.3 1256,2525.2 1257.2,2524.9 1259.2,2526.0 1261.2,2528.3 1263.2,2528.2 1265.2,2526.5 1267.2,2526.3 1269.2,2526.3 1271.2,2524.2 1273.2,2523.6 1275.2,2523.5 1277.2,2523.6 1279.2,2520.8 1281.2,2517.9 1283.2,2516.6 1285.2,2516.2 1287.2,2518.4 1289.2,2522.0 1291.2,2523.8 1293.2,2524.9 1295.2,2525.3 1297.2,2526.3 1299.2,2526.6 1301.2,2526.1 1303.2,2526.5 1305.2,2527.5 1307.2,2527.8 1309.2,2526.8 1311.2,2527.7 1313.2,2527.3 1315.2,2527.2 1317.2,2529.5 1319.2,2530.8 1321.2,2529.8 1323.2,2529.2 1325.2,2529.5 1327.2,2528.9 1329.2,2528.4 1331.2,2529.2 1333.2,2529.3 1335.2,2527.5 1337.2,2525.4 1339.2,2525.1 1341.2,2524.3 1343.2,2522.9 1345.2,2520.3 1347.2,2518.1 1349.2,2515.1 1351.2,2512.8 1353.2,2512.7 1355.2,2511.9 1357.2,2512.7 1359.2,2513.6 1361.2,2514.9 1363.2,2516.4 1365.2,2517.4 1367.2,2519.1 1369.2,2521.1 1371.2,2522.0 1373.2,2522.3 1375.2,2524.3 1377.2,2525.7 1379.2,2526.1 1381.2,2525.1 1383.2,2524.6 1385.2,2525.9 1387.2,2525.7 1389.2,2524.4 1390,2524.6 1391,2524.9 1391.2,2524.9 1392,2524.9 1393,2525.0 1393.2,2525.0 1394,2525.2 1395,2525.5 1395.2,2525.5 1396,2525.4 1397,2525.2 1397.2,2525.2 1398,2525.7 1399,2526.3 1399.2,2526.4 1400,2526.6 1401,2526.9 1401.2,2526.9 1402,2526.7 1403,2526.4 1403.2,2526.4 1404,2526.0 1405,2525.6 1405.2,2525.5 1406,2524.6 1407,2523.4 1407.2,2523.2 1408,2522.9 1409,2522.5 1409.2,2522.4 1410,2523.0 1411,2523.6 1411.2,2523.7 1412,2523.3 1413,2522.7 1413.2,2522.7 1414,2522.0 1415,2521.6 1415.2,2521.6 1416,2522.2 1417,2523.3 1417.2,2523.6 1418,2524.6 1419,2525.8 1419.2,2526.1 1420,2526.4 1421,2526.7 1421.2,2526.7 1422,2527.2 1423,2527.9 1423.2,2528.0 1424,2528.4 1425,2529.0 1425.2,2529.1 1426,2528.8 1427,2528.4 1427.2,2528.3 1428,2528.2 1429,2527.9 1429.2,2527.9 1430,2528.0 1431,2528.2 1431.2,2528.2 1432,2528.1 1433,2528.0 1433.2,2528.0 1434,2527.9 1435,2527.8 1435.2,2527.8 1436,2527.8 1437,2527.9 1437.2,2527.9 1438,2528.5 1439,2529.3 1439.2,2529.5 1440,2529.6 1441.2,2529.7 1443.2,2530.4 1445.2,2530.8 1447.2,2531.4 1449.2,2531.2 1451.2,2531.9 1453.2,2533.2 1455.2,2533.1 1457.2,2532.2 1459.2,2531.1 1461.2,2530.2 1463.2,2530.7 1465.2,2531.8 1467.2,2530.4 1469.2,2530.0 1471.2,2529.8 1473.2,2530.4 1475.2,2531.3 1477.2,2530.4 1479.2,2529.3 1481.2,2530.6 1483.2,2531.0 1485.2,2531.1 1487.2,2532.7 1489.2,2531.0 1491.2,2528.2 1493.2,2530.0 1495.2,2531.0 1497.2,2529.9 1499.2,2529.5 1501.2,2528.6 1503.2,2529.6 1505.2,2529.4 1507.2,2529.0 1509.2,2528.8 1511.2,2527.5 1513.2,2527.5 1515.2,2527.7 1517.2,2527.1 1519.2,2523.9 1521.2,2519.5 1523.2,2517.1 1525.2,2517.1 1527.2,2517.4 1529.2,2516.5 1531.2,2516.2 1533.2,2516.9 1535.2,2518.3 1537.2,2521.1 1539.2,2523.3 1541.2,2525.1 1543.2,2526.9 1545.2,2528.0 1547.2,2528.6 1549.2,2529.3 1551.2,2530.8 1553.2,2532.4 1555.2,2533.1 1557.2,2532.0 1559.2,2532.0 1561.2,2533.1 1563.2,2533.5 1565.2,2532.4 1567.2,2532.7 1569.2,2533.9 1571.2,2533.2 1573.2,2533.9 1575.2,2534.4 1577.2,2533.7 1579.2,2534.0 1581.2,2535.9 1583.2,2536.0 1585.2,2536.5 1587.2,2535.7 1589.2,2535.0 1591.2,2534.5 1593.2,2535.1 1595.2,2536.0 1597.2,2535.3 1599.2,2535.7 1601.2,2535.9 1603.2,2535.4 1605.2,2535.3 1607.2,2535.6 1609.2,2536.5 1611.2,2536.9 1613.2,2535.6 1615.2,2534.9 1617.2,2537.1 1619.2,2536.9 1621.2,2537.2 1623.2,2537.7 1625.2,2537.2 1627.2,2536.4 1629.2,2536.5 1631.2,2537.2 1633.2,2536.8 1635.2,2536.6 1637.2,2536.7 1639.2,2536.2 1641.2,2537.1 1643.2,2536.7 1645.2,2536.7 1647.2,2536.4 1649.2,2536.6 1651.2,2536.4 1653.2,2535.6 1655.2,2535.8 1657.2,2536.5 1659.2,2536.6 1661.2,2535.4 1663.2,2534.0 1665.2,2534.5 1667.2,2536.0 1669.2,2538.2 1671.2,2537.2 1673.2,2536.1 1675.2,2536.0 1677.2,2535.8 1679.2,2535.3 1681.2,2536.1 1683.2,2535.8 1685.2,2535.0 1687.2,2534.1 1689.2,2534.9 1691.2,2535.0 1693.2,2534.8 1695.2,2535.4 1697.2,2535.5 1699.2,2535.2 1701.2,2535.9 1703.2,2534.9 1705.2,2535.6 1707.2,2536.4 1709.2,2535.8 1711.2,2534.1 1713.2,2532.5 1715.2,2533.1 1717.2,2532.9 1719.2,2533.1 1721.2,2532.7 1723.2,2529.3 1725.2,2527.4 1727.2,2527.4 1729.2,2527.3 1731.2,2527.3 1733.2,2526.7 1735.2,2526.7 1737.2,2528.2 1739.2,2529.9 1741.2,2530.8 1743.2,2532.3 1745.2,2534.2 1747.2,2534.0 1749.2,2534.8 1751.2,2535.0 1753.2,2534.7 1755.2,2536.4 1757.2,2537.4 1759.2,2537.6 1761.2,2537.3 1763.2,2536.5 1765.2,2537.2 1767.2,2536.6 1769.2,2536.4 1771.2,2536.5 1773.2,2536.3 1775.2,2536.8 1777.2,2537.7 1779.2,2537.4 1781.2,2538.8 1783.2,2538.6 1785.2,2537.2 1787.2,2537.2 1789.2,2537.3 1791.2,2538.1 1793.2,2538.4 1795.2,2537.6 1797.2,2537.9 1799.2,2538.9 1801.2,2538.9 1803.2,2538.7 1805.2,2538.6 1807.2,2538.7 1809.2,2538.6 1811.2,2538.3 1813.2,2538.7 1815.2,2538.2 1817.2,2538.8 1819.2,2539.1 1821.2,2537.7 1823.2,2537.5 1825.2,2537.2 1827.2,2537.5 1829.2,2536.1 1831.2,2536.5 1833.2,2537.7 1835.2,2537.6 1837.2,2537.8 1839.2,2538.6 1841.2,2539.6 1843.2,2538.1 1845.2,2537.3 1847.2,2539.1 1849.2,2538.4 1851.2,2539.0 1853.2,2539.4 1855.2,2539.5 1857.2,2537.6 1859.2,2536.7 1861.2,2536.8 1863.2,2538.8 1865.2,2540.1 1867.2,2538.9 1869.2,2538.6 1871.2,2539.5 1873.2,2540.1 1875.2,2539.6 1877.2,2539.8 1879.2,2538.6 1881.2,2538.1 1883.2,2538.8 1885.2,2537.8 1887.2,2537.9 1889.2,2537.9 1891.2,2537.4 1893.2,2537.4 1895.2,2538.5 1897.2,2538.4 1899.2,2537.3 1901.2,2536.7 1903.2,2538.3 1905.2,2539.2"/>
<polyline class="cv" stroke="#000080" points="23.2,2171.2 25.2,2169.0 27.2,2168.6 29.2,2169.6 31.2,2172.0 33.2,2173.8 35.2,2173.8 37.2,2177.0 39.2,2177.4 41.2,2176.6 43.2,2175.4 45.2,2182.1 47.2,2181.6 49.2,2182.2 51.2,2183.4 53.2,2188.9 55.2,2185.9 57.2,2182.2 59.2,2185.5 61.2,2189.7 63.2,2191.0 65.2,2195.7 67.2,2195.3 69.2,2192.6 71.2,2195.2 73.2,2199.7 75.2,2203.2 77.2,2205.2 79.2,2205.5 81.2,2206.0 83.2,2210.2 85.2,2214.7 87.2,2214.7 89.2,2215.0 91.2,2219.3 93.2,2225.0 95.2,2223.3 97.2,2221.0 99.2,2227.2 101.2,2230.2 103.2,2228.7 105.2,2228.8 107.2,2230.3 109.2,2228.6 111.2,2235.1 113.2,2236.2 115.2,2238.7 117.2,2242.7 119.2,2243.4 121.2,2242.3 123.2,2243.3 125.2,2247.1 127.2,2247.1 129.2,2248.5 131.2,2249.8 133.2,2253.0 135.2,2254.3 137.2,2257.1 139.2,2254.7 141.2,2256.4 143.2,2257.1 145.2,2259.6 147.2,2261.8 148,2262.3 148.5,2262.6 149,2262.8 149.2,2262.9 149.5,2263.5 150,2264.5 150.5,2265.5 151,2266.5 151.2,2266.9 151.5,2267.0 152,2267.3 152.5,2267.5 153,2267.7 153.2,2267.8 153.5,2267.8 154,2267.7 154.5,2267.7 155,2267.6 155.2,2267.6 155.5,2267.4 156,2267.0 156.5,2266.6 157,2266.2 157.2,2266.1 157.5,2266.2 158,2266.3 158.5,2266.4 159,2266.5 159.2,2266.5 159.5,2266.5 160,2266.5 160.5,2266.4 161,2266.3 161.2,2266.2 161.5,2265.7 162,2264.7 162.5,2263.5 163,2262.1 163.2,2261.5 163.5,2260.3 164,2258.1 164.5,2255.9 165,2254.0 165.2,2253.5 165.5,2253.5 166,2254.4 166.5,2256.1 167,2258.2 167.2,2259.1 167.5,2260.6 168,2262.9 168.5,2265.0 169,2266.8 169.2,2267.4 169.5,2268.0 170,2268.8 170.5,2269.4 171,2270.0 171.2,2270.2 171.5,2270.7 172,2271.5 172.5,2272.3 173,2273.0 173.2,2273.3 173.5,2273.5 174,2274.0 174.5,2274.4 175,2274.8 175.2,2274.9 175.5,2275.2 176,2275.6 176.5,2276.0 177,2276.5 177.2,2276.6 177.5,2276.5 178,2276.2 178.5,2275.9 179,2275.7 179.2,2275.6 179.5,2275.5 180,2275.5 180.5,2275.5 181,2275.5 181.2,2275.5 181.5,2276.0 182,2276.9 182.5,2277.9 183,2278.8 183.2,2279.1 185.2,2280.2 187.2,2278.9 189.2,2279.7 191.2,2281.3 193.2,2279.3 195.2,2280.8 197.2,2282.1 199.2,2282.9 201.2,2284.3 203.2,2284.9 205.2,2284.0 207.2,2285.4 209.2,2288.6 211.2,2290.1 213.2,2289.8 215.2,2289.9 217.2,2292.2 219.2,2294.3 221.2,2296.2 223.2,2296.3 225.2,2297.6 227.2,2301.1 229.2,2302.6 231.2,2300.4 233.2,2301.5 235.2,2302.9 237.2,2300.8 239.2,2304.2 241.2,2306.6 243.2,2307.1 245.2,2306.7 247.2,2308.5 249.2,2308.2 251.2,2309.2 253.2,2313.5 255.2,2314.7 257.2,2314.0 259.2,2314.9 261.2,2313.8 263.2,2317.9 265.2,2321.8 267.2,2321.3 269.2,2320.0 271.2,2319.7 273.2,2320.5 275.2,2320.4 277.2,2322.5 279.2,2325.6 281.2,2326.3 283.2,2326.0 285.2,2328.5 287.2,2331.9 289.2,2331.9 291.2,2331.9 293.2,2332.4 295.2,2332.6 297.2,2332.5 299.2,2334.0 301.2,2338.4 303.2,2337.0 305.2,2335.5 307.2,2338.5 309.2,2340.6 311.2,2338.4 313,2337.3 313.2,2337.1 314,2337.7 315,2338.4 315.2,2338.5 316,2339.7 317,2341.1 317.2,2341.3 318,2342.1 319,2343.0 319.2,2343.2 320,2343.7 321,2344.3 321.2,2344.4 322,2343.5 323,2342.4 323.2,2342.1 324,2341.9 325,2341.5 325.2,2341.4 326,2341.4 327,2341.1 327.2,2341.1 328,2340.8 329,2340.1 329.2,2339.8 330,2338.4 331,2335.8 331.2,2335.2 332,2332.1 333,2330.0 333.2,2329.9 334,2331.0 335,2333.8 335.2,2334.3 336,2337.2 337,2340.1 337.2,2340.6 338,2342.1 339,2343.5 339.2,2343.7 340,2345.1 341,2346.6 341.2,2346.9 342,2347.9 343,2349.2 343.2,2349.4 344,2349.6 345,2349.8 345.2,2349.8 346,2350.7 347,2351.8 347.2,2352.0 348,2352.3 349,2352.6 349.2,2352.6 350,2352.0 351,2351.3 351.2,2351.2 352,2351.5 353,2351.9 353.2,2352.0 355.2,2356.0 357.2,2356.6 359.2,2357.6 361.2,2356.0 363.2,2355.3 365.2,2356.8 367.2,2356.4 369.2,2356.9 371.2,2358.9 373.2,2361.3 375.2,2361.0 377.2,2362.9 379.2,2361.5 381.2,2362.1 383.2,2364.5 385.2,2365.3 387.2,2363.6 389.2,2363.9 391.2,2365.0 393.2,2366.4 395.2,2365.2 397.2,2366.4 399.2,2370.6 401.2,2370.8 403.2,2369.3 405.2,2368.5 407.2,2368.4 409.2,2367.7 411.2,2367.6 413.2,2369.1 415.2,2371.3 417.2,2372.5 419.2,2373.3 421.2,2371.3 423.2,2370.2 425.2,2372.3 427.2,2372.6 429.2,2370.0 431.2,2371.7 433.2,2373.3 435.2,2371.7 437.2,2370.6 439.2,2372.3 441.2,2370.3 443.2,2372.1 445.2,2374.3 447.2,2374.5 449.2,2377.1 451.2,2376.3 453.2,2374.3 455.2,2373.4 457.2,2376.0 459.2,2377.1 461.2,2377.5 463.2,2375.7 465.2,2378.1 467.2,2377.9 469.2,2376.8 471.2,2378.0 473.2,2377.2 475.2,2376.5 477.2,2378.9 479.2,2380.3 481.2,2377.1 483.2,2378.5 485.2,2379.4 487.2,2379.8 488.7,2380.8 489.2,2381.2 489.7,2381.1 490.7,2380.9 491.2,2380.8 491.7,2380.8 492.7,2380.9 493.2,2380.9 493.7,2380.8 494.7,2380.5 495.2,2380.4 495.7,2380.5 496.7,2380.6 497.2,2380.7 497.7,2380.6 498.7,2380.5 499.2,2380.4 499.7,2380.1 500.7,2379.5 501.2,2379.2 501.7,2379.0 502.7,2378.6 503.2,2378.3 503.7,2378.4 504.7,2378.6 505.2,2378.6 505.7,2378.6 506.7,2378.4 507.2,2378.3 507.7,2377.7 508.7,2376.4 509.2,2375.7 509.7,2375.1 510.7,2373.9 511.2,2373.2 511.7,2373.1 512.7,2373.0 513.2,2373.2 513.7,2373.1 514.7,2373.5 515.2,2373.9 515.7,2374.0 516.7,2374.5 517.2,2374.7 517.7,2375.4 518.7,2376.8 519.2,2377.4 519.7,2378.1 520.7,2379.3 521.2,2379.8 521.7,2380.2 522.7,2381.0 523.2,2381.3 523.7,2381.0 524.7,2380.5 525.2,2380.2 525.7,2380.2 526.7,2380.3 527.2,2380.3 527.7,2380.9 528.7,2382.0 529.2,2382.6 529.7,2382.7 530.7,2382.8 531.2,2382.9 531.7,2383.0 532.7,2383.2 533.2,2383.3 533.7,2383.5 534.7,2383.7 535.2,2383.9 535.7,2384.0 536.7,2384.3 537.2,2384.5 537.7,2384.4 538.7,2384.2 539.2,2384.0 541.2,2383.5 543.2,2384.1 545.2,2384.5 547.2,2385.4 549.2,2384.6 551.2,2383.8 553.2,2383.2 555.2,2383.7 557.2,2385.1 559.2,2385.6 561.2,2385.8 563.2,2385.1 565.2,2385.1 567.2,2384.7 569.2,2386.1 571.2,2386.1 572,2385.5 573,2384.8 573.2,2384.7 574,2384.4 575,2383.9 575.2,2383.9 576,2384.8 577,2386.0 577.2,2386.2 578,2385.4 579,2384.3 579.2,2384.1 580,2384.0 581,2383.8 581.2,2383.7 582,2383.8 583,2383.9 583.2,2384.0 584,2383.4 585,2382.8 585.2,2382.6 586,2383.0 587,2383.5 587.2,2383.5 588,2383.3 589,2382.8 589.2,2382.7 590,2381.3 591,2379.6 591.2,2379.3 592,2378.2 593,2378.1 593.2,2378.2 594,2380.2 595,2382.6 595.2,2383.0 596,2384.1 597,2385.1 597.2,2385.3 598,2385.4 599,2385.4 599.2,2385.4 600,2385.6 601,2385.7 601.2,2385.8 602,2385.3 603,2384.8 603.2,2384.6 604,2384.2 605,2383.7 605.2,2383.6 606,2382.6 607,2381.3 607.2,2381.0 608,2381.9 609,2383.1 609.2,2383.3 610,2383.8 611,2384.4 611.2,2384.6 612,2384.3 613.2,2383.8 615.2,2385.2 616.4,2384.0 617.2,2383.2 617.4,2383.1 618.4,2382.8 619.2,2382.5 619.4,2382.6 620.4,2383.0 621.2,2383.3 621.4,2383.2 622.4,2383.0 623.2,2382.8 623.4,2382.8 624.4,2382.9 625.2,2382.9 625.4,2382.9 626.4,2382.9 627.2,2382.9 627.4,2383.0 628.4,2383.3 629.2,2383.5 629.4,2383.5 630.4,2383.5 631.2,2383.5 631.4,2383.3 632.4,2382.2 633.2,2381.3 633.4,2381.4 634.4,2381.9 635.2,2382.1 635.4,2381.9 636.4,2380.6 637.2,2379.5 637.4,2379.2 638.4,2377.5 639.2,2376.1 639.4,2375.8 640.4,2374.6 641.2,2373.9 641.4,2374.1 642.4,2375.4 643.2,2376.8 643.4,2376.9 644.4,2377.9 645.2,2378.6 645.4,2378.8 646.4,2379.5 647.2,2379.9 647.4,2380.1 648.4,2381.1 649.2,2381.8 649.4,2382.1 650.4,2383.2 651.2,2384.1 651.4,2384.1 652.4,2383.8 653.2,2383.6 653.4,2383.6 654,2383.4 654.4,2383.3 655,2383.1 655.2,2383.0 655.4,2383.0 656,2382.7 656.4,2382.6 657,2382.3 657.2,2382.2 657.4,2382.2 658,2382.1 658.4,2382.0 659,2381.9 659.2,2381.9 659.4,2382.0 660,2382.2 660.4,2382.4 661,2382.7 661.2,2382.7 661.4,2382.8 662,2383.0 662.4,2383.2 663,2383.4 663.2,2383.5 663.4,2383.5 664,2383.5 664.4,2383.4 665,2383.4 665.2,2383.4 665.4,2383.5 666,2383.8 666.4,2383.9 667,2384.2 667.2,2384.3 668,2383.8 669,2383.1 669.2,2383.0 670,2382.7 671,2382.3 671.2,2382.3 672,2381.5 673,2380.5 673.2,2380.2 674,2379.7 675,2378.9 675.2,2378.7 676,2378.6 677,2378.3 677.2,2378.3 678,2378.0 679,2377.9 679.2,2378.0 680,2378.2 681,2378.8 681.2,2378.9 682,2380.1 683,2381.6 683.2,2381.9 684,2381.7 685,2381.3 685.2,2381.2 686,2381.4 687,2381.5 687.2,2381.5 688,2382.0 689,2382.5 689.2,2382.6 690,2383.0 691,2383.4 691.2,2383.4 692,2383.8 693,2384.3 693.2,2384.4 694,2383.6 695,2382.7 695.2,2382.5 696,2381.9 697,2381.2 697.2,2381.0 698,2381.6 699,2382.4 699.2,2382.5 700,2383.4 701,2384.4 701.2,2384.6 702,2384.2 703,2383.8 703.2,2383.7 704,2382.7 705.2,2381.3 707.2,2382.1 709.2,2382.8 711.2,2383.2 713.2,2382.6 715.2,2380.9 717.2,2382.0 719.2,2383.4 721.2,2382.3 723.2,2379.9 725.2,2379.5 727.2,2381.4 729.2,2381.5 731.2,2380.5 733.2,2379.6 735.2,2378.9 737.2,2378.3 739.2,2376.0 741.2,2375.0 743.2,2373.3 745.2,2372.1 747.2,2372.0 749.2,2367.4 751.2,2363.3 753.2,2359.0 755.2,2354.2 757.2,2349.7 759.2,2343.8 761.2,2337.9 763.2,2331.1 765.2,2327.1 767.2,2323.9 769.2,2320.7 771.2,2318.9 773.2,2320.0 775.2,2322.3 777.2,2326.0 779.2,2330.3 781.2,2336.9 783.2,2342.3 785.2,2348.3 787.2,2351.9 789.2,2357.0 791.2,2361.8 793.2,2365.0 795.2,2370.2 797.2,2371.0 799.2,2370.9 801.2,2371.6 803.2,2373.4 805.2,2374.4 807.2,2374.3 809.2,2376.7 811.2,2378.5 813.2,2379.5 815.2,2378.3 817.2,2378.4 819.2,2378.7 820.7,2379.4 821.2,2379.7 821.7,2379.8 822.7,2379.9 823.2,2380.0 823.7,2380.3 824.7,2380.8 825.2,2381.1 825.7,2381.1 826.7,2381.1 827.2,2381.1 827.7,2380.8 828.7,2380.3 829.2,2380.0 829.7,2380.3 830.7,2380.8 831.2,2381.1 831.7,2381.1 832.7,2381.0 833.2,2380.9 833.7,2381.0 834.7,2381.1 835.2,2381.1 835.7,2380.8 836.7,2380.2 837.2,2379.9 837.7,2379.9 838.7,2379.7 839.2,2379.6 839.7,2379.5 840.7,2379.1 841.2,2378.8 841.7,2378.3 842.7,2377.2 843.2,2376.7 843.7,2376.3 844.7,2375.8 845.2,2375.7 845.7,2375.4 846.7,2375.3 847.2,2375.5 847.7,2375.7 848.7,2376.4 849.2,2376.7 849.7,2377.3 850.7,2378.2 851.2,2378.7 851.7,2379.2 852.7,2380.0 853.2,2380.4 853.7,2380.9 854.7,2381.8 855.2,2382.2 855.7,2382.3 856.7,2382.5 857.2,2382.5 857.7,2382.7 858.7,2382.9 859.2,2383.0 859.7,2382.9 860.7,2382.7 861.2,2382.5 861.7,2382.4 862.7,2382.0 863.2,2381.8 863.7,2381.7 864.7,2381.6 865.2,2381.5 865.7,2380.8 866.7,2379.3 867.2,2378.4 867.7,2378.0 868.7,2377.1 869.2,2376.5 869.7,2375.6 870.7,2373.7 871.2,2372.6 873.2,2368.0 875.2,2365.6 877.2,2367.7 879.2,2368.9 881.2,2372.4 883.2,2376.8 885.2,2378.4 887.2,2378.7 889.2,2379.1 891.2,2381.0 893.2,2382.7 895.2,2383.0 897.2,2384.4 899.2,2384.6 901.2,2384.6 903.2,2385.1 905.2,2386.0 907.2,2386.2 909.2,2385.0 911.2,2385.9 913.2,2386.7 915.2,2387.9 917.2,2388.6 919.2,2388.1 921.2,2389.8 923.2,2389.9 925.2,2389.1 927.2,2390.7 929.2,2392.4 931.2,2392.9 933.2,2392.8 935.2,2391.5 937.2,2391.1 939.2,2391.9 941.2,2392.8 943.2,2394.2 945.2,2392.5 947.2,2390.9 949.2,2392.1 951.2,2393.1 953.2,2392.3 955.2,2393.2 957.2,2394.0 959.2,2395.1 961.2,2395.7 963.2,2394.5 965.2,2392.5 967.2,2393.1 969.2,2392.2 971.2,2392.7 973.2,2394.1 975.2,2392.8 977.2,2392.6 979.2,2393.0 981.2,2395.4 983.2,2397.0 985.2,2397.0 987.2,2397.1 989.2,2396.9 991.2,2396.5 993.2,2394.4 995.2,2394.9 997.2,2395.7 999.2,2395.6 1001.2,2395.4 1003.2,2395.5 1005.2,2394.6 1007.2,2395.0 1009.2,2395.8 1011.2,2395.1 1013.2,2396.0 1015.2,2397.0 1017.2,2397.0 1019.2,2396.0 1021.2,2397.2 1023.2,2396.8 1025.2,2396.7 1026,2397.4 1027,2398.3 1027.2,2398.5 1028,2398.1 1029,2397.7 1029.2,2397.6 1030,2397.2 1031,2396.8 1031.2,2396.7 1032,2397.1 1033,2397.6 1033.2,2397.7 1034,2397.3 1035,2396.9 1035.2,2396.8 1036,2396.7 1037,2396.4 1037.2,2396.4 1038,2396.5 1039,2396.6 1039.2,2396.6 1040,2396.1 1041,2395.4 1041.2,2395.2 1042,2394.7 1043,2393.8 1043.2,2393.6 1043.8,2392.5 1044,2392.1 1044.3,2391.5 1044.8,2390.7 1045,2390.4 1045.2,2390.1 1045.3,2390.0 1045.8,2389.7 1046,2389.7 1046.3,2389.8 1046.8,2390.1 1047,2390.3 1047.2,2390.5 1047.3,2390.6 1047.8,2391.1 1048,2391.3 1048.3,2391.6 1048.8,2392.1 1049,2392.3 1049.2,2392.4 1049.3,2392.5 1049.8,2392.9 1050,2393.0 1050.3,2393.2 1050.8,2393.3 1051,2393.4 1051.2,2393.4 1051.3,2393.5 1051.8,2393.9 1052,2394.0 1052.3,2394.1 1052.8,2394.3 1053,2394.4 1053.2,2394.5 1053.3,2394.5 1053.8,2394.9 1054,2395.0 1054.3,2395.2 1054.8,2395.4 1055,2395.4 1055.2,2395.5 1055.3,2395.5 1055.8,2395.5 1056,2395.4 1056.3,2395.3 1056.8,2395.1 1057,2395.0 1057.2,2394.8 1057.3,2394.6 1057.8,2393.3 1058,2392.8 1058.3,2391.9 1058.8,2390.3 1059,2389.6 1059.2,2388.9 1059.3,2388.6 1059.8,2387.0 1060,2386.5 1060.3,2385.7 1060.8,2384.7 1061,2384.5 1061.2,2384.3 1061.3,2384.3 1061.8,2384.7 1062,2385.0 1062.3,2385.6 1062.8,2387.0 1063,2387.6 1063.2,2388.2 1063.3,2388.4 1063.8,2389.8 1064,2390.3 1064.3,2391.0 1064.8,2392.1 1065,2392.4 1065.2,2392.8 1065.3,2393.1 1065.8,2394.3 1066,2394.8 1066.3,2395.5 1066.8,2396.5 1067.2,2397.2 1067.3,2397.4 1067.8,2398.0 1068.3,2398.5 1068.8,2399.0 1069.2,2399.4 1069.3,2399.5 1069.8,2400.0 1070.3,2400.6 1070.8,2401.0 1071.2,2401.4 1071.3,2401.5 1071.8,2401.8 1072.3,2402.2 1072.8,2402.5 1073.2,2402.7 1073.3,2402.6 1073.8,2402.3 1074.3,2401.9 1074.8,2401.5 1075.2,2401.2 1075.3,2401.2 1075.8,2401.1 1076.3,2401.1 1076.8,2401.0 1077.2,2400.9 1077.3,2400.9 1077.8,2401.1 1078.3,2401.3 1078.8,2401.5 1079.2,2401.7 1081.2,2403.0 1083.2,2403.3 1085.2,2403.2 1087.2,2403.1 1089.2,2403.5 1091.2,2402.9 1092.9,2402.4 1093.2,2402.3 1093.4,2402.3 1093.9,2402.3 1094.4,2402.2 1094.9,2402.2 1095.2,2402.2 1095.4,2402.2 1095.9,2402.2 1096.4,2402.2 1096.9,2402.2 1097.2,2402.3 1097.4,2402.4 1097.9,2402.8 1098.4,2403.2 1098.9,2403.6 1099.2,2403.8 1099.4,2403.7 1099.9,2403.4 1100.4,2403.0 1100.9,2402.7 1101.2,2402.4 1101.4,2402.4 1101.9,2402.2 1102.4,2401.9 1102.9,2401.7 1103.2,2401.5 1103.4,2401.5 1103.9,2401.4 1104.4,2401.3 1104.9,2401.1 1105.2,2401.0 1105.4,2400.7 1105.9,2399.8 1106.4,2398.9 1106.9,2397.8 1107.2,2397.0 1107.4,2396.7 1107.9,2395.7 1108.4,2394.6 1108.9,2393.5 1109.2,2392.9 1109.4,2392.5 1109.9,2391.9 1110.4,2391.8 1110.9,2392.3 1111.2,2392.9 1111.4,2393.2 1111.9,2394.3 1112.4,2395.6 1112.9,2396.8 1113.2,2397.5 1113.4,2397.9 1113.9,2398.8 1114.4,2399.5 1114.9,2400.1 1115.2,2400.4 1115.4,2400.8 1115.9,2401.8 1116.4,2402.7 1116.9,2403.5 1117.2,2403.9 1117.4,2404.1 1117.9,2404.5 1118.4,2404.8 1118.9,2405.1 1119.2,2405.3 1119.4,2405.3 1119.9,2405.4 1120.4,2405.4 1120.9,2405.5 1121.2,2405.5 1121.4,2405.5 1121.9,2405.5 1122.4,2405.4 1122.9,2405.4 1123.2,2405.4 1123.4,2405.2 1123.9,2404.7 1124.4,2404.1 1124.9,2403.6 1125.2,2403.3 1125.4,2403.2 1125.9,2403.1 1126.4,2403.0 1126.9,2402.9 1127.2,2402.9 1127.4,2403.0 1127.9,2403.3 1129.2,2404.0 1131.2,2405.5 1133.2,2405.6 1135.2,2406.8 1137.2,2405.9 1139.2,2404.8 1141.2,2404.6 1143.2,2402.8 1145.2,2400.2 1147.2,2398.6 1149.2,2397.0 1151.2,2395.0 1153.2,2395.3 1155.2,2398.6 1157.2,2400.0 1159.2,2400.2 1161.2,2402.2 1163.2,2404.6 1165.2,2406.7 1167.2,2406.1 1169.2,2405.2 1171.2,2405.8 1173.2,2405.2 1175.2,2407.7 1177.2,2407.4 1179.2,2407.2 1181.2,2407.4 1183.2,2406.3 1185.2,2406.3 1187.2,2407.3 1189.2,2407.8 1191.2,2407.4 1193.2,2407.7 1195.2,2406.6 1197.2,2406.6 1199.2,2406.1 1201.2,2406.3 1203.2,2408.8 1205.2,2409.3 1207.2,2408.3 1209.2,2407.1 1209.6,2406.9 1210.6,2406.4 1211.2,2406.0 1211.6,2406.1 1212.6,2406.3 1213.2,2406.4 1213.6,2406.7 1214.6,2407.3 1215.2,2407.7 1215.6,2407.6 1216.6,2407.1 1217.2,2406.8 1217.6,2406.7 1218.6,2406.5 1219.2,2406.4 1219.6,2406.3 1220.6,2406.2 1221.2,2406.0 1221.6,2405.8 1222.6,2405.1 1223.2,2404.6 1223.6,2404.1 1224.6,2403.0 1225.2,2402.1 1225.6,2401.7 1226.6,2400.3 1227.2,2399.3 1227.6,2398.8 1228.6,2397.7 1229.2,2397.5 1229.6,2397.7 1230.6,2399.3 1231.2,2400.8 1231.6,2401.4 1232.6,2402.9 1233.2,2403.7 1233.6,2403.8 1234.6,2403.8 1235.2,2403.6 1235.6,2403.8 1236.6,2403.9 1237.2,2403.9 1237.6,2404.2 1238.6,2404.7 1239.2,2405.0 1239.6,2405.2 1240.6,2405.7 1241.2,2406.0 1241.6,2406.2 1242.6,2406.6 1243.2,2406.8 1243.6,2407.0 1244.6,2407.4 1245.2,2407.7 1245.6,2407.5 1246.6,2407.0 1247,2406.8 1247.2,2406.7 1247.6,2406.4 1248,2406.1 1248.6,2405.6 1249,2405.3 1249.2,2405.2 1249.6,2405.1 1250,2405.0 1251,2404.7 1251.2,2404.7 1252,2405.6 1253,2406.8 1253.2,2407.0 1254,2407.7 1255,2408.6 1255.2,2408.7 1256,2408.5 1257,2408.1 1257.2,2408.0 1258,2407.5 1259,2406.8 1259.2,2406.7 1260,2405.9 1261,2405.0 1261.2,2404.7 1262,2404.6 1263,2404.2 1263.2,2404.1 1264,2403.0 1264.5,2402.2 1265,2401.4 1265.2,2401.1 1265.5,2400.6 1266,2399.9 1266.5,2399.4 1267,2399.1 1267.2,2399.0 1267.5,2399.3 1268,2400.0 1268.5,2400.8 1269,2401.7 1269.2,2402.0 1269.5,2402.4 1270,2403.0 1270.5,2403.6 1271,2404.1 1271.2,2404.3 1271.5,2404.3 1272,2404.4 1272.5,2404.3 1273,2404.3 1273.2,2404.2 1273.5,2404.3 1274,2404.4 1274.5,2404.5 1275,2404.6 1275.2,2404.6 1275.5,2404.8 1276,2405.2 1276.5,2405.6 1277,2405.9 1277.2,2406.0 1277.5,2405.8 1278,2405.4 1278.5,2405.0 1279,2404.6 1279.2,2404.3 1279.5,2403.9 1280,2403.1 1280.5,2402.3 1281,2401.3 1281.2,2400.9 1281.5,2400.6 1282,2400.0 1282.5,2399.4 1283,2398.8 1283.2,2398.5 1283.5,2398.1 1284,2397.5 1284.5,2397.3 1285,2397.4 1285.2,2397.5 1285.5,2397.9 1286,2398.8 1286.5,2399.7 1287,2400.7 1287.2,2401.1 1287.5,2401.7 1288.5,2403.5 1289.2,2404.6 1289.5,2405.3 1290.5,2407.3 1291.2,2408.5 1291.5,2408.6 1292.5,2408.8 1293.2,2408.9 1293.5,2408.8 1294.5,2408.3 1295.2,2407.9 1295.5,2408.1 1296.5,2408.6 1297.2,2409.0 1297.5,2408.9 1298.5,2408.6 1299.2,2408.4 1299.5,2408.3 1300.5,2408.2 1301.2,2408.1 1301.5,2408.1 1302.5,2408.2 1303.2,2408.2 1303.5,2408.3 1304.5,2408.5 1305.2,2408.6 1307.2,2410.2 1309.2,2408.9 1311.2,2409.2 1313.2,2409.8 1315.2,2408.9 1316,2408.6 1317,2408.3 1317.2,2408.3 1318,2408.5 1319,2408.7 1319.2,2408.8 1320,2408.8 1321,2408.8 1321.2,2408.8 1322,2408.7 1323,2408.5 1323.2,2408.5 1324,2408.7 1325,2409.0 1325.2,2409.1 1326,2408.8 1327,2408.4 1327.2,2408.3 1328,2407.8 1329,2407.2 1329.2,2407.1 1330,2406.7 1331,2406.1 1331.2,2406.0 1332,2405.9 1333,2405.6 1333.2,2405.5 1334,2404.7 1335,2403.5 1335.2,2403.2 1336,2402.0 1337,2400.2 1337.2,2399.8 1338,2398.5 1339,2396.7 1339.2,2396.4 1340,2395.5 1341,2395.0 1341.2,2395.1 1342,2395.6 1343,2396.8 1343.2,2397.1 1344,2397.5 1345,2398.0 1345.2,2398.0 1346,2398.3 1347,2398.4 1347.2,2398.4 1348,2398.9 1349,2399.2 1349.2,2399.2 1350,2399.2 1351,2398.9 1351.2,2398.8 1352,2398.0 1353,2397.0 1353.2,2396.8 1354,2396.0 1355,2395.6 1355.2,2395.6 1356,2395.9 1357,2396.7 1357.2,2396.9 1358,2397.8 1359,2398.8 1359.2,2399.0 1360,2400.0 1361,2401.0 1361.2,2401.1 1362,2402.3 1363,2403.7 1363.2,2403.9 1364,2404.3 1365,2404.6 1365.2,2404.7 1366,2404.7 1367,2404.7 1367.2,2404.7 1368,2404.8 1369,2404.9 1369.2,2404.9 1370,2405.5 1371,2406.2 1371.2,2406.3 1372,2406.8 1373,2407.5 1373.2,2407.7 1374,2407.4 1375,2407.1 1375.2,2407.1 1376,2407.2 1377,2407.3 1377.2,2407.3 1378,2407.1 1379,2406.7 1379.2,2406.6 1380,2406.2 1381.2,2405.6 1383.2,2406.6 1385.2,2406.1 1387.2,2405.8 1389.2,2407.2 1391.2,2407.3 1392.5,2407.2 1393.2,2407.1 1393.5,2406.9 1394.5,2406.3 1395.2,2405.8 1395.5,2405.5 1396.5,2404.6 1397.2,2404.0 1397.5,2404.3 1398.5,2405.5 1399.2,2406.4 1399.5,2406.7 1400.5,2407.8 1401.2,2408.5 1401.5,2408.5 1402.5,2408.3 1403.2,2408.2 1403.5,2407.8 1404.5,2406.7 1405.2,2405.9 1405.5,2405.9 1406.5,2406.0 1407.2,2406.0 1407.5,2405.9 1408.5,2405.5 1409.2,2405.2 1409.5,2405.2 1410.5,2405.0 1411.2,2404.7 1411.5,2404.5 1412.5,2403.8 1413.2,2403.3 1413.5,2403.1 1414.5,2402.6 1415,2402.6 1415.2,2402.7 1415.5,2402.8 1416.5,2403.4 1417.2,2404.1 1417.5,2404.4 1418.5,2405.1 1419.2,2405.5 1419.5,2405.7 1420.5,2406.1 1421.2,2406.2 1421.5,2406.4 1422.5,2406.8 1423.2,2407.0 1423.5,2407.3 1424.5,2408.1 1425.2,2408.7 1425.5,2408.8 1426.5,2409.1 1427.2,2409.2 1427.5,2409.2 1428.5,2409.2 1429.2,2409.2 1429.5,2409.3 1430.5,2409.4 1431.2,2409.5 1431.5,2409.8 1432.5,2410.8 1433.2,2411.5 1433.5,2411.5 1434.5,2411.6 1435.2,2411.7 1435.5,2411.5 1436.5,2410.9 1437.2,2410.5 1437.5,2410.5 1439.2,2410.6 1441.2,2411.0 1443.2,2412.0 1445.2,2412.4 1447,2412.0 1447.2,2411.9 1448,2412.1 1449,2412.4 1449.2,2412.5 1450,2412.5 1451,2412.5 1451.2,2412.5 1452,2412.2 1453,2411.8 1453.2,2411.7 1454,2411.7 1455,2411.7 1455.2,2411.7 1456,2411.8 1457,2411.9 1457.2,2411.9 1458,2411.9 1459,2411.8 1459.2,2411.8 1460,2411.2 1461,2410.4 1461.2,2410.2 1462,2409.4 1463,2408.2 1463.2,2407.9 1464,2407.0 1465,2405.5 1465.2,2405.3 1466,2405.2 1467,2405.7 1467.2,2406.0 1468,2406.1 1469,2406.8 1469.2,2407.0 1470,2407.7 1471,2408.4 1471.2,2408.5 1472,2409.1 1473,2409.7 1473.2,2409.8 1474,2410.7 1475,2411.8 1475.2,2412.0 1476,2412.1 1477,2412.2 1477.2,2412.2 1478,2412.0 1479,2411.7 1479.2,2411.6 1480,2412.1 1481,2412.7 1481.2,2412.8 1482,2412.9 1483,2413.0 1483.2,2413.0 1484,2412.4 1485,2411.6 1485.2,2411.5 1486,2411.8 1487,2412.1 1487.2,2412.2 1489.2,2412.7 1491.2,2409.9 1493.2,2410.6 1495.2,2410.7 1497.2,2411.7 1499.2,2412.8 1501.2,2411.8 1503.2,2411.8 1505.2,2412.2 1507.2,2412.3 1509.2,2411.7 1511.2,2411.7 1513.2,2411.4 1515.2,2410.7 1517.2,2409.2 1519.2,2408.0 1521.2,2406.3 1523.2,2403.2 1525.2,2401.3 1527.2,2400.2 1529.2,2400.5 1531.2,2400.8 1533.2,2400.8 1535.2,2400.2 1537.2,2402.1 1539.2,2404.0 1541.2,2406.2 1543.2,2406.7 1545.2,2407.5 1547.2,2409.7 1549.2,2411.6 1551.2,2412.6 1553.2,2412.9 1555.2,2411.6 1557.2,2412.3 1559.2,2412.5 1561.2,2412.9 1563.2,2413.8 1565.2,2413.2 1567.2,2413.1 1569.2,2413.1 1571.2,2412.6 1573.2,2412.8 1575.2,2414.1 1577.2,2413.9 1579.2,2412.9 1581.2,2413.4 1583.2,2414.7 1585.2,2415.2 1587.2,2416.2 1589.2,2415.5 1591.2,2415.3 1593.2,2416.5 1595.2,2415.2 1597.2,2415.8 1599.2,2417.7 1601.2,2418.0 1603.2,2416.1 1605.2,2415.7 1607.2,2416.8 1609.2,2418.2 1611.2,2417.2 1613.2,2416.7 1615.2,2416.7 1617.2,2416.7 1619.2,2417.0 1621.2,2418.5 1623.2,2418.3 1625.2,2416.3 1627.2,2415.7 1629.2,2416.1 1631.2,2416.3 1633.2,2418.0 1635.2,2418.5 1637.2,2418.7 1639.2,2417.4 1641.2,2416.6 1643.2,2417.6 1645.2,2418.0 1647.2,2417.9 1649.2,2417.0 1651.2,2416.7 1653.2,2416.2 1655.2,2416.7 1657.2,2418.0 1659.2,2417.7 1661.2,2416.9 1663.2,2417.6 1665.2,2417.6 1667.2,2417.1 1669.2,2416.7 1671.2,2417.0 1673.2,2417.0 1675.2,2415.9 1677.2,2415.0 1679.2,2416.3 1681.2,2415.8 1683.2,2415.9 1685.2,2415.5 1687.2,2416.5 1689.2,2417.4 1691.2,2419.1 1693.2,2418.1 1695.2,2418.0 1697.2,2417.1 1699.2,2417.2 1701.2,2416.7 1703.2,2415.2 1705.2,2416.1 1707.2,2416.8 1709.2,2416.6 1711.2,2416.0 1713.2,2415.4 1715.2,2413.5 1717.2,2412.6 1719.2,2412.6 1721.2,2411.6 1723.2,2408.5 1725.2,2408.6 1727.2,2410.2 1729.2,2409.3 1731.2,2407.9 1733.2,2409.0 1735.2,2412.2 1737.2,2414.0 1739.2,2414.1 1741.2,2415.2 1743.2,2416.9 1745.2,2417.1 1747.2,2417.8 1749.2,2419.3 1751.2,2418.9 1753.2,2419.0 1755.2,2419.2 1757.2,2419.8 1759.2,2419.1 1761.2,2419.1 1763.2,2418.5 1765.2,2418.7 1767.2,2420.9 1769.2,2421.0 1771.2,2419.6 1773.2,2418.3 1775.2,2418.1 1777.2,2418.7 1779.2,2418.5 1781.2,2418.6 1783.2,2418.7 1785.2,2418.7 1787.2,2419.0 1789.2,2419.0 1791.2,2418.5 1793.2,2417.6 1795.2,2418.9 1797.2,2419.0 1799.2,2419.5 1801.2,2419.3 1803.2,2418.9 1805.2,2419.0 1807.2,2418.8 1809.2,2417.9 1811.2,2420.9 1813.2,2420.3 1815.2,2418.4 1817.2,2418.3 1819.2,2417.4 1821.2,2418.1 1823.2,2420.0 1825.2,2420.7 1827.2,2419.8 1829.2,2419.4 1831.2,2420.4 1833.2,2420.9 1835.2,2418.8 1837.2,2420.5 1839.2,2421.8 1841.2,2421.2 1843.2,2422.9 1845.2,2422.5 1847.2,2421.0 1849.2,2419.9 1851.2,2420.3 1853.2,2420.4 1855.2,2419.4 1857.2,2419.6 1859.2,2420.4 1861.2,2420.4 1863.2,2419.9 1865.2,2420.0 1867.2,2420.0 1869.2,2419.9 1871.2,2420.0 1873.2,2419.5 1875.2,2420.1 1877.2,2420.2 1879.2,2421.0 1881.2,2421.8 1883.2,2421.4 1885.2,2421.6 1887.2,2420.7 1889.2,2420.1 1891.2,2419.1 1893.2,2418.7 1895.2,2419.2 1897.2,2419.4 1899.2,2420.3 1901.2,2420.8 1903.2,2419.9 1905.2,2418.7"/>
<polyline class="cv" stroke="#8000FF" points="23.2,2010.2 25.2,2010.0 27.2,2009.0 29.2,2008.7 31.2,2007.5 33.2,2007.5 35.2,2013.8 37.2,2018.3 39.2,2015.6 41.2,2014.8 43.2,2016.7 43.7,2017.7 44.2,2018.6 44.7,2019.5 45.2,2020.4 45.7,2020.9 46.2,2021.4 46.7,2022.0 47.2,2022.4 47.7,2022.8 48.2,2023.0 48.7,2023.2 49.2,2023.4 49.7,2021.9 50.2,2020.3 50.7,2018.6 51.2,2016.7 51.7,2016.0 52.2,2015.0 52.7,2013.6 53.2,2011.7 53.7,2008.4 54.2,2004.0 54.7,1998.2 55.2,1990.3 55.7,1979.8 56.2,1966.4 56.7,1951.2 57.2,1937.9 57.7,1933.4 58.2,1939.9 58.7,1954.2 59.2,1970.4 59.7,1983.5 60.2,1993.8 60.7,2001.5 61.2,2007.3 61.7,2011.9 62.2,2015.5 62.7,2018.3 63.2,2020.6 63.7,2022.7 64.2,2024.5 64.7,2026.1 65.2,2027.5 65.7,2028.4 66.2,2029.2 66.7,2030.0 67.2,2030.6 67.7,2031.9 68.2,2033.2 68.7,2034.4 69.2,2035.6 69.7,2036.5 70.2,2037.3 70.7,2038.1 71.2,2038.9 71.7,2038.8 73.2,2038.7 75.2,2037.5 77.2,2041.1 79.2,2046.5 81.2,2044.7 83.2,2045.4 85.2,2050.6 87.2,2051.4 89.2,2049.4 91.2,2048.2 93.2,2047.2 95.2,2045.4 97.2,2049.2 99.2,2054.7 101.2,2055.1 103.2,2055.4 103.5,2055.7 104,2056.1 104.5,2056.5 105,2057.0 105.2,2057.1 105.5,2057.5 106,2058.0 106.5,2058.5 107,2059.0 107.2,2059.2 107.5,2059.4 108,2059.9 108.5,2060.3 109,2060.8 109.2,2060.9 109.5,2060.8 110,2060.7 110.5,2060.5 111,2060.3 111.2,2060.2 111.5,2060.5 112,2060.9 112.5,2061.3 113,2061.7 113.2,2061.9 113.5,2061.9 114,2061.8 114.5,2061.7 115,2061.5 115.2,2061.4 115.5,2060.8 116,2059.7 116.5,2058.5 117,2057.1 117.2,2056.4 117.5,2055.8 118,2054.5 118.5,2052.8 119,2050.7 119.2,2049.7 119.5,2048.1 120,2045.6 120.5,2043.6 121,2043.1 121.2,2043.4 121.5,2044.3 122,2047.0 122.5,2050.2 123,2053.5 123.2,2054.7 123.5,2056.7 124,2059.5 124.5,2062.0 125,2064.1 125.2,2064.8 125.5,2065.4 126,2066.1 126.5,2066.7 127,2067.2 127.2,2067.3 127.5,2067.3 128,2067.3 128.5,2067.2 129,2067.1 129.2,2067.0 129.5,2067.1 130,2067.2 130.5,2067.3 131,2067.4 131.2,2067.4 131.5,2067.7 132,2068.3 132.5,2068.8 133,2069.3 133.2,2069.6 133.5,2070.4 134,2071.7 134.5,2073.1 135,2074.4 135.2,2074.9 135.5,2075.2 136,2075.8 136.5,2076.3 137,2076.9 137.2,2077.1 137.5,2077.5 138,2078.2 138.5,2078.9 139.2,2080.0 141.2,2084.0 143.2,2083.4 145.2,2082.3 147.2,2085.5 149.2,2086.0 151.2,2085.7 153.2,2088.0 155.2,2093.2 157.2,2094.5 159.2,2093.9 161.2,2096.6 163.2,2098.5 165.2,2097.5 167.2,2097.5 169.2,2096.9 171.2,2099.4 173.2,2101.2 175.2,2104.1 177.2,2105.5 179.2,2107.5 181.2,2105.8 183.2,2106.4 185.2,2109.1 187.2,2112.1 189.2,2113.5 191.2,2113.0 193.2,2113.0 195.2,2116.5 197.2,2119.0 199.2,2117.1 201.2,2115.9 203.2,2121.4 205.2,2122.8 207.2,2122.8 209.2,2121.3 211.2,2122.5 213.2,2123.9 215.2,2123.4 217.2,2125.7 219.2,2128.0 221.2,2130.9 223.2,2130.9 225.2,2130.6 227.2,2132.1 229.2,2134.1 231.2,2132.7 233.2,2130.0 235.2,2132.7 237.2,2135.3 239.2,2137.5 241.2,2137.8 243.2,2138.5 245.2,2140.9 247.2,2141.2 249.2,2140.9 251.2,2141.9 253.2,2142.9 255.2,2141.9 257.2,2142.4 259.2,2142.3 261.2,2143.2 263.2,2145.4 265.2,2148.7 267.2,2150.8 269.2,2152.2 271.2,2151.7 273.2,2150.5 275.2,2150.8 277.2,2154.3 279.2,2153.8 281.2,2153.8 283.2,2153.5 285.2,2155.5 287.2,2152.6 289.2,2152.9 291.2,2156.9 293.2,2160.2 295.2,2160.1 297.2,2160.9 299.2,2162.0 301.2,2165.6 303.2,2166.4 305.2,2166.2 307.2,2165.1 309.2,2166.7 311.2,2167.3 313.2,2168.0 315.2,2166.7 317.2,2165.2 319.2,2166.4 321.2,2168.2 323.2,2168.4 325.2,2169.6 327.2,2170.8 329.2,2170.1 331.2,2169.9 333.2,2170.4 335.2,2172.8 337.2,2174.6 339.2,2172.1 341.2,2169.3 343.2,2170.9 344.9,2170.2 345.2,2170.1 345.4,2170.0 345.9,2169.7 346.4,2169.5 346.9,2169.1 347.2,2168.9 347.4,2168.8 347.9,2168.4 348.4,2168.0 348.9,2167.5 349.2,2167.1 349.4,2167.0 349.9,2166.7 350.4,2166.2 350.9,2165.6 351.2,2165.1 351.4,2164.3 351.9,2162.3 352.4,2160.0 352.9,2157.2 353.2,2155.2 353.4,2154.1 353.9,2150.7 354.4,2146.3 354.9,2140.5 355.2,2136.2 355.4,2133.1 355.9,2123.4 356.4,2110.1 356.9,2092.1 357.2,2078.9 357.4,2068.8 357.9,2041.8 358.4,2018.1 358.9,2008.3 359.2,2012.1 359.4,2018.4 359.9,2042.5 360.4,2069.9 360.9,2094.0 361.2,2106.0 361.4,2112.8 361.9,2126.9 362.4,2137.3 362.9,2145.1 363.2,2148.8 363.4,2151.0 363.9,2155.6 364.4,2159.2 364.9,2162.0 365.2,2163.5 365.4,2164.5 365.9,2166.9 366.4,2168.9 366.9,2170.6 367.2,2171.5 367.4,2172.1 367.9,2173.3 368.4,2174.5 368.9,2175.5 369.2,2176.0 369.4,2176.4 369.9,2177.1 370.4,2177.9 370.9,2178.5 371.2,2178.9 371.4,2179.1 371.9,2179.6 372.4,2180.0 372.9,2180.5 373.2,2180.7 375.2,2181.7 377.2,2182.8 379.2,2185.0 381.2,2187.7 383.2,2188.7 385.2,2186.1 387.2,2186.4 389.2,2188.4 391.2,2190.1 393.2,2192.3 395.2,2192.7 397.2,2191.6 399.2,2191.1 401.2,2190.8 403.2,2191.2 405.2,2193.2 407.2,2194.0 409.2,2195.0 410,2195.7 410.5,2196.1 411,2196.5 411.2,2196.7 411.5,2196.5 412,2196.2 412.5,2195.8 413,2195.5 413.2,2195.4 413.5,2194.9 414,2194.2 414.5,2193.5 415,2192.8 415.2,2192.5 415.5,2192.6 416,2192.7 416.5,2192.9 417,2193.0 417.2,2193.0 417.5,2193.1 418,2193.1 418.5,2193.1 419,2193.0 419.2,2193.0 419.5,2192.7 420,2192.3 420.5,2191.6 421,2190.8 421.2,2190.4 421.5,2189.8 422,2188.4 422.5,2186.5 423,2184.1 423.2,2182.9 423.5,2180.8 424,2177.0 424.5,2173.8 425,2172.4 425.2,2172.5 425.5,2173.3 426,2176.0 426.5,2179.3 427,2182.2 427.2,2183.2 427.5,2184.8 428,2186.9 428.5,2188.5 429,2189.8 429.2,2190.2 429.5,2190.8 430,2191.7 430.5,2192.4 431,2193.0 431.2,2193.2 431.5,2193.5 432,2193.9 432.5,2194.2 433,2194.5 433.2,2194.6 433.5,2194.5 434,2194.4 434.5,2194.3 435,2194.2 435.2,2194.1 435.5,2194.3 436,2194.8 436.5,2195.2 437,2195.5 437.2,2195.7 437.5,2196.3 438,2197.3 438.5,2198.3 439,2199.3 439.2,2199.7 439.5,2199.3 440,2198.8 441.2,2197.4 443.2,2195.8 445.2,2197.8 447.2,2198.4 449.2,2198.1 451.2,2196.3 453.2,2196.6 455.2,2199.7 457.2,2198.0 459.2,2195.1 461.2,2197.9 463.2,2201.4 465.2,2201.6 467.2,2199.6 469.2,2199.4 471.2,2200.6 473.2,2199.6 475.2,2200.3 477.2,2201.9 479.2,2202.0 481.2,2201.3 483.2,2202.9 485.2,2203.7 487.2,2202.2 489.2,2202.9 491.2,2204.3 493.2,2202.5 495.2,2203.4 497.2,2204.8 499.2,2204.7 501.2,2205.2 503.2,2204.7 505.2,2204.6 507.2,2206.9 509.2,2206.9 511.2,2205.5 513.2,2203.4 515.2,2204.4 517.2,2207.3 519.2,2207.0 521.2,2206.2 523.2,2206.2 525.2,2207.2 527.2,2207.4 529.2,2207.5 531.2,2208.7 533.2,2208.2 534.7,2207.6 535.2,2207.4 535.7,2206.8 536.7,2205.4 537.2,2204.7 537.7,2205.2 538.7,2206.1 539.2,2206.6 539.7,2207.2 540.7,2208.5 541.2,2209.2 541.7,2208.7 542.7,2207.7 543.2,2207.2 543.7,2207.0 544.7,2206.6 545.2,2206.4 545.7,2206.3 546.7,2206.0 547.2,2205.9 547.7,2205.8 548.7,2205.7 549.2,2205.6 549.7,2205.4 550.7,2204.8 551.2,2204.5 551.7,2204.2 552.7,2203.5 553.2,2203.1 553.7,2203.4 554.7,2203.9 555.2,2204.1 555.7,2204.1 556.7,2203.9 557.2,2203.9 557.7,2203.3 558.7,2202.3 559.2,2202.0 559.7,2201.4 560.7,2200.8 561.2,2200.8 561.7,2201.2 562.7,2202.1 563.2,2202.6 563.7,2203.3 564.7,2204.6 565.2,2205.2 565.7,2205.5 566.7,2206.0 567.2,2206.2 567.7,2206.6 568.7,2207.3 569.2,2207.6 569.7,2207.2 570.7,2206.5 571.2,2206.2 571.7,2206.4 572.7,2206.9 573.2,2207.2 573.7,2207.5 574.7,2208.0 575.2,2208.3 575.7,2208.4 576.7,2208.5 577.2,2208.6 577.7,2208.1 578.7,2207.3 579.2,2206.9 579.7,2207.0 580.7,2207.3 581.2,2207.4 581.7,2207.7 582.7,2208.3 583.2,2208.6 583.7,2208.5 584.7,2208.3 585.2,2208.2 587.2,2211.0 589.2,2211.6 591.2,2209.8 593.2,2208.1 595.2,2209.8 597.2,2209.7 599.2,2209.3 601.2,2209.1 603.2,2210.1 605.2,2211.2 607.2,2210.8 609.2,2212.5 611.2,2210.2 613.2,2209.2 615.2,2211.0 617.2,2208.3 619.2,2207.0 621.2,2207.9 623.2,2209.4 625.2,2209.3 627.2,2209.5 629.2,2209.2 631.2,2209.0 633.2,2210.8 635.2,2210.8 637.2,2210.9 639.2,2210.8 641.2,2211.3 643.2,2212.3 645.2,2211.1 647.2,2211.2 649.2,2212.0 651.2,2210.5 653.2,2209.5 655.2,2209.2 657.2,2209.2 659.2,2209.2 661.2,2210.2 663.2,2210.2 665.2,2208.9 667.2,2207.2 669.2,2208.0 671.2,2209.9 673.2,2211.2 675.2,2209.9 677.2,2210.0 679.2,2210.2 681.2,2209.5 683.2,2209.3 685.2,2209.3 687.2,2210.0 689.2,2208.5 691.2,2207.7 693.2,2209.0 695.2,2209.0 697.2,2208.0 699.2,2207.5 701.2,2208.2 703.2,2208.0 705.2,2209.2 707.2,2208.7 709.2,2207.8 711.2,2207.6 713.2,2206.8 715.2,2206.8 717.2,2208.8 719.2,2209.1 721.2,2206.8 723.2,2204.7 725.2,2204.9 727.2,2205.3 729.2,2204.4 731.2,2204.7 733.2,2203.6 735.2,2203.4 735.6,2203.5 736.1,2203.6 736.6,2203.7 737.1,2203.8 737.2,2203.8 737.6,2203.1 738.1,2202.1 738.6,2201.1 739.1,2200.1 739.2,2199.9 739.6,2199.8 740.1,2199.6 740.6,2199.3 741.1,2199.1 741.2,2199.0 741.6,2198.8 742.1,2198.4 742.6,2198.0 743.1,2197.6 743.2,2197.5 743.6,2197.4 744.1,2197.2 744.6,2196.8 745.1,2196.4 745.2,2196.3 745.6,2195.2 746.1,2193.5 746.6,2191.6 747.1,2189.4 747.2,2188.9 747.6,2186.7 748.1,2183.5 748.6,2179.4 749.1,2174.6 749.2,2173.6 749.6,2169.5 750.1,2165.2 750.6,2163.0 751.1,2164.0 751.2,2164.5 751.6,2167.5 752.1,2171.8 752.6,2175.8 753,2178.4 753.1,2179.0 753.2,2179.5 753.6,2180.8 754,2181.8 754.1,2182.0 754.6,2182.6 755,2182.8 755.1,2182.9 755.2,2182.9 755.6,2183.0 756,2183.0 756.1,2182.9 756.6,2182.7 757,2182.5 757.1,2182.4 757.2,2182.3 757.6,2182.3 758,2182.3 758.1,2182.2 758.6,2182.1 759,2181.9 759.1,2181.9 759.2,2181.8 759.6,2181.5 760,2181.1 760.1,2181.0 760.6,2180.4 761,2180.0 761.1,2179.8 761.2,2179.7 761.6,2179.0 762,2178.3 762.1,2178.1 762.6,2177.1 763,2176.3 763.1,2176.1 763.2,2175.9 763.6,2175.1 764,2174.3 764.1,2174.1 764.6,2173.1 765,2172.1 765.1,2171.9 765.2,2171.7 765.6,2170.7 766,2169.7 767,2166.9 767.2,2166.3 768,2163.3 769,2158.9 769.2,2158.0 770,2153.8 771,2147.6 771.2,2146.3 772,2139.6 773,2130.4 773.2,2128.5 774,2121.4 775,2113.2 775.2,2111.8 776,2107.2 777,2104.8 777.2,2104.8 778,2106.2 779,2111.0 779.2,2112.3 780,2118.6 781,2127.0 781.2,2128.7 782,2135.2 783,2142.5 783.2,2143.8 784,2149.1 785,2154.8 785.2,2155.9 786,2159.2 787,2162.8 787.2,2163.4 788,2165.2 789,2167.1 789.2,2167.4 790,2169.4 791,2171.6 791.2,2172.0 792,2173.3 793,2174.7 793.2,2175.0 794,2176.0 795,2177.1 795.2,2177.3 796,2178.3 797,2179.5 797.2,2179.7 798,2181.1 799,2182.7 799.2,2183.0 800,2183.9 801,2185.1 801.2,2185.3 803.2,2186.2 805.2,2188.4 807.2,2190.8 809.2,2192.5 811.2,2193.1 813.2,2195.1 815.2,2195.5 817.2,2197.4 819.2,2199.9 821.2,2199.9 823.2,2200.1 825.2,2202.4 827.2,2203.1 829.2,2203.0 831.2,2204.6 833.2,2206.5 835.2,2205.4 837.2,2202.9 839.2,2203.8 841.2,2205.0 843.2,2205.4 845.2,2204.9 847.2,2206.2 849.2,2206.5 851.2,2205.2 853.2,2204.0 855.2,2204.0 857.2,2204.4 859.2,2202.8 861.2,2202.9 863.2,2202.4 865.2,2200.8 867.2,2201.4 869.2,2201.6 871.2,2201.6 873.2,2201.9 875.2,2203.0 877.2,2203.8 879.2,2204.4 881.2,2204.8 883.2,2205.4 885.2,2206.5 887.2,2208.6 889.2,2210.6 891.2,2210.4 893.2,2210.0 895.2,2209.8 897.2,2211.5 899.2,2212.3 901.2,2212.4 903.2,2211.5 905.2,2211.3 907.2,2212.1 909.2,2213.7 911.2,2213.2 913.2,2211.4 915.2,2211.8 917.2,2212.3 919.2,2213.4 921.2,2212.6 923.2,2213.0 925.2,2212.3 927.2,2212.7 929.2,2214.3 931.2,2214.1 933.2,2211.6 935.2,2211.6 937.2,2211.5 937.7,2211.5 938.2,2211.4 938.7,2211.3 939.2,2211.2 939.7,2210.6 940.2,2210.0 940.7,2209.3 941.2,2208.5 941.7,2208.0 942.2,2207.4 942.7,2206.7 943.2,2205.9 943.7,2205.1 944.2,2204.0 944.7,2202.8 945.2,2201.2 945.7,2198.8 946.2,2195.9 946.7,2192.3 947.2,2188.0 947.7,2183.0 948.2,2176.5 948.7,2167.9 949.2,2156.6 949.7,2141.6 950.2,2122.2 950.7,2098.3 951.2,2072.2 951.7,2049.8 952.2,2040.5 952.7,2049.1 953.2,2070.9 953.7,2096.7 954.2,2120.4 954.7,2139.6 955.2,2154.5 955.7,2166.1 956.2,2174.9 956.7,2181.8 957.2,2187.1 957.7,2191.5 958.2,2195.1 958.7,2198.0 959.2,2200.5 959.7,2202.6 960.2,2204.4 960.7,2205.9 961.2,2207.2 961.7,2208.4 962.2,2209.5 962.7,2210.5 963.2,2211.4 963.7,2211.6 964.2,2211.8 964.7,2212.0 965.2,2212.0 965.7,2212.5 966.2,2212.9 966.7,2213.3 967.2,2213.7 969.2,2214.6 971.2,2214.2 973.2,2214.9 975.2,2216.0 977.2,2216.0 979.2,2215.8 981.2,2215.9 983.2,2217.5 985.2,2218.4 987.2,2217.7 989.2,2218.3 991.2,2218.6 993.2,2218.8 995.2,2218.6 997.2,2218.4 999.2,2218.0 1001.2,2219.8 1003.2,2220.2 1005.2,2220.8 1007.2,2219.7 1009.2,2220.0 1011.2,2218.0 1013.2,2217.8 1015.2,2215.7 1017.2,2212.7 1019.2,2212.0 1021.2,2213.3 1023.2,2214.9 1025.2,2216.1 1027.2,2218.0 1029.2,2219.2 1031.2,2219.7 1033.2,2222.3 1035.2,2221.8 1037.2,2222.7 1039.2,2221.2 1041.2,2221.5 1043.2,2222.1 1045.2,2222.4 1047.2,2221.5 1049.2,2218.5 1051.2,2220.0 1053.2,2221.1 1055.2,2221.9 1057.2,2221.1 1059.2,2220.7 1061.2,2221.0 1063.2,2222.4 1065.2,2223.3 1067.2,2223.2 1069.2,2222.9 1071.2,2222.0 1073.2,2222.2 1075.2,2223.4 1077.2,2223.7 1079.2,2223.5 1081.2,2224.1 1083.2,2226.0 1085.2,2226.0 1087.2,2225.4 1089.2,2225.3 1091.2,2225.7 1093.2,2225.4 1095.2,2224.7 1097.2,2225.3 1099.2,2225.9 1101.2,2226.9 1103.2,2227.3 1105.2,2227.3 1107.2,2226.7 1109.2,2226.9 1111.2,2226.2 1113.2,2228.8 1115.2,2228.8 1117.2,2228.0 1119.2,2228.0 1121.2,2229.2 1123.2,2229.6 1125.2,2228.1 1127.2,2227.1 1129.2,2228.0 1131.2,2226.3 1133.2,2226.7 1135.2,2226.2 1137.2,2225.4 1139.2,2225.0 1141.2,2223.6 1143.2,2221.5 1145.2,2221.1 1147.2,2221.8 1149.2,2223.5 1151.2,2226.8 1153.2,2228.3 1155.2,2228.1 1157.2,2227.5 1159.2,2228.8 1161.2,2229.8 1163.2,2230.0 1165.2,2229.7 1167.2,2230.2 1169.2,2232.6 1171.2,2232.4 1173.2,2231.4 1175.2,2231.7 1177.2,2231.8 1179.2,2231.9 1181.2,2231.7 1183.2,2233.0 1185.2,2232.9 1187.2,2231.0 1189.2,2232.9 1191.2,2234.8 1193.2,2234.5 1195.2,2232.3 1197.2,2233.4 1199.2,2233.3 1201.2,2232.7 1203.2,2232.7 1205.2,2233.3 1207.2,2232.6 1209.2,2232.2 1211.2,2233.4 1213.2,2232.3 1215.2,2232.0 1217.2,2232.5 1219.2,2231.1 1221.2,2229.3 1223.2,2229.6 1225.2,2228.8 1227.2,2231.4 1229.2,2232.5 1231.2,2231.8 1233.2,2231.1 1235.2,2232.7 1237.2,2232.9 1239.2,2231.8 1241.2,2232.2 1243.2,2233.3 1245.2,2232.8 1247.2,2232.4 1249.2,2231.2 1251.2,2229.9 1253.2,2231.1 1255.2,2232.4 1257.2,2232.2 1259.2,2230.4 1261.2,2231.8 1263.2,2233.1 1265.2,2232.1 1267.2,2230.2 1269.2,2229.2 1271.2,2229.8 1273.2,2229.7 1275.2,2228.3 1277.2,2227.7 1279.2,2225.9 1281.2,2224.0 1283.2,2223.8 1285.2,2225.4 1287.2,2226.7 1289.2,2228.3 1291.2,2229.6 1293.2,2229.4 1295.2,2230.3 1297.2,2231.7 1299.2,2232.6 1301.2,2232.2 1303.2,2232.3 1305.2,2233.6 1307.2,2231.8 1309.2,2231.8 1311.2,2233.0 1313.2,2232.1 1315.2,2233.1 1317.2,2232.2 1319.2,2231.7 1321.2,2232.4 1323.2,2231.0 1325.2,2232.5 1327.2,2235.1 1329.2,2235.5 1331.2,2233.2 1333.2,2232.2 1335.2,2232.2 1337.2,2231.8 1339.2,2232.5 1341.2,2232.5 1343.2,2231.8 1345.2,2232.1 1347.2,2231.2 1349.2,2230.6 1351.2,2232.6 1353.2,2232.1 1355.2,2231.1 1357.2,2230.7 1359.2,2230.7 1361.2,2231.7 1363.2,2232.9 1365.2,2232.4 1367.2,2230.8 1369.2,2230.4 1371.2,2231.0 1373.2,2232.2 1375.2,2231.8 1377.2,2231.3 1379.2,2232.2 1381.2,2231.2 1383.2,2230.8 1385.2,2229.7 1387.2,2229.1 1389.2,2231.1 1391.2,2231.3 1393.2,2229.8 1395.2,2230.9 1397.2,2229.4 1399.2,2229.2 1401.2,2230.2 1403.2,2229.2 1405.2,2228.1 1407.2,2229.6 1409.2,2230.4 1411.2,2230.3 1413.2,2229.3 1415.2,2229.7 1416,2230.4 1416.5,2230.8 1417,2231.2 1417.2,2231.4 1417.5,2231.2 1418,2230.9 1418.5,2230.5 1419,2230.2 1419.2,2230.1 1419.5,2229.5 1420,2228.4 1420.5,2227.4 1421,2226.3 1421.2,2225.9 1421.5,2225.6 1422,2225.3 1422.5,2224.8 1423,2224.3 1423.2,2224.1 1423.5,2223.9 1424,2223.4 1424.5,2222.9 1425,2222.2 1425.2,2221.9 1425.5,2221.3 1426,2220.2 1426.5,2218.9 1427,2217.3 1427.2,2216.5 1427.5,2215.4 1428,2213.1 1428.5,2210.2 1429,2206.7 1429.2,2205.1 1429.5,2202.3 1430,2197.1 1430.5,2191.7 1431,2186.7 1431.2,2185.0 1431.5,2183.1 1432,2181.9 1432.5,2183.2 1433,2186.8 1433.2,2188.7 1433.5,2191.7 1434,2197.1 1434.5,2202.1 1435,2206.6 1435.2,2208.2 1435.5,2210.5 1436,2213.9 1436.5,2216.7 1437,2219.1 1437.2,2219.9 1437.5,2220.9 1438,2222.3 1438.5,2223.4 1439,2224.4 1439.2,2224.8 1439.5,2225.3 1440,2226.0 1440.5,2226.7 1441,2227.2 1441.2,2227.4 1441.5,2227.8 1442,2228.3 1442.5,2228.8 1443,2229.2 1443.2,2229.4 1443.5,2229.4 1444,2229.5 1444.5,2229.5 1445,2229.5 1445.2,2229.5 1445.5,2229.6 1446,2229.6 1446.5,2229.7 1447,2229.7 1447.2,2229.7 1447.5,2229.9 1448,2230.3 1449.2,2231.2 1451.2,2231.2 1453.2,2230.8 1455.2,2231.3 1457.2,2232.3 1459.2,2233.0 1461.2,2233.0 1463.2,2234.0 1465.2,2233.1 1467.2,2233.3 1469.2,2233.5 1471.2,2233.9 1473.2,2232.6 1475.2,2230.9 1477.2,2230.9 1479.2,2230.3 1481.2,2228.2 1483.2,2226.9 1485.2,2227.3 1487.2,2230.3 1489.2,2233.5 1491.2,2234.5 1493.2,2235.8 1495.2,2236.0 1497.2,2237.3 1499.2,2237.6 1501.2,2236.4 1503.2,2236.3 1505.2,2235.9 1507.2,2236.3 1509.2,2235.8 1511.2,2235.4 1513.2,2235.6 1515.2,2233.5 1517.2,2230.9 1519.2,2229.4 1521.2,2230.5 1523.2,2228.6 1525.2,2227.4 1527.2,2226.2 1529.2,2224.7 1531.2,2224.6 1533.2,2225.9 1535.2,2226.6 1537.2,2226.8 1539.2,2228.7 1541.2,2230.2 1543.2,2231.4 1545.2,2233.3 1547.2,2234.0 1549.2,2233.7 1551.2,2233.6 1551.6,2233.7 1552.1,2233.9 1552.6,2234.0 1553.1,2234.1 1553.2,2234.1 1553.6,2234.1 1554.1,2234.1 1554.6,2234.0 1555.1,2234.0 1555.2,2234.0 1555.6,2233.9 1556.1,2233.7 1556.6,2233.5 1557.1,2233.3 1557.2,2233.3 1557.6,2233.4 1558.1,2233.4 1558.6,2233.5 1559.1,2233.5 1559.2,2233.5 1559.6,2232.9 1560.1,2232.0 1560.6,2231.1 1561.1,2230.1 1561.2,2229.8 1561.6,2228.9 1562.1,2227.6 1562.6,2226.2 1563.1,2224.5 1563.2,2224.1 1563.6,2222.9 1564.1,2221.2 1564.6,2219.0 1565.1,2216.5 1565.2,2215.9 1565.6,2213.6 1566.1,2210.5 1566.6,2207.8 1567.1,2205.8 1567.2,2205.5 1567.6,2205.2 1568.1,2206.3 1568.6,2208.8 1569.1,2212.1 1569.2,2212.8 1569.6,2215.3 1570.1,2218.4 1570.6,2221.1 1571.1,2223.4 1571.2,2223.9 1571.6,2225.5 1572.1,2227.3 1572.6,2228.8 1573.1,2230.0 1573.2,2230.2 1573.6,2231.5 1574.1,2232.8 1574.6,2234.1 1575.1,2235.3 1575.2,2235.5 1575.6,2235.9 1576.1,2236.5 1576.6,2237.0 1577.1,2237.4 1577.2,2237.5 1577.6,2237.4 1578.1,2237.2 1578.6,2237.1 1579.1,2236.9 1579.2,2236.8 1579.6,2237.2 1580.1,2237.6 1580.6,2237.9 1581.1,2238.3 1581.2,2238.4 1581.6,2238.7 1582.1,2239.0 1582.6,2239.4 1583.1,2239.7 1583.2,2239.8 1583.6,2239.8 1585.2,2239.7 1587.2,2240.1 1589.2,2239.0 1591.2,2238.4 1593.2,2237.9 1595.2,2238.6 1597.2,2239.6 1599.2,2240.3 1601.2,2240.1 1603.2,2240.7 1605.2,2241.0 1607.2,2241.4 1609.2,2241.6 1611.2,2239.5 1613.2,2240.3 1615.2,2241.9 1617.2,2241.2 1619.2,2240.1 1621.2,2240.5 1623.2,2240.2 1625.2,2240.7 1627.2,2240.2 1629.2,2240.0 1631.2,2239.6 1633.2,2241.9 1635.2,2242.8 1637.2,2240.8 1639.2,2239.6 1641.2,2240.4 1643.2,2241.2 1645.2,2239.8 1647.2,2239.4 1649.2,2240.0 1651.2,2240.6 1653.2,2242.0 1655.2,2242.2 1657.2,2241.4 1659.2,2241.0 1661.2,2241.0 1663.2,2241.8 1665.2,2241.9 1667.2,2243.1 1669.2,2241.2 1671.2,2240.1 1673.2,2241.3 1675.2,2241.4 1675.9,2241.2 1676.9,2240.9 1677.2,2240.9 1677.9,2240.7 1678.9,2240.4 1679.2,2240.3 1679.9,2240.1 1680.9,2239.9 1681.2,2239.8 1681.9,2239.9 1682.9,2240.1 1683.2,2240.1 1683.9,2240.2 1684.9,2240.2 1685.2,2240.2 1685.9,2240.0 1686.9,2239.7 1687.2,2239.6 1687.9,2238.9 1688.9,2237.9 1689.2,2237.6 1689.9,2236.9 1690.9,2235.8 1691.2,2235.4 1691.9,2234.5 1692.9,2233.0 1693.2,2232.5 1693.9,2231.6 1694.9,2230.0 1695.2,2229.4 1695.9,2227.9 1696.9,2225.7 1697.2,2225.2 1697.9,2224.3 1698.4,2224.1 1698.9,2224.3 1699.2,2224.7 1699.9,2225.5 1700.9,2227.3 1701.2,2227.9 1701.9,2229.6 1702.9,2231.9 1703.2,2232.4 1703.9,2233.1 1704.9,2233.7 1705.2,2233.8 1705.9,2234.1 1706.9,2234.4 1707.2,2234.4 1707.9,2235.1 1708.9,2235.9 1709.2,2236.2 1709.9,2236.2 1710.9,2236.1 1711.2,2236.0 1711.9,2236.0 1712.9,2235.9 1713.2,2235.9 1713.9,2235.5 1714.9,2235.0 1715.2,2234.9 1715.9,2235.2 1716.9,2235.6 1717.2,2235.8 1717.9,2236.4 1718.9,2237.3 1719.2,2237.5 1719.9,2238.0 1720.9,2238.6 1721.2,2238.8 1723.2,2237.7 1725.2,2237.6 1727.2,2236.8 1729.2,2236.8 1731.2,2237.6 1733.2,2236.4 1735.2,2237.2 1737.2,2238.5 1739.2,2240.5 1741.2,2239.0 1743.2,2237.2 1745.2,2238.7 1747.2,2240.8 1749.2,2240.1 1751.2,2238.5 1753.2,2239.0 1755.2,2240.5 1757.2,2241.4 1759.2,2241.6 1761.2,2240.6 1763.2,2239.1 1765.2,2240.1 1767.2,2240.8 1769.2,2241.3 1771.2,2242.4 1773.2,2241.7 1775.2,2241.2 1777.2,2241.1 1779.2,2242.4 1781.2,2242.6 1783.2,2242.5 1785.2,2241.9 1787.2,2242.3 1789.2,2241.4 1791.2,2243.8 1793.2,2244.1 1795.2,2242.4 1797.2,2242.8 1799.2,2244.1 1801.2,2243.4 1803.2,2243.3 1805.2,2243.5 1807.2,2242.0 1809.2,2243.5 1811.2,2243.7 1813.2,2244.7 1815.2,2245.4 1817.2,2243.5 1819.2,2244.1 1821.2,2245.0 1823.2,2244.7 1825.2,2243.5 1827.2,2244.1 1829.2,2244.1 1831.2,2243.5 1833.2,2244.1 1835.2,2244.9 1837.2,2245.4 1839.2,2244.5 1841.2,2243.4 1843.2,2243.2 1845.2,2244.1 1847.2,2244.2 1849.2,2244.7 1851.2,2245.3 1853.2,2245.1 1855.2,2244.2 1857.2,2244.4 1859.2,2243.2 1861.2,2242.7 1863.2,2243.9 1865.2,2245.0 1867.2,2243.3 1869.2,2242.7 1871.2,2243.2 1873.2,2243.2 1875.2,2243.6 1877.2,2244.1 1879.2,2244.8 1881.2,2244.5 1883.2,2246.0 1885.2,2245.3 1887.2,2244.7 1889.2,2245.0 1891.2,2245.0 1893.2,2244.0 1895.2,2243.7 1897.2,2244.4 1899.2,2242.9 1901.2,2242.9 1903.2,2244.1 1905.2,2244.7"/>
<polyline class="cv" stroke="#800080" points="23.2,1863.2 25.2,1864.3 27.2,1866.4 29.2,1871.4 31.2,1871.6 33.2,1874.9 35.2,1877.0 37.2,1883.9 39.2,1886.0 41.2,1885.4 43.2,1884.5 45.2,1883.1 47.2,1884.6 49.2,1883.1 51.2,1884.7 53.2,1884.1 55.2,1890.4 57.2,1891.2 59.2,1891.0 61.2,1894.1 63.2,1900.1 65.2,1902.1 67.2,1901.8 69.2,1905.2 71.2,1904.6 73.2,1901.7 75.2,1902.7 77.2,1903.3 79.2,1900.7 79.3,1900.8 79.8,1901.2 80.3,1901.6 80.8,1902.0 81.2,1902.3 81.3,1902.4 81.8,1902.8 82.3,1903.1 82.8,1903.4 83.2,1903.7 83.3,1903.6 83.8,1902.9 84.3,1902.3 84.8,1901.6 85.2,1901.1 85.3,1901.1 85.8,1901.3 86.3,1901.5 86.8,1901.6 87.2,1901.7 87.3,1901.7 87.8,1901.8 88.3,1901.9 88.8,1901.9 89.2,1901.8 89.3,1901.8 89.8,1901.5 90.3,1901.2 90.8,1900.7 91.2,1900.2 91.3,1900.1 91.8,1899.4 92.3,1898.4 92.8,1897.2 93.2,1895.8 93.3,1895.4 93.8,1893.0 94.3,1889.9 94.8,1886.1 95.2,1882.6 95.3,1881.7 95.8,1877.2 96.3,1873.7 96.8,1872.4 97.2,1873.4 97.3,1873.8 97.8,1876.9 98.3,1881.0 98.8,1885.0 99.2,1887.9 99.3,1888.5 99.8,1891.3 100.3,1893.4 100.8,1894.9 101.2,1895.9 101.3,1896.1 101.8,1897.2 102.3,1898.0 102.8,1898.6 103.2,1899.0 103.3,1899.2 103.8,1900.0 104.3,1900.8 104.8,1901.5 105.2,1902.1 105.3,1902.2 105.8,1903.0 106.3,1903.7 106.8,1904.4 107.2,1904.9 107.3,1904.9 107.8,1904.5 108.3,1904.2 108.8,1903.8 109.2,1903.5 109.3,1903.7 109.8,1904.5 110.3,1905.2 110.8,1906.0 111.2,1906.6 111.3,1906.7 111.8,1907.3 112.3,1907.9 112.8,1908.5 113.2,1908.9 113.3,1909.0 113.8,1909.4 114.3,1909.7 115.2,1910.4 117.2,1911.5 119.2,1910.6 121.2,1908.8 123.2,1908.7 125.2,1911.2 127.2,1915.1 129.2,1919.2 131.2,1920.9 133.2,1922.3 135.2,1924.2 137.2,1922.1 139.2,1919.7 141.2,1922.7 143.2,1927.6 145.2,1928.6 147.2,1929.1 149.2,1929.3 151.2,1931.9 153.2,1934.9 155.2,1936.2 157.2,1939.0 159.2,1941.3 161.2,1942.4 163.2,1943.5 165.2,1944.5 167.2,1947.9 169.2,1947.1 171.2,1946.0 173.2,1947.1 175.2,1948.3 177.2,1950.5 179.2,1953.5 181.2,1956.6 183.2,1954.7 185.2,1955.6 187.2,1959.5 189.2,1958.3 191.2,1958.7 193.2,1961.4 195.2,1958.6 197.2,1962.1 199.2,1966.2 201.2,1967.5 203.2,1969.2 205.2,1969.0 207.2,1968.3 209.2,1967.6 211.2,1972.8 213.2,1974.2 215.2,1974.7 217.2,1973.6 219.2,1973.6 221.2,1976.3 223.2,1975.9 225.2,1976.8 227.2,1976.1 229.2,1975.5 231.2,1980.0 233.2,1983.1 235.2,1981.9 237.2,1983.8 239.2,1989.1 241.2,1988.9 243.2,1988.5 245.2,1990.9 247.2,1992.1 249.2,1991.9 251.2,1994.0 253.2,1996.7 255.2,1995.7 257.2,1994.7 259.2,1996.9 261.2,1998.9 263.2,1998.7 265.2,1999.4 267.2,2000.1 269.2,2000.4 271.2,1998.5 273.2,1999.0 275.2,1999.3 277.2,2001.9 279.2,2001.6 281.2,2002.6 283.2,2003.6 285.2,2007.1 287.2,2006.6 289.2,2005.7 291.2,2005.7 293.2,2005.3 295.2,2007.0 297.2,2010.3 299.2,2012.2 301.2,2012.3 303.2,2011.6 305.2,2011.4 307.2,2012.0 309.2,2013.8 311.2,2013.0 313.2,2012.2 315.2,2013.5 316,2013.8 317,2014.2 317.2,2014.2 318,2015.4 319,2016.7 319.2,2017.0 320,2017.1 321,2017.2 321.2,2017.2 322,2016.1 323,2014.7 323.2,2014.4 324,2014.5 325,2014.4 325.2,2014.4 326,2014.8 327,2015.2 327.2,2015.2 328,2015.2 329,2015.1 329.2,2015.0 330,2014.4 331,2013.4 331.2,2013.2 332,2013.3 333,2013.0 333.2,2013.0 334,2012.7 335,2012.4 335.2,2012.3 336,2011.8 337,2012.6 337.2,2012.9 338,2014.2 339,2015.6 339.2,2015.9 340,2016.7 341,2017.3 341.2,2017.5 342,2017.4 343,2017.2 343.2,2017.1 344,2017.6 345,2018.1 345.2,2018.2 346,2018.4 346.5,2018.6 347,2018.7 347.2,2018.7 347.5,2018.9 348,2019.3 348.5,2019.7 349,2020.0 349.2,2020.1 349.5,2019.5 350,2018.5 350.5,2017.3 351,2016.2 351.2,2015.7 351.5,2014.9 352,2013.6 352.5,2012.1 353,2010.4 353.2,2009.6 353.5,2009.1 354,2007.9 354.5,2006.3 355,2004.1 355.2,2003.0 355.5,2000.6 356,1995.8 356.5,1989.4 357,1981.0 357.2,1976.9 357.5,1970.4 358,1956.6 358.5,1938.9 359,1918.6 359.2,1910.8 359.5,1900.4 360,1892.6 360.5,1900.3 361,1918.8 361.2,1927.4 361.5,1939.9 362,1958.4 362.5,1973.0 363,1983.9 363.2,1987.5 363.5,1992.6 364,1999.5 364.5,2004.9 365,2009.3 365.2,2010.8 365.5,2012.6 366,2015.2 366.5,2017.4 367,2019.2 367.2,2019.9 367.5,2020.6 368,2021.6 368.5,2022.4 369,2023.1 369.2,2023.4 369.5,2023.7 370,2024.2 370.5,2024.6 371,2024.9 371.2,2025.1 371.5,2025.1 372,2025.2 372.5,2025.2 373,2025.1 373.2,2025.1 373.5,2025.5 374,2026.1 375.2,2027.4 377.2,2030.2 379.2,2032.4 381.2,2033.1 383.2,2033.2 385.2,2033.9 387.2,2032.0 389.2,2031.5 391.2,2034.4 393.2,2036.0 395.2,2035.5 397.2,2037.5 399.2,2038.0 401.2,2036.8 403.2,2038.8 405.2,2039.6 407.2,2038.9 409.2,2038.5 411.2,2038.1 413.2,2038.4 415.2,2039.6 417.2,2039.0 419.2,2038.4 421.2,2038.9 423.2,2039.8 425.2,2043.1 427.2,2043.6 429.2,2041.3 431.2,2039.6 433.2,2041.0 435.2,2042.6 437.2,2043.0 439.2,2043.4 441.2,2042.7 443.2,2040.7 445.2,2040.7 447.2,2042.8 449.2,2043.3 451.2,2045.6 453.2,2047.0 455.2,2047.1 457.2,2046.3 459.2,2043.4 461.2,2045.5 463.2,2048.4 465.2,2047.1 467.2,2046.2 469.2,2048.4 471.2,2049.3 473.2,2049.4 475.2,2048.1 477.2,2048.4 479.2,2048.6 481.2,2045.9 483.2,2047.0 485.2,2047.9 487.2,2048.1 489.2,2046.1 491.2,2046.8 493.2,2047.7 495.2,2048.1 497.2,2046.3 499.2,2046.6 501.2,2045.9 503.2,2044.4 505.2,2041.6 507.2,2040.2 509.2,2043.3 511.2,2046.5 513.2,2048.3 515.2,2049.9 517.2,2052.0 519.2,2052.6 521.2,2053.2 523.2,2052.3 525.2,2051.6 527.2,2051.9 529.2,2052.8 531.2,2052.9 533.2,2054.6 535.2,2055.3 537.2,2054.0 539.2,2054.1 541.2,2054.6 543.2,2056.2 545.2,2057.4 547.2,2054.9 549.2,2055.8 551.2,2058.0 553.2,2058.7 555.2,2058.9 557.2,2056.5 559.2,2055.4 561.2,2055.0 563.2,2055.5 565.2,2055.5 567.2,2053.6 569.2,2053.9 571.2,2056.3 573.2,2056.1 575.2,2056.5 577.2,2056.7 579.2,2058.3 581.2,2056.7 583.2,2056.1 585.2,2057.0 587.2,2057.0 589.2,2057.6 591.2,2056.0 593.2,2056.6 595.2,2055.8 597.2,2057.6 599.2,2059.1 601.2,2057.4 603.2,2057.1 605.2,2056.3 607.2,2058.3 609.2,2058.8 611.2,2057.3 613.2,2057.3 615.2,2056.6 616,2056.6 617,2056.5 617.2,2056.5 618,2056.9 619,2057.5 619.2,2057.6 620,2057.3 621,2057.0 621.2,2057.0 622,2056.9 623,2056.8 623.2,2056.8 624,2057.1 625,2057.6 625.2,2057.6 626,2057.6 627,2057.5 627.2,2057.5 628,2056.5 629,2055.2 629.2,2055.0 630,2054.4 631,2053.7 631.2,2053.5 632,2053.1 633,2052.5 633.2,2052.3 634,2051.9 635,2051.2 635.2,2051.0 636,2050.8 637,2050.4 637.2,2050.3 638,2049.3 639,2048.0 639.2,2047.8 640,2047.0 641,2046.5 641.2,2046.4 642,2047.0 643,2048.1 643.2,2048.3 644,2049.9 645,2051.8 645.2,2052.2 646,2053.1 647,2054.1 647.2,2054.2 648,2054.1 649,2053.7 649.2,2053.6 650,2053.6 651,2053.6 651.2,2053.5 652,2053.4 653,2053.2 653.2,2053.2 654,2053.4 655,2053.7 655.2,2053.7 656,2053.8 657,2053.9 657.2,2053.9 658,2054.0 659,2054.2 659.2,2054.2 660,2054.1 661,2054.0 661.2,2054.0 662,2054.3 663,2054.7 663.2,2054.7 664,2054.5 665,2054.3 665.2,2054.3 666,2054.3 667,2054.3 667.2,2054.2 668,2054.2 669,2054.1 669.2,2054.0 670,2053.8 671,2053.5 671.2,2053.4 672,2053.2 673,2052.9 673.2,2052.9 674,2052.3 675,2051.6 675.2,2051.5 676,2051.6 677,2051.6 677.2,2051.6 678,2051.8 679,2051.9 679.2,2051.9 680,2051.2 681,2050.3 681.2,2050.1 682,2049.0 683,2047.5 683.2,2047.2 684,2046.7 685,2046.2 685.2,2046.1 686,2046.0 687,2046.2 687.2,2046.4 688,2047.0 689,2048.0 689.2,2048.2 690,2049.2 691,2050.3 691.2,2050.6 692,2051.5 693,2052.6 693.2,2052.8 694,2053.1 695,2053.5 695.2,2053.5 696,2053.5 697,2053.3 697.2,2053.3 698,2053.5 699,2053.7 699.2,2053.8 700,2054.2 701,2054.6 701.2,2054.7 702,2054.8 703,2054.8 703.2,2054.8 704,2054.4 705,2053.8 705.2,2053.7 706,2053.7 707,2053.7 707.2,2053.7 708,2053.9 709,2054.2 709.2,2054.2 710,2053.8 711,2053.3 711.2,2053.2 713.2,2054.8 715.2,2055.1 717.2,2054.3 719.2,2053.7 721.2,2053.1 723.2,2052.2 725.2,2052.8 727.2,2052.9 729.2,2051.6 731.2,2052.1 733.2,2051.4 735.2,2049.6 736.3,2048.8 736.8,2048.5 737.2,2048.2 737.3,2048.2 737.8,2048.4 738.3,2048.6 738.8,2048.8 739.2,2048.9 739.3,2048.9 739.8,2048.7 740.3,2048.5 740.8,2048.3 741.2,2048.1 741.3,2048.0 741.8,2047.5 742.3,2046.9 742.8,2046.3 743.2,2045.9 743.3,2045.8 743.8,2045.6 744.3,2045.4 744.8,2045.0 745.2,2044.7 745.3,2044.6 745.8,2043.9 746.3,2043.0 746.8,2042.0 747.2,2041.0 747.3,2040.6 747.8,2038.5 748.3,2036.0 748.8,2033.0 749.2,2030.1 749.3,2029.3 749.8,2025.3 750.3,2020.9 750.8,2017.1 751.2,2015.3 751.3,2015.2 751.8,2016.5 752.3,2019.6 752.8,2023.3 753.2,2025.9 753.3,2026.4 753.8,2028.4 754.3,2029.7 754.8,2030.5 755.2,2030.7 755.3,2030.7 755.8,2030.3 756.3,2029.7 756.8,2028.8 757.2,2028.0 757.3,2027.9 757.8,2027.4 758.3,2026.7 758.8,2025.9 759.2,2025.2 759.3,2025.1 759.8,2024.4 760.3,2023.5 760.8,2022.7 761.2,2022.0 761.3,2021.7 761.8,2020.2 762.3,2018.7 762.8,2017.1 763.2,2015.9 763.3,2015.5 763.8,2013.8 764.3,2012.1 764.8,2010.3 765.2,2009.0 765.3,2008.7 765.8,2007.5 766.3,2006.2 767.2,2004.1 769.2,1999.4 771.2,1995.9 773.2,1994.7 775.2,1992.8 777.2,1992.8 779.2,1994.7 781.2,1996.3 783.2,2002.7 785.2,2008.1 787.2,2013.5 789.2,2019.6 791.2,2025.5 793.2,2029.3 795.2,2032.5 797.2,2035.1 799.2,2038.0 801.2,2040.6 803.2,2042.2 805.2,2043.6 807.2,2045.2 809.2,2045.6 811.2,2045.3 813.2,2046.3 815.2,2049.3 817.2,2049.2 819.2,2048.8 821.2,2050.0 823.2,2048.3 825.2,2049.4 827.2,2051.5 829.2,2051.3 831.2,2051.0 833.2,2051.7 835.2,2050.5 837.2,2050.2 839.2,2052.7 841.2,2052.0 843.2,2051.9 845.2,2051.7 847.2,2050.4 849.2,2051.2 850,2051.9 851,2052.8 851.2,2053.0 852,2052.8 853,2052.6 853.2,2052.6 854,2052.7 855,2052.9 855.2,2053.0 856,2053.1 857,2053.3 857.2,2053.4 858,2052.6 859,2051.6 859.2,2051.4 860,2051.3 861,2051.0 861.2,2051.0 862,2051.7 863,2052.5 863.2,2052.7 864,2052.2 865,2051.4 865.2,2051.3 866,2050.3 867,2049.0 867.2,2048.8 868,2048.9 869,2048.9 869.2,2048.9 870,2048.9 871,2048.7 871.2,2048.7 872,2047.8 873,2046.7 873.2,2046.4 874,2045.9 875,2045.6 875.2,2045.7 876,2046.0 877,2046.7 877.2,2046.9 878,2047.0 879,2046.9 879.2,2046.8 880,2046.2 881,2045.0 881.2,2044.7 882,2044.1 883,2043.3 883.2,2043.1 884,2043.2 885,2043.8 885.2,2044.0 886,2044.7 887,2046.1 887.2,2046.4 888,2047.5 889,2048.9 889.2,2049.1 890,2050.0 891,2051.0 891.2,2051.1 892,2051.8 893,2052.4 893.2,2052.5 894,2053.1 895,2053.7 895.2,2053.9 896,2054.1 897,2054.3 897.2,2054.3 898,2055.3 899,2056.5 899.2,2056.7 900,2057.7 901,2059.0 901.2,2059.2 902,2058.6 903,2057.8 903.2,2057.6 904,2057.6 905,2057.6 905.2,2057.6 906,2057.9 907,2058.3 907.2,2058.4 908,2058.0 909,2057.5 909.2,2057.4 910,2057.3 911.2,2057.1 913.2,2058.3 915.2,2058.9 917.2,2058.4 919.2,2057.0 921.2,2057.2 923.2,2058.5 925.2,2058.9 927.2,2061.0 929.2,2060.3 931.2,2058.2 933.2,2059.7 935.2,2059.2 937.2,2059.0 937.7,2058.9 938.2,2058.7 938.7,2058.5 939.2,2058.3 939.7,2057.6 940.2,2056.8 940.7,2056.0 941.2,2055.1 941.7,2054.6 942.2,2054.0 942.7,2053.3 943.2,2052.5 943.7,2051.7 944.2,2050.8 944.7,2049.6 945.2,2048.3 945.7,2046.7 946.2,2044.8 946.7,2042.4 947.2,2039.4 947.7,2035.5 948.2,2030.5 948.7,2023.9 949.2,2015.2 949.7,2003.6 950.2,1988.6 950.7,1970.1 951.2,1949.9 951.7,1932.6 952.2,1925.5 952.7,1932.4 953.2,1949.5 953.7,1970.0 954.2,1988.7 954.7,2004.0 955.2,2015.8 955.7,2025.0 956.2,2032.0 956.7,2037.5 957.2,2041.8 957.7,2045.3 958.2,2048.2 958.7,2050.6 959.2,2052.6 959.7,2053.9 960.2,2054.9 960.7,2055.8 961.2,2056.5 961.7,2057.2 962.2,2057.8 962.7,2058.3 963.2,2058.7 963.7,2059.0 964.2,2059.2 964.7,2059.3 965.2,2059.5 965.7,2059.8 966.2,2060.1 966.7,2060.4 967.2,2060.7 969.2,2061.5 971.2,2061.9 973.2,2062.1 975.2,2061.9 977.2,2060.5 979.2,2062.2 981.2,2064.2 983.2,2063.3 985.2,2063.1 987.2,2064.3 989.2,2065.3 991.2,2064.9 993.2,2064.5 995.2,2064.3 997.2,2064.2 999.2,2063.2 1001.2,2063.0 1003.2,2064.2 1005.2,2064.4 1007.2,2064.8 1009.2,2065.3 1011.2,2063.7 1013.2,2064.4 1015.2,2065.5 1017.2,2064.5 1019.2,2065.3 1021.2,2066.1 1023.2,2065.5 1025.2,2066.0 1027.2,2067.7 1029.2,2067.7 1031.2,2068.1 1033.2,2066.4 1035.2,2066.1 1037.2,2066.1 1038,2066.2 1039,2066.4 1039.2,2066.5 1040,2066.5 1041,2066.5 1041.2,2066.5 1042,2067.1 1043,2067.7 1043.2,2067.9 1044,2068.4 1045,2069.0 1045.2,2069.1 1046,2068.5 1047,2067.8 1047.2,2067.7 1048,2067.1 1049,2066.4 1049.2,2066.2 1050,2066.5 1051,2066.9 1051.2,2067.0 1052,2066.9 1053,2066.8 1053.2,2066.8 1054,2066.2 1055,2065.4 1055.2,2065.2 1056,2065.1 1057,2064.8 1057.2,2064.7 1058,2063.7 1059,2062.2 1059.2,2061.9 1060,2061.7 1061,2061.4 1061.2,2061.3 1062,2060.8 1063,2060.6 1063.2,2060.7 1064,2061.1 1065,2062.2 1065.2,2062.4 1066,2063.5 1067,2064.8 1067.2,2065.1 1068,2066.4 1069,2068.0 1069.2,2068.3 1070,2069.1 1071,2070.0 1071.2,2070.1 1072,2070.1 1073,2069.9 1073.2,2069.8 1074,2070.0 1075,2070.2 1075.2,2070.3 1076,2070.6 1077,2071.0 1077.2,2071.0 1078,2070.9 1079,2070.7 1079.2,2070.6 1080,2070.8 1081,2071.1 1081.2,2071.1 1082,2071.7 1083,2072.4 1083.2,2072.5 1084,2072.4 1085,2072.3 1085.2,2072.3 1086,2072.3 1086.8,2072.3 1087,2072.3 1087.2,2072.3 1087.8,2072.0 1088,2071.9 1088.8,2071.5 1089.2,2071.4 1089.8,2071.4 1090.8,2071.4 1091.2,2071.4 1091.8,2071.2 1092.8,2070.9 1093.2,2070.8 1093.8,2070.7 1094.8,2070.5 1095.2,2070.4 1095.8,2071.0 1096.8,2072.0 1097.2,2072.4 1097.8,2072.3 1098.8,2072.2 1099.2,2072.1 1099.8,2071.7 1100.8,2071.1 1101.2,2070.8 1101.8,2070.7 1102.8,2070.5 1103.2,2070.4 1103.8,2070.4 1104.8,2070.4 1105.2,2070.3 1105.8,2069.7 1106.8,2068.6 1107.2,2068.2 1107.8,2067.3 1108.8,2065.8 1109.2,2065.2 1109.8,2064.9 1110.8,2064.6 1111.2,2064.7 1111.8,2064.9 1112.8,2065.9 1113.2,2066.5 1113.8,2067.2 1114.8,2068.6 1115.2,2069.1 1115.8,2069.7 1116.8,2070.6 1117.2,2070.9 1117.8,2071.9 1118.8,2073.3 1119.2,2073.9 1119.8,2074.2 1120.8,2074.6 1121.2,2074.7 1121.8,2074.6 1122.8,2074.2 1123.2,2074.1 1123.8,2074.3 1124.8,2074.5 1125.2,2074.6 1125.8,2074.3 1126.8,2073.8 1127.2,2073.6 1127.8,2073.9 1128.8,2074.3 1129.2,2074.4 1129.8,2074.8 1130.8,2075.5 1131.2,2075.8 1131.8,2075.7 1132.8,2075.6 1133.2,2075.5 1133.8,2075.7 1134.8,2076.0 1135.2,2076.1 1135.8,2076.5 1136.8,2077.1 1137.2,2077.4 1139.2,2077.1 1141.2,2076.6 1143.2,2074.9 1145.2,2076.0 1147.2,2077.1 1149.2,2076.3 1151.2,2076.8 1153.2,2076.5 1155.2,2076.4 1157.2,2077.7 1159.2,2078.2 1161.2,2077.2 1163.2,2077.7 1165.2,2077.6 1167.2,2077.9 1169.2,2077.1 1171.2,2076.5 1173.2,2077.3 1175.2,2079.2 1177.2,2078.2 1179.2,2077.8 1181.2,2077.0 1183.2,2077.1 1185.2,2078.2 1187.2,2078.2 1189.2,2077.7 1191.2,2078.9 1193.2,2080.4 1195.2,2078.3 1197.2,2078.2 1199.2,2078.3 1201.2,2077.2 1203.2,2076.5 1205.2,2076.4 1207.2,2077.8 1208.8,2077.7 1209.2,2077.7 1209.8,2077.8 1210.8,2078.0 1211.2,2078.1 1211.8,2078.6 1212.8,2079.4 1213.2,2079.7 1213.8,2079.4 1214.8,2078.8 1215.2,2078.5 1215.8,2078.8 1216.8,2079.1 1217.2,2079.3 1217.8,2078.9 1218.8,2078.2 1219.2,2078.0 1219.8,2077.7 1220.8,2077.1 1221.2,2076.9 1221.8,2076.7 1222.8,2076.3 1223.2,2076.1 1223.8,2076.0 1224.8,2075.6 1225.2,2075.5 1225.8,2075.0 1226.8,2074.1 1227.2,2073.7 1227.8,2072.9 1228.8,2071.6 1229.2,2071.0 1229.8,2070.1 1230.8,2069.0 1231.2,2068.8 1231.3,2068.8 1231.8,2069.0 1232.8,2070.0 1233.2,2070.6 1233.8,2071.4 1234.8,2072.6 1235.2,2073.1 1235.8,2073.6 1236.8,2074.4 1237.2,2074.6 1237.8,2075.1 1238.8,2075.6 1239.2,2075.8 1239.8,2076.3 1240.8,2077.0 1241.2,2077.3 1241.8,2077.6 1242.8,2078.1 1243.2,2078.2 1243.8,2078.1 1244.8,2077.8 1245.2,2077.7 1245.8,2077.4 1246.8,2076.8 1247.2,2076.6 1247.8,2076.4 1248.8,2076.1 1249.2,2075.9 1249.8,2076.5 1250.8,2077.4 1251.2,2077.8 1251.8,2078.3 1252.8,2079.0 1253.2,2079.3 1253.8,2079.1 1254.8,2078.7 1255.2,2078.6 1255.8,2078.1 1256.8,2077.4 1257.2,2077.1 1257.8,2077.0 1258.8,2076.9 1259.2,2076.9 1259.8,2076.3 1260.8,2075.4 1261.2,2075.0 1261.8,2075.0 1262.8,2075.0 1263.2,2075.0 1263.8,2074.8 1264.5,2074.6 1264.8,2074.4 1265.2,2074.2 1265.5,2074.1 1265.8,2074.0 1266.5,2073.7 1266.8,2073.5 1267.2,2073.2 1267.5,2073.1 1267.8,2072.9 1268.5,2072.5 1268.8,2072.3 1269.2,2072.0 1269.5,2071.8 1269.8,2071.6 1270.5,2071.4 1270.8,2071.5 1271.2,2071.7 1271.5,2071.7 1271.8,2071.7 1272.5,2072.0 1272.8,2072.2 1273.2,2072.4 1273.5,2072.7 1273.8,2072.9 1274.5,2073.5 1274.8,2073.6 1275.2,2073.8 1275.5,2074.0 1275.8,2074.2 1276.5,2074.5 1276.8,2074.5 1277.2,2074.6 1277.5,2074.5 1277.8,2074.4 1278.5,2074.0 1278.8,2073.8 1279.2,2073.5 1279.5,2073.2 1279.8,2072.9 1280.5,2072.1 1280.8,2071.7 1281.2,2071.0 1281.5,2070.7 1281.8,2070.3 1282.5,2069.3 1282.8,2068.8 1283.2,2068.3 1283.5,2068.0 1283.8,2067.8 1284.5,2067.8 1284.8,2068.0 1285.2,2068.4 1285.5,2068.8 1285.8,2069.3 1286.5,2070.6 1286.8,2071.2 1287.2,2072.0 1287.5,2072.6 1287.8,2073.1 1288.5,2074.2 1288.8,2074.6 1289.2,2075.2 1289.5,2075.4 1289.8,2075.6 1290.5,2075.9 1290.8,2076.0 1291.2,2076.2 1291.5,2076.1 1292.5,2075.6 1293.2,2075.3 1293.5,2075.5 1294.5,2076.4 1295.2,2077.0 1295.5,2077.2 1296.5,2078.1 1297.2,2078.7 1297.5,2078.8 1298.5,2078.8 1299.2,2078.8 1299.5,2078.8 1300.5,2078.7 1301.2,2078.7 1301.5,2078.5 1302.5,2077.8 1303.2,2077.3 1303.5,2077.2 1304.5,2076.7 1305.2,2076.5 1307.2,2078.5 1309.2,2079.6 1311.2,2080.8 1313.2,2080.6 1315.2,2079.1 1317.2,2079.8 1319.2,2079.9 1320,2079.6 1321,2079.2 1321.2,2079.1 1322,2079.4 1323,2079.8 1323.2,2079.9 1324,2079.8 1325,2079.7 1325.2,2079.6 1326,2079.3 1327,2078.9 1327.2,2078.8 1328,2078.5 1329,2078.1 1329.2,2078.0 1330,2078.2 1331,2078.4 1331.2,2078.5 1332,2078.0 1333,2077.4 1333.2,2077.3 1334,2077.4 1335,2077.6 1335.2,2077.6 1336,2077.3 1337,2076.9 1337.2,2076.8 1338,2076.0 1339,2074.8 1339.2,2074.6 1340,2073.5 1341,2072.0 1341.2,2071.6 1342,2070.3 1343,2068.7 1343.2,2068.3 1344,2067.4 1345,2066.8 1345.2,2066.8 1346,2067.3 1347,2068.5 1347.2,2068.7 1348,2069.5 1349,2070.3 1349.2,2070.4 1350,2070.7 1351,2070.7 1351.2,2070.7 1352,2070.7 1353,2070.4 1353.2,2070.3 1354,2070.2 1355,2070.0 1355.2,2069.9 1356,2068.9 1357,2068.0 1357.2,2067.8 1358,2067.4 1359,2067.5 1359.2,2067.6 1360,2068.5 1361,2069.8 1361.2,2070.0 1362,2071.0 1363,2072.1 1363.2,2072.3 1364,2072.9 1365,2073.4 1365.2,2073.5 1366,2073.9 1367,2074.3 1367.2,2074.4 1368,2074.4 1369,2074.4 1369.2,2074.4 1370,2074.5 1371,2074.6 1371.2,2074.7 1372,2074.8 1373,2075.0 1373.2,2075.0 1374,2075.5 1375,2076.2 1375.2,2076.3 1376,2076.4 1377,2076.5 1377.2,2076.5 1378,2076.5 1379,2076.5 1379.2,2076.5 1380,2075.9 1381,2075.1 1381.2,2075.0 1382,2075.1 1383,2075.3 1383.2,2075.3 1385.2,2073.9 1387.2,2074.8 1389.2,2075.7 1391.2,2074.8 1393.2,2075.9 1395,2075.5 1395.2,2075.5 1396,2075.1 1397,2074.6 1397.2,2074.5 1398,2074.4 1399,2074.2 1399.2,2074.2 1400,2074.0 1401,2073.9 1401.2,2073.8 1402,2073.5 1403,2073.2 1403.2,2073.1 1404,2073.3 1405,2073.6 1405.2,2073.6 1406,2074.1 1407,2074.7 1407.2,2074.8 1408,2074.3 1409,2073.4 1409.2,2073.3 1410,2072.0 1411,2070.3 1411.2,2069.9 1412,2069.3 1413,2068.5 1413.2,2068.3 1414,2067.5 1415,2067.3 1415.2,2067.3 1416,2067.7 1417,2068.8 1417.2,2069.1 1418,2070.1 1418.5,2070.6 1419,2071.1 1419.2,2071.2 1419.5,2071.7 1420,2072.3 1420.5,2072.9 1421,2073.5 1421.2,2073.7 1421.5,2073.8 1422,2074.1 1422.5,2074.2 1423,2074.3 1423.2,2074.3 1423.5,2074.2 1424,2074.0 1424.5,2073.7 1425,2073.3 1425.2,2073.2 1425.5,2073.0 1426,2072.7 1426.5,2072.2 1427,2071.6 1427.2,2071.4 1427.5,2070.6 1428,2069.2 1428.5,2067.5 1429,2065.6 1429.2,2064.7 1429.5,2063.5 1430,2061.1 1430.5,2058.2 1431,2054.7 1431.2,2053.1 1431.5,2050.5 1432,2045.6 1432.5,2040.5 1433,2035.8 1433.2,2034.2 1433.5,2032.6 1434,2031.7 1434.5,2033.3 1435,2037.1 1435.2,2039.1 1435.5,2042.0 1436,2047.1 1436.5,2052.0 1437,2056.4 1437.2,2057.9 1437.5,2060.0 1438,2063.0 1438.5,2065.4 1439,2067.4 1439.2,2068.1 1439.5,2069.0 1440,2070.1 1440.5,2071.1 1441,2071.8 1441.2,2072.1 1441.5,2072.6 1442,2073.4 1442.5,2074.1 1443,2074.7 1443.2,2074.9 1443.5,2075.3 1444,2075.9 1444.5,2076.5 1445,2077.0 1445.2,2077.2 1445.5,2077.3 1446,2077.5 1446.5,2077.6 1447,2077.6 1447.2,2077.7 1447.5,2077.9 1448,2078.3 1448.5,2078.7 1449,2079.0 1449.2,2079.1 1449.5,2079.2 1450,2079.4 1451.2,2079.7 1453,2078.5 1453.2,2078.3 1453.5,2078.2 1454,2078.1 1454.5,2077.9 1455,2077.8 1455.2,2077.7 1455.5,2077.8 1456,2077.9 1456.5,2078.0 1457,2078.1 1457.2,2078.2 1457.5,2078.1 1458,2078.0 1458.5,2077.9 1459,2077.8 1459.2,2077.8 1459.5,2077.4 1460,2076.7 1460.5,2076.1 1461,2075.3 1461.2,2075.0 1461.5,2074.9 1462,2074.7 1462.5,2074.4 1463,2074.0 1463.2,2073.8 1463.5,2073.6 1464,2073.0 1464.5,2072.2 1465,2071.1 1465.2,2070.6 1465.5,2069.8 1466,2068.2 1466.5,2066.4 1467,2064.8 1467.2,2064.2 1467.5,2063.3 1468,2062.5 1468.5,2062.8 1469,2064.0 1469.2,2064.7 1469.5,2065.7 1470,2067.4 1470.5,2069.0 1471,2070.3 1471.2,2070.7 1471.5,2071.6 1472,2072.7 1472.5,2073.6 1473,2074.4 1473.2,2074.6 1473.5,2075.1 1474,2075.7 1474.5,2076.2 1475,2076.7 1475.2,2076.8 1475.5,2077.1 1476,2077.4 1476.5,2077.8 1477,2078.1 1477.2,2078.2 1477.5,2078.2 1478,2078.2 1478.5,2078.2 1479,2078.1 1479.2,2078.1 1479.5,2078.1 1480,2078.1 1480.5,2078.1 1481,2078.0 1481.2,2078.0 1481.5,2078.2 1482,2078.4 1482.5,2078.5 1483,2078.7 1483.2,2078.8 1485.2,2079.6 1487.2,2079.0 1489.2,2078.6 1491.2,2080.7 1493.2,2080.3 1495.2,2080.1 1497.2,2080.9 1499.2,2081.1 1501.2,2081.2 1503.2,2080.5 1505.2,2078.7 1507.2,2077.9 1509.2,2078.2 1511.2,2077.6 1513.2,2077.1 1515.2,2077.7 1517.2,2076.3 1519.2,2074.9 1521.2,2073.6 1523.2,2071.7 1525.2,2070.2 1527.2,2070.1 1529.2,2069.6 1531.2,2069.5 1533.2,2069.6 1535.2,2070.9 1537.2,2071.7 1539.2,2072.9 1541.2,2073.9 1543.2,2073.6 1545.2,2076.0 1547.2,2078.4 1549.2,2077.5 1551.2,2076.6 1552.6,2077.5 1553.1,2077.8 1553.2,2077.9 1553.6,2078.3 1554.1,2078.7 1554.6,2079.2 1555.1,2079.6 1555.2,2079.7 1555.6,2079.9 1556.1,2080.2 1556.6,2080.5 1557.1,2080.7 1557.2,2080.7 1557.6,2080.0 1558.1,2079.2 1558.6,2078.2 1559.1,2077.3 1559.2,2077.1 1559.6,2076.6 1560.1,2075.9 1560.6,2075.1 1561.1,2074.3 1561.2,2074.2 1561.6,2074.1 1562.1,2074.0 1562.6,2073.8 1563.1,2073.4 1563.2,2073.3 1563.6,2072.6 1564.1,2071.6 1564.6,2070.3 1565.1,2068.8 1565.2,2068.4 1565.6,2066.8 1566.1,2064.6 1566.6,2062.0 1567.1,2059.3 1567.2,2058.7 1567.6,2057.0 1568.1,2055.6 1568.6,2055.3 1569.1,2056.4 1569.2,2056.7 1569.6,2058.2 1570.1,2060.5 1570.6,2063.1 1571.1,2065.6 1571.2,2066.1 1571.6,2067.8 1572.1,2069.8 1572.6,2071.3 1573.1,2072.6 1573.2,2072.8 1573.6,2073.8 1574.1,2074.7 1574.6,2075.5 1575.1,2076.2 1575.2,2076.3 1575.6,2076.8 1576.1,2077.4 1576.6,2077.9 1577.1,2078.3 1577.2,2078.4 1577.6,2079.1 1578.1,2079.9 1578.6,2080.7 1579.1,2081.4 1579.2,2081.6 1579.6,2081.6 1580.1,2081.7 1580.6,2081.7 1581.1,2081.7 1581.2,2081.7 1581.6,2081.7 1582.1,2081.7 1582.6,2081.7 1583.1,2081.6 1583.2,2081.6 1583.6,2081.5 1584.1,2081.5 1584.6,2081.4 1585.2,2081.3 1587.2,2082.6 1589.2,2083.0 1591.2,2080.6 1593.2,2082.5 1595.2,2084.9 1597.2,2083.4 1599.2,2081.6 1601.2,2081.6 1603.2,2081.3 1605.2,2079.7 1607.2,2081.6 1609.2,2083.2 1611.2,2083.3 1613.2,2082.5 1615.2,2082.3 1617.2,2082.6 1619.2,2082.5 1621.2,2082.9 1623.2,2083.1 1625.2,2080.8 1627.2,2081.7 1629.2,2082.6 1631.2,2082.6 1633.2,2083.5 1635.2,2082.9 1637.2,2082.1 1639.2,2082.7 1641.2,2082.5 1643.2,2082.2 1645.2,2082.6 1647.2,2083.5 1649.2,2084.4 1651.2,2082.9 1653.2,2082.7 1655.2,2082.0 1657.2,2083.2 1659.2,2083.7 1661.2,2082.7 1663.2,2082.0 1665.2,2081.6 1667.2,2081.4 1669.2,2083.1 1671.2,2083.1 1673.2,2082.7 1675.2,2082.2 1676.5,2082.6 1677.2,2082.8 1677.5,2082.8 1678.5,2082.9 1679.2,2083.0 1679.5,2083.0 1680.5,2082.9 1681.2,2082.9 1681.5,2083.0 1682.5,2083.2 1683.2,2083.4 1683.5,2083.0 1684.5,2081.5 1685.2,2080.5 1685.5,2080.3 1686.5,2079.5 1687.2,2079.0 1687.5,2079.1 1688.5,2079.3 1689.2,2079.4 1689.5,2079.6 1690.5,2079.9 1691.2,2080.1 1691.5,2079.9 1692.5,2078.9 1693.2,2078.1 1693.5,2077.7 1694.5,2076.4 1695.2,2075.3 1695.5,2075.1 1696.5,2074.2 1697.2,2073.5 1697.5,2073.1 1698.5,2072.3 1699,2072.2 1699.2,2072.3 1699.5,2072.3 1700.5,2072.9 1701.2,2073.8 1701.5,2074.3 1702.5,2076.2 1703.2,2077.3 1703.5,2077.6 1704.5,2078.3 1705.2,2078.6 1705.5,2078.8 1706.5,2079.5 1707.2,2079.8 1707.5,2080.3 1708.5,2081.6 1709.2,2082.5 1709.5,2082.7 1710.5,2083.0 1711.2,2083.2 1711.5,2082.9 1712.5,2081.8 1713.2,2081.0 1713.5,2081.0 1714.5,2080.8 1715.2,2080.6 1715.5,2080.5 1716.5,2080.1 1717.2,2079.8 1717.5,2079.6 1718.5,2078.9 1719.2,2078.4 1719.5,2078.3 1720.5,2077.9 1721.2,2077.7 1721.5,2077.6 1723.2,2077.4 1725.2,2077.4 1727.2,2076.9 1729.2,2077.9 1731.2,2080.8 1733.2,2082.2 1735.2,2082.5 1737.2,2083.9 1739.2,2085.2 1741.2,2085.1 1743.2,2084.3 1745.2,2083.0 1747.2,2084.6 1749.2,2084.4 1751.2,2085.2 1753.2,2085.4 1755.2,2085.2 1757.2,2084.5 1759.2,2085.4 1761.2,2085.9 1763.2,2084.8 1765.2,2084.7 1767.2,2084.5 1769.2,2084.8 1771.2,2087.6 1773.2,2087.6 1775.2,2087.1 1777.2,2087.0 1779.2,2086.8 1781.2,2086.7 1783.2,2087.3 1785.2,2088.4 1787.2,2089.0 1789.2,2087.8 1791.2,2087.8 1793.2,2087.6 1795.2,2088.0 1797.2,2087.8 1799.2,2088.9 1801.2,2089.9 1803.2,2090.3 1805.2,2090.0 1807.2,2091.2 1809.2,2090.6 1811.2,2090.1 1813.2,2089.5 1815.2,2090.3 1817.2,2089.5 1819.2,2088.1 1821.2,2086.7 1823.2,2086.9 1825.2,2088.2 1827.2,2089.0 1829.2,2088.5 1831.2,2088.2 1833.2,2089.6 1835.2,2090.2 1837.2,2090.1 1839.2,2091.6 1841.2,2091.2 1843.2,2089.9 1845.2,2089.2 1847.2,2089.2 1849.2,2090.3 1851.2,2090.8 1853.2,2090.3 1855.2,2089.7 1857.2,2089.7 1859.2,2087.9 1861.2,2088.0 1863.2,2088.4 1865.2,2089.2 1867.2,2089.7 1869.2,2089.4 1871.2,2088.6 1873.2,2088.9 1875.2,2089.8 1877.2,2089.0 1879.2,2088.4 1881.2,2087.0 1883.2,2086.0 1885.2,2087.7 1887.2,2087.6 1889.2,2088.5 1891.2,2088.8 1893.2,2087.9 1895.2,2086.4 1897.2,2087.4 1899.2,2087.5 1901.2,2086.3 1903.2,2085.7 1905.2,2085.9"/>
<polyline class="cv" stroke="#800000" points="23.2,1692.9 25.2,1698.6 27.2,1698.6 29.2,1699.7 31.2,1702.5 33.2,1700.4 35.2,1704.1 37.2,1706.4 39.2,1711.8 41.2,1710.3 43.2,1710.2 45.2,1717.6 47.2,1718.1 49.2,1716.7 51.2,1712.4 53.2,1714.5 55.2,1721.2 57.2,1722.7 59.2,1721.4 61.2,1724.9 63.2,1725.6 65.2,1729.0 67.2,1731.2 69.2,1724.8 71.2,1724.5 73.2,1728.4 75.2,1732.1 77.2,1733.2 79.2,1733.3 80.5,1734.4 81,1734.9 81.2,1735.0 81.5,1734.8 82,1734.5 82.5,1734.2 83,1733.9 83.2,1733.7 83.5,1734.0 84,1734.5 84.5,1734.9 85,1735.3 85.2,1735.5 85.5,1736.0 86,1736.9 86.5,1737.7 87,1738.6 87.2,1738.9 87.5,1738.7 88,1738.3 88.5,1737.8 89,1737.3 89.2,1737.1 89.5,1736.6 90,1735.8 90.5,1734.8 91,1733.8 91.2,1733.4 91.5,1732.9 92,1732.0 92.5,1731.0 93,1729.8 93.2,1729.2 93.5,1729.2 94,1728.9 94.5,1728.1 95,1726.8 95.2,1726.1 95.5,1724.0 96,1719.9 96.5,1715.2 97,1710.4 97.2,1708.8 97.5,1706.2 98,1703.9 98.5,1704.4 99,1707.2 99.2,1708.6 99.5,1711.6 100,1716.3 100.5,1720.5 101,1724.1 101.2,1725.3 101.5,1726.7 102,1728.7 102.5,1730.2 103,1731.4 103.2,1731.8 103.5,1732.7 104,1734.1 104.5,1735.3 105,1736.4 105.2,1736.8 105.5,1737.9 106,1739.5 106.5,1741.0 107,1742.6 107.2,1743.2 107.5,1743.5 108,1744.1 108.5,1744.6 109,1745.2 109.2,1745.4 109.5,1745.9 110,1746.7 110.5,1747.5 111,1748.2 111.2,1748.6 111.5,1748.5 112,1748.3 112.5,1748.2 113,1748.0 113.2,1748.0 113.5,1748.1 114,1748.2 114.5,1748.3 115,1748.5 115.2,1748.5 115.5,1748.5 117.2,1748.1 119.2,1749.6 121.2,1752.4 123.2,1752.2 125.2,1754.5 127.2,1755.2 129.2,1755.2 131.2,1756.6 133.2,1758.4 135.2,1763.3 137.2,1761.5 139.2,1761.0 141.2,1762.5 143.2,1762.6 145.2,1764.5 147.2,1768.2 149.2,1769.4 151.2,1770.7 153.2,1771.3 155.2,1768.1 157.2,1768.0 159.2,1774.4 161.2,1776.5 163.2,1774.4 165.2,1775.5 167.2,1780.1 169.2,1782.2 171.2,1781.6 173.2,1782.9 175.2,1783.8 177.2,1785.6 179.2,1790.9 181.2,1789.8 183.2,1787.6 185.2,1789.8 187.2,1794.9 189.2,1797.8 191.2,1798.2 193.2,1799.1 195.2,1802.7 197.2,1805.4 199.2,1803.9 201.2,1805.8 203.2,1807.6 205.2,1806.7 207.2,1809.3 209.2,1810.9 211.2,1813.3 213.2,1815.2 215.2,1815.4 217.2,1815.0 219.2,1816.3 221.2,1817.6 223.2,1819.6 225.2,1822.2 227.2,1823.0 229.2,1824.4 231.2,1827.9 233.2,1827.5 235.2,1827.7 237.2,1827.0 239.2,1828.7 241.2,1834.0 243.2,1835.0 245.2,1834.4 247.2,1835.5 249.2,1835.1 251.2,1835.8 253.2,1839.2 255.2,1840.1 257.2,1839.0 259.2,1841.5 261.2,1842.8 263.2,1842.5 265.2,1842.6 267.2,1843.0 269.2,1845.3 271.2,1845.8 273.2,1847.8 275.2,1849.1 277.2,1848.2 279.2,1848.0 281.2,1849.0 283.2,1851.2 285.2,1853.3 287.2,1856.7 289.2,1855.6 291.2,1853.1 293.2,1856.5 295.2,1857.6 297.2,1857.7 299.2,1856.1 301.2,1858.1 303.2,1860.3 305.2,1860.4 307.2,1858.6 309.2,1860.2 311.2,1863.1 313.2,1864.7 315.2,1863.4 315.5,1863.2 316,1862.8 316.5,1862.4 317,1862.0 317.2,1861.8 317.5,1862.1 318,1862.5 318.5,1862.9 319,1863.3 319.2,1863.4 319.5,1863.6 320,1863.8 320.5,1864.0 321,1864.2 321.2,1864.3 321.5,1864.0 322,1863.5 322.5,1863.0 323,1862.5 323.2,1862.2 323.5,1862.1 324,1861.9 324.5,1861.7 325,1861.4 325.2,1861.3 325.5,1861.2 326,1861.1 326.5,1860.9 327,1860.5 327.2,1860.3 327.5,1859.9 328,1859.1 328.5,1857.9 329,1856.4 329.2,1855.7 329.5,1853.7 330,1850.0 330.5,1845.5 331,1840.2 331.2,1837.9 331.5,1834.6 332,1829.1 332.5,1824.8 333,1822.9 333.2,1823.1 333.5,1824.7 334,1829.3 334.5,1834.9 335,1840.6 335.2,1842.7 335.5,1845.4 336,1849.2 336.5,1852.3 337,1854.8 337.2,1855.6 337.5,1857.2 338,1859.5 338.5,1861.6 339,1863.4 339.2,1864.1 339.5,1864.6 340,1865.3 340.5,1865.9 341,1866.5 341.2,1866.7 341.5,1866.5 342,1866.2 342.5,1865.9 343,1865.5 343.2,1865.3 343.5,1865.8 344,1866.5 344.5,1867.3 345,1868.0 345.2,1868.2 345.5,1868.6 346,1869.2 346.5,1869.8 347,1870.4 347.2,1870.6 347.5,1870.9 348,1871.5 348.5,1872.0 349,1872.5 349.2,1872.7 349.5,1873.0 350,1873.5 350.5,1874.0 351.2,1874.7 353.2,1874.2 355.2,1874.2 357.2,1872.2 359.2,1872.0 361.2,1874.2 363.2,1875.7 365.2,1878.3 367.2,1880.0 369.2,1880.8 371.2,1880.6 373.2,1879.6 375.2,1881.0 377.2,1882.7 379.2,1880.0 381.2,1880.2 383.2,1880.8 385.2,1882.6 387.2,1883.1 389.2,1883.8 391.2,1883.5 393.2,1883.4 395.2,1884.2 397.2,1884.8 399.2,1885.8 401.2,1886.9 403.2,1887.7 405.2,1888.3 407.2,1889.4 409.2,1889.4 411.2,1889.7 413.2,1888.5 415.2,1886.7 416.9,1886.9 417.2,1887.0 417.4,1887.2 417.9,1887.7 418.4,1888.2 418.9,1888.6 419.2,1888.9 419.4,1889.1 419.9,1889.5 420.4,1889.9 420.9,1890.3 421.2,1890.5 421.4,1890.5 421.9,1890.7 422.4,1890.8 422.9,1891.0 423.2,1891.1 423.4,1891.2 423.9,1891.6 424.4,1892.0 424.9,1892.4 425.2,1892.6 425.4,1892.6 425.9,1892.7 426.4,1892.8 426.9,1892.8 427.2,1892.8 427.4,1892.7 427.9,1892.4 428.4,1892.1 428.9,1891.6 429.2,1891.3 429.4,1891.2 429.9,1890.9 430.4,1890.4 430.9,1889.8 431.2,1889.3 431.4,1888.6 431.9,1886.7 432.4,1884.6 432.9,1882.1 433.2,1880.7 433.4,1879.7 433.9,1877.8 434.4,1876.7 434.9,1876.9 435.2,1877.5 435.4,1878.4 435.9,1881.0 436.4,1883.6 436.9,1885.9 437.2,1887.1 437.4,1887.8 437.9,1889.3 438.4,1890.6 438.9,1891.6 439.2,1892.2 439.4,1892.3 439.9,1892.6 440.4,1892.7 440.9,1892.8 441.2,1892.9 441.4,1893.1 441.9,1893.6 442.4,1894.1 442.9,1894.6 443.2,1894.9 443.4,1895.0 443.9,1895.5 444.4,1895.9 444.9,1896.3 445.2,1896.5 445.4,1896.5 445.9,1896.4 446.4,1896.3 446.9,1896.2 447.2,1896.1 447.4,1896.2 447.9,1896.4 448.4,1896.6 448.9,1896.8 449.2,1897.0 449.4,1896.8 449.9,1896.3 450.4,1895.8 450.9,1895.3 451.2,1895.0 451.4,1895.0 451.9,1895.1 453.2,1895.3 455.2,1895.2 457.2,1894.8 459.2,1895.5 461.2,1896.5 463.2,1896.4 465.2,1896.6 467.2,1897.8 469.2,1899.2 471.2,1899.6 473.2,1898.3 475,1896.9 475.2,1896.8 475.5,1897.0 476,1897.4 476.5,1897.9 477,1898.3 477.2,1898.4 477.5,1898.7 478,1899.3 478.5,1899.8 479,1900.3 479.2,1900.5 479.5,1900.5 480,1900.6 480.5,1900.7 481,1900.8 481.2,1900.9 481.5,1900.6 482,1900.1 482.5,1899.6 483,1899.1 483.2,1898.9 483.5,1898.8 484,1898.6 484.5,1898.4 485,1898.1 485.2,1898.0 485.5,1897.9 486,1897.7 486.5,1897.4 487,1897.0 487.2,1896.9 487.5,1896.6 488,1896.1 488.5,1895.5 489,1894.9 489.2,1894.6 489.5,1894.1 490,1893.6 490.5,1893.7 491,1894.1 491.2,1894.3 491.5,1894.9 492,1895.9 492.5,1896.8 493,1897.6 493.2,1897.9 493.5,1898.1 494,1898.4 494.5,1898.7 495,1898.9 495.2,1899.0 495.5,1899.1 496,1899.4 496.5,1899.7 497,1899.9 497.2,1900.0 497.5,1900.1 498,1900.4 498.5,1900.6 499,1900.7 499.2,1900.8 499.5,1900.5 500,1900.1 500.5,1899.6 501,1899.0 501.2,1898.7 501.5,1898.6 502,1898.2 502.5,1897.7 503,1897.2 503.2,1897.0 503.5,1896.5 504,1896.0 504.5,1896.0 505,1896.4 505.2,1896.6 505.5,1897.4 506,1898.6 506.5,1899.8 507,1900.8 507.2,1901.1 507.5,1901.5 508,1901.9 508.5,1902.3 509,1902.7 509.2,1902.9 509.5,1902.8 510,1902.7 510.5,1902.6 511,1902.4 511.2,1902.4 511.5,1902.4 512,1902.4 512.5,1902.4 513,1902.4 513.2,1902.4 513.5,1902.2 514,1901.9 514.5,1901.6 515,1901.3 515.2,1901.2 515.5,1901.3 516,1901.6 516.5,1901.9 517,1902.2 517.2,1902.3 517.5,1902.7 518,1903.5 518.5,1904.2 519,1904.9 519.2,1905.2 521.2,1907.4 523.2,1907.8 525.2,1906.6 527.2,1906.0 529.2,1906.4 531.2,1906.2 533.2,1907.3 535.2,1907.7 537.2,1907.9 539.2,1907.6 541.2,1907.0 543.2,1907.9 545.2,1908.9 547.2,1907.0 549.2,1908.4 551.2,1909.0 553.2,1907.4 555.2,1908.6 557.2,1907.5 559.2,1906.6 561.2,1908.3 563.2,1909.1 565.2,1908.1 567.2,1907.1 569.2,1906.9 571.2,1909.1 573.2,1909.1 575.2,1907.8 577.2,1907.2 579.2,1907.9 581.2,1908.7 583.2,1907.9 585.2,1908.8 587.2,1909.4 589.2,1907.1 591.2,1906.9 592,1907.3 593,1907.8 593.2,1907.9 594,1907.9 595,1907.8 595.2,1907.8 596,1908.1 597,1908.3 597.2,1908.4 598,1909.0 599,1909.7 599.2,1909.9 600,1910.3 601,1910.9 601.2,1911.0 602,1909.9 603,1908.6 603.2,1908.4 604,1908.3 605,1908.2 605.2,1908.2 606,1908.6 607,1909.1 607.2,1909.2 608,1908.2 609,1906.8 609.2,1906.5 610,1905.0 611,1903.2 611.2,1902.8 612,1902.5 613,1903.3 613.2,1903.6 614,1903.8 615,1903.9 615.2,1903.9 616,1905.2 617,1906.6 617.2,1906.9 618,1907.4 619,1907.9 619.2,1908.0 620,1908.7 621,1909.5 621.2,1909.7 622,1910.1 623,1910.5 623.2,1910.6 624,1910.2 625,1909.8 625.2,1909.7 626,1908.7 627,1907.4 627.2,1907.1 628,1907.0 629,1906.8 629.2,1906.7 630,1906.9 631,1907.2 631.2,1907.3 632,1907.0 633,1906.6 633.2,1906.5 634,1906.6 635,1906.7 635.2,1906.6 636,1906.3 637,1905.7 637.2,1905.6 638,1904.2 639,1902.4 639.2,1902.1 640,1901.3 641,1901.5 641.2,1901.7 642,1902.4 643,1903.3 643.2,1903.4 644,1904.2 645,1905.0 645.2,1905.2 646,1905.8 647,1906.4 647.2,1906.5 648,1906.5 649,1906.4 649.2,1906.4 650,1906.8 651,1907.3 651.2,1907.4 652,1907.4 653,1907.3 653.2,1907.3 654,1908.0 655,1908.8 655.2,1909.0 656,1908.7 657,1908.3 657.2,1908.2 658,1907.8 659,1907.3 659.2,1907.2 660,1907.7 661,1908.3 661.2,1908.4 661.5,1908.4 662,1908.3 662.5,1908.3 663,1908.2 663.2,1908.2 663.5,1908.1 664,1908.0 664.5,1907.9 665,1907.7 665.2,1907.7 665.5,1907.7 666,1907.8 666.5,1907.9 667,1908.0 667.2,1908.1 667.5,1908.1 668,1908.1 668.5,1908.1 669,1908.1 669.2,1908.1 669.5,1908.1 670,1908.0 670.5,1907.9 671,1907.8 671.2,1907.7 671.5,1907.5 672,1907.1 672.5,1906.7 673,1906.2 673.2,1905.9 673.5,1905.7 674,1905.2 674.5,1904.5 675,1903.6 675.2,1903.2 675.5,1902.3 676,1900.4 676.5,1898.2 677,1895.8 677.2,1894.7 677.5,1893.2 678,1891.0 678.5,1890.0 679,1890.5 679.2,1891.0 679.5,1892.1 680,1894.1 680.5,1896.1 681,1897.9 681.2,1898.4 681.5,1899.5 682,1901.0 682.5,1902.1 683,1903.1 683.2,1903.4 683.5,1904.0 684,1904.8 684.5,1905.5 685,1906.1 685.2,1906.3 685.5,1906.5 686,1906.7 686.5,1906.8 687,1906.9 687.2,1907.0 687.5,1907.3 688,1907.8 688.5,1908.3 689,1908.8 689.2,1909.0 689.5,1908.8 690,1908.6 690.5,1908.4 691,1908.1 691.2,1908.0 691.5,1907.7 692,1907.2 692.5,1906.7 693,1906.2 693.2,1906.0 693.5,1906.2 694,1906.5 694.5,1906.8 695,1907.1 695.2,1907.2 695.5,1907.3 696,1907.4 697.2,1907.8 699.2,1908.0 701.2,1907.9 703.2,1906.9 705.2,1905.3 707.2,1906.3 709.2,1908.2 711.2,1906.5 713.2,1907.0 715.2,1907.3 717.2,1905.1 719.2,1905.0 721.2,1904.1 723.2,1904.0 725.2,1903.3 727.2,1904.3 729.2,1904.8 731,1904.9 731.2,1904.9 731.5,1904.8 732,1904.7 732.5,1904.6 733,1904.4 733.2,1904.3 733.5,1904.0 734,1903.4 734.5,1902.8 735,1902.2 735.2,1902.0 735.5,1901.9 736,1901.7 736.5,1901.5 737,1901.2 737.2,1901.1 737.5,1901.1 738,1901.0 738.5,1900.9 739,1900.8 739.2,1900.7 739.5,1900.5 740,1900.0 740.5,1899.5 741,1898.8 741.2,1898.5 741.5,1898.0 742,1896.8 742.5,1895.4 743,1893.6 743.2,1892.7 743.5,1891.3 744,1888.4 744.5,1884.8 745,1881.0 745.2,1879.5 745.5,1877.4 746,1875.5 746.5,1876.1 747,1878.6 747.2,1879.8 747.5,1881.9 748,1885.1 748.5,1887.7 749,1889.6 749.2,1890.2 749.5,1891.5 750,1893.2 750.5,1894.7 751,1895.9 751.2,1896.4 751.3,1896.4 751.5,1896.3 752,1896.2 752.3,1896.1 752.5,1896.0 753,1895.7 753.2,1895.6 753.3,1895.5 753.5,1895.3 754,1894.8 754.3,1894.5 754.5,1894.3 755,1893.8 755.2,1893.5 755.3,1893.5 755.5,1893.5 756,1893.3 756.3,1893.3 756.5,1893.2 757,1893.0 757.2,1892.9 757.3,1892.9 757.5,1892.7 758,1892.3 758.3,1892.0 758.5,1891.9 759,1891.4 759.2,1891.2 759.3,1891.1 759.5,1890.9 760,1890.4 760.3,1890.1 760.5,1889.9 761,1889.3 761.2,1889.1 761.3,1889.0 762.3,1887.9 763.2,1886.8 763.3,1886.6 764.3,1884.7 765.2,1882.9 765.3,1882.6 766.3,1880.1 767.2,1877.5 767.3,1877.3 768.3,1874.7 769.2,1871.8 769.3,1871.4 770.3,1867.1 771.2,1862.7 771.3,1862.1 772.3,1856.5 773.2,1851.7 773.3,1851.2 774.3,1847.1 775.2,1845.5 775.3,1845.3 776.3,1845.8 777.2,1848.4 777.3,1848.8 778.3,1853.9 779.2,1858.8 779.3,1859.3 780.3,1864.7 781.2,1868.9 781.3,1869.3 782.3,1872.2 783.2,1874.3 783.3,1874.6 784.3,1876.8 785.2,1878.5 785.3,1878.7 786.3,1880.8 787.2,1882.4 787.3,1882.6 788.3,1884.3 789.2,1885.7 789.3,1885.9 790.3,1887.4 791.2,1888.7 791.3,1888.7 792.3,1889.1 793.2,1889.4 793.3,1889.5 794.3,1890.3 795.2,1890.9 795.3,1891.0 796.3,1891.5 797.2,1892.0 797.3,1891.9 798.3,1891.8 799.2,1891.6 799.3,1891.6 801.2,1892.4 803.2,1895.4 805.2,1895.8 807.2,1896.8 809.2,1898.0 811.2,1898.8 813.2,1899.5 815.2,1899.9 817.2,1901.5 819.2,1901.3 821.2,1902.7 823.2,1902.1 825.2,1901.6 827.2,1902.2 829.2,1902.0 831.2,1901.9 833.2,1902.5 835.2,1903.2 837.2,1904.1 839.2,1903.4 841.2,1904.1 843.2,1905.0 845.2,1904.5 847.2,1903.8 849.2,1903.7 851.2,1904.4 851.6,1904.6 852.6,1905.0 853.2,1905.2 853.6,1904.9 854.6,1904.3 855.2,1903.9 855.6,1903.9 856.6,1903.9 857.2,1903.8 857.6,1903.8 858.6,1903.6 859.2,1903.5 859.6,1903.4 860.6,1903.2 861.2,1903.0 861.6,1902.6 862.6,1901.4 863.2,1900.6 863.6,1900.1 864.6,1898.9 865.2,1898.1 865.6,1897.6 866.6,1896.4 867.2,1895.5 867.6,1895.1 868.6,1893.9 869.2,1892.9 869.6,1891.7 870.6,1888.2 871.2,1885.7 871.6,1883.6 872.6,1877.8 873.2,1873.9 873.6,1871.5 874.6,1865.7 875.2,1862.7 875.6,1861.2 876.6,1859.6 877.2,1860.3 877.6,1861.3 878.6,1865.6 879.2,1868.8 879.6,1871.0 880.6,1876.3 881.2,1879.0 881.6,1880.5 882.6,1883.4 883.2,1884.6 883.6,1885.5 884.6,1887.0 885.2,1887.6 885.6,1888.1 886.6,1889.1 887.2,1889.7 887.6,1889.6 888.6,1889.6 889.2,1889.8 889.6,1890.4 890.6,1892.0 891.2,1893.2 891.6,1894.2 892.6,1896.8 893.2,1898.3 893.6,1898.8 894.6,1899.9 895.2,1900.5 895.6,1900.5 896.6,1900.3 897.2,1900.1 897.6,1900.7 898.6,1902.1 899.2,1902.9 899.6,1903.2 900.6,1903.9 901.2,1904.2 901.6,1904.6 903.2,1906.2 905.2,1907.2 907.2,1908.5 909.2,1909.0 910,1908.9 911,1908.8 911.2,1908.7 912,1909.1 913,1909.5 913.2,1909.6 914,1910.1 915,1910.8 915.2,1910.9 916,1911.2 917,1911.4 917.2,1911.5 918,1912.2 919,1913.1 919.2,1913.3 920,1913.4 921,1913.6 921.2,1913.6 922,1913.5 923,1913.4 923.2,1913.3 924,1913.5 925,1913.7 925.2,1913.8 926,1913.6 927,1913.4 927.2,1913.3 928,1912.6 929,1911.6 929.2,1911.4 930,1911.0 931,1910.3 931.2,1910.1 932,1909.6 933,1909.0 933.2,1908.9 934,1909.0 935,1909.6 935.2,1909.8 936,1910.0 937,1910.8 937.2,1911.0 938,1912.2 939,1913.8 939.2,1914.1 940,1914.9 941,1915.7 941.2,1915.9 942,1916.2 943,1916.4 943.2,1916.4 944,1917.0 945,1917.6 945.2,1917.7 946,1918.0 947,1918.5 947.2,1918.6 948,1918.7 949,1918.9 949.2,1918.9 950,1919.1 951,1919.3 951.2,1919.4 952,1919.9 953,1920.5 953.2,1920.6 954,1920.2 955,1919.7 955.2,1919.5 956,1918.8 957,1917.9 957.2,1917.7 958,1917.6 959,1917.3 959.2,1917.3 960,1917.8 961.2,1918.7 963.2,1920.0 965.2,1919.7 967.2,1918.9 969.2,1919.3 971.2,1919.6 973.2,1918.9 975.2,1918.9 977.2,1918.9 979.2,1920.0 981.2,1919.4 983.2,1919.9 985.2,1919.6 987.2,1919.0 989.2,1919.6 991.2,1918.8 993.2,1918.8 995.2,1919.5 997.2,1918.8 999.2,1918.6 1000,1918.7 1001,1919.0 1001.2,1919.0 1002,1919.1 1003,1919.3 1003.2,1919.3 1004,1919.1 1005,1918.8 1005.2,1918.7 1006,1918.7 1007,1918.6 1007.2,1918.5 1008,1918.6 1009,1918.7 1009.2,1918.7 1010,1918.2 1011,1917.6 1011.2,1917.4 1012,1917.7 1013,1918.0 1013.2,1918.1 1014,1918.3 1015,1918.4 1015.2,1918.5 1016,1918.0 1017,1917.4 1017.2,1917.3 1018,1917.1 1019,1916.9 1019.2,1916.8 1020,1916.0 1021,1914.8 1021.2,1914.5 1022,1913.7 1023,1912.6 1023.2,1912.5 1024,1912.1 1025,1912.1 1025.2,1912.2 1026,1912.4 1027,1913.2 1027.2,1913.3 1028,1913.8 1029,1914.3 1029.2,1914.4 1030,1915.4 1030.1,1915.5 1030.6,1916.0 1031,1916.4 1031.1,1916.5 1031.2,1916.6 1031.6,1917.0 1032,1917.3 1032.1,1917.3 1032.6,1917.7 1033,1918.0 1033.1,1918.0 1033.2,1918.1 1033.6,1918.1 1034,1918.1 1034.1,1918.1 1034.6,1918.1 1035,1918.0 1035.1,1918.0 1035.2,1918.0 1035.6,1918.1 1036,1918.2 1036.1,1918.2 1036.6,1918.3 1037,1918.4 1037.1,1918.4 1037.2,1918.4 1037.6,1918.7 1038,1919.0 1038.1,1919.1 1038.6,1919.4 1039,1919.6 1039.1,1919.7 1039.2,1919.7 1039.6,1919.6 1040,1919.4 1040.1,1919.4 1040.6,1919.1 1041,1918.9 1041.1,1918.8 1041.2,1918.8 1041.6,1918.4 1042,1918.0 1042.1,1917.9 1042.6,1917.3 1043,1916.8 1043.1,1916.7 1043.2,1916.5 1043.6,1915.8 1044,1915.0 1044.1,1914.7 1044.6,1913.6 1044.8,1913.1 1045,1912.5 1045.1,1912.2 1045.2,1912.0 1045.3,1911.8 1045.6,1911.2 1045.8,1910.9 1046,1910.5 1046.1,1910.3 1046.3,1910.0 1046.6,1909.5 1046.8,1909.3 1047,1909.1 1047.1,1909.1 1047.2,1909.0 1047.3,1909.0 1047.6,1908.9 1047.8,1909.0 1048,1909.2 1048.1,1909.3 1048.3,1909.7 1048.6,1910.3 1048.8,1910.7 1049,1911.2 1049.1,1911.5 1049.2,1911.7 1049.3,1912.0 1049.6,1912.9 1049.8,1913.4 1050,1913.9 1050.1,1914.2 1050.3,1914.7 1050.6,1915.5 1050.8,1915.9 1051.1,1916.5 1051.2,1916.7 1051.3,1916.9 1051.6,1917.3 1051.8,1917.5 1052.1,1917.8 1052.3,1918.0 1052.6,1918.2 1052.8,1918.3 1053.1,1918.4 1053.2,1918.5 1053.3,1918.5 1053.6,1918.6 1053.8,1918.6 1054.1,1918.6 1054.3,1918.6 1054.6,1918.5 1054.8,1918.5 1055.1,1918.3 1055.2,1918.3 1055.3,1918.3 1055.6,1918.2 1055.8,1918.1 1056.1,1917.9 1056.3,1917.8 1056.6,1917.6 1056.8,1917.4 1057.1,1917.0 1057.2,1916.9 1057.3,1916.7 1057.6,1916.2 1057.8,1915.7 1058.1,1915.0 1058.3,1914.5 1058.6,1913.7 1058.8,1913.1 1059.1,1912.1 1059.2,1911.7 1059.3,1911.4 1059.6,1910.4 1059.8,1909.6 1060.1,1908.5 1060.3,1907.7 1060.6,1906.4 1060.8,1905.7 1061.1,1904.5 1061.2,1904.2 1061.3,1903.9 1061.6,1903.3 1061.8,1903.1 1062.1,1902.9 1062.3,1903.0 1062.6,1903.4 1062.8,1903.9 1063.1,1904.8 1063.2,1905.2 1063.3,1905.6 1063.6,1906.7 1063.8,1907.6 1064.1,1908.9 1064.3,1909.8 1064.6,1911.1 1064.8,1912.0 1065.1,1913.2 1065.2,1913.6 1065.3,1914.0 1065.8,1915.8 1066.3,1917.3 1066.8,1918.7 1067.2,1919.6 1067.3,1919.8 1067.8,1920.6 1068.3,1921.3 1068.8,1921.8 1069.2,1922.2 1069.3,1922.3 1069.8,1922.9 1070.3,1923.4 1070.8,1923.8 1071.2,1924.1 1071.3,1924.1 1071.8,1924.2 1072.3,1924.2 1072.8,1924.2 1073.2,1924.1 1073.3,1924.2 1073.8,1924.4 1074.3,1924.6 1074.8,1924.8 1075.2,1925.0 1075.3,1925.0 1075.8,1925.4 1076.3,1925.8 1076.8,1926.2 1077.2,1926.5 1077.3,1926.4 1077.8,1926.2 1078.3,1926.0 1078.8,1925.8 1079.2,1925.6 1079.3,1925.5 1079.8,1925.2 1081.2,1924.3 1083.2,1924.9 1085.2,1925.5 1087.2,1925.3 1089.2,1924.5 1091.2,1925.1 1093.2,1925.4 1095.2,1923.9 1095.4,1923.9 1095.9,1923.9 1096.4,1923.9 1096.9,1923.9 1097.2,1923.9 1097.4,1924.0 1097.9,1924.3 1098.4,1924.6 1098.9,1924.8 1099.2,1925.0 1099.4,1925.1 1099.9,1925.3 1100.4,1925.5 1100.9,1925.7 1101.2,1925.8 1101.4,1925.5 1101.9,1924.7 1102.4,1923.8 1102.9,1922.8 1103.2,1922.2 1103.4,1921.9 1103.9,1921.1 1104.4,1920.2 1104.9,1919.2 1105.2,1918.5 1105.4,1918.1 1105.9,1917.0 1106.4,1915.7 1106.9,1914.0 1107.2,1912.8 1107.4,1912.1 1107.9,1910.0 1108.4,1907.5 1108.9,1904.7 1109.2,1903.1 1109.4,1902.1 1109.9,1900.0 1110.4,1899.3 1110.9,1900.2 1111.2,1901.4 1111.4,1902.5 1111.9,1905.6 1112.4,1908.8 1112.9,1911.8 1113.2,1913.5 1113.4,1914.5 1113.9,1916.7 1114.4,1918.5 1114.9,1920.0 1115.2,1920.8 1115.4,1921.1 1115.9,1921.9 1116.4,1922.6 1116.9,1923.1 1117.2,1923.3 1117.4,1923.5 1117.9,1923.7 1118.4,1924.0 1118.9,1924.1 1119.2,1924.2 1119.4,1924.3 1119.9,1924.6 1120.4,1924.9 1120.9,1925.1 1121.2,1925.2 1121.4,1925.2 1121.9,1925.3 1122.4,1925.3 1122.9,1925.4 1123.2,1925.4 1123.4,1925.5 1123.9,1925.8 1124.4,1926.2 1124.9,1926.5 1125.2,1926.7 1125.4,1926.6 1127.2,1926.0 1129.2,1926.0 1129.8,1925.7 1130.8,1925.2 1131.2,1925.0 1131.8,1924.9 1132.8,1924.7 1133.2,1924.5 1133.8,1924.5 1134.8,1924.5 1135.2,1924.5 1135.8,1924.5 1136.8,1924.6 1137.2,1924.6 1137.8,1924.8 1138.8,1925.1 1139.2,1925.2 1139.8,1925.1 1140.8,1924.8 1141.2,1924.7 1141.8,1924.4 1142.8,1923.7 1143.2,1923.4 1143.8,1922.8 1144.8,1921.5 1145.2,1920.8 1145.8,1919.5 1146.8,1916.8 1147.2,1915.5 1147.8,1914.2 1148.8,1911.4 1149.2,1910.1 1149.8,1907.5 1150.8,1903.4 1151.2,1902.0 1151.8,1900.5 1152.3,1900.1 1152.8,1900.5 1153.2,1901.4 1153.8,1902.6 1154.8,1905.6 1155.2,1906.8 1155.8,1909.3 1156.8,1912.7 1157.2,1913.8 1157.8,1916.4 1158.8,1920.0 1159.2,1921.3 1159.8,1922.7 1160.8,1924.6 1161.2,1925.3 1161.8,1925.7 1162.8,1926.1 1163.2,1926.2 1163.8,1926.3 1164.8,1926.4 1165.2,1926.4 1165.8,1926.5 1166.8,1926.4 1167.2,1926.4 1167.8,1926.9 1168.8,1927.6 1169.2,1927.9 1169.8,1927.6 1170.8,1927.0 1171.2,1926.8 1171.8,1927.0 1172.8,1927.3 1173.2,1927.4 1173.8,1928.0 1174.8,1928.8 1175.2,1929.2 1177.2,1930.1 1179.2,1929.7 1181.2,1928.3 1183.2,1928.7 1185.2,1930.0 1187.2,1930.3 1189.2,1930.3 1191.2,1929.3 1193.2,1929.4 1195.2,1928.3 1197.2,1928.4 1199.2,1929.6 1201.2,1929.2 1203.2,1929.5 1205.2,1928.5 1207.2,1929.0 1209.2,1930.8 1211.2,1930.4 1213.1,1929.3 1213.2,1929.3 1213.6,1929.1 1214.1,1928.8 1214.6,1928.5 1215.1,1928.2 1215.2,1928.2 1215.6,1928.0 1216.1,1927.8 1216.6,1927.6 1217.1,1927.4 1217.2,1927.4 1217.6,1927.6 1218.1,1927.8 1218.6,1928.1 1219.1,1928.3 1219.2,1928.3 1219.6,1928.5 1220.1,1928.7 1220.6,1928.9 1221.1,1929.1 1221.2,1929.1 1221.6,1928.9 1222.1,1928.5 1222.6,1928.1 1223.1,1927.7 1223.2,1927.7 1223.6,1927.2 1224.1,1926.7 1224.6,1926.0 1225.1,1925.3 1225.2,1925.1 1225.6,1924.5 1226.1,1923.5 1226.6,1922.5 1227.1,1921.3 1227.2,1921.0 1227.6,1919.9 1228.1,1918.3 1228.6,1916.7 1229.1,1915.0 1229.2,1914.6 1229.6,1913.7 1230.1,1912.9 1230.6,1912.7 1231.1,1913.2 1231.2,1913.4 1231.6,1914.2 1232.1,1915.6 1232.6,1917.1 1233.1,1918.6 1233.2,1918.9 1233.6,1920.0 1234.1,1921.3 1234.6,1922.3 1235.1,1923.2 1235.2,1923.4 1235.6,1924.2 1236.1,1925.2 1236.6,1926.0 1237.1,1926.8 1237.2,1926.9 1237.6,1927.3 1238.1,1927.6 1238.6,1927.9 1239.1,1928.2 1239.2,1928.2 1239.6,1928.5 1240.1,1928.8 1240.6,1929.1 1241.1,1929.4 1241.2,1929.4 1241.6,1929.6 1242.1,1929.9 1242.6,1930.1 1243.1,1930.4 1243.2,1930.4 1243.6,1930.3 1244.1,1930.2 1244.6,1930.1 1245.1,1930.0 1245.2,1930.0 1245.6,1929.7 1246.1,1929.4 1246.6,1929.1 1247.1,1928.8 1247.2,1928.8 1247.6,1928.8 1248.1,1928.8 1249.2,1928.8 1250,1929.1 1251,1929.5 1251.2,1929.5 1252,1929.4 1253,1929.2 1253.2,1929.2 1254,1928.8 1255,1928.4 1255.2,1928.3 1256,1928.2 1257,1928.1 1257.2,1928.1 1258,1928.2 1259,1928.2 1259.2,1928.2 1260,1927.8 1261,1927.3 1261.2,1927.2 1262,1926.6 1263,1925.9 1263.2,1925.7 1264,1925.8 1265,1925.8 1265.2,1925.7 1266,1925.8 1267,1925.6 1267.2,1925.6 1267.5,1925.1 1268,1924.4 1268.5,1923.7 1269,1923.0 1269.2,1922.8 1269.5,1922.6 1270,1922.4 1270.5,1922.4 1271,1922.5 1271.2,1922.6 1271.5,1922.9 1272,1923.3 1272.5,1923.8 1273,1924.2 1273.2,1924.4 1273.5,1924.7 1274,1925.2 1274.5,1925.6 1275,1925.9 1275.2,1926.1 1275.5,1926.1 1276,1926.2 1276.5,1926.2 1277,1926.1 1277.2,1926.0 1277.5,1925.9 1278,1925.7 1278.5,1925.4 1279,1925.0 1279.2,1924.8 1279.5,1924.4 1280,1923.6 1280.5,1922.7 1281,1921.5 1281.2,1921.0 1281.5,1920.0 1282,1918.2 1282.5,1916.3 1283,1914.3 1283.2,1913.6 1283.5,1912.6 1284,1911.4 1284.5,1910.9 1285,1911.2 1285.2,1911.5 1285.5,1912.3 1286,1913.9 1286.5,1915.6 1287,1917.4 1287.2,1918.0 1287.5,1918.9 1288,1920.3 1288.5,1921.4 1289,1922.4 1289.2,1922.7 1289.5,1923.3 1290,1924.2 1290.5,1925.0 1291,1925.6 1291.2,1925.9 1291.5,1925.9 1292,1925.9 1292.5,1925.9 1293,1925.8 1293.2,1925.7 1293.5,1925.9 1294,1926.2 1294.5,1926.5 1295,1926.7 1295.2,1926.8 1295.5,1927.1 1296,1927.6 1296.5,1928.1 1297,1928.5 1297.2,1928.7 1297.5,1928.6 1298,1928.4 1298.5,1928.2 1299,1928.0 1299.2,1927.9 1299.5,1927.9 1300,1927.8 1300.5,1927.8 1301,1927.7 1301.2,1927.7 1301.5,1927.7 1302,1927.6 1303.2,1927.3 1305.2,1927.4 1307.2,1927.6 1309.2,1928.8 1311.2,1927.0 1313.2,1926.8 1315.2,1927.9 1317.2,1928.7 1319.2,1927.7 1321.2,1926.4 1323.2,1925.9 1325.2,1926.7 1326.5,1927.1 1327,1927.2 1327.2,1927.3 1327.5,1927.1 1328,1926.9 1328.5,1926.6 1329,1926.4 1329.2,1926.3 1329.5,1926.1 1330,1925.8 1330.5,1925.4 1331,1925.1 1331.2,1925.0 1331.5,1924.7 1332,1924.3 1332.5,1923.9 1333,1923.4 1333.2,1923.2 1333.5,1922.9 1334,1922.5 1334.5,1921.9 1335,1921.4 1335.2,1921.1 1335.5,1920.9 1336,1920.6 1336.5,1920.1 1337,1919.5 1337.2,1919.3 1337.5,1918.9 1338,1918.1 1338.5,1917.0 1339,1915.8 1339.2,1915.2 1339.5,1914.1 1340,1912.0 1340.5,1909.5 1341,1906.6 1341.2,1905.3 1341.5,1903.1 1342,1899.1 1342.5,1895.2 1343,1891.6 1343.2,1890.4 1343.5,1889.0 1344,1887.8 1344.5,1888.2 1345,1890.1 1345.2,1891.2 1345.5,1893.1 1346,1896.6 1346.5,1900.1 1347,1903.2 1347.2,1904.3 1347.5,1906.1 1348,1908.6 1348.5,1910.8 1349,1912.6 1349.2,1913.2 1349.5,1913.6 1350,1914.1 1350.5,1914.3 1351,1914.3 1351.2,1914.3 1351.5,1914.3 1352,1914.2 1352.5,1914.0 1353,1913.8 1353.2,1913.7 1353.5,1913.7 1354,1913.9 1354.5,1914.0 1355,1914.2 1355.2,1914.4 1355.5,1914.3 1356,1914.3 1356.5,1914.4 1357,1914.7 1357.2,1914.8 1357.5,1914.9 1358,1915.2 1358.5,1915.5 1359,1915.8 1359.2,1916.0 1359.5,1916.5 1360,1917.4 1360.5,1918.2 1361,1919.1 1361.2,1919.4 1361.5,1920.1 1363.2,1923.9 1365.2,1924.6 1367.2,1925.0 1369.2,1926.1 1371.2,1926.8 1373.2,1925.9 1375.2,1926.7 1377.2,1927.2 1379.2,1927.1 1381.2,1927.4 1383.2,1928.1 1385.2,1928.1 1387.2,1926.1 1389.2,1927.5 1391.2,1926.8 1393.2,1926.7 1395,1927.0 1395.2,1927.0 1396,1926.7 1397,1926.3 1397.2,1926.2 1398,1926.3 1399,1926.4 1399.2,1926.4 1400,1926.5 1401,1926.6 1401.2,1926.6 1402,1926.5 1403,1926.3 1403.2,1926.3 1404,1926.0 1405,1925.6 1405.2,1925.5 1406,1925.7 1407,1925.9 1407.2,1925.9 1408,1925.6 1409,1925.1 1409.2,1924.9 1410,1923.1 1411,1920.4 1411.2,1919.8 1412,1917.8 1413,1915.0 1413.2,1914.4 1414,1912.7 1415,1912.0 1415.2,1912.1 1416,1913.4 1417,1916.3 1417.2,1916.9 1418,1919.0 1419,1921.4 1419.2,1921.8 1420,1922.9 1421,1924.0 1421.2,1924.2 1422,1925.0 1423,1925.9 1423.2,1926.0 1424,1926.6 1425,1927.2 1425.2,1927.3 1426,1928.3 1427,1929.4 1427.2,1929.6 1428,1929.7 1429,1929.8 1429.2,1929.8 1430,1929.7 1431,1929.6 1431.2,1929.5 1432,1929.6 1433,1929.7 1433.2,1929.7 1434,1929.6 1435,1929.4 1435.2,1929.4 1437.2,1930.3 1439.2,1930.9 1441.2,1931.0 1443.2,1931.2 1445.2,1931.3 1447.2,1931.1 1449.2,1931.2 1451.2,1932.1 1452.3,1932.7 1452.8,1932.9 1453.2,1933.1 1453.3,1933.1 1453.8,1933.2 1454.3,1933.2 1454.8,1933.1 1455.2,1933.1 1455.3,1933.1 1455.8,1932.8 1456.3,1932.6 1456.8,1932.3 1457.2,1932.0 1457.3,1932.0 1457.8,1931.9 1458.3,1931.7 1458.8,1931.6 1459.2,1931.4 1459.3,1931.3 1459.8,1931.0 1460.3,1930.6 1460.8,1930.2 1461.2,1929.8 1461.3,1929.7 1461.8,1929.0 1462.3,1928.3 1462.8,1927.4 1463.2,1926.6 1463.3,1926.6 1463.8,1926.0 1464.3,1925.2 1464.8,1924.2 1465.2,1923.3 1465.3,1922.9 1465.8,1921.0 1466.3,1919.2 1466.8,1917.8 1467.2,1917.2 1467.3,1917.3 1467.8,1918.0 1468.3,1919.5 1468.8,1921.4 1469.2,1923.0 1469.3,1923.4 1469.8,1925.3 1470.3,1926.9 1470.8,1928.3 1471.2,1929.2 1471.3,1929.4 1471.8,1930.1 1472.3,1930.6 1472.8,1931.0 1473.2,1931.3 1473.3,1931.4 1473.8,1931.7 1474.3,1932.0 1474.8,1932.2 1475.2,1932.4 1475.3,1932.4 1475.8,1932.5 1476.3,1932.6 1476.8,1932.6 1477.2,1932.6 1477.3,1932.7 1477.8,1933.1 1478.3,1933.4 1478.8,1933.7 1479.2,1934.0 1479.3,1934.0 1479.8,1934.1 1480.3,1934.2 1480.8,1934.3 1481.2,1934.4 1481.3,1934.3 1481.8,1933.9 1482.3,1933.5 1483.2,1932.7 1485.2,1932.0 1487.2,1933.0 1489.2,1934.1 1491.2,1932.2 1493.2,1932.3 1495.2,1934.1 1497.2,1934.2 1499.2,1934.1 1501.2,1934.8 1503.2,1935.1 1505.2,1934.4 1507.2,1934.1 1509.2,1933.0 1511.2,1931.3 1513.2,1932.2 1515.2,1932.6 1517.2,1930.0 1519.2,1929.4 1521.2,1928.1 1523.2,1927.0 1525.2,1926.1 1527.2,1924.1 1529.2,1923.3 1531.2,1923.1 1533.2,1922.4 1535.2,1922.4 1537.2,1922.3 1539.2,1923.2 1541.2,1924.8 1543.2,1926.3 1545.2,1927.3 1547.2,1931.0 1549.2,1933.7 1551.2,1933.1 1553.2,1932.4 1555.2,1933.0 1557.2,1932.9 1559.2,1932.3 1561.2,1933.3 1563.2,1934.1 1565.2,1933.6 1567.2,1933.5 1569.2,1934.1 1571.2,1935.7 1573.2,1934.8 1575.2,1934.2 1577.2,1934.7 1579.2,1934.7 1581.2,1933.5 1583.2,1934.0 1585.2,1935.6 1587.2,1936.0 1589.2,1934.5 1591.2,1935.5 1593.2,1936.8 1595.2,1936.1 1597.2,1936.6 1599.2,1937.6 1601.2,1938.3 1603.2,1938.0 1605.2,1936.7 1607.2,1934.2 1609.2,1934.6 1611.2,1935.9 1613.2,1935.7 1615.2,1935.9 1617.2,1935.7 1619,1937.0 1619.2,1937.1 1620,1937.2 1621,1937.3 1621.2,1937.3 1622,1937.5 1623,1937.6 1623.2,1937.6 1624,1937.6 1625,1937.5 1625.2,1937.4 1626,1936.9 1627,1936.3 1627.2,1936.1 1628,1936.0 1629,1935.9 1629.2,1935.9 1630,1936.1 1631,1936.4 1631.2,1936.4 1632,1936.3 1633,1936.2 1633.2,1936.1 1634,1936.1 1635,1935.9 1635.2,1935.8 1636,1935.3 1637,1934.5 1637.2,1934.3 1638,1933.9 1639,1933.1 1639.2,1933.0 1640,1931.1 1641,1928.7 1641.2,1928.2 1642,1926.5 1643,1924.8 1643.2,1924.5 1644,1924.6 1645,1925.4 1645.2,1925.7 1646,1926.5 1647,1927.7 1647.2,1927.9 1648,1929.3 1649,1930.7 1649.2,1931.0 1650,1931.9 1651,1932.8 1651.2,1932.9 1652,1933.2 1653,1933.4 1653.2,1933.5 1654,1933.0 1655,1932.4 1655.2,1932.2 1656,1932.0 1657,1931.6 1657.2,1931.5 1658,1931.1 1659,1930.3 1659.2,1930.1 1660,1929.7 1661,1929.2 1661.2,1929.1 1662,1928.1 1663,1927.2 1663.2,1927.1 1664,1927.3 1665,1927.9 1665.2,1928.1 1666,1928.9 1667,1929.8 1667.2,1930.0 1668,1931.2 1669,1932.5 1669.2,1932.7 1670,1932.9 1671,1933.0 1671.2,1933.0 1672,1933.5 1673,1934.0 1673.2,1934.1 1674,1934.7 1675,1935.4 1675.2,1935.6 1676,1935.3 1677,1934.8 1677.2,1934.7 1678,1934.4 1679,1933.9 1679.2,1933.8 1680,1933.6 1681,1933.2 1681.2,1933.1 1682,1932.5 1683,1931.5 1683.2,1931.3 1684,1930.7 1685,1930.4 1685.2,1930.4 1686,1930.3 1687,1930.6 1687.2,1930.7 1688,1931.7 1689,1932.8 1689.2,1933.0 1690,1933.8 1691,1934.7 1691.2,1934.8 1692,1935.0 1693,1935.0 1693.2,1935.1 1694,1935.5 1695,1936.0 1695.2,1936.1 1696,1936.8 1697,1937.8 1697.2,1937.9 1698,1937.4 1699,1936.8 1699.2,1936.7 1700,1936.1 1701,1935.5 1701.2,1935.3 1702,1935.5 1703,1935.7 1703.2,1935.7 1704,1935.1 1704.9,1934.4 1705,1934.3 1705.2,1934.1 1705.9,1933.7 1706.9,1933.1 1707.2,1932.9 1707.9,1933.1 1708.9,1933.3 1709.2,1933.4 1709.9,1933.5 1710.9,1933.5 1711.2,1933.6 1711.9,1933.5 1712.9,1933.3 1713.2,1933.2 1713.9,1933.9 1714.9,1934.8 1715.2,1935.0 1715.9,1934.7 1716.9,1934.2 1717.2,1934.0 1717.9,1933.0 1718.9,1931.4 1719.2,1930.8 1719.9,1929.6 1720.9,1927.5 1721.2,1926.7 1721.9,1925.3 1722.9,1922.9 1723.2,1922.2 1723.9,1920.3 1724.9,1919.0 1725.2,1919.0 1725.9,1919.7 1726.9,1921.8 1727.2,1922.5 1727.9,1924.0 1728.9,1925.7 1729.2,1926.1 1729.9,1926.9 1730.9,1927.8 1731.2,1927.9 1731.9,1928.2 1732.9,1928.3 1733.2,1928.4 1733.9,1928.6 1734.9,1928.8 1735.2,1928.9 1735.9,1929.0 1736.9,1929.0 1737.2,1929.1 1737.9,1929.4 1738.9,1930.0 1739.2,1930.2 1739.9,1930.2 1740.9,1930.3 1741.2,1930.3 1741.9,1930.2 1742.9,1930.0 1743.2,1930.0 1743.9,1930.6 1744.9,1931.6 1745.2,1931.9 1747.2,1933.4 1749.2,1932.6 1751.2,1932.2 1753.2,1932.7 1755.2,1933.5 1757.2,1935.6 1759.2,1935.7 1761.2,1935.6 1763.2,1936.6 1765.2,1937.1 1767.2,1937.1 1769.2,1937.2 1771.2,1937.6 1773.2,1939.5 1775.2,1939.9 1777.2,1940.5 1779.2,1940.9 1781.2,1940.8 1783.2,1939.7 1785.2,1940.8 1787.2,1941.6 1789.2,1940.2 1791.2,1940.7 1793.2,1940.7 1795.2,1940.8 1797.2,1941.1 1799.2,1940.8 1801.2,1941.6 1803.2,1942.9 1805.2,1941.8 1807.2,1940.3 1809.2,1940.5 1811.2,1940.5 1813.2,1939.9 1815.2,1939.1 1817.2,1939.4 1819.2,1941.1 1821.2,1941.2 1823.2,1940.0 1825.2,1939.9 1827.2,1939.4 1829.2,1939.3 1831.2,1940.0 1833.2,1940.4 1835.2,1942.2 1837.2,1940.6 1839.2,1940.9 1841.2,1941.5 1843.2,1940.4 1845.2,1939.5 1847.2,1938.5 1849.2,1940.1 1851.2,1940.3 1853.2,1939.8 1855.2,1939.7 1857.2,1940.3 1859.2,1940.6 1861.2,1939.9 1863.2,1940.6 1865.2,1941.9 1867.2,1939.9 1869.2,1938.4 1871.2,1938.5 1873.2,1940.3 1875.2,1940.3 1877.2,1938.6 1879.2,1938.9 1881.2,1939.3 1883.2,1939.9 1885.2,1938.9 1887.2,1937.5 1889.2,1938.2 1891.2,1938.9 1893.2,1938.0 1895.2,1937.6 1897.2,1938.7 1899.2,1938.2 1901.2,1938.9 1903.2,1938.5 1905.2,1937.5"/>
<line class="gr" x1="61.0" y1="1725.4" x2="61.0" y2="3121"/>
<line class="gr" x1="425.0" y1="1725.4" x2="425.0" y2="3121"/>
<line class="gr" x1="798.7" y1="1725.4" x2="798.7" y2="3121"/>
<line class="gr" x1="1170.0" y1="1725.4" x2="1170.0" y2="3121"/>
<line class="gr" x1="1536.7" y1="1725.4" x2="1536.7" y2="3121"/>
</g>
<text x="317.5" y="1819.5" font-size="53" class="b">K</text>
<text x="32.2" y="1954.0" font-size="54">HE</text>
<text x="274.1" y="1967.0" font-size="53" class="b">CH</text>
<text x="91.9" y="2076.5" font-size="52">CC</text>
<text x="757.8" y="1835.0" font-size="53" class="b">C</text>
<text x="860.5" y="1864.0" font-size="53" class="b">K</text>
<text x="869.2" y="2028.0" font-size="53" class="b">CH</text>
<text x="1136.5" y="1896.4" font-size="53" class="b">K</text>
<text x="1329.1" y="1893.0" font-size="53" class="b">K</text>
<text x="1515.8" y="1915.5" font-size="53" class="b">C</text>
<text x="750.8" y="2305.5" font-size="53" class="b">C</text>
<text x="860.8" y="2357.0" font-size="53" class="b">C</text>
<text x="1132.2" y="2391.5" font-size="53" class="b">C</text>
<text x="1513.8" y="2395.0" font-size="53" class="b">C</text>
<text x="325.8" y="2571.6" font-size="53" class="b">CH</text>
<text x="907.8" y="2610.8" font-size="53" class="b">CH</text>
<text x="757.8" y="2704.0" font-size="53" class="b">C</text>
<text x="859.8" y="2785.4" font-size="53" class="b">C</text>
<text x="1136.3" y="2819.5" font-size="53" class="b">C</text>
<text x="1509.8" y="2816.5" font-size="53" class="b">C</text>
<text class="b" x="1732.4" y="1798.0" font-size="70" textLength="161.2" lengthAdjust="spacingAndGlyphs">60°C</text>
<line class="ax" x1="60.1" y1="3121" x2="60.1" y2="3148.5"/>
<line class="ax" x1="244.8" y1="3121" x2="244.8" y2="3135.8"/>
<line class="ax" x1="429.5" y1="3121" x2="429.5" y2="3148.5"/>
<line class="ax" x1="614.2" y1="3121" x2="614.2" y2="3135.8"/>
<line class="ax" x1="798.9" y1="3121" x2="798.9" y2="3148.5"/>
<line class="ax" x1="983.6" y1="3121" x2="983.6" y2="3135.8"/>
<line class="ax" x1="1168.3" y1="3121" x2="1168.3" y2="3148.5"/>
<line class="ax" x1="1353.0" y1="3121" x2="1353.0" y2="3135.8"/>
<line class="ax" x1="1537.7" y1="3121" x2="1537.7" y2="3148.5"/>
<line class="ax" x1="1722.4" y1="3121" x2="1722.4" y2="3135.8"/>
<line class="ax" x1="1907.1" y1="3121" x2="1907.1" y2="3148.5"/>
<g font-size="66" text-anchor="middle">
<text x="60.1" y="3218.5">10</text>
<text x="429.5" y="3218.5">20</text>
<text x="798.9" y="3218.5">30</text>
<text x="1168.3" y="3218.5">40</text>
<text x="1537.7" y="3218.5">50</text>
<text x="1907.1" y="3218.5">60</text>
</g>
<text class="b" y="3279.3" font-size="71"><tspan x="802.5">2</tspan><tspan class="sf" font-weight="normal" stroke="#000" stroke-width="0.7" x="842.5" font-size="72" textLength="37.2" lengthAdjust="spacingAndGlyphs">θ</tspan> <tspan x="898.9" textLength="286.2" lengthAdjust="spacingAndGlyphs">(degree)</tspan></text>
<text class="sf" font-size="90"><tspan x="928.8" y="3385.0">(</tspan><tspan font-weight="bold" font-size="85" x="960.6" y="3383.0">b</tspan><tspan x="1004.8" y="3385.0">)</tspan></text>
</svg></body></html>
